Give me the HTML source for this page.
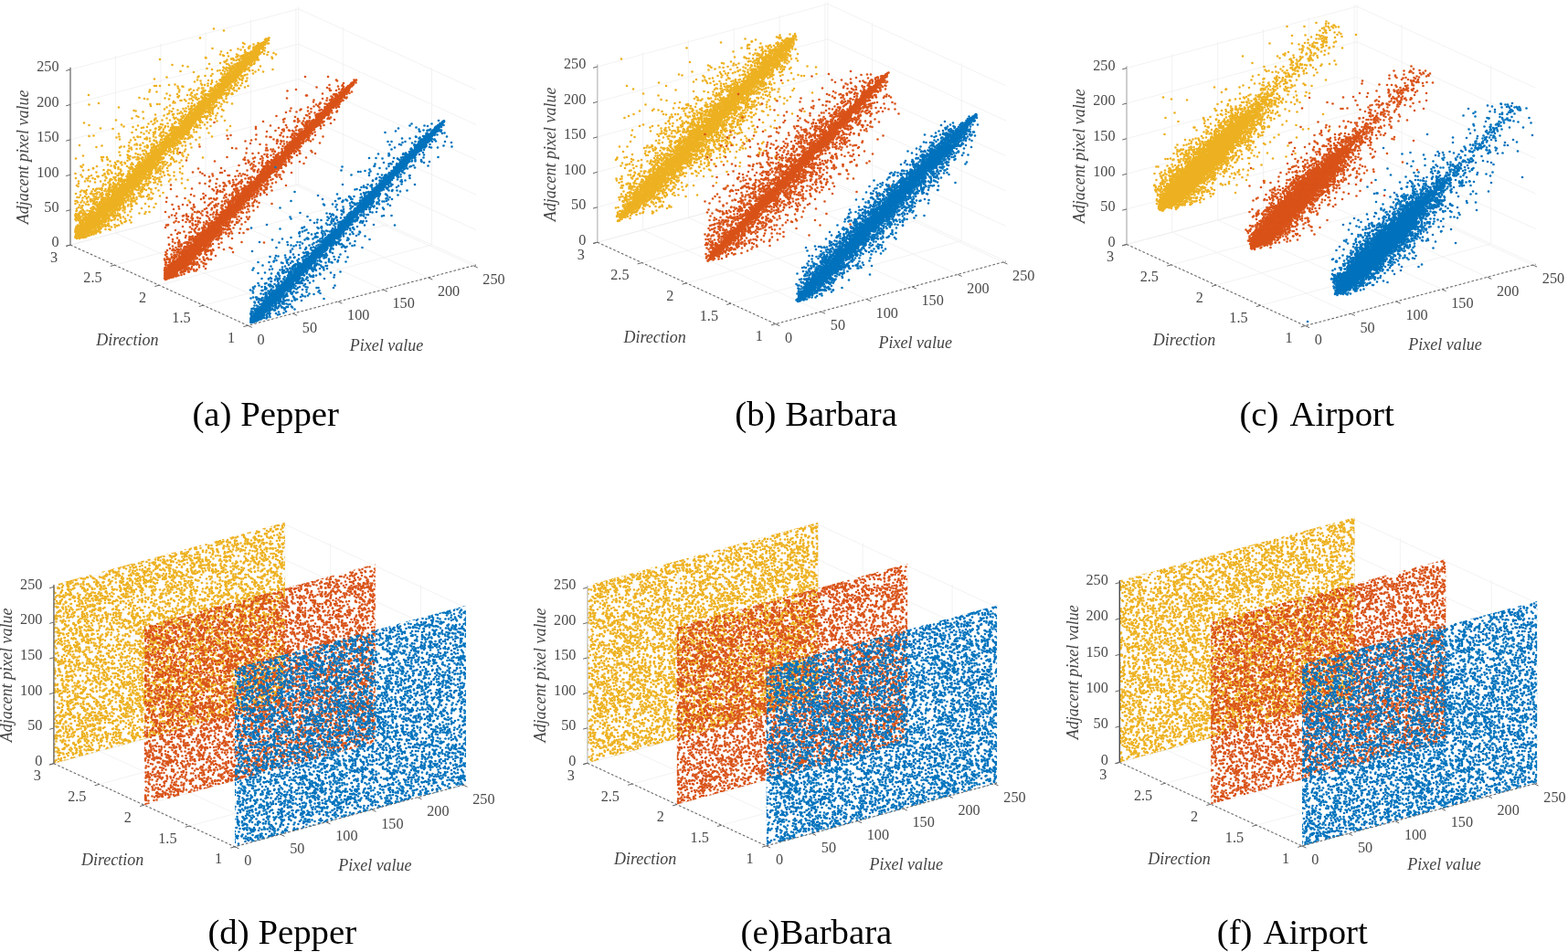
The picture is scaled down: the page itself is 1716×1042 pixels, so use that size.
<!DOCTYPE html><html><head><meta charset="utf-8"><title>Pixel correlation scatter plots</title><style>html,body{margin:0;padding:0;background:#fff}svg{display:block;filter:blur(0.4px)}</style></head><body><svg width="1716" height="1042" viewBox="0 0 1716 1042"><rect width="1716" height="1042" fill="#fff"/><defs><marker id="mb" markerUnits="userSpaceOnUse" markerWidth="6" markerHeight="6" refX="3" refY="3" overflow="visible"><circle cx="3" cy="3" r="2.60" fill="#0072BD"/></marker><marker id="mo" markerUnits="userSpaceOnUse" markerWidth="6" markerHeight="6" refX="3" refY="3" overflow="visible"><circle cx="3" cy="3" r="2.60" fill="#D95319"/></marker><marker id="my" markerUnits="userSpaceOnUse" markerWidth="6" markerHeight="6" refX="3" refY="3" overflow="visible"><circle cx="3" cy="3" r="2.60" fill="#EDB120"/></marker><pattern id="py" patternUnits="userSpaceOnUse" width="173" height="131"><path transform="translate(-3 -3) scale(.5)" fill="none" stroke="none" marker-start="url(#my)" marker-mid="url(#my)" marker-end="url(#my)" d="M9 3l2 3 3-2 14 6 6-2 1-2 5 4 12-1 4-5 4 6 2 1 3-4 2-1 3 3 5-3 4 0 0 4 1-2 2-3 0 4 1 2 3-6 1 6 10-3 5 0 2 2 0 1 3-3 1 3 1-5 5 3 1 0 3-7 6 6 2 0 2-5 9 0 3 8 2-3 4-5 1 0 11 5 2 0 5-4 3 1 2-2 0 1 7 2 2-2 1 5 4 2 4-5 3-2 2 7 2-5 1 1 3-1 0 5 8-4 2-1 1 5 5-3 1-4 0 6 3-3 1-4 1 7 2 1 2-3 4-2 2 0 3 0 2 4 1-7 1 3 5 2 1 2 3-1 14 0 2 2 2-9 1 1 3 3 2 0 10-2 1-1 4 0 1 8 1-9 7 7 4-4 12 4 5 2 1-4 1 4 7-7 0 1 5 3 1-4 7 3 7 4 3-1 7-7-6 16-4 4-2-6 0 1-2 4-3-8-2 1-11-1-1-2-7 2-9 0-6 8-3 0-3-7-4 4 0 4-1-7-3 4-6-3-5-4-2-1-5 1 0 3-5 5-7-9-4 0-1 6-1-3-1 1-5 0-2 0-8 0-9-4-2 5-1 1-1-1-4 0-5 4-3 0-2-2 0 4-4-2-2-9 0 8-4 3-2-2-3-5-7 2-1-2-1-3-4 4-1 2-1 4-1-10-3 8 0 1-5-10-8 6-1 0-5 5-5-8-1-2-1 2-4 4-7-7 0 4-1-1 0 2 0 1-4-1-2 0-1-5-5 5-1 1 0 1-3 0-12 2-1 2-7-1-7-6-1 3-4 4-4-3-1-3-6-3-1 1-1 1-1-3 0 5 0 2-2 3-10-9-1-2-5 1-7 4-1 5-7-10-10 5-1 6-1-5-2-2-2 3-3-2-3-4-4 0-5 1-8 5 3 9 2-3 0 5 1-4 0 8 6-7 3 5 4-8 2 11 3-1 1 0 5 0 5-5 0 5 1 1 6-8 1 2 2 4 4-2 1-1 4 0 2-3 0 8 1-11 1 8 2-5 1-2 2-1 6 0 4 7 8-2 3 1 0 3 9-9 1 4 0 6 5-5 3-2 2 4 1-4 0 6 1 1 3-6 3 6 6-6 0 5 1-1 2-8 5 0 2 2 2-1 2 9 2-2 2 2 4-9 0 1 1 3 6-4 0 10 1-6 0 2 7 0 0 3 3-8 2 3 2 2 9 0 4-1 5-1 2-5 2 11 2-11 3 1 0 3 0 4 2-3 4-4 5-1 0 10 5-2 1-1 3-7 0 8 1-2 2-1 6 2 2-4 0 5 1-4 2-1 0 3 0 3 6-5 3-2 17 4 2-1 6-5 0 6 1-5 1 0 1 6 4 1 9-2 5-5 7 3 8 5 2-6 0 1 3 4 5-4 5-2 3 5 0 1 4 0 5-8 9 2 5 9 1 0 3-1 11-6 2-3 0 5 1-4 0 8 0 6-1 1 0 6-5-9-3 6-1-4 0 1-1 0-1-3-1 0-7 6-1-6 0 3-4 2-2 2-7 1-1-8-8 8-4-2-1-6 0 2-1 1-1 2-1-2-1 6-4-1-1 0-1-6-1 6-1-9 0 5-1 2-5-7-1 3-1 0-16-2-1 5-1-4-2 6 0 1-1-9 0 2-5 1 0 6-1-8 0 6-1-7-4 1-1 4-6-1-5-1-2 4 0 1-3-8 0 5-1-5-1 1-6 5-8 0-4 2 0 2-1-3-4-5 0 4-5-1-1-6-1 6-2 3-7-3 0 5-1-9-4 6 0 3-2-7-2 6-1 1-1-10 0 4 0 3-9 2-7-10-2 8-1-5-1-2-1 10-2-6-2 5-5-5-2 3-1-7 0 1-7 1-1 6-6 2-2-3-3-8-1 9-2-8-2 6 0 1 0 1-3 1-3-2-8-5-1 4-5-5-2 1-2 7-3 0-6-3-5 1 0 1-3-9-11 1-2 1-2-2 0 6-1 3-1-8-6 6-5-7 0 1-6 3-6-2-3 2-1 7-1-5-1-6-6 8-1 3-9 0-3-9-3 8-3-3 0 2-3-5-1 1-2 3-1-1-1-3-1 1 0 6-5-9 6 12 3 8 5-10 1 10 1-4 2-5 5 6 3-6 0 4 5-4 3 0 0 7 3-5 1-2 1 8 2-1 2-1 2-5 0 4 2-2 6 0 0 1 2-1 3 6 5-4 3-2 3 4 6-7 2 4 4 1 2-2 2-4 0 9 5-4 2-2 2 3 1-6 4 8 3 2 8-4 0 3 1-2 1-1 1-6 2 5 2-4 5 1 1 1 3 6 1-7 0 1 9 4 3 4 1-3 1 1 1-4 4 3 4-8 4 0 0 7 20 2 1-3 0 5 3-8 1 6 3-7 1-2 5 4 1 4 3-4 1 7 2-4 2 1 9-2 2 2 1-7 6 3 1 2 1 0 6 2 1-5 0 2 0 4 1 0 1-2 2-6 1-1 6 0 2 4 0 5 1-8 10 5 1-5 3 9 1-10 3 5 3 1 4 5 2-8 1-3 4 5 4 3 1-2 2-2 2 3 1-1 4 1 0 2 3-1 1 2 6-8 2-2 0 2 1 1 0 4 2-5 6 9 2 0 3-11 0 7 0 1 1 0 4-2 2 3 1 1 2-5 2 6 3-6 2-2 2 2 1-5 1 4 5 1 16-3 1 12-3 0-3 9-3-3-1 2-5 0-2-3-1 0-1 3-3-5-2-3-5 2-2 0-2 4-3-6-6 7-1-9-4 2-1 2-3-1 0 1 0 2-2-1-3 0-1-5-4 10-2-3-3 0-1 3-1-9-3 10-5-3-1 0-2-5-2 3-1-6-2 10-3-9-2 7-4-7-2 0-6-1-4 11-1-4 0 1-3-8 0 3-6 8-7-4-6-1-4 1 0 4-2-10-14 4-2-5-2 10-3-4-1 2-3-7-2 7-4-3-6 4-1 0-4-1 0 1-2-9-6 4-1 1-1 0 0 6-3-11 0 1 0 1-6 9-5-6-3 2-1 0-2-3-1 0-1-2 0 9-17 0-4-1-2-7-4 2-1-3 0 4 0 2-5 0-2-8-1 3-7 1 0 4-2-8 0 9 0 1-9-4-3-5-1 3-1-3 0 4-12-3-2 4 0 4-2 0-2-2-1-8-4 6-2-6-1 11-1-7-1-3-4 2-1 8-1-10-2-1-2 7 0 2-1 0-1 0-3-8-1 7-4-3-4-5-3 3-1-3-9 7-2-4-4 4-1-7-3 3-1 6-2-9-1 2-3 0-3 9-2 9 6-6 3 2 4 0 3-4 5 4 1 0 0 6 2-5 1 4 2-1 3-5 5 8 1-2 13-6 5 1 2 3 1 0 3 4 4-2 1-3 1-5 1 10 1-5 1 3 6 2 7-10 4-1 0 7 3-5 0 8 3-2 2 2 4-9 6 10 2-7 3 3 1 2 2-5 1-4 2 3 1 6 4 1 2-9 0 7 1-1 6 0 1 2 2-7 1 3 1 5 3 0 4-8 1 9 2-11 0 2 10 8 2-7 3 3 2-4 2 8 7 1 1-6 1-4 0 2 0 1 0 5 7-9 0 6 1 3 0 1 1-5 1 6 7-8 4 2 4-3 1 2 4 0 2 0 1-3 1 10 2-8 8 2 4-1 16 7 1-9 4 6 2-6 5 0 0 7 4-6 9-1 2 4 17-6 9 5 1 3 6-4 1-1 5 4 0 4 4 0 1-7 1-3 3 8 1-7 3 9 3-7 0 4 5-6 1 2 2 6 5-7 0 8 8-8 1 0 1-2 5-1 0 8 6-6 2 16-1-1-3-1-1 2-2-6 0 5 0 2-1 3-1-6-5 3-3-5-2 8-2-8 0 5-2-2-2-3-2-2-2 9-1-9-2 6-2-2-5 0 0 4-2-3-5-5-21 4 0 1-4-5-4 0-1 4-5-1-9-2-2 9-1-5-6 2-8-5-8-1-1 1-2 3-8-4-3 3-1 3-2 4-2-2-1-1-1-8 0 8-7 3-2-11-2 11-2-9-2 8-6-5-1-3-1-2 0 11-1-9-1 1-1 3-5 1 0 3-3-6-1-4-4 3-1 0-8 8-3-2-1 0-1-9-1 2 0 9-3-2 0 1-8-6-3-4-4 8-1 0-2-7-5 9-4-7-2 1 0 7-10-6-2 6-1-5-6 4-2-3-7 1-1-4-2-2-2 7-12-5-1 6-3 1-1-6-8-1-1-1 0 3-1-5-3 6 0 4-5 0-1-10-5 0 0 1-5 5-1 0-3 4-11-3 0 1-10-1-4-5-1 7-1-9-1 4-4 3-2-8 0 7-4-4 0 4-2-3-1 2-1-1-3-1-1 2-2-6 0 5 0 2 1 13 0 1 4-1 4-7 0 1 0 9 4-3 1-4 0 4 2-3 2-4 1 10 2-3 8-2 5-5 1 5 1-5 4 2 3 6 6 1 2 0 1 1 9-3 6 1 3-2 1 2 7-6 9 8 1-9 2-1 2 6 1-2 0 3 2 3 1-4 0 3 1-9 3 3 2 6 7-9 1 6 5 0 5 3 2-6 1 2 3-4 3 7 2-3 3 3 1-7 2 1 1 2 0 6 6-2 1-6 5 0 2-1 2 5 15-1 2 1 1-2 1 6 3-2 0 1 6-10 1 4 4-2 4 4 1-1 2 2 2-6 0 3 0 2 0 1 1 1 2-7 2 1 2 5 5 0 4 2 9-2 1-5 1-2 0 3 3 7 2-10 5 2 8 9 5-11 12 1 1 0 3 4 2 5 0 1 4-8 0 1 4-4 1 0 5 7 0 3 5-5 0 1 3 1 12 3 2-8 4 2 2 6 3-7 0 7 1-7 1 0 0 2 4 4 1-1 16-4 1-1 0 2 4-4 1 2 0 4 1 1 3-6 0 5 1-2 1-2 3 5 0 1 4-1 0 5-1 7 0 1-4 0-3-1-1-4 0 2-2-2-3-1 0 2-3-1-3 5-1-9 0 7-2 3-1-7-4 4-3 3-1-1-1-3 0 4-3-2-4-3-2-2-5 7 0 1-1 0-5-10 0 7-1 0-4-7-1 8-3-8-2-1 0 7-2 4-3-11-1 1-5 4-1-4 0 4-3 4-5-9-2 8-1-8-1 8-2 1-2-9-1 4-7-3-1 7-1 0 0 3-6-10-1 0-3 1-3 5-2-3-1 2-5-2-5-4-2 4-1 3-4-4-2-1-1 6-3-7-1 0-11 5 0 5-2-6-4 0 0 5-14-2 0 3-1-6-1 2-1 1-3-7 0 3-1-4-2 2 0 3 0 6-2-7-2-4-5 7-2-2-1 3 0 1-1-8-4 0-2 4-2-3-3 2-1 4-1 2-2-1-2-9-13 7-3-4-4 2-1-2-6 5-2 3-3-5-1-5-1 8-2 2-1-8-3 4-6 2-1 0 0 1-1-5-3-3-1 2-3 1 0 4-3 0-2-8-4 7-1-6 0 8-1-1-1-4-2-1-3 0-1-4-3 3-2 1-2-1 0 3-3-1-3 1-1 3-1-1-2 0 0 2-1-6-4-3-8-1-1 5-1 3-3 0-4-1-1-3-3 4-5-2-3-4-1 1-2 4-7-6-1 7 0 1-4 0 4 4 11 9 1-7 2 5 1-7 9 7 3-8 4 9 2 1 13-8 2 2 8-4 1 1 0 10 11-1 1-4 10 0 3-1 4-3 6-2 0 7 5-2 2 2 2 3 1-6 2-1 0 7 2 0 9 0 1-6 5 3 4-2 2 6 12-1 3-8 3-2 3 7 1-2 1-5 1 2 1 0 1 7 5-7 2 7 5-8 4 0 4 2 1-1 6 1 2 1 1 5 1-8 1 7 2 2 9-6 4-1 13 3 2-5 2 2 2-1 0 9 1-8 0 8 13-5 0 1 4-7 0 6 0 5 4-9 9 0 1-1 2 9 7-1 5-4 2 3 5-6 11 4 3-4 7 4 3-4 1-1 1 2 4 2 2 0 0 2 1 3 1-2 0 3 1-9 1 9 1-6 4 1 1-4 2 0 1 6 0 2 1-8 2 0 1 4 0 5 7-10 4 0 0 6 1 0 3 0 2-5 1 2 7-3 1 16-2 3-6-1-1-7-5 7-10 0-7-5-1-1-3 10-1-7-5 6-4-4-7 0-6-1-1 2-4 4-2-10-4-1-1 10-1-7-1 0-3 0-5 0-2 6-1-8-1 3-4 6-10-6-3-3-1 10-1-8-2 1-4-2-9 5-1 1-2 1-1-9-4 8 0 2-4-1-3-3-3-4 0 2 0 4-1-7-2 2-5 6-7-2-1 4-2-4-2-1-1 4-1-7-2-1-14-1-2 9-2-7-1 7-1-1 0 2-3-8-2-1-2 3-3-4-6 7-6-8-3 11-1-5-6-4-1 6 0 2-7 1-5-4-1 3-2-5 0 1-2 2-7 0-3 2-3-2 0 1-3-1 0 3-1-1-5-6 0 1-5 1 0 2 0 2-3 1-2-9 0 7-1-9-7 9-8-1-5-5-1 4-2 1-2-4-1 2-2-4-7 2-1 0-8-4-2 3-6-3-5 8 0 1-4-6-2 5 0 3-7-9-10 2-3 1-2 3-2 5 0 9 6-4 1-6 2 4 4-1 1-3 2 9 1 2 1 0 4 0 1-8 2 7 2 1 3-5 1-3 0 6 10-9 0 3 1 6 7-7 1-2 0 5 2 5 8-6 2 6 2 0 1-7 2 3 2-6 15 1 0 4 6-1 3 0 1-2 0 6 13-2 6 2 6 0 10-8 0 2 1-1 0 7 1-6 2 4 1-6 1 1 2 4 3-4 1 3 3-4 2 9 1 1 5-10 1 10 1-4 2-5 1 10 2-10 1 1 4 5 3 4 1-2 2-6 1 3 3 2 2-4 0 2 1-1 6-2 4 6 0 1 5-7 0 2 5-3 0 3 1-1 3-1 0 1 2 0 1 2 2 5 1-6 0 3 4-5 2-1 0 7 4 0 5-8 2 10 2-3 0 3 3-8 3-1 1 4 2-3 5-1 6 2 2 2 2-1 2-1 13 1 2 3 2 3 4-6 2-1 0 2 2-3 6 0 3 2 1 4 5 2 3-11 1 8 1 2 12-3 6-3 0 4 3-4 1 3 2-2 3 0 1-3 1 3 3-2 0 7 1-3 3 0 2 3 4-3 2 1 2-7 1 0 0 1 2-1 0 9 5 9-1-3 0 7-1-7-7 2-2-4-4-2-12 7-2 1-1-6-8-1-2 7-3-1-2-6-2 2-2 5-1-8-5 8-1 2-3-6-4 0-5 2-2-6-5 1-2 8-2 0-1 0-1 1-1-1-1 1-1-10-1 11-2-5-3 2-2-6-6 0 0 2-5-2-1 1-6-1-1 2 0 5-2-8-3 4-5 3-3-3-8-1-1 4-2-6-2 7-1-9-4 8-6-1-9-6-2 6-4-1-2 1-3-3-1 5-4-6-1 2-3-4-1 6-7-2-3 5-3-2-3-4 0 6-3 1-6-1-3-9 0 2-11 8-2-4 0 1 0 1-1-5 0 1-8 5-1-3-1-4-3 0-5-1-1-2-4 7-1 4-7-4 0 3-5-8-5 9-3 0-1-7-1-4-2 4-1-4-8 0-1 3-2 2-3 5-3 1-4-10 0 3-8-4 0 10-13-2-1-8 0 1 0 5-1-5 0 5-1-5-3 9 0 1-3-9-1 7-1-2-5-2-2-3-3 4 0 5-1-7-2-2-5 3-3 6-1-4-2 0-1-3 0 7-1-7-2 12 0 1 1-2 1 7 1 1 2-11 2 9 3-9 0 5 4 3 2-7 1-1 2 1 3 0 5 5 0 1 3 1 1 3 1-11 3 8 2 0 1-7 1 5 2-2 11-3 0 1 1 0 1 7 1-7 4-1 0 4 0 1 0 3 2-5 2 3 1-5 0 6 5 3 1-5 4 1 7 4 1-7 5-1 0 7 5-6 0 5 14 1 8-10 3 9 3-5 1-2 6 5 5-1 5 1 9-5 0 8 1-2 0 1 1-9 1 7 0 3 3-1 3-1 3-1 1 2 1 2 4-7 3 3 10 0 13 1 2-6 1 0 6 1 1-2 7 6 1 4 2-1 6 0 1-5 2-4 5 10 1-10 3 4 1-5 0 6 0 1 3-7 2 10 1-6 1 3 8 2 4-7 4 0 1 7 2-7 4 2 0 4 3-1 8 3 1-7 9 7 2-4 0 3 3 1 1-7 0 7 8-9 8 0 1 7 0 3 1-4 4-3 3-2 0 3 1-3 0 8 2-10 6 7 9-6 6 0 7 4 0 3 0 1 1-3 3-2 0 1 1-2 1 7 1 1-2 1 0 4-6-1 0 7-1-1-3 0-3 1-6-7 0 8-2-8-4 5-7-6-1 5-1-6-2 5-1 5-1-11-3 4-1 7-6-7-3 2-1-6-3 8-1-2-4-5-1 0-1 7-3 2-4-1-5-7 0 7-6-3 0 4-4-6-4-2-7-2-5 10-2-3-4-5-2 0-1 2-1-3 0 1-3 3-2 1-1-3-1 0-2-1-5 5-2 2-4-7-2 9-2-3-1 1-1-5-2-1 0 2-1-4-3-1-1 7-6-2-1 1-2-3-2-3 0 5-3 3-1 2-1 1-6-4-8 2-1-1-1-1 0 4-8 0-5-5-1-2-6 2-2-1 0 3-4-4-6 3-3-5 0 2-2 1-13-4-7 7-3-4-1 7-2-7-1 2-2-4 0 1 0 2-7 2-1-4 0 3-4 2 0 3-2-10 0 1-1 1-1-2 0 3 0 2-4 2-1-8 0 10-4-10-2 11-2 0-1-6-1 6-2-6-1-4 0 2-7 7-1-7-5 1-2-2-2 4-1 0-2 1-4 0-2-2-4 5-3-8-5 5 0 1-4-2-1 2-1-4-6 1-1 0-4 6-1-4-1 2-1-6 0 4-1 4-1-8-1 6-5-4-5-5 0 4-4 15 0 1 0 2 1 0 2-4 0 3 3-5 1-2 1 1 7 8 7-10 0 7 4-4 1-1 0 6 1-6 1 6 2 1 1-7 0 1 13 4 5-6 1 0 5 4 0 2 4-7 2 0 13 3 1 7 2-3 2 0 2-7 1 5 1-4 10 2 0 3 3 1 1-4 2-1 0 8 1-1 3-7 2 7 2-7 4 0 1-1 0 7 2-9 1 4 1 5 5-7 2-1 0 4 1-2 4 1 1-2 11-2 0 4 2 3 0 3 3-1 2 0 1-6 1 0 3 2 10 2 5-2 1 6 3-6 0 1 1-6 1 8 2-1 0 2 3-4 8 3 5 2 10-7 3-2 2 10 7-2 1-3 6-5 2 2 0 6 1-9 6 1 2 0 3 3 2 7 11-8 4 7 6-8 0 1 3-1 0 4 3 3 1 2 3-4 4-5 1-2 1 0 0 6 0 1 1 0 0 2 2-6 1 0 2 8 2-8 1-3 2 3 1-1 3 6 1-8 3 1 1 4 2 4 2-7 2 6 2-1 8-1 5-2 7 4 8 3 1-7 0 7 9-11 2 2 4 2 0 3 0 1 0 2 1 0 2-4 0 3 3-5 1-2 1 11-5 9-4 0-1-10-4 3-4 4-1 4-3-6-5-5 0 4-3 2 0 1-1-2 0 1-2 2-1-4 0 6-2-3-2-7-1 3-5-2-3 9-3-9 0 8-1 1-3-6-3 6-2-7 0 5-1-1-4 4-1-10-2 4-14 5-9-5 0 6-4-4 0 3-1-1-3-3-1 1-3 0-1-3-1-4-4 3-2 3 0 5-1-7-6 7-4-10-1 2-1 0-2 2-6-2-7 2 0 1-8 0-3-2-3-2-12 0-1-1-2 4-1-3 0 4-2 3-1 1-1-2-1-8-1 10-6 1-5-10 0 10-4-6-1 4-1-5-7 2-4-5 0 7-5-6 0 4-2 0-2-1-3 4-3 1-1-6-4 1-1-3-1-2 0 7-4-2-2 3-1-8 0 1 0 1-1 2-6-1-1-2-7 2-5 4-1-3-7 1-1 0-3 1-1 2-4-5 0 7-1-1-2-4 0 4-2 1-2-2-1-3-1-3-7 4-2-6 0 3-1 0 0 8-11-3-1 0-3-2-3-1-4 3 0 3-2-4-1-4-3 2 0 3-2-7-7 4-1-4 0 3 0 6-7 0-3-7-2-2-1 9-5-8-3-1-5 9-1 3 3 5 1-2 1-3 1 4 5-3 1 8 1-1 1-2 0 1 1 1 1 1 1-6 2-2 0 5 0 2 7-5 2 2 1 0 3-4 1 3 1 6 1-10 0 1 2 6 1-3 1 1 4-4 5 1 4 2 1 4 1-6 1 1 1-4 2 1 1 8 4-7 5 3 4 1 2-1 3 1 7 5 10-5 3-6 11 9 6-5 2 6 3-6 0 3 13-7 0 4 5 2 1 5 12-5 4-3 0 1 9 7 3-8 0 6 1-6 1 4 4-3 0 3 1-2 3 1 4 2 4 1 4 0 4-3 1-6 1 0 0 6 5-6 2 4 4 3 1 1 3 1 11-4 4 1 4 2 1-4 2 5 1-6 2-1 1 1 2-3 4 11 8-5 6-3 0 6 2-7 5 1 2-1 4 6 1-4 1 7 2-3 9 1 3-7 2 6 2 2 1-9 0 1 9 7 2-8 1 10 3-10 0 7 4-4 1 2 0 1 0 4 5-7 2 2 1 5 1-1 1-8 6 0 2-2 1 0 4 5 0 6 3 0 3-4 2 1 3 2 3-9 3 5 1-2 1-3-4 11-1 6-4 2-3-2-1-1-5-2-1 1-3-3-2 2-1 0-2 0-2-3 0 1-1 5-3-2-1 3-1-7-7 1-2 6 0 2-3-7-2-1 0 8-1-7-3 5-6-4 0 3 0 5-3-11-3 1-1 10-3-3-1-3-2 3 0 2-3 1-4-8 0 7-3-4-1-1-1-2-2-1 0 3-9 0-9-3-3 2-1 4-1 0-2-7-1 10-10-7-1 1-1 0-5 6-2 0-3-6 0 1-2-1-1-2-1-3 0 6 0 3 0 1-5-6-12 5-1 0-3 0-7-6 0 7-1-4-5 3-6 0-1-2-3-7-1 0 0 8-1 2-6-5-2-5-2 3 0 4-1-6-1 7-3-4-2 2 0 5-1-8 0 2 0 5-6-8-6-1 0 7-5 1-5-4-6-2-2 4-10 0-11-1-7-5-3 0-4-1-6 6-2 4-1-9-1 4-1 4-2 2-2-9-2 4-4-4-1 7-1-1-1-6-1 9-7-2-1-4-3-1-2 7-2 0-4-5-4-3-4-3 0 9-3-2-5 4-1-8-3 2-1 5-18-10-1 6 6 15 7 2 3-3 5-5 2 5 3-6 0 1 1 8 3-6 0 3 3-6 0 7 1-5 4-4 0 3 3 0 3 4 1-7 3 7 3 4 1 0 1-1 1-5 5 6 1-2 0 1 2-9 3 4 7-3 2 2 1 6 4-7 1 5 2 3 4-1 1 1 1-8 12 4 7-1 2-3 1 1 4 4 4-1 1-4 0 2 1 1 9-2 0 2 3 0 6-2 0 6 0 1 2-11 10 2 0 6 2-7 0 2 0 7 1-2 5 1 4-2 1-7 0 6 2-1 14-3 3 4 1-2 3 2 0 5 2-2 5 1 1-2 4-6 1-1 4 4 1 3 5-1 6-5 6 5 2-5 0 7 1-5 4 3 1-6 1 6 1-6 3 5 13-3 1 5 2 1 1 0 2-1 5 1 6-9 0 3 1 8 1-6 1 3 7-2 0 2 2 0 1 2 1-3 1-1 2-2 1-2 3 5 2-4 1 3 2-1 0 5 2 0 3 0 0 1 5-3 5-6 3 2 1-1 0 8 1-11 2 5 0 3 2-2 0 3 1 1 6-10 1 2 7 1 2-1 1-1 2 3 0 7 3-10 1 8 3-6 0 8 2-3 9 1-12 11-3-3-1-4 0 3-2 5-15-2-6-4-1-1 0 7-1-7-8 8-7-8-2 5-3-5-4 1-5-2-1 6-3-7 0 5-1 4-1 2-4-5 0 5-3-3-1 0-2-8-15 6-4-3-2 8-3-5-4 5-2-6-1-3-1-2-1 2-6 9-1-1-2-5-2 4 0 1-1-5-2-3-2 4-4 5-1-1-2-6 0 6-1 1-3-8-3 0-1 7-2-4 0 1-1 2-2-2 0 4-4-6-3 4-1-8-12 7-2 2-1 1-2-6-9 6-5-3-1-3-1-1-1-3 0 8-1-1-3-1-1 0-4-3 0 5-5 0-5-7-1 2 0 7-4-2-4 1-4-6-3-4 0 3 0 2-5-5 0 5-3 6-1-3 0 3-5-7-2-1-5-2-5 7-8-8-1 0-1 5-1-5-7 9-1-5-2-3 0 5-14 2-4-5 0 4 0 1-4-3-5 6-2 0-2-9 0 9-5-7-8-2-3 3-1 0-2-5-3 9-1-4-6 1-2-1-2 5-1-4-1 5-2 2 2 3 3-2 20 4 1-2 17 3 4-5 9 3 2-1 3 3 4-7 1 4 4 0 1 2 2-3 0 4 4-4 11 3 5 0 5 0 2-2 5 3 1 0 3-7 6 6 2 0 2-5 9 0 5 5 1-6 3 1 1 0 11 5 2 0 5-4 3 1 2-2 0 1 7 2 2-2 1 5 8-3 3-2 4 2 1 1 3-1 3-4 5 5 2-1 6 2 1-4 0 6 3-3 1-4 1 7 4-2 4-2 2 0 3 0 2-4 0 8 1-7 1 3 3-4 2 6 1 2 3-1 5-7 9 7 4-7 1 1 3 3 2 0 6-4 4 2 1-2 0 1 4 0 2-1 5 0 2 7 4-4 8-3 4 7 6-2 8-3 0 1 5 3 1-4 7 3 10 3 7-7"/></pattern><pattern id="po" patternUnits="userSpaceOnUse" width="173" height="131"><path transform="translate(-3 -3) scale(.5)" fill="none" stroke="none" marker-start="url(#mo)" marker-mid="url(#mo)" marker-end="url(#mo)" d="M4 11l23-9 2 8 3 0 5-4 1-2 5 6 7-4 5 3 3-5 5-2 6 2 23 7 2-7 5-1 3 4 2-3 2 3 0 1 4 2 4-7 9 5 1 3 3 0 3-7 0 6 1 1 5-4 4 1 0 3 3-7 4 4 1 0 3-3 1-2 2 6 1-2 1-4 1 6 1-4 0 5 2-3 7 1 2 2 3-4 3-1 3 2 4 4 23-3 2-5 11-1 2 3 0 5 2-8 3 4 0 5 4-3 3-1 4-1 2-3 1 5 0 3 4-7 6 5 2 0 5-3 5 5 13-6 4-2 1 1 2 5 2 2 4-4 0 4 1-8 12 0 1 0 0 4 10-3 4-1 1 3 5-2 4 3 4-3 8 1 1-3 2 8 3 0 0 1 3-8 1 7 3 1 5 7-5-3-1-2 0 5-1-3-1 6-2-6-15 1-4-4-6 6-1-4-2 7-1-3-4-4-7 3-4 0-2-3-1-2-7 11-2-7-1-3 0 8 0 1-1-1-2 0-2-3-5-2-1 5-4-4-5-5-6 8-1-7 0 7-9-6-2-1-1-1-1 3-6 2 0 1-4-1-1-4-2 6-1-2-1 5 0 1-1 0-2-4-9-7-6 1-2 3-1 1 0 1-1-5 0 9-1-2-6 3-8-11-1 11-1-11 0 4-1 4-2 3-1 0-4-3-4 1-6-1-7-8-4 4-3 3 0 3-1 1-2-10-4 6-1 4-3-11-1 0 0 2-3 1-10 6-1 1-2-3-2-7-2 2-7 2-1-3 0 3-1-4-2 5-2 4-4-2-1-6-3-1-2 7-1 1-4 3-1-8-7-1-2-1-14-1-3 7-3-6-5 9-2 1-1-9-4-2-2 1 0 9-5 0-2-5-1 0-1-5-1 7 0 2-2-3-8-2 0 3 0 2-1 0-2-9-6 0-1 2 0 5-1-3-2-1-6 3-5 0-4 4-1-4-5-3-1-2 0 5-1 6 1 11 4-7 0 1 2 2 0 3 1-5 1 3 2-8 0 9 7-9 0 3 2 7 0 1 3-2 7-8 2 8 8-6 0 1 2 7 1-1 6-2 3 0 2-2 0 4 1-1 2-6 1 8 2-8 12 6 4-8 0 6 2 0 0 4 4-3 2 1 3-5 10 0 1 6 0 1 1-10 4 3 2 4 2-1 1-2 2-2 0 3 1 0 1 0 5 5 2-7 2 5 0 1 6-9 0 9 1-8 2 2 1 2 2-4 3-1 1 4 1-1 0 6 1-7 2-2 1 2 1 8 9-7 4 1 0 1 5-6 5 11 3-4 3-6 5 6 0 3 4-3 0 4 2-2 6 2 1-11 7 5 1-3 7-2 4 3 0 2 1 0 8 4 1-7 4 6 2-2 1-2 1 1 2-5 2 0 2 0 0 6 1-2 4 1 4 0 5 4 1-8 2 1 0 3 3 2 10 3 1-3 6-6 5 0 0 7 0 1 4-9 0 5 4-4 1 6 1-6 3 8 1-8 1 0 8 10 12-5 0 2 1-6 0 2 0 2 3-3 0 5 0 3 1-1 2-2 3-5 6 0 0 6 7 0 4-3 1 2 1-5 0 1 5 5 2-9 1 11 4-7 0 1 2 2 0 3 1 13-1-10-7 0-4 7-4 0-2-1-10-5 0 4 0 3-1 2-3-3-1-8 0 5-5-5-2 9-2-3-1 1-1-1-1-1-1 4-2 2-6-9-8 0 0 6-1-3-7 5-8-7-3 5-5-7-1 1 0 9-1-2-1-3-2-6 0 3 0 8-4-9-1 2 0 1-8-5-6 9-9 0-9 1-2-10-1 8-2-7-1 5-3-6-1 2-9 0 0 4-2 2-2 2-8-2-3-2-1 4-2 0-3-1-1-4 0 2-19 3-1-3-1-2 0 4 0 2-1-7 0 2-1-4-1 2-2 0-1 4-4-2-1-5-6 10-11-5-7-3-1 6 0 1-9-2-4-7 0 9-2 0-1-1-1 2-6-7 0 4-1-3-1 2-3 2-1-4 0 2-1-7-6 7-1 3-12-7-2 4-1-6-1 4 0 1-2-6-3 7-3-3 0 1-5 4-4 1-1-2-1 1-2 1-1-6 0 3-3 3-2-4-1 2-1 2-4-8-2 4-6 0-4-5-1 6-5 0-10 1-3-2-2 4-1 1-1-10-7 0 9 15 4-4 0 2 0 1 3 2 1 3 1 0 1-2 2 5 6-2 0 2 1-1 3 0 2-7 1 1 0 6 1-10 4 1 10 1 4 2 1 5 6 0 0 2 1-5 11-6 6 10 3-6 3 6 4-8 0 3 3 5 2-5 2 6 1-4 6-7 3 7 1-3 1-1 8-1 0 3 9 5 3-2 3-6 5 3 1 1 3 5 8 0 1-4 1 0 0 2 1-7 3 8 5 0 2 0 6 0 1 0 3-5 7 2 1-7 7 8 0 3 2-7 1-1 1 4 7-6 10 1 0 7 1-8 6 0 12 9 2-7 2 7 4-4 1-6 1 6 4 2 6 2 2-8 0 2 2-3 1-1 1 0 6 4 1 4 0 1 7-5 1 0 0 1 1-2 2-2 4 1 5 9 6-5 0 2 0 3 6-1 3-6 3 2 0 5 4-4 5 4 2-3 2-5 1 0 1-3 1 0 3 6 11 5 4-3 1 1 3-9 5 7 4-1 9 14-4-7-2 7-2-2-5 1-4 2-1 1-1-7 0 3-1 1-6-5-4 1-1-2-1 10-3-7-1-4-2 4-1 6-2 1-1-11-1 11-4-5-10-5-1 0 0 10-1-11-7 4 0 5-5-6-4-2-3 2-2-3 0 7-4-2-3-3-6-1 0 9-2-4 0 2-6-1 0 3-1-2-7 1-4-9-1 1-2 9-3-4-2-1-5 6-8-11 0 1-1 8-2-4-3-1-1-4-3 8-1-7 0 3-1 1-6 2-1 0-2-1-1 1-2 0-6-1-2 3-4-6 0 2-1 4-1 2-9-8-2 3-7 5-5-5-2-3-3-2 0 2 0 2-1 2-2-1-2-6-2 1-1 1-5 3-1 0 0 5-2-2-2-5-3 6-5 1-3-7-5 7-1-10-6 10-3-7 0 8-1-1 0 1-5-2-3-4 0 3-1-1-2 2-1 2-2-11-2 2-2 5-9 4-8-6-3-5 0 6-1-1-1-4-2 5-1-5 0 10-1-4-2-4-1 3-7 4-2-4 0 3-4-6-3 6 0 1-3 1-2-3-1-3 0 1 0 5-2-6-3 6-4-1-2-7-1-2-1 2-4 1-3 5-6 2-1-3-5 0-4-7 5 14 0 6 1-3 1 1 2-4 9 3 6 2 9-4 4 5 3-3 1 0 0 4 9-10 0 2 3 5 8 0 6 4 2-9 1 7 0 2 3-2 2 2 1-9 0 3 3-4 2 3 8 1 2 3 0 3 2 0 3-7 2-4 4 11 1-2 1-9 1 4 5-4 5 11 10-6 4-1 0 6 3-1 2-8 6 1 2 7 2-6 4 7 1-5 4-1 1 5 4-9 3 1 1 8 1-6 6 0 1 6 4 0 2 0 1 2 3-3 2-4 2-2 5 5 1-6 0 10 4-8 9 3 4-2 4 4 4-3 6-2 3 4 2 4 3-4 2-4 2 0 3 0 1 6 2-2 1 3 2-7 3-3 1 9 4-2 2 1 5-8 1 0 1 11 1-2 2 0 4-5 3 0 2 4 6 0 2-2 4-2 0 1 9 4 4-8 0 6 2-6 0 1 1 6 0 2 1 1 6 0 3 0 3-3 6-5 2 1 1 1 2 4 5-4 0 4 4-1 1-6 0 3 3 6 2-10 2 4 4 1 7-3 0 6 1-3-3 15-1 0-2 1-1-3-4 2 0 2-2-2-2-7 0 3-1 6-6-8 0 1-1 4-3-2-1-5-1 4-1-5-1 0-1 10-2-10-14 10-1 0-2-5-1-3-6-2-9 6-2-1-3-4-3 5-1 1-1-6-2 2-1 2-1 5-3-10-2 6-5-6-2 0-2 6-16 4-2-5-1 3-1-7-1-1-1 8-2 0-1-3-2 2-4 4-3-8-5-1-2 8-3 0 0 1-1-4-4 2-9-3 0 3-1 2-1-8-3 7-6 0-2-7-1 7-2-7-2-3-8 10-2-7-8 5-2 2-8-2-3-6-13 8-1-3-2-5 0 5-2-3-1 0-4-4 0 1-1-1-2 9-7 2-3-4-1-2-2 3-11-5-1 1 0 4-4-6 0 1-2 2-1-5 0 1 0 2 0 8-2-6-4-3-10 5-2 1-2-8 0 11-1-6-8 5-1-6 0 6-8-5-9-3 0 4-1-2-4-4-2 7-10-1-2 5-1-3-1-4-2-1-1 0 0 6-2-2-2-6-8-1 0 2 0 2-2 7-2-2 0 1-3-1-1 0-2 1-1-3 2 12 2 0 2 0 6 4 1-2 1-6 1 2 3-1 2 5 2-3 1-1 0 5 2-4 0 4 3-8 1 3 1 2 0 1 1-4 1-3 3 3 1 2 1-2 3-3 1 0 2 9 1-7 1 4 8 1 2 2 1-6 4 1 7-1 1 7 1-2 4 2 1-8 5-2 0 9 4-10 0 4 1 0 0 7 9-9 6-2 4 0 6 7 1-7 0 6 2-5 4 3 1 1 2 6 1-4 2 1 2-4 4 0 1 6 15-9 1 8 4 0 3-3 0 4 5-6 0 4 6-3 0 2 2 4 6-8 8-1 0 9 11-10 1 6 2-6 1 4 4-1 0 5 1-9 3 2 2 9 2-9 1 2 1 1 4 5 2 1 2-6 3-2 0 4 0 1 0 3 2-9 0 1 0 2 0 6 1-11 3 11 3-10 1 4 2-2 0 2 3 4 7-3 1-3 2 8 6-8 2 7 1 0 1-7 1 7 2 0 1-9 0 8 1-7 2-1 6 9 7-10 1 1 2 4 2 3 3-2 6-1 6-5 0 4 3 3 6 2 6 0 1-9 0 2 1-2 0 10 5-6 4-4 1 3 6 4 1-5 5 8 3-10 1 11 3-9 8 5 2 0 2 0 1 11-9-1-3 4-2 0-1 2-10-7-5-1-1 4-12-5 0 3 0 4-1-4-2-2-8-1-1 8-3 1-3-7-3-3-1 2-1 0 0 5-2 3-5 0-1-3-3-6-1 1 0 7-4-6 0 2-2 2-1 3-8-5-1 0-10 2 0 1-7-7-12-1 0 9-4-7-3 1-3-2 0 7-3-1-8 3-2-10-6 7-1-7-4 10-3-4-6-6-3 5-1-2-4-3-4 10-3-9-3-2 0 4-2-1-12 3-2 2-1-6 0 7-3 0-3-4-3 2-4-4 0 6-2-8 0 2-4 8-1-11-2 6-3 5-2-11 0 11-8-5 0 5-1-5-1-3-1 4-6 4-5-11-3 4 0 3-2 4-1-7-2 3-5 3-3-1-9-1-7-5-7-2 0 4 0 5-3-5-3 0-1-3-7 6-4-6-9 9-4-8 0 7-8-9-5 10-1-8-4-2 0 7-4-1-4-1-5 11 1-3 0 3 2 1 1 2 4-2 2-6 4 6 17-4 2 0 1 0 1 1 4 6 5-4 8-1 1 6 3-8 0 3 1-3 5 8 1-5 10 2 5 0 3-6 9 10 3-5 3 0 2-5 0 10 2-6 1-4 0 5 0 3 1 1 9-6 1-3 5 0 4 9 2-4 2-5 9 8 4 1 2 0 2-1 4-3 1-1 3-3 3 1 0 1 1 3 1-4 4-3 1 7 2-7 0 7 2 4 4-7 2 5 3 1 3-4 2-4 0 2 1-1 3-1 4 1 2 2 3 4 5-5 3-3 1-1 1 1 0 9 0 1 1-9 0 9 3-7 0 2 0 1 2 0 2 3 2 0 5 0 1-9 1 6 4-7 2 9 6-8 3-1 9 7 5 2 0 1 4-9 9 6 3-6 0 1 3 0 6 4 2 2 4-6 2 4 1 1 2-4 2-1 0 3 0 6 1-4 1-4 0 4 1-1 2-6 0 3 0 1 0 7 2-10 5 6 3-1 1 0 2 5 7-4 10-2 2 6 3-7 0 4 5 0 3 3 2-7 3 6 4-1 4-4 1-3 0 3 2 1 1 2 0 8-3-3-1 7-4-6-2 0-6 7-5-5-1 0 0 5-1-8-2 0-1 0 0 2-3-3 0 2-1 3-6 2-6-4 0 3-4 5-1-9-2 9-11-1-2-3-3-1-1 4-2-7-9 4-12-5-2 1-2 0 0 1-1 0-1 0 0 3 0 3-2-3-5-1-4-2-2 5-3-1-5-5-2 4-4 1 0 3-3-11 0 1-5 8-1 2-10-8 0 8-4-10 0 5-11-1-1 4-1-6-3-1-1 0-1 1-2-1 0 1 0 2-3-2 0 5-1 2-2-5 0 1-1 1-2 0-1-5-2 0 0 7-1-8-1-1 0 2 0 9-1-2-3-9-1 1-3 2 0 8-1-2-1-8 0 7 0 1 0 2-4-11-2 6 0 2-3 3-3-1-4-7-3 4-2-5 0 3-3-4 0 10-4-11 0 10-2 1-5-1-7 1-3-5-5-3-1 4-2-1 0 4-6-5-4 5-1-3 0 2-4-2-1 0-2-5-6 3-1-5-5 10-1-3-2 1 0 3-3 0-2 0-6-2-1 2-3-9 0 4-5-3-5-1-1 1-3 4-4 0-5-7-2 4-3 6-3-5-1-3-7 1 0 4-1-7-9 4-2 3-2-2-2-4-1 3-3-3-1 7-2 4 0 7 7 1 9-6 0 8 0 1 1-6 2-5 2 0 10 9 0 2 2-8 5 4 0 1 1-5 3 4 0 2 1-8 4 9 7-7 0 6 4-1 1-1 0 2 1-4 13-5 0 6 1-1 1-4 0 5 4 5 7-1 10 0 6-9 0 7 2-5 0 5 1-8 0 6 4-4 2 7 5-4 2 5 3-10 1 4 1 1 4-5 1 0 1 6 6 0 2 1 8-3 7-4 1 5 2-2 0 4 1-7 3 8 3-3 0 5 2-3 0 3 2-1 4-4 0 5 2 1 1-2 1-2 13 3 6-5 1 1 1 0 1 4 2-10 4 3 2-2 0 9 4-6 4 6 4-3 5-1 6-1 0 4 1 1 1-3 3 2 1-9 6 10 9-7 0 2 1 1 1-6 6 8 1 1 1 1 2-6 0 5 5-3 6 1 1-5 3 8 4 1 2-6 0 3 1 2 9-7 0 7 10-10 4 3 0 5 2 0 1-4 0 6 2-6 1 7 3-2 1-2 7-6 6 1 1 4 2 1 9 2 6-9 0 7 4 11-1-3-5 0-3 4-4-4 0 4-1-7-8 11-1-6-4-3 0 7-5-2-5-2-4-3-1 6 0 1-2-5-1-4-4 2-1 9-2-10-1 9-1-8 0 3-5-4 0 4 0 2-3-2 0 4-5-2-3 2-6-6-10 5-4 3-4-2-10-9 0 11-2-11 0 4-2 1-2-1-1-1-1 2-2-4-4 7-9-4-2 2-5-5-2 1-1 2-1 7-2 0-5-6-1 4-2 2-1 0-1-8-3 7-7-3-6-5-2 4-4-6-3 2-1 7-2-3-5-4-5 1-1 5-2-7 0 9-2-6-1-2 0 5 0 3-1-10-2 0 0 8-2-8-2 10-1-7 0 8-4-3-5 0-6-5 0 7-2-7-8 3-1-5-3 7-2-7-1 0-3 1-2 2-2 2-2-2 0 1-2-1-8 6-1-6-1-2 0 2-6-1 0 6-3-8-3 2 0 8-1-2-6-2-3 4-8-4-6-4 0 4-2 4-4-1-3-4-2 4-2-4-1 4-3-4-1 2-2-4-3 2-1-5-3 10-1-9-2 9-1-5-2-2-4 4-9 2-2-10-3 6-4 0-1-3-4 17 2-8 0 7 1-5 0 9 3-7 0 6 2-5 3 0 0 4 1-1 1-3 0 4 1-4 0 5 2-9 3 1 1-1 0 5 1-3 4 1 2 2 2 4 3-5 6 1 1-6 1 9 3-2 4-2 1-3 0 4 0 1 4 4 14-5 0 5 6-11 0 8 4-6 4 1 3 7 5-9 1 9 4-10 2 5 2 3 2-5 4-3 1 0 2 5 5-4 1 10 2-5 1 0 3 5 5 0 3-4 0 4 1-9 11 8 1 1 3-11 0 7 10-4 0 7 4-2 3-6 1 6 6 0 9-1 1 1 3 1 3-4 4-3 3 1 0 3 1-5 4 3 8 0 3-3 1 7 1-4 2 4 1 0 5-1 0 1 1-7 1 3 6-4 2 3 5 0 3-3 0 11 4-3 4-7 0 2 1 1 0 6 1 0 4 1 1 0 6-1 1-9 1 7 2 0 0 2 1-7 0 1 0 5 2 0 1 1 4-8 3 5 5-5 4-1 2 0 3 7 2-1 1-3 12-1 3-2 5 3 2 5 4 0 1-7 0 8 6-2 0 3 3-4 1 3 5-3 9 2 5 2 4-9 0 6 2-8 0 7 1-5 0 9 3-7 0 6 2-5-7 12-6 1-12 1-5-1-1-5 0 1-1 3-1-4-2 1-9 5-3-7 0 8-4-5-3 4-1-6-1 10-1-7-5 7-2-3-2 1-2-6-1 3-5 3-6-6-1-1-3 0-1 1-2-3-2 1-7 5-1 2-3-4-4 3-1-4 0 5-1-1-7-1 0 3-11-5 0 4-1-2 0 5-1-11-4 2-3 8-5-10-1 5-1-2 0 5 0 1-4-2-5-7 0 9-3 0-3-6-7 5-7 1-1-1-14-5 0 1-10-1 0 3-4-3-3 6-4-1-3 2-3-1-1-6-3 0 0 3-1-4-5 7-1-4-3-4-2 8-1-9 0 7-3 4-6-5-1 0-2-2-1 2-1 0-3-4 0 8-4-7 0 8-1-3-1-5-1 5 0 2-1 1-5-7-1 1-15-1 0 6-2-4-1-3 0 3-3-3-1 8-1-6-1 4-9-8-3 2 0 7-1-10-7 10-2-9-1 1 0 5-2 0-1 0-10 1-7-8 0 5-1-4-1 8-1-3 0 2-4 1-4 2-16-6 0 11 3 4 6 0 4 0 13-3 0 3 9 0 1 2 10-2 3-7 0 9 2-4 7-5 0 1 3-2 1 0 7 8 3-8 0 6 6 2 8-7 2 1 2 3 2 3 4 1 4-9 4 2 2 0 1 4 2-4 1 5 1-2 0 2 1-6 2 4 0 2 6 0 11 4 3-10 5 2 3-3 6 4 0 7 2 0 4-1 6-1 2-1 3-1 1 3 4 1 9-10 2 1 0 2 0 5 1-2 5 1 0 2 0 1 3-2 2 2 2-9 3 5 2-7 1 1 5 6 4 0 1 4 1-9 8 9 4-9 1 5 0 3 1-5 0 5 4-5 1-3 1 5 0 2 1-2 2-7 1 2 0 8 3 0 5-1 2-3 11 1 4-7 6 0 3 10 3 0 1-6 3 6 3-6 3-3 4 4 4 0 7 0 3 1 4-5 1 3 0 2 4-1 3 3 1-5 0 3 1-3 6 1 2 2 1-4 0 1 1-1 4-1 0 4 5 1 0 4 2-5 11-1 3 4 0 7-1 6-2-5-2 7-1-10-2 6-6-3-5-4 0 4-2 6-1-9-7 6-5 3-1-2-1 3-4-8-2-1 0 9-10-8-3-3-6 0-1 5-3 0-4 2-10 2-5-4 0 3-1-7 0 8-10-5-8 0-3 0 0 4-2-5-2 0-1 3-4 2-2-5-1 3-6-5-1 2-2-2-5 1-2 4-5 2 0 1-14-7-1-1-1 0-1 5-4 5-2 0-1-8-1-2-5 3-4 7-2-11-2 6-1 4-2-5-7 2 0 1-7-8-3 7-5 1-3-5 0 8-3-3 0 3-4-3-1 2-1-5 0 1-2-4-3 5-6-3-2 1-11 1-1-2-6-4-1 8-2-1-3-5-7 8-1 0-4-9-3 6-2 2-3-2-1-7-13 2-4 1-1 3-4-6-1 6-1-6-2 6 0 1-5-2-1-5-2 1-3 4-3-4 0 8-2-7-1-2-4 6-2 0-1-2-5 6-1-9 0 1 0 4 0 1-2-1 0 1-6-6-2-1 0 1-3 5 0 2-1-7-4 2-1 6-2-5 2 17 2 1 1-2 1-6 1 9 2-8 3 3 2 1 2-3 1 4 5-6 4-1 0 9 1-5 5 6 2-3 1-4 0 6 5-7 6 8 9-7 3 0 6 1 3-4 4 6 5 3 1-7 3-2 3 2 3 0 1 5 1-8 7 6 3 5 2-2 3-7 7 3 3 2 3 4 5-7 4 0 2-3 5 3 18-3 0 2 3 4 3 4 3-9 1 1 1 7 1-8 3 9 5-9 1 2 4 1 1-5 1 10 4-9 2-1 2 6 2 4 5-8 3 8 2-8 1 7 1-9 2 11 7-4 1-6 0 8 9-2 1-3 1 1 0 6 4-11 1 1 1 0 1-1 5 0 0 11 8-11 0 9 7-6 0 6 1-7 1 0 3 5 1 2 1-5 4 6 4-8 0 2 1 2 4-4 5 6 6 2 2-1 13-1 1 3 3-7 2-3 2 5 3 4 1-6 2 5 6-2 7-1 1-2 7-3 0 3 2-4 2 7 4 1 6 1 1-4 1 3 4 1 2 1 1-2 1-6-1 11-1 10-4-7-2 6-2-1-1-5-2-2-7 5 0 4-3-5-2 4-4-3-2-3-2 5-2-3-6 4-1-7-4 8-1-8-1 0-5 1-1 3-3-7-2 11-1-3-1 3-4-3-2 2-3-7 0 4-3 4-4-1-3-1-2-5-2-3-1-1 0 2 0 6-2-1 0 4-1-9-2 0-1 2-10 2-3 5-3-6 0 5-1-4-1-5-4-1-2 4-2 7-7-5-9 3-1-8-3 10-1-2 0 1-5-7 0 7-23-1-18 2-1-9-4 4-5-1-7 6-2-10-1 6-1-4-1 2-1-4-1 2-11 6-1 0-2-8-4 6-1 4-2 0-1-4-5-4-1 5-1-3 0 1-1-5-2 8-3-2-2-1 0 1-1 4-7-2-1 1-2-2-1-1-6-7-4 2 0 6-2-3-3-1-3 0-8 6-2-7-9 4-5-6-3 0 0 9-1-1-1-6 0 5-2 3-4-5-3-2-4 7-2-7-1 3-1 3-4-3-2 0-3 1-7-3-1-2-3 4-6-6-1 10-4-7 8 15 5-5 1 0 0 2 0 1 9 0 1 0 5-5 1 4 3 0 4 7 3-4 3-5 1 1 5 1 2-1 0 6 2-7 1 9 9-11 3 4 7 7 1-5 2-3 1 3 1 3 2-9 0 5 3 0 0 3 3-6 1 1 1-1 2 3 1-4 4 4 0 3 1-8 4 7 0 3 1-8 2 0 0 4 3-6 0 4 3 1 5-2 0 1 3-3 0 2 1 0 1 2 1 3 1-4 1 0 1-2 0 5 0 4 3-1 4-2 4-7 1 2 0 1 3 1 1-5 4 1 0 1 7 0 1 8 1-10 8 7 0 1 1 2 2-7 0 8 3-10 2 0 1 4 2 3 3-8 1 10 1-3 5 1 4 2 2-6 5 1 0 5 2-10 2 5 3 2 1 3 1 0 1-3 2-5 3 3 3 1 2 0 0 1 0 1 3-2 0 3 4-6 2 7 2-5 3-4 2 5 3-6 3 6 0 1 2-5 2 8 3 1 2-11 0 11 1-2 4 2 1-6 3 2 3 2 1-2 1-1 1-1 1 0 1-2 8-1 4 3 1 3 2-7 1 0 4 2 3 4 0 2 1-9 0 2 2 1 2 5 3-5 1 5 3-2 3-6 3 7 0 1 1-1 3-1 5-1 1 5 3-10 2 1 0 1 0 4 0 2 9-8 0 10 2-2 2 0 1-7 6 0 16 19-5 3-6-2-1-1-1-8-1 3-2 5-5-5-1-3-1 5-7 6-8-1-1-10-7 9-3-7-6 5-1-3 0 2-2-6-1 1-1 7-1-8-16 8 0 2-3-7-4 0-2 0-2 3-5-1 0 1-3-1-9 2-4 1-5-7 0 4 0 2-2 2-1-8-1 10-2-10 0 4-3 4-2-8 0 8-2-5-7 4-3 0-1 2-3-4-1-4-1 0-3 1 0 6-1-6-2 8-5-6 0 2-5 2-1-9 0 11-2-1-6-5-3-5-1 5 0 1-6 4-1-2-2 2-2-1-1-2-1-3-1 5-1-9-4 2-1 8-6-4-1-2-6-2-3 8-5-2-1 0-2 2-5-1-2 1-1-4-2-6-2 10-1 1-1-3 0 1-1-2-4-6-7 3-5-4 0 1 0 5-1 3-7-2-2 2-2-1-4-6 0 4-1-6-1 2 0 9-5-5-2-1-1-4-3 1 0 7-4-9-2 8-1-3-4 0 0 4-2-4-6-3-8-1-3 1 0 4-2-3-3-3-5 1 0 7-1-5 0 8-3-6-3 3 0 1-2 2-3-9 0 3-2 2-6-5 0 9-1-5 0 5-1-2-1 1-1-3-2-6-4 7-5 3 23 1 2 8 8-4 1-2 5 6 7-4 5 3 3-5 5-2 6 0 0 2 25 0 5-1 3 4 2-3 2 3 0 1 8-5 9 5 7-4 6 3 4 1 3-4 4 4 1 0 3-3 1-2 2 6 1-2 1-4 1 6 1-4 2 2 7 1 5-2 3-1 3 2 27 1 2-5 11-1 2 3 2-3 3 4 4-4 0 6 3-1 4-1 2-3 1 5 4-4 1-2 5 7 2 0 3-7 2 4 18-1 4-2 1 1 2 5 6-2 1-4 12 0 1 0 0 4 10-3 4-1 1 3 4-4 1 2 4 3 4-3 8 1 1-3 2 8 3 0 3-7"/></pattern><pattern id="pb" patternUnits="userSpaceOnUse" width="173" height="131"><path transform="translate(-3 -3) scale(.5)" fill="none" stroke="none" marker-start="url(#mb)" marker-mid="url(#mb)" marker-end="url(#mb)" d="M4 8l1-5 0 2 2 3 5-5 1 1 1 7 1-6 1 2 4 2 1 0 0 2 1-3 1 2 12-7 6 4 11-3 4 5 2 2 1 0 1-7 1 6 3-1 4-1 1 3 3-8 0 6 0 1 10-6 2 7 7-8 7 2 0 4 4-2 3-4 0 8 14-8 0 2 1-1 0 5 1 0 1-2 1 4 14-9 1 0 3 4 0 2 0 2 3 0 1-6 2 0 1 1 2 3 3 1 4-5 7-1 0 1 3-2 6 1 0 6 5-7 0 4 1-4 1 5 9-4 5 4 4-4 0 5 4 2 1-4 5 0 0 3 1-1 3 2 7-5 2-3 2 2 2 3 0 4 5-9 0 3 4 4 2-4 1 2 7 1 4-3 3 4 4-4 0 4 1 0 15-2 1 0 15 0 1 1 3 1 4-5 0 6 4-2 3-2 15 4 8-6 5 3 1 4 1-8 2 3 2-1 0 4 3-1 0 2 1-8 5 5 5 1 1-5 0 2 2 3 2 14-1 0-1-9-1 2-2 1-1 7-2-10-2 7-4 0-4-2-1 2-1-8-2 8-2-1-1-7-1 1 0 8-2-8 0 9-7 0-10-10-3 4-3 0-2-3 0 6-6 0-5 0-6 3-2-7-6 6-1-2-12-7-2 1-4 8-2 0-1-9 0 9-1-9-4 5-6 2-1 1 0 1-11-7-5 0-4 1-3 7-1-8 0 2 0 6-3 1-1-10-2 0-7 9-1 0-1-10-1 9-6-7-1 9-4-1-10-3 0 4-8-7-1-4-4 10-4 1-2-8-2 5-3-8-1 5 0 6-1-7-1 0-2 4-1-6-4 2-2 1-1 3-2-8-1 3-1-2-6 7-1-3-3 4-2-4-5-1-3 1 0 1-3-5-3 2 0 4 0 3-1-5 0 4-1-2-2-1-3-1-3 0-3-4-1 1 0 8-2-3-1-6-3 3 0 4-7-5-1 4-7 4-7-6 0 5-1-5-1-5 0 11-3-8-5 8-3-10-2 7-1-3-7-1-1 7-10-11-1 9-1-9-6 1-3 5-1 1-1 4-4-10-4-1-1 7-1 3-5-5-1-5-1 10-1 0-1-9-1 2-2 1-1 7-1 7 1 2 8-4 2-4 2 7 0 2 3 1 3-3 1-1 0 4 5-3 3-7 3 9 2-2 1-1 1 5 8 0 2-7 2-2 1 0 5 0 0 3 4-3 1 4 3 0 1 0 5 5 1 0 3-5 1 3 1-4 0 3 8-5 0 2 3-4 1-1 0 6 2-1 1 3 1 1 8 1 4-9 1 2 4-2 4 1 6 9 3-5 0 5 2-11 1 9 1 1 2-6 2-1 2 7 6 1 3-9 3 5 1-7 2 0 1 2 1 1 2 2 2 2 1-2 1-5 0 9 1 1 7 1 1-7 0 6 7-7 2-1 2 1 3 7 3 1 1-9 2 7 1-9 9 5 1 1 0 5 1-5 0 2 1-5 9 3 12 2 3-4 1 6 0 1 6-11 1 3 5 5 1-5 1 0 9 8 6-11 2 2 6 4 4 1 3 2 2-2 1-6 2-1 2 3 5 2 1 5 1-6 3 4 3-6 2 5 1-4 0 3 5-5 0 1 0 9 2-3 2 2 1-4 0 3 10-1 1-5 6 3 4-4 3 7 2-2 8 4 3 0 4-2 1 2 8-5 1 2 7 11-2 3-4-7-1 1-3 3-2-4-1 3-2-2-1 0-2-1-1 7-2-6 0 7-5-9-1-1-5 4-1 6-2 0-1-10-2 7-8 3-2-7-6 3-2-6-5 2-1-1-2 5-2-5-4-1-3 0-6 1-5 4-1-6-2 0-1 5-1-5-5 0-2 4 0 6-1-4-4 5-2-3-6-6-13-1-7 4-2 1 0 3-1-6-2 4-4 4-2-3-1-8 0 4-2-3 0 4 0 5-5-8 0 6-3-3-3-5-2 6-1 0-1-5-1-1 0 3-7 5-5-7-2 1-2-1 0 8-1-5 0 4-4 2-4-9-4 10-2-10-4 3 0 5-7-7 0 8-3-7 0 4-1-1-3-2-5-2-2 5-1 0-6 4-2 0-1-11-2 6-4-3-3 3-3-3-2 3-2-1-5 3-2-3-5-2 0 8-5-6 0 5-4-5-1-5-1 4-2 7-4-9 0 4-5 0-1-4-8 1 0 2-6-3-2 1-3-3-2 4-1-4 0 11-3-9-1 2-2 1-2 2-1-6-2 7-1 0-5-6-4 8-1-8-1 3-1 4-1 1-1 1-7-5-3 5-2-8-2 1-6 3-2 0-2 3-4-7-1 1 1 14 11-3 4 8 5-3 1-7 1 10 4-10 2 3 8-2 1-1 0 8 1-1 5 3 2 0 4-6 0 6 2-5 6 5 12-3 3-7 0 5 2-1 2-3 3-1 1 7 5 0 0 3 1-10 6 8 4 1 1-2 8 2 3-9 5 0 3 3 3-3 3 1 11 5 14 2 2 0 2-8 0 5 3-3 3-3 3 0 4 3 4 2 2 5 3-10 4 4 6 1 2-1 4 1 11 0 0 3 3-2 3 0 5-5 1 2 3 1 2-1 5 3 2-3 8 7 3-8 3 9 4-1 1-7 6-2 5 5 2 2 1 1 1-8 0 4 7 3 3-7 1 8 4-6 2 6 3 2 3-1 4-7 7 0 5-3 1 6 4-2 5-2 2 3 1 2 17-2 2-3 2 4 0 2 2-8 2 5 2 1 1-2 2 1 0 3 3 3 3-5 3 14-2-8-1 8-3-1-2-7 0 2 0 9-5-9-1 9-5-7-1-4-4 2-3 5-1 2-5-6-8 1 0 3-2 3-1-3 0 1-4-3-2 4 0 2-7-8-1 8-1-5-1-1-3 6-10-10-2 10-1-10-4 7-2-1-3-1-1 1-4 0-3-7 0 5-2-1-3 1-1 4-1-6-4 2 0 1-3 1-2-6 0 6-4-4-3 0-1 1-3 3-2-3-4-3 0 3-1 6-4-6 0 5-4-1 0 2-5-8-1 8-2 0-1-1-1-8-8 2-10 4-2-7 0 10-3-10 0 2-1 4 0 2-7 2-1 0-10-3-3-4-4-2 0 10-1-8-4 4-2 4-4-7-1 0 0 6-1-6-1 0-1 1 0 1-3-6-10 2-1 4 0 3-1 1-1-3-3 2-2 0-9-7-2 4 0 2-1-7-1 6-1-2-2 0-1 3 0 1-4-6-2-3 0 9-1-9-4 0-1 4-16-2 0 1-2 1-4 4-2 0-1-2-10-6-5 6-4-1-2-2-1 3 0 1-1-7 0 6-5-3 0 1-1 2 0 1-5-5-1 0 0 5-6-6 0 8-3-7 0 4-1-3-7 5-4-4 0 6-2-9-1 5-3 2-2-8-1 8 5 6 2 6 3 0 4-4 5 3 7-4 1 5 2 1 4-4 2 5 3-2 2-6 2 8 2-4 1 5 4-8 1 4 3-3 2-3 0 1 10 1 1 6 2-9 0 11 13-7 2 1 3 2 5 0 1-2 1-3 1 5 1 1 4-7 6 1 3 4 7-2 1-4 0 1 9 6 1-6 4 7 4-2 2-4 1-1 5 10 5-9 1 8 2-6 6 0 7 5 1-9 0 7 1-2 1-1 3 4 1-7 1 0 3 3 7 2 1-6 5 2 0 3 2 2 3 1 4-1 0 3 3-10 10 10 3-4 8 0 5 0 2-6 7 8 3-8 1 1 0 5 12 3 7-6 3 2 1 4 1-3 3-3 6 7 2 1 4-3 1-4 9 4 4 1 1-9 2 3 0 7 2-6 2-3 2 9 1 0 2 1 1-10 3 10 1-9 1 0 3 5 2 1 1-8 0 8 1 0 2 1 1-9 4 0 0 11 2-10 2 3 1 0 1 1 8 5 6-5 8-3 0 20-1-5-1-4-8 2-1 4-2 4-1-8-3 7-1-7-1 5-2-8 0 5-1 0-6-4 0 1-2 8-3-8 0 8-6-2-2-1-3-2 0 5-8-3-6 0 0 1-2-7-1 4-5-1-1-3-5-1-8 6-2-3-6-3-1 1-2 1-1-2-4 9-1-2-4-7-1 2 0 5-1 1-3 3-2-10-3 7-2-1-3-3-1-2 0 4 0 5-11-5-1 5-3-9-6 0 0 2-3 0-8 7-3-4-2 2-4 0-3-9-2 10-2 0-3-10 0 6-3 4-1-9-3 3-5 2-5 4-2-4-1-2-2 6-1-2-2-3-1 2-1 3-1-7-8 7-4-2-1-4-3-3-5-1-8 8-1-1-1-4 0 1-6-2-1 5-5 2-3-1 0 1-4-3-8-3-3 1-1-4 0 6-2-1 0 6-1-9-8-2-1 10-3-3-4-2-14 0-9 0-4-3-6-2-2 8-1-5-2 0 0 6-1-6-2 8-1-2-4-6-1 6-2 0-4 0-2 1-1-9-3 1-10 8-1-5-1-4-3 14 1 3 8 5 2-2 1 2 3-7 0 7 1-9 1-2 1 10 1-6 3-1 14-3 6 2 1 7 2-4 3 4 0 1 1-10 2 4 0 4 2-4 1 5 8-9 1 3 0 6 2 2 2-8 8-2 0 4 1-2 4-1 1 1 2 0 0 6 4-9 0 1 0 2 1 3 0 4 11-9 1 3 3 2 1 1 2-1 0 3 7-7 0 4 3 4 4-7 5 2 2-3 2 2 5-4 0 2 1 8 5-9 4 10 1 0 3-2 2-2 5-4 4-1 0 9 2-4 3 3 3 0 11-9 1 6 5-2 4 4 2-9 9 2 1-2 1 3 0 7 11-2 0 1 5 0 1-7 2 0 3 1 9 3 1 1 6 2 2-9 1 5 8 0 2 3 0 2 1-6 2 2 4 4 3 0 1-6 4 6 5-8 0 3 0 1 3-6 1 9 4-5 4 0 1-4 1 9 4-9 6 8 0 1 6-9 4 4 1 7 11-8 0 4 1-6 1 3 5 5 4 0 5-7 1 7 1 0 1-2 2-7 7 3 1 3 5 11-5 2-1-5-3-1-1 3-6 2-4 5-1-7-4-1-1-3-4 1-2 10-1-8-1-1-1 0-2 2-3 7-2-11 0 5-2-4-2 7-2 0-2-7-10 5 0 2-2 1-5-1-1-4-3 3-7 1-2-6-1 2-2 7-3-11 0 5-4-3-5 3-4-3 0 4-1 5-1-9 0 3-1 0-2-2-8-2 0 6-1-6-1 4 0 5-3-3-1-5-2-2 0 7-2-3-5 2-5 1-1 1 0 1-3-5 0 7-3-3-2-5-3-2-7 4-4-2-1-2-5 2-6-3 0 3-3 4 0 1-4-5-4 0-2 8-9-4-5-5-2 7-3 1-4-1-1-4 0 3-7-8-16 0 0 10-4-10-6 1-1 8-3-1-1-2 0 5-3-2-1-9-2 11-1-6 0 2-1 2-1-3-4 5-4-3-1 3-4-9-5 0-2-2 0 8-2-4 0 2-1-1-3 6-6-2-1-7-1 4-2-6-1 0 0 1-9 0-3-1 0 1-3 10-2-6-4 4-1-4-3-3 0 8-1-6-3-2 0 6 0 3-8-11-1 2-1 2-1-2-3 1 0 5-1-5 0 2-5 4-2 2-6-6-1 0-5 2-1-5 4 20 1-8 4 1 1 0 5 3 7-2 1 6 2-7 2 1 5-3 5 8 3-3 1 4 12-1 1-5 3 4 2-6 1 8 0 1 1 0 4-2 4-3 7-1 3-4 2 1 3 0 2-2 1 4 3-3 2 2 3 2 5-3 3 7 1-6 0 1 15-1 3 1 0 3 3-6 0 4 2-5 0 10 6-7 0 7 1-1 5-2 19-5 1-2 3 2 2 3 0 2 1 1 3-1 0 4 1-5 1 1 1-6 1 4 1 3 3-7 0 2 3 2 2-4 5 3 3 3 2-1 2-6 1 6 1-3 1-2 3 8 7 1 1-5 3-5 5 11 2-10 2 6 0 1 1-7 2 1 3 3 1-3 8 3 10 3 1-3 5 5 2 1 5-3 6 2 5-1 2-5 4 2 6 5 2-2 2-5 1 3 4-3 9-4 0 8 1 0 5-4 3 3 5-1 10-4 2 3 0 6 10-5 0 3 3 0 2 1 4-7 7 7 1-8 1 12-5 4-14 3-5 1-1-9 0 7-1-5-3-1 0 4-3-2-1-4-1 8-1-3-1-2-1 2 0 1-1 3-2-6-3 1-6-2 0 1-1 8-1 0-2-6-1 5-4-1-3-5-2 6-4-10-6 4-3 3-1-7-2 6-2-4-2-1-4 1-3 7-2-7-2 6 0 2-3-10-4 11-1-8-2 5-12-2-2-2-7-1-1 4 0 2-1-1-3-8-3 9-3-6-2 1-2 0-1 0 0 5-4-5-3-1 0 5-1-4-4 6-3 0-2-2-12 3-4-8-4 4-2 2-1-2-3-4-2 1-3 2-5 4-1-5 0 3-3-1-4 0-6-3-9 7-1 0-1-5-1-2-1 5-1-1-5-5 0 4-1-2-3 1-1 2 0 2-2-1-6-6-3 0-1-2-3 3-1 2 0 1-1-6-1 10-9-4 0 4-1 0-4-3-3-8 0 10-2-9-9 5-5-6-1 1-5 4-4-3-1 7-2-9-2 6-1 3-1 1-1 0-3-5-5-3-1 2 0 3-2-7 0 11-4-10-5 1-1 2-7 2-1-2-11 7-1-2-2-9 0 1 0 3 0 3 0 3-2-8-5 4-2 9 2 1 1 2 0 3 4-2 0 4 5-2 4-5 0 2 1-6 0 8 1-6 2 4 7-2 6-3 0 6 2-4 5 4 4-4 2-3 2 6 2-3 4 1 1 7 5-7 0 5 4-5 2 3 5 0 9-3 1 0 11-4 1 11 3-5 0 5 7-10 0 1 7 2 4 3 5-2 3 6 7-8 8-1 5 8 1-2 11 3 1 0 5-2 1-3 2 2 5-1 3-3 1 4 6-6 6 5 1-1 1-2 2 7 10-9 1 5 3 2 2-7 0 6 3 1 3 2 1-10 0 10 1-6 4 6 5-10 0 1 4-1 2 6 7-5 1 1 4-1 3-2 3 2 3-1 1 6 1-2 6 5 4-5 1-4 0 2 3 0 2 0 3 7 10-4 1-4 1 5 4 2 6 2 3-5 12-2 4 3 2 0 1-3 1 0 4 3 2-6 2 4 2 3 10-5 1 2 1 3 1-2 1-6 1 1 0 6 1-7 1 10 0 1 1-7 4-1 2 1 1 2 0 3 4-2 0 4-1 8-1-2-3-1-1 3-1 2-1 0-1-8-8-1-1 0-1 4-3 2-1-4 0 2-3-2-7 7-2-7-7 0 0 2-3 4-3 0-9-6-2 2 0 5-4-1-10 3-5-6-3-3-4 5-1-2 0 2-9-1-1 2-9 2-3 1-2-7 0 1 0 2-4-7-3 7-5-7 0 10-7-4-2 1-4 1-4 1-3-5-2 0-6 6-9-7 0 8-1-3-1-8-1 3 0 7-3-2-3-3-3 5-2-7-9 5 0 1-1-1-5-6 0 4-2 2-1-4 0 3-10-7-2 7-2 0-1-7-4 5-12-2-3 5-5-5 0 6-4-5-2 0-7 0-2 2-1 4-11-5-1 0-2 5-2-4 0 5-1-1-2-4 0 3-5-9 0 1-2 8-1 0-3-3-6 5-3-6-1 1 0 5-1-2 0 2-4-1-8-9 0 8-2 1-2-5-1 5-1-8-1 5-8 4-1-2-2-8-1-1-2 6-9-2 0 1-1 4-4 1-2-5-2-4 0 8 0 1-1-6-1 2-1-2 0 6-6-3-1-2-3-1-1 3-1 2-1 0 1 6 0 7 1-7 1-1 1-1 4 6 3 3 5-9 3-1 4 5 2-3 8 8 3-7 1 0 1 6 0 2 8-11 2 10 7-3 1 4 1-11 1 6 2-5 7 7 7 2 1 1 3-7 1 6 1 1 2-7 1 1 3-2 2 2 1 6 3-5 4 3 1-6 2 0 8-2 3 7 3-6 1 8 1-9 2 0 1 3 0 3 1-5 6 7 4 0 1 2 3-6 6-5 1 5 4-3 1 8 7-9 7 7 5-1 2-7 1 7 5-7 0 6 5-5 2 0 0 7 3 2 1-8 8 1 2 0 5 4 2 1 1-6 6 5 2 3 1 1 6-4 1-6 0 1 0 1 12 1 0 2 4-5 0 4 8 3 2-7 0 2 1-2 2 2 1 2 6-1 11-2 1 8 3-4 1-6 3 2 1 7 2-5 4 3 2 0 1-1 0 3 1 2 1-5 2-1 1-5 5 6 2 4 2-10 0 1 0 7 5 3 2-11 4 4 2-1 5 0 5 0 0 7 3-9 5 0 1-1 0 1 0 4 3-2 0 6 4 2 2-8 2 6 3-7 1 6 2-8 1 1 0 8 1-6 0 7 1-7 1-1 1-1 4 6-2 5-4 5-1-3-4-2-4 9-2-3 0 5-1-5 0 3-6-8-6 10-6-8 0 3-4-3-8 0-7 2 0 1-3-4-1-2-1 1 0 9-1 0-1-3 0 1-1 0-2 3-1-4-5-2-1 4-2-1-8-6 0 7-4-6 0 6-6-7-1 2-5 4-5-7-1 10-6-11-2 11-1-11-2 2-3 7-2-2-5-3-8 0 0 2-2 5-2-2-1-2-2-1-6-6-2 3 0 4-5-4-3 1-2 3-4-3-2 3 0 4-1-10-6 8-2-6-2 6-1 0-10-8 0 1 0 9-3-4-1 1-1-2-3-5 0 7-2-7-1 5-1 5-1-10 0 10-8-9-8 8-2-1-4 1-1-4-4 3-4-4-1-1 0 4-4-3-1-4-4 1-11-1-2 3-1 3-3-1-4 5-2-4-2-3 0 5-1 1-2-8-4-1-2 1-1 1-1 8-1-9-2-1-1 3-1-3-2 3 0 2-1 0 0 2-3-4-1 0-2 5-2 1-2 1-1-6-4 6-4-1-1-9-1 5-2 1-1-3-3 4 0 3-2 0-1 0-1 0-4-2-2-4-1-3-3 5-3 1-1 1-2-6-6 3-6 5-2-9 0 2-3-4-4 5-1-3 0 11 3 7 4-8 0 7 0 1 3-5 0 6 4 1 0 1 3-11 0 10 3-1 2-8 0 10 3-9 2 7 0 2 1-3 11-6 3-1 2 4 3 0 2 6 1-1 1-5 1-4 1 1 0 8 0 1 1 0 1-2 1-8 1 7 6 1 6-9 1 3 2 7 3-8 7 3 5 6 7-7 0 2 1 1 5 1 0 1 7 2 1-5 7 5 2-5 6-3 3-3 0 5 7-1 5 7 2-5 3 2 6-1 2 3 6-4 1 3 1-7 3-1 0 5 0 4 5-10 1 0 1 0 3 8 5-7 2 0 3 6 1-3 3-1 3 1 5 5 3-9 2 11 1-2 5 0 1-1 1-1 2-1 2 1 4-5 9 8 1-5 1 4 2-6 1 6 2-3 4 1 0 3 6-5 1-3 2 0 0 5 1 2 3-1 3-5 3-3 1 2 6 0 9 2 2-2 1 1 2-3 4 8 1-7 0 4 6-1 1 5 0 1 2-1 3-2 1 2 2 0 2-8 2 0 5 0 4 3 5-2 1 6 4 3 1-11 1 7 3 3 2-2 1-3 1-4 10 4 2 5 4-1 3-8 3 7 4-8 0 7 0 1-2 10-1 2-3-7-6 1 0 8-1-2-6 0-1 0-1 3-1 0-1-6-7 4-1-2-1 1-1-1 0 3-3-7-1 7-6-6-2 0-2 1-1 3-7-4-1 7-1-7-6 4-4 3-7-5-3 1-2-7 0 1-1 2 0 4 0 3-2-7 0 3-3 4-1-8-2 6-10 2-2-7-3 1-3 3-4-7-2 10-1-2-2-5-4-3 0 5-9 2-1 3-2 1-4-1-1-9 0 2-7 4-1-4-1 1-3 0-2 5-1-4-4 1 0 5-4-11-4 4-3-3-4 3 0 4-3-5-3 7-7-9-1 2 0 3-4-4-7-2-1 8-1-3-2-4-1 9-1-2-5 1-5-9-4 0-14 2-1 8-3-1-5-4-3 3-1-4 0 4-2-5-1 2 0 1 0 3-7 1 0 1-2-5-3 2-6-8-5 10-1 1-7-2-9-1-8-5-1 2 0 2-2-6 0 8-8-5-4 4-2-7 0 10-4-7-1 0-4 4-6 1-1 1-3-2-7-8-1 4-1 2-5 1-5-1-1 2-3-7 9 11 3 10 6-8 7-2 0 3 4 2 6 5 3-8 4 1 3 4 1-6 4 3 6 7 2-6 3 3 1 2 1-7 2 2 2-2 2 5 6-5 1 5 1-2 0 1 2 2 2-9 0 1 1 8 6 1 6-4 1-5 0 8 4-8 1 1 3 6 3-8 6 11 1-10 5 7 2-3 3 3 0 2 1-4 1-5 9 5 2 4 1 0 1-8 0 8 1-8 2 3 2-3 3-1 1 8 2-5 4-3 0 7 3-3 1-3 0 1 1-2 3 8 1 2 5-5 2 5 6-5 0 5 12-5 1 1 1 2 3 1 2-6 2 5 1-9 2 2 4 2 3 4 2 1 1-6 3 3 5 5 3-8 9-1 5-2 5 0 1 8 2-3 2 2 2-2 9 2 3 3 1-2 2-2 4-5 2 7 3-2 1 5 2-10 1 3 0 2 7-3 6-3 1 7 1 4 2-7 2 0 5-2 0 4 4 2 1-1 11-5 1-1 2 6 1-6 2 5 3 5 2 0 2-9 4 0 3 0 3 2 4-3 4 15-6-3-5 4-1-5-3 1 0 4-1-1-2 7-1-7-4 2-1-2-1 4-5-7-3 3-3 6-8-3-2 4-6-9-4-2-2 10-9-9-3 2-1-2-1 2-1-3 0 7 0 2-12 0-4-8-10 10-1-6-1 4-1-9-5 4 0 1-1 4-4-9-1 8 0 1-7-3-3-2-1 5-1-3-5 5-7-5-3-5-2 1-1 3-7 5-3 0-1-9 0 8-5-5 0 3-7-2-2-2 0 4 0 3-1-10 0 5 0 1-10 5-1-9 0 1-7 0 0 2-2-5-4 7-2 1 0 1-2-7-4 6-10-5-3 4 0 1-2 3-6-2-3-5-9 7-2-3-1 2-2-7-1 6-2-5-1-1 0 5-2-4-1-4-2 9-4-6-3 3-1 3-6 2-3-2-3-1-4 0-1-5 0 6-5 0-1-1-4-3-2 1-3 5-1 0-3-6 0 1-1-6 0 2 0 6-1-4-1 1-1 6-1-7-4 4-1-6-3 6-3-7 0 1-4 8-2 1-5-10 0 8-1-3-2-3-3 3-5-4-1 8-2-7-2 6-1-8-1 7-9-4 8 10 3 8 3-7 0 2 0 4 2 0 1-2 9 2 3-6 0 2 1-2 3 5 0 1 2 1 2-2 6 0 0 3 1-11 0 10 1-9 6 7 1-7 0 10 3-8 3 4 3-7 0 3 0 5 3-8 0 1 1-1 0 9 1-7 0 3 4 3 1-4 5 3 4 4 4-11 1 3 1 6 7-5 0 4 2-3 0 6 2-10 1 0 2 2 3 4 2-1 0 3 4-2 3 3 3-7 1-1 1 1 2 2 1 6 1-11 3 5 0 2 3 0 5-1 4-6 2 9 5-3 1-6 3 9 3-1 3-7 8 5 0 5 4-9 2 5 3-1 5 0 5-5 2 7 6-7 1 7 1-8 1 10 2-3 4 2 1-9 0 5 0 6 5-4 2 2 3 1 1 0 4-4 0 4 1-1 1 2 6-11 4 7 5 3 5-5 0 4 3 0 5 0 4-4 2 3 2-8 0 2 2 1 1 7 1-5 0 3 3 0 7 3 1-2 4-5 1-4 0 1 6-1 5 9 1 2 3-6 14 5 1-3 1 3 3 1 3-3 10 0 1 2 2-6 0 4 6 3 8-8 3 2 3 4 2-8 8 14-5 8-3-3-1 2-1-7-3 1-1 3-1 1-6-7-2 4-9-3 0 8-19-10-1 5-8 2-2-3-4-4-3 1 0 9-1-10-3 8-1-3-1-3-2 3-9 5-1-2-5-7-1 5-1-5 0 10-2 0-3-4 0 3-1 1-4-9-8 6-9-1-3 1-4-8-1 11-10-9-2-1 0 9-2-7-2-3-2 6-5 1-11 2-8-6-9-1 0 6-1-6-1 5 0 3-4-9-4-1-4 2-2 0-4-2-1 2-5 0 0 2-2 0-1-2-2 3-4-1-1 7-3-8 0 5-1-1-5 0-1 0-2-4-2 8-2-5-1 1-1-2-6 1-1 0-1 0 0 1 0 1-2 2-1-3-3 2-9-7-1 1-3-2 0 5-4-1-3-2-3 0-1 5-1-1-3-4-4 5-6-1-2-6-1-1 0 5-6 3-1-3-2 3-1-4 0 5-1 0 0 1-12 1-2-9-5 0-4 8-3-9-3-1 0 3-3-3-3 5-5 4 0 1-2-6-4-1-5 8 1 7 1-5 0 2 2 3 2-6 3 1 1 1 2 1 1 2 4 2 1 0 1-1 1 2 12-7 6 4 11-3 4 5 4-5 4 5 4-1 4-5 0 6 4-7 6 2 9-1 7 2 0 4 4-2 3-4 14-1 0 1 0 2 1-1 0 5 1 0 1-2 2-5 5 0 8 0 1 0 3 4 0 2 1-6 2 8 1-6 2 0 1 1 2 3 3 1 4-7 0 2 7-1 0 1 3-2 6 1 0 6 5-7 0 4 1-4 1 5 1-5 8 0 0 1 5 4 4-4 0 5 4 2 1-4 5 0 0 3 1-1 3 2 7-5 2-3 2 2 2 3 5-5 0 3 3-3 1 7 2-4 1 2 7 1 4-3 1-3 2 7 1-7 3 3 0 4 1 0 15-2 1 0 1-5 8 0 6 5 1 1 3 1 4-5 4 4 3-2 15 4 4-8 4 2 5 3 2-4 2 3 2-1 0 4 3-1 1-6 5 5 5 1 1-5 0 2 2 3 2-6"/></pattern></defs><path d="M271.2 356.3L77 268.1M77 268.1L77 73.8M320.6 343.2L126.4 255M126.4 255L126.4 60.7M369.9 330.1L175.8 241.9M175.8 241.9L175.8 47.6M419.3 317L225.1 228.8M225.1 228.8L225.1 34.5M468.7 303.9L274.5 215.7M274.5 215.7L274.5 21.4M518.1 290.8L323.9 202.6M323.9 202.6L323.9 8.3M271.2 356.3L521 290M222.6 334.2L472.5 268M472.5 268L472.5 73.7M174.1 312.2L423.9 245.9M125.6 290.1L375.4 223.9M375.4 223.9L375.4 29.6M77 268.1L326.8 201.8M326.8 201.8L326.8 7.5M77 268.1L326.8 201.8M521 290L326.8 201.8M77 229.7L326.8 163.4M521 251.6L326.8 163.4M77 191.3L326.8 125M521 213.2L326.8 125M77 152.9L326.8 86.6M521 174.8L326.8 86.6M77 114.5L326.8 48.2M521 136.4L326.8 48.2M77 76.1L326.8 9.8M521 98L326.8 9.8" stroke="#ededed" stroke-width="0.75" fill="none"/><path transform="scale(.5)" fill="none" stroke="none" marker-start="url(#my)" marker-mid="url(#my)" marker-end="url(#my)" d="M490 67l-22-4-30 20 151 0-1 5 0 7-1-11-2 3 0 1 0 7-1-8 0 3-1-3 0 2-1-4 0 3 0 1 0 2-1 2-1-6 0 7-1-2 0 1-1 0 0 1-1-2 0 3-1 0-1-1 0 1-1-1 0 1-3 0-6-1-33 0-67 12 56 1 11-4 3-7 9 9 1-2 0 3 2-5 8-4 0 6 0 2 3-2 2 3 1-6 1 4 1 2 1-6 1-4 0 4 0 2 0 2 1-6 0 5 0 1 0 1 0 2 1-11 0 6 0 2 0 1 1-1 1-6 0 1 0 6 1-1 1-8 0 2 1 1 0 1 0 1 0 3 1-6 0 2 0 5 0 1 1 1 1-11 0 8 1-7 0 1 0 4 0 3 1-9 2 2 1-2 0 2 0 7 24 14-5-3-12-2-8-3-1 7-2-9-1-1-1 6-4 1 0 2-2-9-1 1 0 1 0 1 0 2 0 6-1-6 0 3 0 3-1-8-1-2 0 6-1-3 0 2 0 1 0 1-1-5 0 1 0 3 0 2-1-9 0 11-1-10 0 3 0 6 0 1-1-7-1-2 0 1 0 1 0 2 0 1-1-4 0 4 0 2-1-9 0 9-1-9 0 1 0 6 0 1 0 1-1-2 0 4-1-6 0 5-1-3 0 1 0 2 0 1-2-6-1 1-1 2 0 2 0 1-2-2 0 1-2-2-1 2-3-2 0 3-2-4-1-1-1-4 0 5-9-6-9 10-13-9-7 6-14-3-2 6-132 11 100-4 1 1 37-6 2 1 7 9 3-8 6 6 1 0 3-1 1 3 1 0 5-6 3-1 1-3 0 9 4-1 1-6 3 1 0 4 1-6 0 3 2-2 0 3 0 3 1-8 0 1 0 9 1-10 0 9 1-9 0 2 0 7 0 1 1-3 1-8 0 5 1 4 1-9 0 8 1-5 0 4 0 2 0 2 1-9 0 1 0 7 1-9 0 6 0 3 1-1 0 1 1 1 1-7 0 1 0 1 1 0 0 1 0 1 0 2 1-8 0 5 1-3 0 2 0 4 1-8 0 5 0 1 0 1 1-8 0 6 0 2 0 2 1-9 0 1 0 2 0 2 0 3 1-8 0 1 2 1 0 3 0 3 1-9 0 2 0 1 0 4 0 3 1-7 1 3 0 1 1-7 0 2 1-3 0 6 1-4 0 1 0 2 0 4 2 0 1-8 0 1 0 8 0 1 1-11 0 6 2 5 19-11 10 5 1 3-38 5-1 5-1-5 0 7-4-7-1 1 0 2 0 5-1-6 0 1 0 1 0 5 0 1-1-2-1-5 0 7-1-11-1 0 0 8-1-4 0 4-1-7 0 4 0 1 0 2-1-7 0 1 0 1 0 6-1-5-2 2 0 1 0 1-1-6 0 4 0 3-1-8 0 1 0 1 0 1 0 6 0 1-1-1-1-7 0 2-1 2 0 1 0 1 0 1-1-10 0 4 0 1 0 1 0 2 0 1-1-8 0 1 0 3 0 3 0 1 0 1-1-4 0 5-1-11 0 2 0 4 0 3-1-3 0 2 0 2 0 1-1-5 0 1 0 3-2-7 0 5 0 3-1-4-2-7 0 5 0 4 0 1-1 0-1 0-1-4-1 1-1 0 0 2 0 2-2-11-1 9-3 0-6-3-7 3-4-1-1-6-3 2-1-1-9 3-24 2-81 2 23 2 11 2 42 4 11 2 12 3 5-1 7 0 1-7 1 2 4 1 1 2 1-4 2 7 2-6 3-5 0 8 1-4 1 5 2-2 0 2 2-9 0 2 0 2 1 1 2-3 1 3 0 4 0 1 1-4 0 3 0 1 2 0 1-10 0 2 0 6 1-6 0 9 1-5 0 1 0 2 0 2 1-8 0 3 0 2 0 3 1-10 0 3 0 4 0 3 1-7 0 3 0 4 1-8 2-3 0 3 0 1 0 1 0 3 0 1 0 2 1-11 0 1 0 2 1-3 0 6 1-5 0 3 0 1 0 4 0 1 1-6 0 4 1-8 0 2 0 5 1-3 0 2 1-5 0 6 1-3 0 4 1-1 1-6 0 1 0 5 0 1 1-8 0 7 0 3 1-8 0 2 0 2 1 0 2-5 0 7 3-2 2-2 0 5 1 2 7-1 13-1 4-8 27 7-21 5-17 0-5 4-13 2-4 1-2-8 0 9-4 2-1-10-1-1 0 10-1-7 0 8-1-9 0 2 0 5-1-6-1-1 0 3 0 1-1-6 0 3-1 2 0 3-1-5 0 2 0 2-1-5 0 7 0 2-1-7 0 7-1-7 0 2-1 2 0 3-1-11 0 2 0 6 0 1-1-8 0 1 0 2 0 3-1-5 0 2 0 6 0 1-1-2-1-6 0 4 0 1-1-6 0 1 0 1 0 1 0 4 0 1-1-5 0 4-1-6 0 2 0 3-1-7 0 1 0 5-1-6 0 2 0 5 0 1-1-9 0 1 0 9-2 1-1-11 0 6 0 1 0 4-1-11 0 4 0 1 0 4-1-2 0 2 0 2-1-5 0 3 0 1-1-5 0 6-1-7 0 7-1-6 0 5 0 1-1-1-1-3-2 4-2-10 0 5-2 5-3-4-3-3 0 1-19 1-3 4-13 0-14 1-11-9-29-2-57 17 27-4 61 10 6-4 1-6 6 8 17-1 8 0 10 3 7-4 1 0 1 2 1-2 0 3 3-9 0 1 0 3 0 1 0 4 0 1 2-5 1-5 0 3 0 4 0 3 1-8 1 4 0 2 1-8 0 2 1-1 0 6 1-5 0 2 0 2 1 2 0 1 1-5 0 4 1-3 1-6 0 3 0 2 0 4 0 2 1-11 0 3 0 3 0 3 0 2 1-8 0 3 0 4 1-2 1-7 0 1 0 1 0 6 1-9 0 1 0 6 0 1 1-4 0 1 0 5 1-10 0 5 0 4 1-9 1 0 0 1 0 2 0 1 0 2 0 5 1-11 0 3 0 4 1 2 0 1 1-10 0 3 0 1 0 1 1-1 1-3 0 7 1-7 2 2 0 1 0 2 0 4 2-2 1-8 1 1 0 1 4 2 1 2 4 0 1 0 0 2 2-5 6 7 2-1 1-6 2 17-7 3-6-9-3 5-6-6-2 6-3-3-1 1 0 2-2-6-6-1 0 8-1 0-1-2 0 5-1-8-1-2 0 1-1 2-1-3 0 2-1-3 0 9-1-7 0 2 0 2 0 2-2-3 0 4-1-8 0 2 0 5 0 2-1-8 0 2 0 2 0 5-1-5 0 1 0 4-1-11 0 1-1-1 0 4 0 1 0 3 0 3-1-9 0 7-1-4 0 6-1-10 0 1 0 1 0 7-1-9 0 1 0 3-1-5 0 1 0 6 0 3-1-10 0 4 0 2 0 4-1-2 0 3-1-4 0 3-2-6 0 5-1-2 0 3-1-6-1-1 0 1 0 2 0 1-1-2-1 5 0 1-1-7 0 4-4-1-2 3-6-10-2 4-7-1 0 5-7-2-6 0-2-3-39 7-2-1-10 0-6-4-13 1-20 2-8 0-4 0-11 13 1-4 15 4 47-8 2 8 1-4 21 0 3-2 3 8 4-5 8-1 3-4 7 0 0 8 1 2 2-10 0 5 1 3 3-3 9 2 2 0 1-8 0 4 3 3 1-6 0 2 0 2 1-1 1 1 0 4 2-1 0 2 1-5 0 5 1-9 0 5 0 5 1-10 0 4 0 2 1-3 0 3 0 1 0 1 0 1 1-6 0 1 2 0 0 1 0 5 1-5 0 2 0 3 1-10 0 5 0 1 0 1 1-8 0 4 0 3 1-7 0 1 0 1 0 1 0 2 1-1 0 2 1 2 0 1 0 1 1-9 0 2 0 7 1-2 2-3 0 3 1-8 0 2 0 1 0 5 1 2 1-5 1-2 0 4 1-6 0 5 1-6 2 6 2-6 1 0 2 4 2 1 1 2 1-6 3 0 4 2 2-3 1 6 5 1 5-6 0 1-14 12-1-2-1 2-6-2-2 0 0 3-3-3 0 4-1 3-1-7-2 0-1 2-3 1-2 8-1-10-1 4 0 1 0 4-2-7 0 4 0 3-2-10 0 10-1-9 0 2 0 6 0 2-1-10 0 3-1 3-2-6 0 6-1-6 0 6 0 2 0 1-1-6 0 4-1-6 0 3-1 2 0 2-1-6 0 7-1-10 0 2-1 3 0 1 0 3-1-7 0 1 0 3-1-6 0 3 0 1 0 3 0 4-1-8 0 3 0 1-1-6 0 4 0 1 0 2-1-8 0 7 0 2-1-4-1-4 0 5 0 5-1-7 0 3-1-2 0 2-1-3 0 7-2-9 0 3 0 1-1-4 0 2 0 2-1-3-3 1 0 6-1-8-1 1-1 2 0 3-3-5 0 7 0 1-2 0-2-11 0 7 0 2-10-7-2 7-2-5-2 5-4-2-2-7-2 4-7 0-18 2-2 3-1-1-1-6-16 3-7-4-4 10-56-1-111-6 22 18 100-10 7 1 47 0 9 8 1-3 3 3 12-5 2 0 7-2 3 3 6 5 2-9 4-1 1 10 2-6 7-4 3 2 1 8 2-10 1 7 1 0 0 3 2 0 2-5 0 5 2-4 0 2 0 1 1 1 1-10 0 3 0 1 1 0 0 2 0 2 1-8 0 3 1 1 0 3 0 4 1-8 0 1 0 1 0 6 1-10 0 8 1-7 0 4 0 3 1-9 0 5 0 5 1-3 0 3 1-9 0 5 0 4 0 1 1-6 0 2 0 1 1-6 0 1 0 8 1-10 0 1 0 1 0 5 2-5 0 1 0 1 0 1 0 5 1-9 0 2 0 2 0 3 1-2 1-7 0 4 1 0 1 3 1-7 0 1 0 1 0 3 1-4 0 10 1-3 0 2 1-7 0 5 2-4 0 3 0 1 1-6 1 3 2-3 1 6 5 1 9-5 2 3 4-7 2 8 11 3-23 1-2 5-5 4-4-6-1 0-2 2-1 0 0 1-3-5 0 7-1 0 0 2-1 1-1-4 0 2 0 1-1-8-1 6-2-5-1-3 0 4-1-4 0 8 0 2-1-5-1-2 0 4-1-7 0 4 0 2 0 2-1 2-1-9-1-1 0 2 0 1-1 1 0 5-1-7-1 7-1-9 0 1 0 3 0 1 0 5-1-9 0 4 0 1 0 1 0 3-1-8 0 2 0 4-1-7 0 1 0 5-1 0-1 2-1-5 0 2 0 5-1-11-1 2 0 3 0 1-1-6 0 5 0 2 0 1-1-7 0 6 0 3 0 1-1-11 0 1 0 1 0 4 0 1 0 2 0 2-2-8 0 4-1-4 0 1-1-1 0 1 0 4 0 2-1-1 0 1-1 1-1-5-3 3-1-8 0 2-1 0 0 1 0 6-5-5 0 6-1-7 0 2-1 4-3 1-1 0-2-6-5 4-6 1-22 0-7-7-7 4-5 4-11-11-5 0-14 4-1-4-69 7-65-6 98 13 4 1 16 2 27 6 27-1 3-2 1-5 5 1 2 7 1 0 1-1 9-9 0 8 4-1 3-3 3 3 5-5 2 8 1-7 5 7 2-5 1 3 0 1 1-1 1-6 0 5 1-4 0 1 1 2 1-4 0 5 0 3 1-4 1 1 1-8 1 9 1-4 0 3 0 1 0 2 1-11 0 6 0 4 1-8 0 3 1 1 0 5 1-8 0 1 0 3 1-4 0 1 1-2 0 7 1-9 0 3 0 4 0 2 1-9 0 7 0 4 1-10 0 3 0 3 0 2 1-7 0 2 0 5 0 1 0 1 1-9 1 0 0 1 0 2 1-5 0 1 0 8 0 2 1-11 0 1 1 2 0 1 0 2 0 1 0 2 0 1 1-9 0 2 0 5 0 3 1-6 1-5 0 1 1-1 0 6 1 3 1-6 2-1 0 2 1-1 1 3 1-3 2 1 3-1 0 3 2-5 0 3 1 6 1-9 0 5 5-5 0 3 0 4 1 1 10-1 10-8 3 2-4 13-12-2-1 6-10 3-1-8-1 7-5-7-2 3-1-2 0 5-1-3-3-3-2 2-3 0-3 0-1 0-1-1 0 5 0 3-1-7 0 5-1-9 0 8-1-1-1-4-1 0 0 5-1-8 0 7 0 2-1 1-1-10 0 2-1 3 0 5-1-8 0 4 0 1 0 1 0 1-1-9 0 1-1 1 0 3-1-4 0 1 0 2 0 1-1 0 0 1 0 3 0 1-1-3 0 1 0 3-1-11 0 8-1-5 0 3 0 1-1-6 0 3 0 1 0 1 0 4 0 1-1-10 0 5 0 2-1-6 0 4 0 2 0 3-1-4 0 4-1-5 0 4 0 1-1-4-1-3 0 1 0 2 0 1-1 2-1-10 0 2 0 6-1-8 0 3 0 7-1-7 0 3 0 1 0 4-1-6 0 3-2-4 0 5-1 2-1-3 0 1-1 2-2-8-1-2-1 5-3-3 0 7-1-1 0 1-4 1-3-2-4-3-3 2-2-3-8 6-7-4-6-6-4 10-14-4-2 2-1 2-24-4-11-3-4-2-10 5-35 4-70 6 11 5 71-1 36 2 23-4 6-5 4 6 4-3 5-4 8 7 4 1 11-3 10 2 5-2 2-3 1 1 7-3 0 5 3 4 1-8 0 9 1-8 0 4 2-1 1 5 1-10 0 2 0 1 0 1 1 3 0 3 1-3 1-6 0 1 0 3 0 1 1-4 0 4 1-4 0 1 0 2 1-2 0 5 0 1 1-9 0 4 0 2 1 1 0 1 1-5 0 2 1-5 0 2 1 0 0 1 0 4 0 1 0 2 1-9 0 3 0 2 1-2 0 1 0 5 2-8 0 3 0 4 1-8 0 2 1-1 0 3 0 5 1-11 0 1 0 1 0 1 0 3 0 3 1-3 0 1 1-7 1 2 0 9 1-11 1 3 0 2 0 1 1 1 3-5 1 5 1 3 2 1 4-11 1 10 1-6 2-3 3 3 5 5 6-5 21-3 17-1 12 12-7 9-36-9-8 5-14-1-6-1-3-1-3-1-1 1-2 6-6-7 0 1 0 2-3 0 0 3-1-3 0 5-1-6 0 1 0 2-1-3-1-2 0 6-1-6 0 3-1-2 0 5-1-7 0 3 0 4-1 3-1-10 0 10 0 1-1-10-1 1 0 1 0 1 0 6-1-9 0 6-1-6 0 1 0 1 0 2 0 1 0 2-1 2-1-9-1 7 0 2 0 1-1-11 0 4-1 4 0 2-1-9 0 1 0 1 0 2 0 5-1-5 0 1 0 3 0 2-1-5 0 2-2-2 0 3-1-7 0 6-1-1-1-4 0 4-1 1-1-4-1-1 0 2 0 2-1-5 0 6-2-4 0 1 0 2-1-2 0 5-2-9 0 3-1 3-2-7 0 6-1-2 0 5-2-5-1 4-2 2-3-9-6-1-1 3-3 4-1 4-4-8-3 3-1-4-1 0 0 6-7-3-1 1-11 3-7-7-1 9-7-8-4 1-12 4-7-6-20-1-24 5-27-1-25 17 10-1 55-4 1 6 28-9 12 9 8-9 6 3 11-2 10-1 0 5 0 4 3-7 1-4 9 9 2-4 1 4 1-7 1 8 3-8 1 6 0 1 4-6 1 8 2-7 0 6 2-1 1-1 2-1 1 1 2-4 2 2 0 1 0 2 1-9 0 4 0 1 0 3 0 3 1-11 0 3 0 5 1-4 0 7 2-6 0 5 1-10 0 2 0 3 0 2 0 1 1 1 0 2 1-10 0 3 0 2 0 5 1-10 0 10 1-5 0 2 1-6 0 2 0 1 0 3 0 2 1-7 0 3 0 2 1-8 0 8 1-8 0 3 0 5 0 1 1-9 1 0 0 4 0 6 1-10 0 3 0 1 0 1 0 1 0 2 0 1 1-7 0 1 0 1 2 3 1-3 1-2 0 6 2-2 0 1 1-4 0 7 2-4 0 2 0 3 1-10 1 0 0 1 2 1 0 2 0 1 1-6 0 4 1 0 1-3 1 6 1-7 0 2 0 4 1-6 0 4 1-1 0 4 1-5 4 7 1 0 6-8 5 0 27 2 7 8-27 2-8 5-8-6-6 0 0 2-2-1-2 3-5-1-1 8-1-7-1 6-3-10-1 4-2-3-1 2-1-3 0 3 0 1-2 5 0 1-1-10 0 10-2-3 0 3-1-8 0 8-1-3-1-7 0 8-1-7 0 5-1-2-1-2 0 4-1 5-1-6-1-5 0 1 0 4 0 3-1-4 0 2-1-1 0 5-1-8 0 4 0 5-1-10 0 2 0 2 0 2-1-4-1 1 0 1 0 1 0 2 0 3-1 0-1-8 0 7-1-4-1-1 0 1 0 3-1-8 0 7 0 2-1-7 0 3-1-6-1 6 0 3-1-1 0 3-1-9 0 1 0 4 0 3-1-9 0 6 0 1 0 1-1-6 0 2 0 3-2-4 0 4-1-4-1 7-2-1 0 1-2-6-1-5-1 6-1 0-2 5-8-2-1-8-3 7-1-1-9-4 0 6-6-5-1-3 0 4-4-1-10-4-5 0-6 6-3-5-7 6-24-2-7-4-81 17 37 4 12-3 39 4 3-2 7 0 10-2 1-7 4 11 8-6 4-2 1 2 7 0 0 1 6-5 4 8 5-3 0 5 1 0 1-3 7-3 1 6 1-8 3 5 1-4 0 5 1-1 2 3 1-2 2-9 0 8 1-7 1 6 2-1 0 3 3-5 1 1 1-2 0 2 1 3 1-8 0 4 0 1 0 3 1-5 0 1 0 1 1 1 0 5 1-2 0 2 1-11 0 3 0 1 0 2 0 1 0 3 1-7 0 5 0 2 1-9 0 6 1-3 0 6 1-9 0 9 1-10 0 6 0 2 0 2 1-10 0 2 0 1 0 5 1-7 0 9 0 1 1-7 1-3 0 5 1-4 0 4 0 2 0 2 1-10 0 6 0 1 0 1 0 2 1-6 0 6 1-9 0 5 1-5 0 3 0 1 0 6 1-6 0 1 1 1 1-7 1 0 0 7 1-2 0 1 0 2 1-8 0 2 0 4 0 4 1-10 0 5 0 2 1-5 0 4 0 2 2-8 0 3 2 4 1-4 1-1 2 3 2-5 2 0 0 1 2 1 2-1 3 6 7 0 11-4 2 8 17-7-30 11-2 4-5 4-9-10-1 1 0 8-1-4-4-5-3 1-1 5-1 1-5 1-1-5-1-1-1 0-1-3 0 5-1 3-1 0-4-2-1-6 0 3-1-3-1 0 0 3 0 3-1 0 0 1-1-2-1-4 0 6 0 2 0 1-1-4-1-6 0 1 0 1 0 8-1-9 0 3 0 6-2-3 0 3 0 1-1-5 0 1-1-7 0 4 0 3 0 1 0 2-1-4 0 2 0 2-1-10 0 7 0 2 0 1-1-7 0 2 0 3 0 3-1-4 0 1 0 1 0 1-1-2 0 1 0 1 0 1-1-6 0 4-1-5-1-2 0 7 0 2-1-11 0 1 0 8-1-3 0 5-1-10 0 6-1-2 0 5-1-5 0 3 0 1-2-4-1-5 0 6 0 4-1 0-1-9-1 7 0 3-1-6-1 0 0 5-10-2-3-3-4 1-1 0-5-5-8 1-11 1-5-2-1 6-2 0-19 2-95 14 16-6 40 3 4 0 8 0 29-4 16-1 1 6 1-4 0 4 2 2 2-5 6 3 4-1 2-8 4 8 1-6 1 7 4-6 2 8 2-2 2 0 1-8 2 1 3 4 0 4 2-10 2 1 0 4 1 4 1-7 0 3 1-5 1 10 1-2 1-3 0 1 0 4 1-2 0 1 2-9 0 3 1 4 0 2 1-6 1 3 0 3 1-9 0 1 0 2 1 3 1-4 0 3 0 1 0 4 0 1 1-4 0 1 0 2 1-8 0 3 1 0 1-1 0 1 0 1 0 3 1-7 0 3 0 3 0 1 1-8 0 1 0 3 0 1 1-3 0 5 0 2 1-9 0 6 2-6 0 6 1-6 0 1 0 4 0 2 0 3 1-11 0 1 0 8 1-7 0 1 0 4 1-7 0 1 0 7 1 3 1-9 0 7 0 2 2-11 0 11 1-10 0 10 1-2 0 1 4-10 0 3 3-2 6 3 5 4 2 3 2-11 8 0 2 1 9 2 2 3 8 3 3-6 32 6-47 6-4 5-7-3-4 1-2-4-6-2 0 10-8-2-5-2-3 2-2-2 0 5-2-4-1-6-3 7-1-8 0 2 0 1-2 4 0 2-1-3-1-4 0 1 0 8-1-5-1-3-1-1 0 9-2-10 0 9-1-10 0 7-1-7 0 3 0 3 0 1 0 1-1-3-1 3 0 1-1 2-1-10 0 1 0 1-1 2 0 2-1-7 0 1 0 2 0 3 0 2-1-4 0 5-1-4 0 6-1-4 0 3-1-10 0 3 0 3 0 3-1-6 0 5-1-8 0 5 0 5-1-2 0 1-1-7 0 7-1-8 0 2 0 2 0 5 0 1-1-10 0 6-1-3 0 7-1-6-1 3 0 2-1-6-1-2 0 2 0 6-1-7 0 3-1 3-3-9 0 3 0 4-3 3-3-3 0 4-1-5-1-6-1 8-1-7 0 10-3-10-10 8 0 1-5-9-5 3-5 6-1-2-7-1-2 2-5-4-2 0-5 3-11-3-5-4-1 0-11 3-1-3-46 15 2 2 3-5 22 7 0 1 8-5 24-3 7 2 7 0 1 3 1 0 0 2 2-8 5 6 0 4 5 1 3-10 11 3 4 3 3 3 1 0 1-10 0 5 0 2 2-1 2-6 0 9 0 1 1 0 4 0 0 1 1-7 0 7 2-3 1-6 1 5 1 2 1-4 0 6 1-7 0 5 1-7 0 1 0 1 0 1 0 1 0 2 0 1 0 2 1-5 0 1 0 1 0 3 1-6 0 5 0 1 2-8 1-1 0 2 0 2 0 1 1-7 0 3 0 3 0 2 1 2 1-8 0 7 1-8 0 1 0 2 0 2 0 2 2-2 0 2 0 2 1-8 0 6 0 2 1-10 0 1 0 3 0 2 0 3 0 1 1-5 0 4 0 1 1-7 0 7 1-10 0 1 0 3 0 5 1 0 1-8 0 1 0 6 0 2 1-8 0 4 0 3 1-8 0 4 1 0 1-4 0 6 0 4 1-10 0 6 1-3 0 7 1-10 0 4 0 3 1-8 1 1 0 3 0 4 1-4 0 6 1-10 0 1 0 5 0 3 2-6 0 4 3-6 0 2 0 2 0 1 1 3 2-8 0 8 1-2 1-5 1-1 3 9 1-3 1 2 1-5 4 5 2-4 3-4 3-1 3 8 3-5 4-2 21 8 6-5-1 16-5-3-13 0-13 5-1-8-9 4-1-2-5-1-1-2 0 8-4-6-1-3-1 6-3-2-1-3 0 6-9-6 0 6-1-3-1-2 0 8-2-4-1-4 0 3 0 1-1 4-1-9 0 1 0 2-1 7-1-8-1 0 0 1-1 7-1-6-1-2 0 2 0 5-1-10 0 1 0 1 0 6 0 1 0 1-1-9 0 4 0 2 0 1-1-1 0 2-1-4 0 4-1-9 0 1 0 1 0 2-1 5-1-9 0 3 0 4 0 2-1-9 0 6 0 3 0 1-1-8 0 3 0 1-1-6 0 3 0 1 0 1 0 1-1-6 0 1 0 2 0 3 0 4-1 0-1-6 0 1 0 4 0 2-1-1-1-9 0 4 0 1-2-3 0 1 0 3-1-6 0 3 0 1 0 3 0 1-1-6 0 1 0 5-1-1-1-6 0 7-1-3 0 3-1-9 0 2-1 1 0 5-1-5 0 2 0 4-1-1 0 3-1-11 0 7-2-4 0 8-1-1-4 1-1-3-1-5 0 6-1-2-1-4-1 6-10 0-1 1-3 0-1-8 0 8-2-4-3 2-7 0-8-1-1-2-3-4-3 8-1-9-1 8-1-4-6 4 0 2-2-10-16 5-17-5-12 1-5 10-12-3 1 10 14-3 9 4 3 4 1-5 2-4 5-2 3 6 5 2 5-6 2 0 0 1 10-3 5 11 1-8 2 3 8 4 1-2 0 1 3 0 4-5 2 2 1 3 1-5 1 7 3-11 2 0 1 7 0 3 0 1 2 0 1-4 0 4 2-3 1-1 0 3 1-9 1 10 1-1 3 0 1 0 1 1 1 0 1-2 1-7 2-1 0 3 1 3 0 2 1-6 0 7 1-8 0 1 0 3 0 2 0 1 1-7 0 1 0 6 2-8 0 6 0 1 1-3 0 2 0 2 0 1 1-10 0 2 0 3 0 5 0 1 1-6 0 5 0 1 2-9 0 5 0 4 1-10 0 2 0 1 0 4 1-6 0 4 0 4 1-8 0 4 0 2 1-2 0 1 1-7 0 4 0 1 0 4 0 2 1-11 0 3 1-3 0 9 1-6 1-1 0 3 0 1 0 2 1-8 0 1 0 4 0 1 0 3 1-7 0 1 0 6 0 1 1-9 0 2 0 1 0 6 1-8 0 7 0 1 1-10 0 2 0 1 0 7 1-9 0 3 1-4 0 2 0 3 0 5 1-10 0 2 0 1 1 3 0 1 1 4 1-8 1 7 1-5 1-1 1-4 0 7 1-3 0 1 1-5 1 3 0 4 2-3 2 3 0 1 2-3 2-4 0 5 1 0 0 1 1-6 1 3 1 2 5-4 2 6 3-4 0 6 4-3 2-1 4-1 0 4 5-6 6-3 11 0 2 9 8-8 4 8 13-2 13 3-13 7-28-4-17 8-1-7-4-1-3 6-5-4-3 1-8-1-3-2-1 5-2 4-1-4-2-6-1 1-1 6-2 2 0 2-3-3-3-7-1 5-3-5 0 1-1 4-1-3 0 4 0 3-2-4-1-3 0 3 0 2 0 1-1-2-1-7 0 1 0 9-1-8-1-2 0 6-1 2-1-2 0 2 0 2-1 1-1-11 0 1 0 1 0 9-1-5-1-6 0 3 0 1-1-3 0 5 0 3-1-8 0 3 0 1-1-5 0 4 0 1 0 1 0 5-1-5-1-3 0 1-1-1 0 2 0 4 0 2-1-11 0 2 0 2 0 4-1-3 0 1 0 2 0 3-1-11 0 3-1-2 0 5 0 3-1-3-1-5 0 2 0 1 0 1 0 2 0 2 0 1 0 1-1-11 0 4 0 3-1-1 0 1-2 3 0 1-2-5 0 1 0 1-1-8 0 1 0 1 0 9-1-10 0 10-1-1 0 1-1-9-1 3 0 3-1-8 0 1 0 6 0 3-1-10-1 0-1 1-1 8 0 2-1-10-1 7-1-1-1-2-1 0-1 4-3 1-1-2-2-1-2 0-1-3-1 7-5-3-1-1-1-6 0 9-3-6-6 4-5-1-1 4-5-10-12 2-11-2-11 0-14 0 0 5-4 4 3 2 8 9 5 1 3 1 3-3 4-8 7 11 3-5 4 4 2-3 1-1 2-1 4 0 3 1 1 0 1-1 1-1 0 4 6 2 2-4 2 5 4-3 0 2 1-6 1-1 0 2 1-3 0 5 2 3 0 1 1-4 1 4 1-9 0 6 3-1 0 3 1-5 0 2 1-6 0 1 1 2 0 6 2-10 0 10 1-8 1-1 0 4 0 1 0 5 1-3 0 2 1-5 0 5 1 1 1-6 0 5 1-3 1-4 0 3 0 2 0 3 1-4 0 3 0 1 1-10 0 1 0 1 0 6 1-9 2 2 0 7 1-4 0 1 0 1 0 1 0 2 0 1 1-11 1 10 1-10 0 3 0 3 0 2 0 3 1-11 1 0 0 3 0 5 0 1 1-9 0 2 0 1 0 6 1-7 0 2 0 1 0 3 1-2 1-6 0 3 0 6 1-9 0 3 0 2 0 4 1-6 0 5 1-8 0 10 1-9 0 2 0 7 1-10 0 6 0 2 1-1 0 1 1-5 0 2 1-2 1-3 0 2 0 9 1-7 0 6 1-9 2 2 0 3 0 2 0 3 2-6 0 4 1-8 1 3 1-4 0 1 0 2 0 1 2 2 2-6 1 1 0 7 1-8 3 8 1-8 0 5 1-3 1 1 2 7 1-2 2-7 0 5 0 2 0 3 1-6 1-3 3 4 4 2 6-4 4 2 1 1 10-3 6 5 58-5-48 10-7 7-15-5-4-3-5 6-1-1-3 4-8 0-3 1-1-11-1 11-1-2-1-5-2-1 0 6-2-6-9 3-2 0 0 5-1-8-1 0-3-2 0 5-1-6-1 4 0 7-1-2-2-9-1 7 0 2 0 1-1-10-1 4 0 6-1-3-1-5 0 4-1-3 0 1-1-3 0 6-1-5 0 6-1-6 0 2-1 1-1-5 0 3 0 1 0 4-1-2 0 2-1 1 0 2-1-10 0 4-1-2 0 1 0 6-1-6 0 6-1-9 0 6 0 3-1-5-1-3 0 5 0 3-1-5 0 3-1-7 0 1 0 2 0 5-2-4 0 1 0 3-1-9 0 11-1-11 0 3 0 1 0 3-1-5 0 3 0 1-1-4 0 1 0 6 0 2-1-8 0 8-1-8 0 5 0 2-1-7 0 2-1-2 0 5-1-2 0 1 0 4-1-11 0 5-1 0 0 3-1-8 0 4 0 2 0 5-1-10 0 5 0 1 0 1 0 2-1 0 0 1-5-5-1-6-1 3-1 4 0 2-1-3 0 3 0 2-1-7 0 4-1-3-1 3-1-3-7 1-1-4 0 2-1 3 0 4-1-1-1-6-2 3-2-6-4 0-1 4-1 6-1-7-2 7-2-6-1 4-3-4-2-2-2 1-4 7-5-6-1-4-2 9-1-9-9-1 0 7-10-3-1 16 3 0 1-8 1 11 3-11 4 11 3-4 1-6 3 10 6-10 0 2 1 7 1-1 6-5 0 2 1-2 0 5 3-2 2 2 1-6 1 5 0 1 0 1 2-5 2-2 2 7 1-8 1 2 3-4 1 11 3-2 1-5 1 3 0 3 2-10 0 8 1-4 1-2 0 7 1-6 0 8 1-9 0 2 0 7 1-5 1-5 0 4 2 5 2-8 0 3 0 2 1-7 0 10 0 1 2-10 0 1 0 3 0 1 0 3 1-5 0 2 1-3 1-1 0 8 1-9 0 3 0 6 1-5 0 2 0 1 0 1 0 2 1-11 0 8 1-6 0 3 0 1 1-5 0 5 0 2 0 2 0 1 1-6 0 5 1-9 0 3 0 1 0 6 1-7 0 1 0 4 1-4 1-3 0 1 0 2 0 2 1-7 0 2 0 4 0 3 1-6 0 3 1-5 0 8 1-8 0 1 0 9 1-7 0 3 0 1 1-2 1-5 0 1 0 4 1-6 0 6 0 3 1-1 0 1 1-5 1-2 0 3 1-4 0 3 0 2 0 3 1-6 0 4 1 1 0 2 1-8 0 1 0 7 1-8 0 9 1-7 0 1 1-3 0 5 0 3 1-4 1-2 1 2 1-4 1 0 1 6 0 3 2-11 2 6 1-6 1 4 0 3 5 2 1-5 1-1 1 4 1 2 1-7 2 0 0 6 2-1 0 2 4-9 0 4 26 0 2-3 4 3 2-2 80 5-72 7-4 8-11-2-8-6-19 0-1-1-9 6-2-5 0 2 0 4-6-4-1 3-7 2-3-9 0 5 0 3-1-6 0 9-1-11 0 2-2 0-2-1 0 2 0 2-1 6-1-8 0 5-1-4-1-3-1 1-1 0 0 4-2 0 0 2 0 1-1-9 0 3-1 4 0 1-1-6 0 6-1-7-1-1 0 1 0 4 0 2 0 4-1-11 0 1 0 4 0 3-1-8 0 9-2-8 0 3 0 1 0 1 0 2-1-6 0 3 0 5 0 1-1-6 0 3-1-7 0 2 0 6-1-8 0 5 0 5-1-11 0 7 0 1-1-8 0 2 0 2-1-2 0 2 0 1 0 1 0 2 0 3-1-9 0 1 0 1 0 4-1-6 0 2 0 2 0 1 0 2 0 1 0 1-1-11 0 2 0 1 0 1 0 4-1-7-1 6-1-4 0 3 0 2 0 1 0 1-1-10 0 4-1-2 0 3 0 5-1-8 0 4 0 2 0 1 0 1-1-9 0 1 0 1 0 8-1-7 0 4 0 3-1-10 0 1 0 2 0 1 0 2-1 0-1-1 0 3-1-4 0 3 0 3-1-9 0 5 0 1 0 1 0 1-1-2-2 0-1-8 0 3-1 5 0 2-1-7 0 3-1-4-1 4-2 2 0 2-1-7 0 1-1 3-3-7 0 4-2 7-1-9-1 7 0 1-1-8-1 7-9-5-1 0-5-1-7 3-2 2 0 3-2 0-3-6-2 5-7-8 2 16 1-5 0 4 6 4 3-3 1 4 3-7 0 8 1-6 0 6 3-4 2 4 4-6 5 1 1 5 1-5 0 3 1-9 1 5 2 4 0 1 0 1 1-11 0 4 0 5 0 1 2-2 0 3 1-10 1 8 0 2 2-1 1-8 1 2 1 5 1-8 0 9 1-10 0 6 1-6 0 5 0 1 1-6 0 6 1 3 1-9 0 5 0 4 1-5 0 1 0 2 0 3 1-10 0 9 1-4 0 4 1-6 0 3 0 3 1-9 0 4 1-1 0 2 0 5 1-10 0 2 0 7 0 2 1-10 0 5 1-3 0 1 1 0 0 2 0 3 1 0 1-7 0 1 0 6 1-8 0 1 0 3 0 1 0 5 1-10 0 9 1-10 0 1 0 2 1 2 0 2 1 0 1-7 0 3 0 4 1-4 0 2 1 0 1-5 1 0 0 1 0 2 0 3 0 1 1-4 0 1 0 5 2-9 0 3 0 7 1-6 1-3 0 4 1-3 0 7 1-6 0 5 2-2 2-4 1 2 0 1 0 5 2-10 0 2 3-1 0 4 1-3 0 9 1-10 1 1 1 2 2-4 0 1 6 4 4-5 0 3 0 6 12-2 3-5 17 9 5-11 9 8 8 0-10 4-30 7-7-4-6 8-4-4-6 2-1-3-1-5 0 2-3 1-3-1-2 2-1-1-1 0 0 6-1-7-2 2 0 1-1-1 0 2-1-7 0 4-1-4 0 2-3 0-1 1-1 1-2 6-1-5 0 3-1-7 0 1-1 2 0 6-1-10 0 5-1 0-1-4 0 2-1-1-1 3 0 3 0 1-1-9 0 5-1-5 0 7-1 2-1-7 0 1-1-2 0 2 0 7 0 1-1-6 0 1-1 1-1-6 0 3 0 1 0 4-1-7 0 1 0 2-1-5 0 2-1-1 0 3-1 4-1-3 0 2 0 2-1-8 0 1 0 5 0 3-1-4 0 4-1-10 0 1 0 10-1-7 0 1 0 1 0 2 0 2-1-6 0 5-1-9 0 4 0 1 0 3-1-4 0 1 0 4 0 1-1-1 0 1-1-7 0 1 0 6-1 1-1-7 0 1 0 2 0 4-1-2-1 0 0 1 0 1-1-9 0 7-1 2-1-10 0 5 0 5-1 0-1-10 0 6-1-2 0 2-1-4 0 4 0 3-1-1 0 2-1-8 0 1-1 2-1-6 0 7-1-4 0 6-1-1 0 1-1-7-1 0 0 7-1-1 0 3-1-10 0 4-1 5-1-10 0 7-2-5-1 0-1 7-1-5-4 3-2 2-1-4-1-5 0 1 0 10-1-7-1-2 0 1 0 3 0 2 0 2-1 1-3-11 0 3 0 8-1-10 0 6 0 1-1-6 0 2 0 8 2 3 5-1 3 2 0 4 1-1 0 3 0 1 1-10 0 10 1-9 1 3 1-3 0 6 0 2 0 1 1-8 1 3 1 2 1-8 0 2 2 7 1-9 0 9 1-4 0 1 1-3 0 2 1 1 0 3 1-7 1 9 1-11 0 3 0 3 0 1 0 3 0 1 1-11 0 3 1-1 0 2 0 2 0 4 0 1 1-7 0 7 1-9 0 2 1-2 1-1 0 2 0 5 1-5 0 2 0 1 0 4 1-8 0 1 0 1 0 4 0 3 1-11 0 5 1 1 1 4 0 1 1-11 0 5 0 3 1-8 0 3 0 4 0 2 1-8 0 2 0 2 2-3 0 5 0 3 1-8 0 5 0 1 0 1 0 1 1-3 0 1 0 1 1-8 0 10 1-10 0 1 0 2 0 3 1-7 0 5 1-1 0 5 1-8 0 5 0 4 1-9 0 10 1-9 1 1 0 2 0 3 1 2 0 1 1-3 1-5 0 1 1 6 1-10 0 1 0 1 0 4 1 1 1-3 0 1 2-1 0 2 1 5 1-10 1 0 0 1 0 2 0 2 1-6 1 0 4 4 0 5 0 2 2-10 4 2 2-1 5-1 8 0 6 3 2 4 1 1 6-3 3-2 8-2 3 5-27 6-4 1-4 3-1-5-7 5-3 6-2-8 0 7-2-8-3-1-3 3 0 6-1-9-2 0-3 3-1-3-3 5 0 1-1 2-1-5 0 3-1-2 0 5-2-10 0 5 0 5-1-9 0 4-1-3 0 1-1 3-3-6 0 1 0 7-1-7-1 1 0 1 0 3-1-6-1 0 0 7-1-5 0 1-1 5-1 0-1-7 0 3 0 2 0 3-1-5 0 1 0 4-1-6-1-3 0 2 0 5 0 2-1-2 0 1 0 1-1-4 0 2 0 3-1-9 0 2 0 4 0 2 0 2-1-8 0 7-1-10 0 1 0 9-1-10 0 6-1-4 0 3 0 2 0 1 0 2 0 1-1-6 0 4 0 1-1-9 0 5 0 3-1-1 0 3-1-10 0 2-1-3 0 3 0 5 0 1-1-6-1 2 0 2-1-6 0 2 0 7-1-8 0 2 0 2-1-3 0 7-1-10 0 5 0 6-1-10 0 10-1-2 0 1-1-4 0 2 0 1 0 1-1-8 0 3-1-5 0 1 0 5 0 4-1-5 0 1 0 3-1 2-1-8 0 8-1-6 0 6-1-9 0 9-1-10 0 2-1 3 0 1 0 2-2-5 0 4 0 3-1-3 0 1 0 1-1 3 0 3 1-2 0 3 0 5 1-8 0 3 1-5 0 9 0 1 1-7 1-1 0 5 1-2 1-4 0 4 0 5 0 1 1-11 0 7 0 2 1-7 1 3 0 5 1-7 0 2 0 1 1-3 0 7 1-10 0 1 0 7 0 3 1-11 0 4 0 1 0 3 0 1 1-6 1-1 0 1 0 2 0 4 1-4 1-4 0 7 1-8 0 1 0 2 0 3 1-6 0 5 0 5 1-9 0 1 0 8 1-10 0 2 0 2 1-2 0 2 1 4 1-7 1 1 0 4 1 5 1-8 0 4 0 2 1-8 1-1 0 2 0 1 0 8 1-8 1-1 0 1 0 3 1-4 0 1 1 0 1 0 0 4 0 1 0 2 3-7 0 4 1-5 0 2 1 5 1-4 1-5 1 0 0 3 1-1 0 4 1-2 0 3 1-7 2 3 1-1 3 0 2 3 1-1-25 8-5 1-2 2-3-3 0 3-1-2-1-1 0 1 0 3-1-1 0 1-1-3-1 2-1 1-1-2-1-2 0 1 0 3-1-4 0 1-1 0-1 2 0 3-1-6 0 2-1-2-1 0 0 3-1 1-1-2 0 2 0 1-1-4 0 5-1-6-1 0-1 2 0 2"/><path transform="scale(.5)" fill="none" stroke="none" marker-start="url(#mo)" marker-mid="url(#mo)" marker-end="url(#mo)" d="M668 168l50 0 18 7 2 2 37-2 0 4 2-3 0 1 1 0 2-2-1 6-5-1 0 1 0 3-1 0 0 1-1-1 0 2-1-5 0 1 0 3 0 1 0 1-1-3 0 3 0 2-1-7 0 3 0 1 0 1 0 1-1-4 0 1 0 3-1 0 0 1-1-3 0 2-1 1 0 1 0 1-2-2-1-1 0 2 0 1-1-1-9-8 0 8-2-4-1 2-9 1-19-3-28 5-64 8 19-3 68-4 5 2 1 4 2 0 12 0 6-3 0 8 4-2 2-4 1 6 1-9 0 1 0 8 1-2 0 1 0 1 1-8 0 2 0 3 0 1 0 1 1-4 0 2 1-4 0 7 1-7 0 1 0 1 0 2 0 1 0 2 1-7 0 1 0 4 0 1 1-7 0 3 0 4 1-10 0 1 0 1 0 4 0 1 0 4 1-11 0 5 1-3 0 1 0 1 0 2 0 1 1-7 0 1 0 2 0 1 0 1 0 1 0 1 1-4 0 7 1-10 0 3 0 4 1-6 0 5 1-5 1-1 4 9-5 3-6 2 0 7-1 2-1-11-1 0-1 0 0 1-1 1 0 4 0 4-1-10 0 2-1-2 0 4 0 2-1-4 0 3 0 1-1-6 0 5-1-3 0 1 0 1 0 1 0 2 0 2-1-9 0 1 0 1 0 5 0 1-1-5 0 1 0 1 0 3 0 2-1-9 0 1 0 1 0 3 0 1-1-7 0 1 0 2 0 1 0 1 0 5 0 1-1-7 0 1 0 1 0 1 0 4-1-5 0 2 0 1-1-1 0 1-1-2 0 2-2-5 0 4 0 1-1-1 0 3-1-4 0 1 0 3-1-9 0 5 0 1-1-4-1 2-1 5-1-9-2 1-2 6-3-2-9 4-10-10-34 4-2 0-42 6 58 8 1-4 14 6 0 1 5-10 5 11 4-7 5 7 1 0 1-8 1 7 1-7 0 5 2-6 0 5 0 1 1-8 0 5 0 6 1-8 0 4 0 4 1-3 0 3 1-4 0 1 0 2 1-6 1 2 0 1 0 2 1-8 0 1 0 5 0 2 0 2 1-7 0 2 0 2 0 1 0 1 1-8 0 1 0 2 0 2 0 2 1-7 0 2 1-3 0 1 0 1 0 1 0 1 0 1 0 4 1-6 0 1 1-4 0 1 0 3 0 1 1-6 0 5 0 4 1-9 0 1 0 3 0 2 0 1 1-4 0 3 0 2 1-7 0 1 1 4 1-6 0 7 2-2 1-5 0 1 3 3-8 8-1 6-2-3 0 2-1-3-1-2-2 0 0 8-1-3-1-5 0 3-2-1 0 2-1-3-1 0 0 1 0 2 0 1 0 2 0 1-1-5 0 2-1-2 0 1-1 0 0 1-1-4 0 1 0 3 0 2 0 1-1-5 0 3 0 2-1-6 0 2 0 2-1-5 0 1 0 1 0 1 0 1 0 1-1-6 0 1 0 1 0 1 0 2 0 3 0 1 0 1 0 1-1-7 0 1 0 1 0 1 0 1 0 1 0 1 0 1-1-6 0 4-1-4-2-1 0 3 0 2-1-8 0 4 0 1 0 3 0 2-1-11 0 6 0 1 0 2-2 0 0 2-1 0-1-5 0 3-12-9 0 7-3-3-4-3-5 4-6 5-7-3-15 4-22-2-11 9 9-3 14 2 8-4 17 2 3 6 4-4 8 2 5 3 3-1 1 2 1-9 1-1 1 7 1 1 1-2 0 3 1-10 0 8 1-1 0 1 0 3 1-2 1-5 1 1 0 5 1-8 0 1 0 1 0 2 0 2 1-7 0 7 1-3 0 1 0 1 1-3 0 7 1-9 0 4 1-1 0 1 0 3 1-7 0 1 0 1 0 1 0 3 0 1 1-9 0 1 0 1 0 1 1-2 1-1 0 9 1-9 0 5 0 2 1-7 0 1 0 2 0 4 0 2 0 1 3-7 0 2 1-5 0 1 2 1 1 5 10-2 1-2-6 19-8-5-3 3-2-7 0 5-2 2-1-8-3 0-1 1-2 1 0 2-1-1 0 3-1-6-2 1 0 3 0 2-1-5 0 5 0 2-1-8 0 1 0 2 0 4 0 1-1-7 0 1 0 2 0 1-1-5 0 2 0 1 0 6-1-7 0 1 0 2 0 5-1-9 0 5-1-3 0 1 0 1 0 2-1-5 0 3 0 1 0 1 0 4-1-9 0 4 0 1-1-6 0 7-1-2 0 3 0 1-1-9 0 3 0 3 0 3 0 1-1-4 0 4-1-8 0 2 0 5-1-10-4 10-1 1-8-7 0 2-5-5-3-1-4 7-14 1 0 2-6-6-23 4-3 2-15-8-136 14 107-2 16 9 29-8 5 7 18-9 1 0 7 2 3-2 6 4 1 2 2-6 0 8 5-5 0 4 2-3 0 3 0 2 1-9 0 10 1-4 0 4 1-8 2 0 1-3 0 11 1-3 0 3 1-6 0 3 0 2 0 1 1-3 1-5 0 3 0 3 0 2 1-6 0 2 0 2 0 1 1-10 0 5 0 6 1-8 0 3 1-3 0 3 0 3 0 2 1-10 0 10 1-9 0 2 0 7 1-8 0 1 0 2 0 1 0 1 1-6 0 1 0 3 0 1 0 2 0 1 1-10 0 2 1-1 0 6 1-5 0 1 0 2 1-5 0 1 0 4 0 5 1-9 0 6 0 1 1 1 0 2 1-9 0 1 0 4 0 1 0 2 1-4 2-2 1-2 0 3 0 2 0 1 0 2 1-5 1-3 2-2 0 1 2 4 1-3 2 0 0 8 15-4-22 6 0 5-8-5-2 0-1 1 0 1-3 1 0 4-1 1-1-4-1 3-1-4-1-2 0 2 0 5 0 2-1-8 0 1 0 3 0 4-1-4 0 3-1-9 0 1 0 1 0 2 0 1-1-2 0 7-1-7 0 1 0 1 0 4 0 1-1-10 0 5 0 2 0 2-1-4-1-5 0 3 0 6 0 2-1-9 0 4 0 2 0 2 0 1-1-8 0 4 0 1-1-4 0 4 0 3-1-11 0 4 0 2 0 3 0 2-1-7 0 5 0 2-1-10 0 6 0 1 0 1 0 2-1-1-1-5 0 5-1-10-1 11-4-4-1 4-3-4-2 4-1-2-4-9-2 9-1-6-7 7-6 0-2-1-4-6-7 4 0 2 0 2-3-3-8-4-7 6-43-8 0 4-63 15 8-1 56-1 22 4 1-11 29 8 1 0 2-5 4 8 19-3 1-3 0 3 3-8 1 5 0 5 3-6 0 1 2 0 0 3 1-2 1 1 2-1 1-1 0 5 0 1 1-3 1-1 1-5 0 5 1-3 0 1 0 4 1-6 0 1 0 7 1-6 1-3 0 2 0 3 0 2 1-4 0 3 0 3 1-10 0 2 0 1 1-4 0 4 0 6 1-10 0 3 0 1 0 3 0 1 0 3 1-10 0 2 0 1 0 3 0 3 1-7 0 2 1-3 0 1 0 6 1-8 0 2 0 5 0 1 1-9 0 1 0 2 0 2 0 6 1-10 0 1 0 1 0 1 0 4 1 2 1-5 0 4 1-7 0 1 0 5 1-6 0 1 1 6 2-9 0 3 0 1 0 5 1-9 1 3 1-2 2 4 1-1 5-3 1 7 17 3-22 6-5 4-4-7 0 5-1-4-2-3-1 6-1-6-2 9-2-9 0 3-1 0-2-2 0 4 0 1 0 2 0 3-1-10-1-1 0 4 0 2-1-4 0 5-1-2 0 1-2-6 0 1 0 3-1-1 0 3-1-4 0 1 0 1 0 2 0 4-1-8 0 2 0 1 0 2 0 1 0 1 0 1-1-7 0 1 0 2 0 3-1-9 0 6 0 2-1-8 0 3 0 2 0 1 0 3 0 2-1-9 0 2 0 5 0 1-1-6 0 3 0 2 0 1-1-7 0 5 0 1 0 1 0 1-1-6 0 3 0 1 0 2-1-5 0 5-1-10 0 1 0 3 0 1-1 2-2-4-1-1 0 7 0 1-1-7 0 3-1 3 0 1-1-10 0 8-3-9-1 11-6-11-1 11-7-2-5 1-1-2-7 1-1-3-1 3-7-4-6-5-2 0-31 5-10 2-13 2-38-5-62 17 111-7 21 2 14 1 23-3 4 9 4-8 5 5 3-5 2 8 1-2 1 1 2-2 1-4 1 7 1-4 1-1 0 1 1-6 1 0 0 4 0 5 0 1 1-8 0 2 1 4 0 1 0 1 1-10 0 10 1-7 0 3 1-3 0 2 0 3 0 1 1-5 0 1 0 2 1-6 0 2 0 1 0 3 1-3 0 1 0 1 0 3 1-8 0 3 0 5 0 1 1-9 0 1 0 6 0 1 1-8 0 5 0 2 1-9 0 3 0 2 0 2 1-7 0 1 0 2 0 1 1-4 0 1 0 1 0 8 1-10 0 4 0 5 1-3 1 4 1-8 0 2 1 5 0 2 1-11 0 1 0 2 0 2 0 2 1-6 0 8 1-9 0 4 0 7 1-11 1 2 1 6 1-8 3 2 37-1-17 20-2-3-25 1-3-2-2-2-1-1-2 6-1-8-1 6-1 1-1-7 0 2 0 3-1-3 0 5-1 0-1-7 0 1 0 2 0 4-1 0 0 1-2-4-1-4 0 2 0 4 0 3 0 2-1-11 0 1 0 1 0 1 0 1 0 1 0 5-1-9 0 1 0 8-1-8 0 3-1-5 0 5 0 2-1-5 0 4 0 2-1-6 0 4 0 1 0 1 0 1-1-3 0 2-1-6 0 2 0 5 0 2-1-8 0 2 0 4 0 1-1-10 0 6 0 4-1-4 0 2 0 2-1-9 0 1 0 5 0 1 0 3-1-5 0 2 0 1-1-8 0 8-1 1 0 1-3-1-1-4 0 4-1-8-1 7-1 2-5 0-8-3-1-1-3-4-2 4-3-4-7 2-2-5-1 0-1 5-16 6-26-10-1 10-22-10-9-1-114 10 103 10 39 1 17-9 1 11 4-2 15-3 2 4 4-8 5 4 1-4 1 6 7-4 6-3 0 7 4 2 1-6 0 4 2-3 1-3 0 6 0 2 2-6 0 6 0 1 1 0 2-4 0 2 1-2 0 2 1-1 1 1 0 1 1-1 0 1 1-7 0 2 0 1 0 2 1-2 0 1 0 1 1-7 0 2 0 3 0 1 0 4 1-10 0 4 1-3 0 1 0 3 0 1 0 1 0 2 1-10 0 11 1-11 0 2 0 2 0 2 0 3 0 1 1-10 0 4 0 1 0 5 1-8 0 2 0 1 1-3 2-2 0 3 0 3 1 4 1-7 0 4 1 3 1-10 0 6 0 2 1-8 0 1 0 4 1-4 2 6 1-7 0 8 1 1 1-1 5-8 6 4 6-4 1 0 13 9 20-9-25 22-9-4-18 3-5-8 0 5-1-4-6 5-1-7-1 3-2 4-1-7 0 6-1-6 0 2 0 1-2-3-1 3 0 5 0 1-1-4 0 4-1-8-1 1 0 4 0 5-1-11 0 3 0 6-1-6 0 2-1-2 0 2-1-4 0 1 0 6 0 2-1-10 0 2 0 5 0 1 0 3-1-11-1 4 0 5-1-9 0 6 0 2-2-7 0 2 0 8-1-9 0 4 0 4-1-4 0 3-1-9 0 8 0 1-1-7 0 2-2-1 0 2 0 2 0 2-1-3-1 0-1 2 0 3-1-9 0 9-2-4 0 2-2-3-3 0 0 4-1-6 0 4-1-2-3 3-7-6-1 4 0 3-4-10-3 9-11-3-5 4-6-4-1 2-1-5-5 7-2-8-3-1-63 4-62-2 26 18 50-1 39-6 25-1 2 8 2 0 2-4 1-4 4 3 7 7 7-9 1 9 2-6 1-1 0 5 1-5 2 1 0 3 0 1 2-6 0 5 2 2 1-10 0 1 0 4 0 6 1-10 0 2 0 1 0 3 0 1 2 0 0 1 1-6 0 4 0 3 1-5 0 5 1-2 1-3 0 4 0 1 0 1 1-8 0 2 0 2 1-2 0 1 0 1 0 1 0 1 0 1 0 1 1-11 0 1 0 2 0 1 0 4 0 1 1-9 0 1 0 2 0 5 1-4 0 5 1-3 0 1 1-7 0 3 0 1 0 5 0 1 0 1 1-6 0 5 1-9 0 7 1-6 0 4 1-6 0 4 0 6 1-10 0 3 0 3 1-6 0 1 0 9 1-2 1-7 1 1 0 7 1-8 0 4 0 3 1-8 0 7 1 0 1-3 0 4 1-4 1-4 0 6 1-2 1-2 0 6 4-8 4 1 1-1 0 1 1 2 12 15-17-1-2-2-6 8-3 0-1-11-3 4-1 5-1-6-2 8-2-10 0 1 0 2-1 0-1 1-1-4 0 2-1 0 0 1 0 2-1-6 0 2 0 2-1-2 0 1 0 4-1 0-1-6 0 5 0 2-1-8 0 5 0 1 0 4-1-6-1-2 0 1 0 1-1-2 0 1 0 2 0 3 0 2-1-9 0 3 0 3-1-3 0 1 0 3-1-7 0 1 0 1 0 1 0 1 0 3 0 1 0 2-1-8 0 1 0 3 0 3-1-9 0 1 0 2 0 2 0 2 0 2 0 1-1-3 0 1 0 1 0 1-1-2 0 2-1-7 0 5-1-5 0 1 0 5-1-10 0 5 0 3-1-3 0 3-1-6 0 3 0 3-1-7 0 3 0 2 0 3-1-7-1 1 0 1 0 4-1 2 0 1-1-5-1-2-2 6-4-8 0 3-7-5-1 3-1-2-14 0-5 9-4-1-7-1-6-6-27 0-6 4-4 0-17 3-22-1-5-3-16 0 26 7 10 3 2 8 6-10 9 7 24-8 3 0 8 10 5-8 2 7 5-8 6 0 1 9 8-3 4-7 3 6 0 1 3-2 1 0 1 4 3-6 4 2 2 3 3 3 1-6 0 4 1-3 0 3 1-8 0 1 0 7 1-3 0 3 0 1 0 1 1-8 0 6 1-8 1 0 0 5 0 1 0 1 0 1 1 2 1-11 0 3 1-3 0 1 0 8 0 1 1-8 0 7 1-8 0 2 0 2 0 1 0 2 0 1 0 2 1-6 0 4 0 1 1-10 0 5 0 2 0 2 1-9 0 3 0 1 1-4 0 1 0 2 0 3 0 3 0 2 1-6 0 2 0 4 1-9 1-1 0 7 1-7 0 3 0 3 1-4 0 1 0 5 0 1 2-3 1-6 1 3 0 1 0 6 1-9 1-2 0 4 1-4 0 2 1 1 1 1 2 6 4-2 7-7 2 2 7 1 3 4 10 14-22-7-8 2-9 2-1-6-1 8-1-4-3-5 0 8-3-8 0 11-1-7-1-1-2-3 0 1 0 1-1 7 0 1-1-9 0 6-1-7-1 2 0 6-1 0 0 3-1-9 0 1 0 1 0 1 0 1 0 4-1-4-1-5 0 5 0 5-1-11 0 3 0 3-1-5 0 4 0 2 0 3-1-9 0 6 0 3-1-10 0 6 0 2-1-1-1-4 0 4-1-6 0 2 0 8-1-9 0 6-1-2 0 1 0 2 0 1 0 1-1-7 0 3 0 1 0 1-1-8 0 3 0 1 0 6-1-5 0 3-1-1 0 3-1-5-1 3-1-8 0 3 0 6-2-7 0 2 0 4 0 1-1-4-2-2 0 7-1 0-1 0-1-9 0 2-7 6-5-8-2 4-1-5-3 2-2 3-1 0-4 2 0 1-1 2-4-3-1-5-1 6-7-4-1-4-1 0-6 10-2-2-2-4-2-1-8 7-8-5-14-5-10 5-12-1-63 4 0 9 46-1 38-5 7 6 3 3 5-7 3 6 0 3 5 0 1-1 7-4 1-6 1 8 17-8 4 6 2 3 2-4 2 0 1-1 0 4 1 2 3-1 4-8 2 6 1-2 1 6 2-7 0 4 1-3 0 1 1 3 1-7 0 1 0 5 1-6 0 9 1-11 0 9 1-6 0 6 1-4 0 1 0 3 0 2 2-1 0 1 1-9 0 3 0 3 0 3 1-1 1-4 0 5 1-8 0 6 0 1 0 1 1-10 0 2 0 2 0 4 1-5 0 1 0 3 1-7 0 6 0 1 1-3 0 1 0 2 0 1 0 1 0 1 1-10 0 1 0 1 0 2 0 3 0 2 1-8 0 1 0 2 1-3 0 3 0 1 0 1 0 1 0 2 1-8 0 2 0 2 1-6 0 2 0 4 1-6 0 10 1-10 0 6 0 2 0 2 1-2 1-5 0 3 0 1 1-5 1-2 0 3 0 3 1-3 0 4 0 1 1-8 0 8 1-4 0 6 1-8 1 9 3-10 0 5 3-2 0 3 5 2 4-7 0 5 2-4 1 0 0 3 9-5 2 8-11 9-5-4-1-2-8 4 0 3-6-4-1 2-1 5-1-9 0 8-4-7-1 4 0 1-1-7 0 3-2 3-1 1-1 2 0 1-1-10 0 1 0 4 0 4 0 1-1-8-1-2 0 2 0 3-1-2 0 4 0 4-1-9 0 5 0 1 0 3-1-4-1-2 0 5-1-9 0 2 0 1 0 1 0 4-1-6 0 1 0 2 0 3 0 1-1-8 0 4 0 1 0 3-1-9 0 9-1-8 0 3 0 5-1-9 0 1 0 1-1 0 0 1 0 4-1-8 0 4 0 1 0 5 0 1-1-6 0 3 0 3-1-6 0 2 0 2-1-8 0 9 0 1-1-6-1-5 0 4 0 5-1-1-1 1-1-6 0 6-2 1-1-5 0 1 0 3-3-7-1 7 0 2-1-6 0 5-1 1-2-11 0 2 0 5-1 3-5 1-1-10-1 6-1-3 0 3-5 0-1 0-7-2-3 3-5-8-4 0-7 0-1 0-1 4-24 4-5-4-20 5-7-3-31 4-23 12 1-9 40 1 11 9 24-7 6-4 0 2 2 9 10-8 4-1 3 8 3-7 2 2 3 0 2-3 11 7 4-8 2 8 2-2 1-7 2 10 2-5 3 4 1 1 2 1 1-4 1 1 1-6 1-1 1 5 0 4 1-9 0 7 1-2 1-4 1-1 2 2 0 2 0 6 1-3 0 3 1-3 0 1 1-2 0 3 1-4 0 5 1-10 0 2 0 2 1 0 0 4 0 1 1-9 0 6 1-7 0 5 0 6 1-11 0 1 0 1 0 2 0 1 0 4 1-6 0 2 0 3 0 1 0 2 2-11 0 2 0 2 1-4 0 1 0 1 0 1 0 5 0 3 1-11 0 2 0 4 0 3 1-5 0 3 1-7 0 5 0 4 0 1 1-8 0 1 0 2 0 2 0 3 1-7 0 1 0 4 1 0 1-8 0 10 1-8 1-1 0 1 0 6 0 1 1-3 1-5 0 1 1 0 1 4 1 0 2-3 0 3 1-4 6 1 4 7 1-10 1 6 4 3 33 5-28-2-3 9-10-3 0 1-1-6 0 5-7 1-2-6 0 4-3-4 0 7-5 3-1-8 0 6-2-9 0 2 0 3-2-4-1 0 0 9-1-9 0 4-1 2 0 4-1-2-1-8 0 1-1 1 0 1 0 6-1-10 0 1 0 2 0 3 0 2 0 3-1-9 0 2 0 6 0 1-2-7 0 1 0 3-1-7 0 8-1-3-1-5 0 1 0 3 0 6-1-10 0 1 0 4 0 1 0 3-1-8 0 1 0 6 0 1 0 1-1-11 0 4 0 3 0 1-1-4 0 4-1-4 0 3 0 2 0 1-1-6 0 4 0 2 0 1-1-8 0 3-1-3 0 2 0 2-1-5 0 8-1-6 0 6-2-2-1-2-1-4 0 2 0 3 0 2-1-6-1 8-1-9 0 2 0 1 0 3 0 2-1-4-1-6 0 10-1 1-1 0-3-2-2-7-5 3 0 2-2-1-1 5-6-9-3 5-2-4-1 3-2 4-1-4-8-5-3 3-2 2-30 3-2-5 0 5-14-4-10-1-9 4-14-4-15 16 18-6 6 9 6-10 27-1 3 3 4 5 5 1 2-2 3 1 4 3 3-5 5-4 4-2 1 8 1 2 9-7 1-3 4 9 6-1 1-4 0 6 8-1 2-1 1 2 1-9 0 2 0 4 2 0 1 0 0 2 1-2 0 3 1-5 1-1 0 3 1-1 1 3 0 2 2-8 0 1 0 3 0 1 0 3 1-10 0 1 0 1 0 5 0 2 1-10 0 5 0 4 0 2 1-10 0 10 1-11 0 2 0 2 0 2 0 2 1-8 0 8 1-3 0 1 0 1 1-2 0 1 0 2 0 1 1-8 0 4 0 1 1-6 0 1 0 5 0 2 0 2 1-7 0 1 0 1 1-4 0 3 0 1 0 6 1-10 0 3 0 1 0 2 0 1 1-7 0 1 0 3 0 2 0 4 1-10 0 2 0 4 1-7 0 1 0 1 1 0 0 5 1-7 0 4 0 5 0 2 1-9 0 1 2-2 0 1 1-1 0 5 0 3 1-5 1-4 1 3 0 1 1 5 1-7 0 2 2-3 1 2 2 5 0 1 1-1 2-7 1 9 8-1 3-7 2 5 10-2-9 14-3 4-3-4-12 3-5-4-6-4 0 5-3-4 0 4-1-7-1 1 0 4 0 2-1-2-1-5-1 3-1-1 0 2 0 1 0 2-3-4 0 2-1-4 0 1 0 7-1-9 0 9-1-7 0 2 0 7-1-8 0 3-1-6 0 4 0 2 0 5-1-7-1 0 0 3 0 2-1-8 0 3 0 3 0 1-1-8 0 2 0 1 0 3 0 2 0 3-1-11 0 2 0 2 0 3-1-6 0 1 0 2 0 4 0 1-1-9 0 2 0 2 0 1 0 2 0 1-1-8 0 5 0 2 0 4-1-6 0 4 0 2-1-8 0 2 0 1 0 3-1-5 0 1-1-5 0 7 0 2-1-9 0 2 0 1 0 2 0 2 0 1-1 3-1-6 0 5-1-2-1-6 0 6-1-6 0 1 0 3 0 1-1-3 0 6 0 1-1-1 0 1-1-8 0 7 0 1-1-9 0 7-1 2-1-2-1 2-1-10-1 1 0 5-1 3-5-3-1-6-5 1-3 8-3-4-3-2-9-1-5 7-5-1-1-1-10 2-1-9-1 4-1 4-7-3-3-1 0 6-1-10 0 3-6 0-2 1-14 5-3-6-7-1-6 4 11 12 4-3 6 2 9-4 7 4 4-5 4 5 1-2 5-2 0 7 7-5 5 7 1-7 0 2 1-2 3 3 8 0 5 2 0 2 1-7 2 3 4 2 1-7 2 6 1 0 1-1 1-3 0 4 1 2 1-2 0 3 3-5 0 4 1-10 0 6 1 0 0 2 1-8 0 6 0 4 1-3 0 1 0 1 1-5 0 4 2-8 0 2 0 1 0 1 0 3 0 2 0 1 1-10 0 5 0 1 0 1 0 1 0 2 1-9 0 5 0 4 1-6 0 4 0 2 1-8 0 7 0 1 1-8 0 6 0 1 0 1 1-5 0 1 0 2 0 1 1-7 0 1 0 5 0 1 1-8 0 1 0 5 0 2 1-6 0 1 0 1 1-2 0 8 1-10 0 3 0 4 0 1 1-9 0 1 0 2 0 1 0 3 0 2 1-6 1-3 0 8 0 1 1-1 1-6 0 1 0 4 1-2 1-3 0 2 1-4 0 1 0 6 0 4 1-3 1-6 2 4 1-6 0 7 1 1 2-8 0 4 4 3 2-2 9 1 0 2 1-8 2 7 3-4 5 8 8-5 6-6 0 22-2 0-15-1-12-9-3 7-7 3-1-8-2 5 0 3-1-10-1 10-1-6-1 7-1-11-2 3-1 6-1-8-1 9-2-8 0 9-1-11 0 8-2-8-2 6 0 5-1-7 0 6-2-9 0 3-1 1-1-3 0 2 0 3 0 1-1-8 0 1 0 3 0 6-1-10 0 4-1-2 0 7-1-9 0 2 0 1 0 1 0 1 0 4 0 1-1-1-1-9-1 1 0 6 0 1-2-4 0 3 0 4-1-5 0 2 0 2 0 1-1-11-1 2 0 2 0 2 0 3-1-7 0 3 0 1 0 2-1-7 0 1 0 1 0 3-1-4 0 7 0 1-1-10 0 1-1 1 0 4 0 3 0 2-1-5 0 2 0 1-1-4 0 1 0 1 0 1-1-3 0 2 0 2 0 2-1-10 0 3-1-2 0 3-1-5 0 6-1 3-1 1-4-3-2-3-2-3 0 5-1 0 0 3-3-2-6 2-1 2-4-7-2-4-1 0 0 8-3 3-3-11 0 1-2 8-4-4-16-1-32-4-1 1-3 0-2 5 13 16 9-10 4 8 3-3 3 1 9-3 11 2 4-1 8-2 2 3 4 2 0 2 1 1 1-3 1 1 1 1 1-1 0 2 1-3 0 3 0 1 3-6 0 6 2-5 0 2 0 2 1-10 0 3 0 5 1-2 0 5 1-11 1 2 0 1 0 4 1 2 1-9 0 1 0 4 0 6 1-7 0 5 1-7 0 7 0 2 1-3 1-8 0 3 0 1 0 1 0 1 0 1 0 1 1-8 1 0 0 9 0 2 1-9 0 5 0 2 1-6 0 5 0 1 1-8 0 1 0 1 0 2 0 1 1-5 0 3 0 3 0 3 1-3 1-6 0 3 0 1 0 1 1 0 0 1 0 3 0 1 1-4 1-6 0 1 0 5 0 2 0 1 1-10 0 2 0 1 0 2 0 3 0 3 1-9 0 4 1-5 0 10 1-11 0 3 0 5 1-3 1-5 0 2 0 6 0 2 1-8 0 8 1-7 0 3 1 3 1-8 1-1 0 4 1-3 0 6 1-7 0 2 1-1 0 1 0 2 0 1 1 2 1-7 0 3 0 7 2-7 0 7 2-4 0 2 0 1 1-7 4 3 5 0 1 3 6-1 1 0 4-4 2 4 16-1 9 0-25 12-8-5-15 5-5-6 0 5-2-4-1-1 0 5 0 4-1-1-2-8-1 8-1-5-2-2-2 1-1 1 0 2 0 1-1-6 0 9-1-9 0 3-1 1 0 1-2-3 0 3 0 1-1-3 0 6-1-8 0 1 0 4 0 3 0 2-1-10 0 2 0 3 0 4-2-9 0 7-1-8 0 2 0 1 0 4 0 1-1-7 0 3 0 2 0 5-1-8 0 5-1-8 0 4 0 1-1-5 0 1 0 8-1-7 0 5-1-2-1-1 0 2 0 4-1-1 0 2-1-9 0 2 0 1 0 3-1-8 0 2 0 1 0 1 0 1 0 1 0 1-1 0-1 0 0 1 0 2 0 1-1-1-1-9 0 2 0 8-1-10 0 4 0 1-1 3-1-7 0 5-1-6 0 5 0 1 0 1 0 1-1-1 0 1 0 1-1-6 0 7-1-7 0 7-1-1-1-8 0 6 0 2-1 1-1-9 0 9-1-5-2-4 0 5 0 3-3-5 0 5-1-2-2-7 0 5-2-3-1 0 0 6-1-1-2 0-1-6 0 3 0 4-1 0-7-9-1 4-14 6-4-5-10 3-9-4 1 15 0 1 8-7 0 10 5-7 7-1 1 0 0 4 0 4 2-9 2 5 1 4 1-1 1-3 5-3 3-1 1 0 3-1 0 5 1-1 1-3 0 1 1 6 1-7 3 1 0 5 0 1 1-7 0 7 1-2 0 2 1-1 1-2 1 2 1-9 0 8 1-8 1 0 0 5 1-3 0 2 0 3 0 2 1-9 0 1 0 8 1-9 1 4 0 1 0 5 0 1 1-11 0 1 0 3 0 1 0 3 0 1 1-8 0 4 0 1 0 1 0 4 1-10 0 2 0 2 0 2 1-7 0 3 1 2 0 5 1-7 0 4 1-7 0 3 0 2 0 4 1-6 0 1 0 6 1-6 1-3 0 6 0 2 0 1 1-10 0 4 0 5 0 1 1-4 0 3 1-9 0 1 0 9 1-9 0 4 0 2 1-5 0 5 1-1 0 2 0 1 1-8 0 3 1 6 1-10 0 2 1 0 0 6 1-8 0 1 0 5 0 1 0 3 0 1 1-10 0 7 0 3 1-11 0 1 1 0 0 1 0 1 0 2 0 4 1-2 1-5 1-1 1 10 1-4 0 3 1-10 0 5 1 0 0 4 1-1 0 3 1-11 0 1 4 5 13 0 6-3 44-1 49 1-71 13-4-2-13 4-11-4-12 6-1-2-5 2 0 1-5-1 0 1-1-7-1 5 0 3-3-4 0 5-1-10 0 9-1-10 0 6 0 1 0 1-1-6-2-1-1 3 0 2-1 1-1 1-1-3-1 5-1-10 0 3 0 4 0 3-1-6 0 5-1-5 0 2-1-5 0 3-1-4 0 4 0 3 0 3-1-6-1-1 0 7-1-9 0 1 0 2 0 1-1-5 0 7 0 3-2-10 0 1 0 1 0 8-1-6 0 3-1-3 0 4 0 1-1-9 0 6 0 2 0 3-1-10 0 1 0 3 0 1 0 3-1 0 0 2-1-11 0 1 0 1 0 2-1-2 0 1 0 3 0 4-1-4 0 1-1-1-1-6 0 3 0 3 0 1 0 3-2-8 0 4 0 2-1-7 0 7 0 3-1-7-1-4 0 3 0 2 0 5-1-7 0 3-1-5 0 1 0 5-1 2 0 1-1-2-1-6-1-2 0 3 0 4 0 1 0 1-1-7 0 6-1-8 0 2 0 8-1-3 0 2-2-9-1 2 0 3 0 2-2 2-1-1-2 3-2-6-1 6-3-11 0 7-2-1 0 4-1-4-1 0-3-4-1 6-3 0-2-3-2 3-5-4-6 4-4 10 1-6 2 4 0 6 10-5 1 5 5-9 0 6 1 0 0 2 2-3 0 1 0 4 2-1 1-10 0 5 3-4 1 7 2-4 0 5 1-7 0 8 2-10 0 1 1 8 1-6 0 8 1-8 0 2 0 1 0 4 0 1 2-11 0 7 0 1 1-7 0 1 0 3 0 3 1 1 1-8 0 1 0 2 0 3 0 4 1-11 1 0 0 2 0 2 0 3 1-2 0 5 1-7 0 3 0 3 0 1 1-10 0 6 0 4 1-5 0 1 0 5 1-11 0 8 1-5 0 2 0 1 0 4 1-9 0 2 0 5 0 2 1-10 0 4 1-2 0 3 1-2 0 5 1-2 1-6 0 2 0 4 0 1 0 3 2 0 0 1 1-11 0 1 0 3 0 2 0 4 1-1 0 2 1-11 0 3 0 4 1-2 0 6 1-9 0 3 0 3 1-5 1-3 0 4 0 5 0 2 1-5 0 2 1-5 0 1 2-4 1 3 1 0 1 2 1-4 1 4 0 2 1-7 1 5 2-2 5 8 4-11 0 4 3 2 10-1 1-5 0 3 9 5 38-8-48 16-5 0-3-3-1 1-5 4-1-1-1-2-5 6-4-5-5 6-1-10 0 2 0 8-4-7-2 6-1-2 0 4-1-10 0 2-2-2-1 3-1-4 0 3 0 2 0 5-1-7 0 2-1 4 0 1-1-10 0 4 0 2-1 1-1-5 0 1-1-2-1 5 0 1-1-4 0 4-1-4 0 1 0 2 0 1 0 1 0 3-1-11 0 1 0 3 0 3 0 3-1-9-1 0 0 1 0 6-1-3 0 5 0 1-1-11 0 1 0 6 0 2 0 1-1-10 0 1 0 3 0 1-1-3 0 7-1-6 0 1 0 3-1-7 0 2 0 1 0 1 0 4 0 1 0 2-1-7 0 1 0 1 0 2 0 2-1-3-1-3 0 3-1-5 0 7-1-1 0 1-1-9 0 4 0 7-1-5 0 5-1-8 0 6-1-8 0 1 0 3 0 1-1-5 0 5 0 2 0 1-1-4 0 5-2-7 0 7-1-3 0 1 0 1-2-2 0 3-2-1-1-7 0 6 0 3-2-11 0 9-1-4 0 3-1 3-2-11-4 3 0 1 0 2 0 3-2 1-1-6-2-3-2 3-1 7-1-1 0 1-2-5-1-3 1 19 1-7 0 7 0 1 1-1 1-5 4 0 0 4 0 2 1-7 0 1 0 3 1 1 1 0 0 1 1-3 1-5 0 1 0 6 0 1 1-7 0 2 1 1 0 2 0 1 0 1 1-10 0 7 0 1 1-8 0 7 0 3 1-10 0 4 0 6 1-2 0 3 1-8 0 8 1-9 0 3 0 1 0 1 0 2 0 1 1-7 0 1 0 1 0 5 1-8 0 6 1-8 0 3 0 2 0 2 1 4 1 0 1-11 0 2 0 5 0 4 1-8 0 1 0 3 0 3 1-8 0 6 0 2 1 0 1-7 0 1 0 1 0 2 0 1 1-8 0 3 0 6 0 1 1-3 1-7 0 3 0 3 0 1 1-1 0 1 1-1 0 3 1-9 0 3 0 1 0 4 0 2 0 1 1-10 0 4 0 4 1-3 1-2 0 2 0 4 0 1 1-5 1-6 0 8 0 1 1-7 0 2 1-3 0 3 0 3 0 1 1-7 0 7 2-8 0 10 1-9 0 4 1-3 0 2 0 3 2-3 1-2 1 1 0 7 1-10 1 1 2 0 0 1 3 6 1-8 0 3 3 0 0 1 2-2 1-1 3 2 3-1 3 3 0 4 9-9 1 7 1-6 3 1 1 0-1 10-19 2-2 3-4 0-1-3-5-2-2 2-3 5-1-7-1 7-1-4-2-3-2 0-1 3-1-3 0 1 0 1 0 4-1-2-1 2-1-1 0 1-1 1-1 0-1-7-1 0-1 0 0 1 0 4 0 3 0 1-2-9 0 9-1-7-1 1-1-3-1 1 0 1-1 1-1-1 0 2-1 1 0 1 0 5-1-10 0 1-1 3 0 1 0 2 0 1-1-6 0 1-1-3 0 1 0 6 0 3-1-9 0 2 0 1-1-3 0 4 0 4-1-7-1-1 0 1 0 3-1 2 0 1 0 2-1-10 0 3-1-4 0 8-1-5 0 5 0 1-1-9 0 1 0 1-1 0 0 1 0 2 0 5-1-6 0 1 0 3-2-6-1 3 0 2 0 4-1-11 0 2 0 1 0 5 0 1-1-9 0 6-2 2 0 1-1-1-1-7 0 3 0 6-2-3-1-6 0 8 0 1-1-6 0 17 1-9 0 3 0 1 0 5 1-7 0 2 0 2 1 0 0 1 0 1 0 1 0 2 1-10 0 4 0 3 1-4 0 3 0 2 0 2 1-10 0 1 0 6 0 1 1-4 1-5 0 1 0 6 1-6 0 7 1-7 0 1 0 1 0 1 0 4 0 1 1-6 0 3 0 1 1-2 0 2 1-6 0 3 1-4 0 5 0 2 1-6 0 1 0 3 1-4 0 2 0 4 1-3 0 1 1-5 0 3 1 1 0 3 2-6 0 2 1-3 0 4 1-4 1 4 1-4 0 5 1-4 0 2 1 0 0 1 4-1 6-1 6-2-41 12"/><path transform="scale(.5)" fill="none" stroke="none" marker-start="url(#mb)" marker-mid="url(#mb)" marker-end="url(#mb)" d="M897 275l4-4 28 4 16-4 13 4 1-1 0 1 1-11 1 11 1-1 0 1 1-5 0 3 0 1 0 1 1-4 0 2 0 1 0 1 1-4 1-1 0 3 1-3 0 1 1-4 0 1 0 1 0 1 0 1 0 2 2-7 0 1 0 1 1-3 0 1 0 1 0 7 1-9 0 1-6 12 0 7-1 2-2-10 0 8-1-7-1-2 0 1 0 1 0 4-1-6 0 1 0 9-1-7 0 1 0 4 0 1 0 2-1-10 0 2 0 2 0 1 0 1-1-5 0 4-1 4-1-9 0 2 0 3 0 4 0 1-1-9 0 1 0 5-1-5 0 3 0 1 0 2-1-5 0 1 0 2 0 2-1-2 0 2-1 0-1 1-2-1-1 2-4-4-2 2-3 0-1-9-1 10-8-1-9 2-1-4-6-4-39 2-6 6-23 3 67 9 9-11 7 10 2 0 2 1 3-7 0 4 0 1 0 1 0 1 1-6 1-2 0 2 0 1 1 5 1-4 0 2 1-3 0 1 0 4 1-4 0 4 1-5 1 0 0 1 0 2 0 1 1-4 0 1 0 2 1-5 0 1 0 1 1-5 0 2 0 2 0 2 1-5 0 1 0 1 0 3 0 1 0 2 0 1 1-10 0 1 0 2 0 3 1-6 0 1 0 2 0 1 1-5 0 1 0 2 0 4 1-7 1 0 0 1 0 2 0 1 1 4 1-8 0 1 0 2 0 2 1-3 3-2 1 7 8-7 3 4 5-1 5 8-4 11-20-1-3-4 0 1-5-2 0 6-2-4-2-5 0 2 0 4-1-6 0 2 0 2 0 1 0 1-1-6-1 1 0 1 0 7-1-9 0 4-1-4 0 1 0 1-1-2 0 1 0 6 0 1-2-9 0 3 0 1 0 1 0 2 0 2 0 1-1-9 0 1 0 2 0 2-1-2 0 2 0 3 0 1 0 1-1-10 0 7-1-8 0 2 0 3 0 2-1-4 0 6-1-9 0 4 0 2 0 2 0 2-1-4 0 3 0 2-1-3 0 1 0 1-1 0-1-5 0 1-1 0 0 3 0 2-1-1-1-5 0 2-1 4-1-10 0 10-1-2-1-6-1 8-5-11-2 10-12-7-10 7-7-7-23 7-8 0 4 7 11 6 10-7 4 1 3-5 21 1 5 3 0 2 1 0 0 2 0 3 2-5 2 1 0 2 1 0 0 1 0 1 1-7 0 2 1 1 0 1 0 1 1-6 0 2 0 4 0 1 0 1 1-4 0 2 0 1 0 1 1-4 0 1 0 1 0 2 1-11 0 1 0 6 1-3 0 2 0 1 1-5 0 2 0 6 1-7 0 3 0 3 1-6 0 2 1-3 0 2 0 7 1-11 1 1 0 2 0 2 0 2 0 1 1-7 0 2 0 8 1-7 0 1 0 2 1-1 1-6 0 2 0 9 1-11 0 1 0 8 1-6 1 2 0 3 3-8 4 10 1-6 3 7 14 0 13-4 17-7 1 9-61 7-2 6-3-10-1 4 0 2-2-2-1-4 0 1 0 1-1-2 0 7-1-6 0 5-1-5 0 1 0 5-1-7 0 1 0 4-1-1 0 2 0 4-1-10-1 0 0 1 0 2 0 4 0 1-1-7 0 1 0 1 0 2 0 2 0 1 0 1-1-7 0 1 0 2-1-2 0 2 0 2 0 1 0 2-1-8 0 3 0 2 0 1 0 2-1-4 0 2 0 1 0 1-1-4 0 1 0 4-1-5 0 2 0 3-1-5 0 2 0 2-1-5 0 1 0 3-2-6 0 4 0 1-1-7-1 2 0 6-1 1 0 1-1 0-1-3-8 3-31-8-49 19 15 0 5-9 9 10 14-11 0 5 1-2 10 7 8 1 8-2 4-7 0 6 1-8 0 10 2 1 1-3 1-6 0 2 1 6 0 1 1-1 0 1 1-10 0 4 0 5 0 1 1-4 1-1 0 2 0 3 1-6 1-2 0 3 0 2 0 3 1-7 0 2 0 2 0 1 1-7 0 1 0 4 0 1 0 2 0 1 1-11 0 9 0 1 1-6 0 2 0 2 1-3 0 3 0 1 1-8 0 3 0 2 0 5 1-11 0 4 1 3 0 4 1-10 0 1 0 1 0 1 0 3 0 1 1-4 1 0 1-2 0 3 1 0 0 2 0 3 1-10 1 0 0 1 0 8 1-6 1-1 7 0 9 7 1-6 31 5-19 10-12 2-5-2-1-4 0 2-13-2 0 3-7-1-1 1-4-5-1 2 0 4-1-4-1-1 0 5-1-5 0 2 0 4-1-2 0 3-1-7 0 1 0 8-1-7 0 1-1 2 0 2 0 3-1-1-1-8 0 3 0 1 0 2 0 3-1-11 0 9-1-3 0 2-1-5 0 2 0 1 0 1 0 3-1-8 0 3 0 2 0 1-1 2 0 1-1-5 0 3-1-3 0 1 0 1-1-7 0 3 0 7-1 0-1-5 0 1-1-1 0 4-1-1-1-7-3-2-2 10-9-4-3 5-3-1-3 1-11-3-19 3-218 7 146-1 60 6 10-7 1-1 11 5 15 1 5-5 11 2 1 2 0 1 1-1 1-2 2 3 0 2 1-11 0 3 0 2 0 1 1-3 0 7 1-9 0 4 0 2 0 1 0 3 1-1 0 1 1-10 0 1 0 4 0 1 0 4 1-5 0 2 0 1 1-8 0 1 0 2 0 4 0 3 1-8 0 7 0 1 1-9 0 6 0 1 0 1 1-8 0 3 0 2 0 3 0 1 1-11 0 1 0 1 0 3 0 4 2-8 0 2 0 1 0 4 1-8 0 6 0 1 1-6 1 0 0 2 0 4 1-3 0 3 1-7 0 2 0 1 0 1 0 5 0 1 1-10 0 2 3 2 0 4 1-6 2 7 5-4 3-1 5-2 3 5 29-4-52 16-3-6-1 4-2-3 0 1-2 7-3-9 0 3-1 2-1-6 0 1 0 6-1-5 0 4-1-6 0 7-1-6 0 3-1-3 0 1 0 1 0 2 0 1 0 2 0 1 0 2-1-10 0 2 0 1 0 5 0 1-1 0-1-10 0 3 0 3 0 3-1-8 0 1 0 1 0 1 0 1 0 1 0 2 0 3-1-9 0 1 0 2 0 1 0 4-1-8 0 2 0 6-1-9 0 1 0 4-1 0 0 1 0 3-1 1-1-7 0 5 0 2-1-9 0 4 0 1 0 2 0 1 0 1-1-2 0 1 0 1-1-2-1-1-1 1-1-3 0 1 0 1 0 3-1-2-5 2-2 0-8 0-9-2-16-6-3 4-9-5-10 2-5 0-15 7-22-10 61 11 8 11 7-3 1-2 7-2 0 7 4-5 0 5 4-6 0 6 1-6 0 4 1-4 0 3 1-8 1 1 0 3 0 2 0 1 0 2 1-2 1-6 0 4 1 4 1-4 0 2 0 3 0 1 1-9 0 2 0 1 1 3 0 1 1-7 0 1 0 5 0 3 1-9 0 8 1-8 0 2 0 2 0 1 0 1 0 1 1-8 0 2 0 1 0 2 0 1 1-6 0 1 0 4 0 2 1-7 0 2 0 1 0 3 0 2 0 1 1-10 0 2 0 1 0 5 1-2 0 4 1-9 0 1 0 4 0 4 1-9 0 2 1 0 0 2 1-5 0 2 0 4 1-6 7 1 1 1 0 1 0 6 1-9 1 4 5-1 2 7 8 1 9-10 1-1 0 6 11 14-28-6-1 5-2-6-5 10-13-3-3-1 0 4-2-8-1-2-1 4-2-5 0 2 0 7-2-6 0 3 0 1-1 0-1-6 0 1 0 3-1-4-1-1 0 1 0 1 0 1 0 1 0 4-1-7 0 3 0 3 0 2-1-5 0 1 0 1 0 1 0 3-1-10 0 1 0 3 0 1 0 6-1-4 0 2 0 1-1-6 0 4 0 2-1-9 0 1 0 2 0 1 0 3 0 1 0 1 0 1-1-8 0 2 0 1 0 5-1-9 0 4 0 2-1-1 0 2-1-3 0 1 0 4-1-5 0 2-1-7 0 6 0 3-1-5 0 2 0 3-1-1-2 1-4-3-8-7-2 9-1 0 0 2-2 0-6-3-9 3-46-3 27 11 4-1 7 2 3-6 6 0 5 0 1 2 11-1 1 4 1 1 1 3 1-3 0 2 0 1 1-7 0 6 0 1 1-2 1-5 0 6 1-7 0 7 1-2 0 1 0 2 1-10 0 2 0 2 0 2 0 2 1-9 0 4 0 2 0 1 0 4 1-8 0 3 0 1 0 1 0 2 0 1 1-11 0 5 0 2 0 1 0 1 0 2 1-11 0 1 0 4 0 2 0 1 0 3 1-7 0 2 1-4 0 1 0 1 0 4 0 1 0 1 1-9 0 1 0 1 0 1 0 5 0 1 1-10 0 1 0 1 0 1 0 1 0 2 0 1 1-7 0 8 1-8 0 3 0 1 1-4 0 1 0 4 0 4 1-5 0 3 1-7 0 3 0 4 1-5 0 1 0 1 1-4 1 2 0 5 2-7 3 2 1 2 2 2 1-3 2 6 1-9 6 10 1-2 9-6 1 7 7 2 15-2-20 10-23 2-2-3-2-1-12-1-1-1 0 4-2-7 0 6 0 2 0 3-1-9-1 4-1-1 0 1-1-5 0 5 0 2-1-4 0 4 0 1-1-9 0 8 0 2-1-10 0 1 0 2 0 1-1-3 0 7 0 2-1-9 0 1 0 1-1-2 0 1 0 1 0 1 0 4 0 1 0 2-1-6 0 1 0 1 0 1-1-6 0 5 0 3-1-6 0 2 0 3 0 1-1-9 0 1 0 4 0 1 0 1-1-8 0 1 0 7-1-7 0 5-1-6 0 7-1-3 0 6 0 1-1-4-1 0 0 4-1-9 0 3 0 4 0 2-1-11 0 8 0 3-1-10-1 6-3-6 0 8-1 2-1-8-1 7-1-5 0 2-2-5-4 9-2-6-15 5-10 1-1-1-26-5-42 3-51-8-8 20 69-4 28 4 7-5 3-1 5 8 1-1 1-2 6-2 3 2 7-7 1 3 1 1 1 6 1-6 17 3 1-6 0 7 3-1 2-4 0 3 1 4 1-4 0 3 0 1 1-8 0 2 0 5 0 2 1-3 1-7 0 7 1-6 0 2 1-4 0 1 0 6 0 4 1-5 0 1 0 1 0 1 1-6 0 5 1-7 0 1 0 7 1-6 0 3 0 3 1-7 0 6 0 2 1-9 0 2 0 3 0 2 0 1 0 1 1-10 0 3 0 4 1 0 0 1 1-8 0 2 0 1 0 1 0 2 1-6 0 4 0 1 0 1 0 2 0 3 1-11 0 4 0 7 1-7 1-4 0 2 0 7 0 1 1-8 1-2 0 2 0 4 0 5 1-10 0 2 0 1 1 5 2-8 5 10 3-8 0 8 2-4 7 2 4 0 4-6 1 5 1-6 3 3 3-5 5 4-4 14-5-3-11 8-8-8-5-1-6 5-1 2-2-8-1 6-1-5-1 1-1 2-1-3 0 8-1-7 0 7-2-9-1 3-1 5-1-3-1-4 0 7-1-9 0 1 0 2 0 4-1-6 0 6-1-7 0 3 0 8-1-11 0 1 0 3 0 3-1-6 0 1 0 4 0 2-1-8 0 1 0 2 0 4 0 1 0 1-1-8 0 2-1-2 0 2 0 2 0 2 0 1-1-2-1-6 0 4 0 1 0 1 0 4-1-10-1 1 0 2 0 1 0 3 0 1 0 2 0 1-1-6 0 3 0 1 0 1 0 1-1-7 0 3-1-3 0 5 0 2-1-11 0 11-1-4-1-6 0 9 0 1-1-6 0 1 0 3 0 2-1-5 0 2 0 1-1-1 0 2 0 1-1-10 0 10-3-7-1-1-1 1-1-3 0 2-4-3 0 8-3 2-2-4-1-5-15 8-14-5-2 5-7-6-18 2-2-2-95 8 44 11 58 1 23-8 9 2 2 1 3-4 0 5 0 2 12 2 1 0 1 0 1-10 0 8 1 0 1-2 1 2 0 2 2-3 1 0 0 2 0 1 1-3 0 3 1-6 1-3 0 4 0 1 0 3 0 1 1-5 0 1 1-7 0 3 0 1 0 3 0 4 1-9 0 1 0 1 0 5 0 1 1-3 0 1 1-7 0 3 0 2 0 2 0 3 1-11 0 5 0 5 0 1 1-9 0 1 0 3 1-5 0 1 0 5 1-7 0 4 0 3 0 1 0 1 1-9 0 7 1-4 0 3 0 1 1-6 0 3 0 2 1-6 0 1 0 1 0 5 1-7 0 4 1 5 2-9 0 3 0 3 1-5 1 8 1-8 0 5 1-5 1-1 2 2 2 0 7-1 0 2 1 5 5 1 9-1 1-8 15 2 17 14-17 0-4 1-30-3-3 0-3 7-3-8-1 4-4-2-3-1 0 2-5 4-1-8 0 10-1-10 0 1 0 9 0 1-1-8 0 3-1-6 0 2 0 4-1-6 0 1 0 2-1 0 0 3-1-3 0 1 0 1 0 3-1-7 0 3 0 1-1 2-1-4-1 0 0 2 0 3-1-5 0 1 0 3 0 1-1-4 0 2 0 1-1-6 0 1 0 2 0 3-1-1 0 2 0 2 0 1-1-10 0 7-1-7 0 4 0 1 0 4-1-7 0 1 0 5 0 1-1-3 0 3 0 1-2-6 0 2-1 1-1-6-1 4 0 5-1-5 0 5-1-1-3 0-1-2-6-7 0 1-2 7-9-1-1-2-1 3-5-6-2-2-1 10-1-9-2 4-2-6-2 10-3-3-44-1-36 5-2-4 44 7 9 6 6-1 1-6 8 1 11 7 3-7 8 4 1-3 0 6 4-5 1-4 2 9 2 1 3-8 2 5 3-1 1 1 1-1 0 4 2-5 0 6 1-4 1 2 0 1 1-5 0 6 1-9 1 6 0 1 0 2 1-6 0 3 0 3 1-8 0 5 1-2 0 5 1-9 0 1 0 1 0 2 0 5 1-8 0 1 0 2 0 1 0 1 0 1 0 1 1-8 0 4 0 1 0 1 1-2 1-5 0 6 0 1 0 3 1-11 0 2 0 2 0 1 0 3 0 3 1-9 0 2 0 1 0 1 0 3 0 1 0 1 1-10 0 1 0 1 0 2 0 1 0 1 1-7 0 1 0 2 0 3 1-6 0 2 0 5 1-4 0 1 0 4 0 2 1-10 0 1 0 1 0 5 0 1 1-8 0 1 0 1 1 3 2-2 0 3 0 5 1-11 1 0 0 4 1-1 3 2 2-4 0 1 2 1 1-1 6 5 2-3 3 4 1-2 1-2 7 0 62 9-46-1-20 1-16 3-7 6-2-4-1 1-3-7-2 0-1 8-1-7-3 1 0 4-1-4-1 3 0 5-1-9 0 1 0 2-1-4 0 10-1-8 0 7-1-9 0 2 0 1-1-3 0 7 0 4-1-11 0 1 0 1 0 2 0 2 0 1-1-7 0 1 0 2 0 1 0 1 0 2-1-3 0 6-1-7 0 7-1-10 0 3 0 1 0 1 0 1-1-4 0 3 0 1-1-2 0 3 0 2-1-8 0 8-1-5 0 1 0 2 0 2-1-6 0 6-1-7 0 1 0 5-1 0 0 1 0 2-1-9 0 2 0 2-1-6 0 4 0 2 0 3 0 2-1 0-3 0-2 0-1-6 0 4-2 1-1-9-3 7-6-8-5 0-13 4 0 3-1-1-6 2-2-2-24 5-5-6-4 2-1 0-48 2-29-9-34 7 105 11 0 1 1-3 6-1 5-2 8 5 7 3 8-1 4-2 1 0 9-1 1-4 1 7 3-5 2 4 1 3 2-9 3 1 2 9 1-1 2-7 0 7 1 0 2-1 0 2 1-11 0 4 0 3 0 1 0 1 1-3 1 0 0 5 1-5 0 1 0 4 1-10 0 6 0 4 1-10 0 4 0 1 1-5 0 3 0 5 0 2 1 0 1-9 0 2 0 1 0 1 1-4 0 5 0 3 1-9 0 2 0 1 0 4 0 2 1-5 1-5 0 1 0 1 0 3 0 4 1-9 0 1 0 2 0 5 0 3 1-9 0 9 1-10 0 1 0 1 0 2 0 1 0 2 0 2 1-10 0 3 0 1 0 2 0 2 1-7 0 2 1-3 0 1 0 2 0 1 0 5 1-6 0 4 0 4 1-9 0 6 1-8 0 5 1-5 0 1 0 2 0 1 0 1 1-3 0 1 2-2 0 4 0 5 1-7 0 5 1-8 4 7 9 2 1-9 4 4 2 4 12 1 2-6 1 2 21 15-10-7-19-1-17 7-1 2-1-4-1 5-8-9-7 0 0 1 0 7-1-6-1 8-1-9-1 5-1-4 0 1 0 1 0 1-1-6 0 6-1-6 0 6-1-4 0 1 0 3-3-5 0 1 0 4-1-2-1-4 0 1-1-1 0 2 0 4 0 2 0 1-1-7 0 6 0 1-1-6 0 4-1-4 0 1 0 1 0 2 0 1-1-5 0 1 0 1 0 1 0 1-1-4 0 1 0 7-1-11 0 1 0 4 0 1 0 1 0 2-1-7 0 2 0 2 0 5-1-3-1-8 0 3 0 3 0 1 0 4-1-10 0 4 0 4 0 2-1-8 0 5 0 3-1-6 0 1 0 4-1-9 0 6 0 2-1-2-1-4 0 7 0 1-1-3 0 1-2-5-1 5-1-2 0 2-1 1-3-10 0 10 0 1-1-7-1 2-4 1-2 4-3 0-1-8-3 0-1-2-2 3-4 3-10 0-2-2 0 2-2-1-4 3-11-8-19 3-19 3-22 2-28 5 43 1 18-1 1 6 7 1 6 2 5-2 3-7 5 7 1-7 5 3 15 4 7-2 3-3 6-2 0 8 4-2 3-7 1 6 2-7 0 11 1-9 0 8 0 1 1-2 0 1 0 1 1-9 0 3 0 2 0 4 1-6 1-4 0 5 1 3 1-1 0 2 1-8 0 1 0 2 0 1 0 3 1-3 0 1 1 3 1-9 0 1 0 3 0 1 1-6 0 3 0 1 0 4 0 2 1-9 0 1 0 4 0 1 0 3 1-10 0 5 0 2 0 3 0 1 1-9 0 1 0 1 0 3 1-7 0 3 0 1 1-2 0 1 1-1 0 2 1-1 0 4 0 1 1-8 0 1 0 1 0 3 0 2 0 3 0 1 1-9 1-1 0 10 1-11 0 3 0 3 1-6 0 5 0 3 1-5 0 2 1-5 0 7 0 2 3-5 1-4 2 3 0 3 1 2 2-6 0 1 1-1 2 1 1 3 3 1 3-1 3 3 1 2 14-6 5 5 5-1 1-9 16 14-34-2-3 2 0 8-2-10-6 1-19 4-2-2-3 1-1 3-1 3-5-7-2-1 0 3 0 1-1-5 0 2 0 5-1-8 0 3-1 5 0 1-1-7 0 1 0 1 0 3 0 1-1-8 0 2 0 1 0 1 0 7-1-10 0 2 0 6-1-7 0 3 0 4-1-9 0 1 0 2 0 3 0 1 0 3-1-8 0 1 0 5 0 1-1-5 0 4-1-8 0 4-1 1 0 1 0 3-1-9 0 7 0 2-1-9 0 2 0 2 0 1 0 5 0 1-1-11 0 1 0 5 0 2-1-7 0 5 0 3-1-8 0 1 0 3 0 5-1-8 0 4-1-2 0 1 0 6-1-8 0 1 0 2 0 2-1-2 0 2-1-2 0 3-1 1-1-5 0 3-1-6 0 5-1 1 0 1-2 2-1-10 0 8-3-1-2-6-1 3-10-3 0 2-2 2-11-3-17 2-4 4-31-7-53 8 39 12 13-2 5 1 15-2 11 4 1-11 6 5 3 6 9-5 10-5 0 10 2-9 0 7 1 0 2-1 1-8 0 8 0 1 1-8 1-1 0 4 1 2 1-6 0 7 1 3 1-7 2 8 1 0 1-3 0 1 1-6 0 6 2-7 0 2 0 2 1-5 0 8 0 2 1-6 0 4 0 1 0 1 1-11 0 6 0 2 0 1 1-5 0 4 0 1 1-7 0 2 0 4 0 1 0 1 0 1 1-8 0 1 0 5 1-9 0 1 0 2 0 1 0 1 0 1 0 1 0 2 0 1 1-10 0 5 0 4 0 1 1-10 1 4 0 1 0 2 0 1 0 1 0 2 1-11 0 3 0 2 0 1 1-5 0 1 0 1 0 1 0 1 1-5 0 4 0 7 1-11 0 1 0 3 0 2 0 4 1-10 0 1 0 1 0 6 1-8 0 1 0 1 0 4 1-6 0 3 0 2 1-5 0 2 0 1 0 3 0 2 1-8 0 8 1-4 1-1 0 2 0 4 2-8 0 5 1-6 1 6 1 2 0 1 1 0 1 2 2-7 0 2 1-3 0 8 2-4 7-7 5 2 3 8 11 1 3-6 16 6-4 10-17-3-1 3-6-5-6 7-2-1-5-7 0 3 0 3-7 2-2-11-2 1-6 8-2-1-1-8 0 6-1-5-4 6-2-6-2 3-1 4 0 1-1-9 0 3 0 1 0 1 0 4-1 2-1-9-1-1 0 5 0 2-1-8 0 1 0 1 0 2-1-4 0 1 0 5-1-6 0 1 0 1 0 1-1-1 0 2 0 4 0 3-1-10 0 2 0 2 0 2 0 1 0 1-1-9 0 1 0 4 0 1-1 1 0 3-1-5 0 3-1-8 0 2 0 2 0 2 0 1 0 1 0 3-1-8 0 3 0 2-1-1 0 1-1-6 0 3 0 5 0 1-1-5 0 1-1-1 0 5-1-8 0 2 0 3-1-6 0 3 0 4-1-6 0 7 0 1-1-1-2-4 0 4-1 0-1-5 0 4 0 1-1-5-2-5-7 3-2 7-1-4-7-6-3 9-2-1-4-8-4 4-3 4 0 2-1-5-2-5-9 11-11-5-3-5-2 6-1 2-10 1-24 0-10 13 20-6 18 2 25 2 1-9 5 7 5-7 3 4 3 7 1-11 4 8 2-2 0 3 2-5 1 2 1-2 0 3 1-5 0 9 2-8 2 7 1-7 0 4 1-3 0 5 1-9 0 2 0 7 1 0 0 1 1 1 1-11 0 6 0 1 1-2 0 3 1-5 0 8 1-8 0 5 0 2 0 1 1-7 0 1 0 4 0 1 1-8 0 3 0 3 1-6 0 4 0 2 0 2 1-4 1-2 0 3 1-6 0 5 0 1 0 2 1-8 0 4 0 2 1-5 0 2 0 2 0 5 1-8 0 1 0 2 0 1 1-3 0 6 1-8 1-2 0 2 0 7 1-5 0 3 0 1 1-5 0 3 0 3 2-9 0 4 0 1 0 4 1-9 0 6 0 1 0 3 0 1 1-9 0 2 0 3 1-4 0 7 0 1 1-9 1-2 0 6 1-3 0 8 1 0 1-11 0 11 3-11 1 7 1-2 0 4 1-6 2 0 0 2 1-3 0 1 1-2 4 2 4 2 2 3 3 1 1 1 0 1 5-5 3 0 29 13-21 2-8-9-7 3-9-3 0 11-8-7-2-3-1 1-2 0-2-2 0 6-2-3-2-3-5 0-3 4-1-1 0 5-1-5 0 8-1-4-1-2-1-5 0 2-1 0 0 1-1 1 0 2-1-5 0 4 0 3-1-6 0 2 0 1 0 1 0 3-1-9 0 2 0 1 0 2 0 2-1-7 0 1 0 2-1 1 0 3-1-5 0 1 0 1 0 2 0 2-1-6 0 2 0 4 0 1-1-9 0 1 0 1 0 1 0 6-1-8 0 1 0 1 0 2 0 1 0 2 0 2-1-9 0 7 0 2-1-9 0 3 0 1-1-5-1 4 0 2 0 4 0 1-1-9 0 1 0 2 0 1 0 4-1-3-1-4 0 5 0 3-1-4 0 2-1-7 0 1 0 2 0 3-1-7 0 2 0 1 0 1-2 2 0 1 0 3-1-10 0 7 0 2-1-5-3-5 0 2-1 6-1-1 0 3-1-3-1-2-1-5 0 9-3-1-2-4-1-3-2-1 0 7-2 1-3-4-1 5-1-4-1 5-1-8 0 5-5-4-4 6 0 1-1 1-12-10-2 10-4-9-10 7-15 1-12-7 20 19 15 0 0 1 4-3 2 2 9 1 1-6 3 4 3-8 1 10 1-7 0 5 9 1 2-4 4 4 1-1 1 2 1-8 0 8 1-5 1 0 0 1 1-7 0 1 0 10 1-2 1-2 1-7 0 1 0 2 1-1 0 6 1-4 0 1 0 5 0 1 1-7 0 1 0 4 0 1 0 1 1-8 1-2 0 3 0 1 0 2 0 1 0 1 0 2 1-9 0 5 1-6 0 1 0 1 0 1 1-2 0 1 0 3 0 1 0 2 0 1 1-10 0 2 0 2 0 2 1-5 0 7 0 3 1-11 0 2 0 2 0 7 1-11 0 2 0 2 0 2 0 1 1-6 0 2 0 1 0 5 1-8 0 1 0 1 0 1 0 4 1-6 0 1 0 1 0 5 1-7 1 2 0 1 1-4 0 8 0 1 2-8 0 1 0 2 0 2 0 3 1-10 0 1 0 1 0 7 1-9 0 1 1 0 2 1 1 7 1-9 0 1 0 10 1-11 1 2 1 1 4 8 2-4 1 1 4-7 2 3 1 1 4 1 1-2 1-1 0 3 6-3 9-2 9 9 21-3 1-5-46 13-8 4-4-5-6 8-3-8-3-1 0 7-1-6-2 2 0 1-1 3-3 0-1-8 0 6-1-4-1-2 0 2 0 6-2-8 0 5-1-1-1-3 0 1 0 6-2-6-1 0-1 0 0 9-1-1-1-7 0 1 0 1-1-5 0 5-1-5 0 1 0 5 0 2 0 1-1-1 0 1 0 2-1-11 0 1 0 3 0 5-1-9 0 9-1-6 0 1 0 2-1-5 0 1 0 3 0 3 0 1-1 0 0 2-1-10 0 3 0 1 0 3 0 2-1-10 0 6 0 5-1-10 0 1 0 2-1-2 0 5-1-7 0 3 0 4 0 2 0 1-1-4 0 2 0 3-1-9 0 7-1-3 0 1 0 4-1-9 0 1 0 2 0 2-1-4 0 4-1-2 0 4 0 2-1-5-1-6 0 11-1-4 0 2 0 2-1-4-1 4-1-6-1-1 0 7-1-7-5 4-1 2-1-10 0 4-6-3-1 9-7-6-1 0-1 7-3 0-6-3-3 1-15-1-17 15 6-6 1 3 3-5 9-2 6 3 7 0 0 5 1-2 1 2 1-2 5-7 3 3 2 8 1-9 0 7 3-6 1 2 7-4 0 1 0 7 1-4 1-3 0 3 0 5 0 1 2-2 0 1 1-9 0 1 0 7 0 1 1-2 1-6 0 4 0 1 0 1 1-6 0 1 0 2 1-3 0 2 0 5 1-7 0 5 0 1 0 2 1-3 1 0 1-3 0 3 1-6 0 1 0 1 0 7 0 1 1-10 0 1 0 3 0 3 1-5 0 1 0 7 1-9 0 6 1-5 0 1 0 2 0 5 1-9 0 1 0 5 0 2 1-10 0 3 0 1 0 2 1-5 0 3 0 6 0 1 1-10 0 4 0 6 1 0 1-9 0 2 0 4 0 1 2-5 0 1 1-5 0 8 1-8 0 1 0 7 1-8 0 4 1-3 0 10 1-8 0 5 0 3 1-5 1-5 0 3 1-3 0 6 3-6 0 1 1 4 2 1 2-5 2 7 3-3 4-2 6 6 3-9 4 3 2 6 2-5 20 1 4 0 33 0 3-5-32 17-2-6-2 3-10 5-10-1-3 4-3-8-10 6-10-5-3 1-5-3-3 3-1 3-2-2-1-4-1 0-4-1-1 0-2 7-1-8 0 6-1 4-3-10 0 2-2 2 0 3 0 4-1-10 0 3 0 5-1-9 0 4 0 1-2-5 0 1 0 1 0 4 0 2-1-2 0 4-1-8 0 3 0 1 0 3-1-9 0 4 0 2-1 1-1-7 0 7 0 1-1-6 0 3 0 3-1-8 0 2 0 3 0 1 0 1-1-7 0 6 0 5-1-10 0 4 0 3 0 3-1-10 0 2 0 2 0 1 0 3 0 1 0 1-1-5 0 1 0 3-1-4 0 2 0 1 0 1-1-9 0 2 0 4-1-5 0 5-2-5 0 1 0 1 0 2 0 2 0 2-1-10 0 2 0 9-1-11 0 7-1-3 0 4-1-1 0 1 0 3-1-8 0 7-1-10 0 6 0 1 0 4-2 0-1-6 0 6-1-3-1-6 0 6-1-2 0 1-1-1-1-5-4 4 0 4-1-1 0 3-1-6-4 3-2-8-2 0-2 7-17-2-1-4-4 16 5-2 6 0 2 0 0 5 3-2 2 0 1 2 2 0 2-1 0 3 2-6 0 6 1-6 0 6 2-1 1 1 3-8 0 2 0 3 1-2 1 6 1-11 0 2 0 7 0 1 1-2 1-3 1 6 1-7 0 5 0 1 1-8 0 4 1-5 0 6 0 4 1-4 0 4 1-6 0 3 1-8 0 3 0 3 0 1 0 1 1-7 0 5 0 4 1-8 0 2 0 1 0 4 0 2 1-7 0 2 0 2 0 3 1-9 0 2 0 5 0 1 2-3 0 3 1-8 0 2 0 1 0 4 0 1 0 1 1-4 0 1 1-8 1 2 0 4 0 3 0 2 1-11 0 4 0 2 0 5 2-10 0 5 0 3 1-3 1-5 0 3 0 6 1-4 0 5 1-3 1-8 0 2 0 1 0 4 1-7 0 1 0 3 0 5 1-9 0 4 0 6 1-9 0 7 1-5 1-3 0 2 1-2 1 1 2 5 1 3 1-8 0 2 1-3 0 2 1-1 0 9 3-10 1 9 1-9 3 9 7 2 3-10 1 2 2 2 0 3 1 1 4-2 8-5 2 8 3-10 5 1 41 5-71 17-3-5-4 1-4-2-5 0-1-4-2 4-1-4 0 3-3-4-1 0 0 9-2-4-1-4-1 1 0 2 0 6-5-7-1 2 0 1 0 4-1-7-1-1 0 4 0 2-1-5-2-3 0 2 0 1-1-1 0 8-1-7-1 1 0 3 0 1 0 1-1-8-1 4-1-5 0 1 0 8-1-9 0 1 0 4 0 1 0 2-1-7 0 3 0 2 0 1 0 4-1-10 0 2 0 1 0 3 0 4-1-7 0 5-1-4 0 1 0 2 0 1 0 1-1-9 0 7-1-6 0 3 0 5 0 1-1-8 0 1 0 1-1-5 0 3 0 2 0 4-1-6 0 1 0 3 0 1 0 2 0 1-1-3 0 2 0 1-1-9 0 2 0 3-1-7 0 2 0 1 0 3 0 5-1-2-1-8 0 5 0 4-1-7 0 3-1 0 0 1 0 4-1-7 0 3 0 4-1-5 0 5-1-4-1-1 0 5-3-5-3-6 0 2-1 9-3-2-4-6-1-2 0 8-7 12 1-5 2 0 0 6 2-7 2 1 1 3 1 3 2-6 0 3 0 4 1-7 0 6 1-7 0 1 0 5 1 0 1-5 0 5 1-4 2-2 0 2 0 2 1-7 0 3 0 6 1-5 1-1 0 1 0 2 0 1 0 3 2-9 0 2 0 1 0 5 0 1 0 1 1-8 0 5 1-8 0 6 0 1 1-7 0 4 0 5 0 2 1-11 0 1 0 1 0 3 1-5 0 2 0 1 0 6 1-9 0 1 0 2 0 2 1 2 0 2 0 1 1-7 0 2 0 2 0 1 1-7 0 1 0 3 1-4 0 2 0 1 0 1 0 1 0 1 0 2 0 1 1-6 0 4 1-8 0 3 1-1 0 1 0 5 1-7 0 7 1 0 1-7 0 1 0 9 1-10 0 5 1-5 0 1 0 5 1 0 3-2 1-2 0 1 0 1 4 2 1-1 1-5 0 6 3-5 2 1 2-2 1 10 7-11 0 1 4 1 2 4 1-3 2 7 1-10 3 0 10 1 5 4-24 8-9 3-4 1-4-3-13 0 0 8-1-7 0 3-4-4-1 1 0 7-1-2 0 3-1-5-3-6-2 1 0 3 0 1 0 6-1-11 0 7-1-7-1 1 0 6 0 3-1-9 0 1 0 1 0 2 0 1-1-5-1-1 0 2 0 5-1-6 0 4 0 1 0 5-1-2 0 1 0 1-1-10 0 2 0 1 0 2 0 1 0 2-1-9 0 1 0 3 0 1 0 1 0 2-1-8 0 7 0 1-1-6 0 4 0 3-1-7 0 7 0 2-1-11 0 1 0 2 0 1 0 1 0 1 0 5-1-11 0 1 0 4 0 5-1-7 0 7-1-9 0 5 0 4 0 1-1-11 0 3 0 2 0 2 0 2-1-6 0 1 0 1 0 2-1-2 0 2 0 2-1-4 0 1 0 1-1-2 0 2-1-6 0 2 0 5 0 1 0 2-1-2 0 2-1-3-2-2 0 2 0 3-1-10 0 1 0 6 0 3-1-9 0 2 0 9 0 3 0 4 0 2 1-9 0 2 0 1 0 1 0 1 0 1 0 1 0 2 1-8 0 2 1-4 0 2 0 3 0 3 0 1 1-7 0 2 0 1 0 3 0 1 1-5 0 2 0 2 1-5 0 4 1-6 0 1 0 5 0 1 0 1 1-7 0 4 1-5 0 6 1-5 1-1 0 3 0 1 0 1 1-6 0 7 1-7 0 6 1-6 0 4 0 2 1-5 1 3 1-4 1 1 0 1 0 2 4-2 0 1 2-3 0 1 2-1 3 0 5 1"/><path d="M77 268.1L77 73.8" stroke="#7c7c7c" stroke-width="1.4" fill="none"/><path d="M77 268.1L271.2 356.3L521 290" stroke="#6a6a6a" stroke-width="1.1" fill="none" stroke-dasharray="2.6 2.2"/><path d="M77 268.1l-4.8 1.3M77 229.7l-4.8 1.3M77 191.3l-4.8 1.3M77 152.9l-4.8 1.3M77 114.5l-4.8 1.3M77 76.1l-4.8 1.3M271.2 356.3l-4.8 1.3M222.6 334.2l-4.8 1.3M174.1 312.2l-4.8 1.3M125.6 290.1l-4.8 1.3M77 268.1l-4.8 1.3M271.2 356.3l4.6 2.1M320.6 343.2l4.6 2.1M369.9 330.1l4.6 2.1M419.3 317l4.6 2.1M468.7 303.9l4.6 2.1M518.1 290.8l4.6 2.1" stroke="#666" stroke-width="1" fill="none"/><g font-family="Liberation Serif, serif" font-size="16.2" fill="#4a4a4a"><text x="64.5" y="270.4" text-anchor="end">0</text><text x="64.5" y="232" text-anchor="end">50</text><text x="64.5" y="193.6" text-anchor="end">100</text><text x="64.5" y="155.2" text-anchor="end">150</text><text x="64.5" y="116.8" text-anchor="end">200</text><text x="64.5" y="78.4" text-anchor="end">250</text><text x="257.2" y="374.9" text-anchor="end">1</text><text x="208.6" y="352.9" text-anchor="end">1.5</text><text x="160.1" y="330.8" text-anchor="end">2</text><text x="111.6" y="308.8" text-anchor="end">2.5</text><text x="63" y="286.7" text-anchor="end">3</text><text x="281.4" y="376.6">0</text><text x="330.8" y="363.5">50</text><text x="380.1" y="350.4">100</text><text x="429.5" y="337.3">150</text><text x="478.9" y="324.2">200</text><text x="528.3" y="311.1">250</text></g><g font-family="Liberation Serif, serif" font-size="18.0" font-style="italic" fill="#444"><text transform="translate(31.2 171.9) rotate(-90)" text-anchor="middle">Adjacent pixel value</text><text x="139.4" y="377.7" text-anchor="middle">Direction</text><text x="423" y="383.5" text-anchor="middle">Pixel value</text></g><path d="M848.8 354.6L653.8 265.2M653.8 265.2L653.8 70.6M898.6 341.1L703.6 251.7M703.6 251.7L703.6 57.1M948.4 327.5L753.4 238.1M753.4 238.1L753.4 43.5M998.3 314L803.3 224.6M803.3 224.6L803.3 30M1048.1 300.4L853.1 211M853.1 211L853.1 16.4M1097.9 286.9L902.9 197.5M902.9 197.5L902.9 2.9M848.8 354.6L1100.9 286M800 332.2L1052.2 263.7M1052.2 263.7L1052.2 69.1M751.3 309.9L1003.4 241.3M702.5 287.6L954.7 219M954.7 219L954.7 24.4M653.8 265.2L905.9 196.6M905.9 196.6L905.9 2.1M653.8 265.2L905.9 196.6M1100.9 286L905.9 196.6M653.8 226.8L905.9 158.2M1100.9 247.6L905.9 158.2M653.8 188.3L905.9 119.7M1100.9 209.1L905.9 119.7M653.8 149.9L905.9 81.3M1100.9 170.7L905.9 81.3M653.8 111.4L905.9 42.8M1100.9 132.2L905.9 42.8M653.8 73L905.9 4.4M1100.9 93.8L905.9 4.4" stroke="#ededed" stroke-width="0.75" fill="none"/><path transform="scale(.5)" fill="none" stroke="none" marker-start="url(#my)" marker-mid="url(#my)" marker-end="url(#my)" d="M1700 81l3 1 4-5 0 4 2 2 20-8 7 4 0 3 0 1 2-4 2-5 1 4 1 3 1 6-4-2-2 0 0 5 0 4-1-10 0 1-1-1 0 2 0 6-1-7-1 1 0 3-1 0-1-4 0 1 0 1 0 1 0 2 0 4-1-5 0 1 0 3 0 2-1-4 0 1-1-7 0 6 0 2 0 2-1-6 0 1 0 1-1 0 0 2-1-7 0 7 0 2-1-11-1 8-1-8 0 5 0 5-1-2-1 3-1-8 0 8-1-3-1-3 0 3-2-2 0 2-3-4-2 6 0 1-4-11-3 11-1-2-3 2-34 0-11-8-8 4-1 0-14-6-53 8-75 12 120 0 13-4 0 5 1-8 3 0 0 8 23-2 5-1 1 4 8-6 4 2 0 3 2-6 3-1 2 4 6-3 3 4 1 0 0 2 1 1 3-10 0 4 1 0 1 6 1-11 0 7 1 4 1-7 2-1 0 5 1-3 0 4 1-9 0 2 0 4 0 3 1-5 0 5 1-8 0 7 1-5 0 2 0 6 1-4 0 3 1-1 1-5 0 1 0 2 0 1 1-8 0 2 0 2 0 3 1-7 0 8 1-5 0 1 0 5 1-8 0 5 0 5 1-9 0 3 0 4 1-4 0 1 1-5 0 1 0 1 0 7 1-8 1 3 0 3 0 2 2-9 0 2 0 4 0 2 0 1 3-10 0 3 1 2 0 2 2 0 0 4 1-6 2-4 9 21-5-10-12 5-2-3-1 1-1-1 0 8-1 0-2-9 0 10-1-11 0 3 0 3 0 5-1-4-1-7 0 3-2-2 0 8-1-7 0 7-1-9 0 2 0 8-1-10 0 1-1 2 0 1 0 1-1-2 0 8-1-11 0 5 0 3 0 3-1-11 0 4 0 1 0 2-1-7 0 1 0 3 0 4-1-4 0 5 0 2-1-10 0 2 0 1 0 5-1 0 0 1-1-3-1-4 0 6 0 2-1-5 0 3-1-9 0 10-1-8 0 2 0 4 0 1 0 1-1-4 0 5-2-10 0 1 0 4 0 1-1-4 0 3-1 1-1-6 0 9-1 1-1-11 0 3-2 0 0 2 0 4-1-4-1-2 0 1-1-2 0 2 0 2-1-1 0 3-2-8-1 8-1-4-6 0-1 6-1-7 0 1-5 2 0 2-2-6 0 9-1-9-5 9-4-2-4-8-1 8-12 0-36-4-245 16 248-4 21 0 1 1 1 0 3 2 5 0 9 0 1-8 7 11 1-10 0 7 4-8 0 2 0 6 3-2 2-2 1-4 1 1 0 8 1-2 1-1 0 5 2 0 1-6 0 6 1-3 1-3 0 6 1-3 1-7 1 5 0 1 1-4 0 3 1-3 0 2 0 1 1-6 0 3 0 1 2-3 0 8 1-2 0 4 1-9 1 2 0 1 1-4 0 6 1-6 0 3 0 1 0 2 1 2 0 2 1-5 0 2 1-2 0 4 1-2 0 1 0 1 0 1 1-6 0 1 0 1 0 2 1-8 0 1 0 4 0 1 0 1 0 3 1-9 0 2 0 6 1-10 0 5 0 6 1-9 0 1 0 4 1-5 0 1 0 2 1-2 1-1 0 2 0 5 0 2 1-5 0 1 0 1 0 1 1-7 1-1 0 2 1 8 1-7 2-3 0 1 0 4 2-2 0 5 1-1 1-5 1-3 0 1 0 6 1 3 1-6 1-2 1 4 2-5 0 5 0 4 1-1 1-7 0 1 2 8 1-5 2-6 1 1 4 0 0 2 2 6 11-1 3 5-19 2-4-3 0 7-4-3-2-4 0 5-5-4-1-1-4 2 0 7-1-7 0 3 0 4-1-2 0 1-1-8 0 7-1-4 0 7 0 1-1-6 0 4 0 2-1-6 0 5-1-9 0 2 0 3 0 2-1-5-1 3-1-4 0 4-1 4-1 0-1-10 0 6-1 2-1-6-1-1 0 1 0 2 0 1 0 6-1-11 0 4 0 5-1-8 0 3 0 5 0 1-2-2-1-3-1-4 0 1 0 3 0 4-1-8 0 1 0 2 0 4 0 2 0 1-1-11 0 11-1-9 0 4 0 2 0 3-1-8 0 5 0 2-1-6 0 1-1-3 0 4-1-6 0 2-1-1 0 6 0 1 0 3-1-7 0 5 0 1 0 1-1-7 0 5 0 2-1 0-1-5-1-3 0 5 0 1-1 1-1-10 0 2 0 7-1-5 0 1 0 3 0 3-1-4-1-1-3 0 0 3-2-3-1-6 0 4-2-3-1 4 0 3-3-2-2-5-1 6-1-6-3 3-3 7-1 0-1-9-4 0-1 1-1 8-5-2-15-2-6 3-5-3-1 4-5-8-16 4-4-1-30 5-40-7 41 17 3-8 3 3 8 3 10-4 8 1 10-2 6 6 15-4 2 7 4-2 7-6 0 8 5-6 5 4 5-4 1 5 2-9 1 7 2 2 1-3 1 2 1-1 1-8 0 8 1-7 0 9 0 1 1-1 1-3 0 3 3-8 1-1 1 3 0 1 1-3 0 4 0 5 1-5 1 5 1-9 0 5 0 1 0 1 1-7 0 2 0 3 1-2 1 0 0 4 1-8 0 6 0 4 1-8 0 2 1-4 0 4 0 1 1-4 0 3 0 3 1-1 0 3 0 1 2-9 0 5 1-3 0 3 1-5 0 3 1-4 0 4 0 2 0 1 0 2 1-9 0 9 0 1 2-8 0 2 0 3 1-8 1 3 1-1 0 1 0 6 1-8 0 5 0 5 2-11 0 1 0 7 2 2 1-10 1 5 1 2 0 3 1 1 1-9 2-2 0 2 0 2 2-2 2 0 1 3 1-4 0 2 0 5 1-7 5 1 2 5 2-4 1-3 2 8 2-5 0 5 2-5 10 4 3-3 36-3 19 2 1 15-27 4-6 0-7-2-15-4-19 4-1-8-3 2-1 8-2-8-13 6-2-6-1 4 0 5-1-9-2 7-1-1 0 3-1-7-2-1 0 4-3-7 0 1 0 3 0 1 0 3-1-6 0 4-1 1 0 4-1-3-1-7 0 1 0 9-1-10 0 4 0 2 0 3-1-6 0 6-1-3-1-7 0 8 0 1-1-9 0 1 0 2 0 5-1-8 0 3 0 4-1-4 0 1 0 4 0 1-1-9 0 4 0 3-1-4-1-1 0 9-1-10 0 1 0 3 0 3-1-8 0 6 0 2 0 1 0 2-1-6-1-1 0 6-1-5 0 2 0 3-1-6 0 1 0 2-1-7 0 3 0 2-1-4 0 7 0 2-1-8 0 3 0 3 0 1-1-3-1-6 0 4 0 4 0 3-1-10 0 10-1-9 0 1 0 7-1-5-1 2-1 1 0 1-1-7 0 4-1-2-1-4 0 10-1-10 0 8 0 2-1-6 0 7-1-6-2 1-2 1-1 1-2-6 0 1-1 8-4-2-1-2-1-6-2 6-3 1-6 1-4-9-6 2-5 2-10 0-2 5-4-4-3-5-4 9-3-3-2-4-5 8-32 0-24-9-22 8-7-2 32 16 6-5 14 3 4-8 1 6 3 3 7-6 7-1 2 7 13 0 4-9 11 6 4-4 1 0 2 1 4 6 4-1 5-3 0 2 0 3 7-4 3-1 4 4 2 0 1 0 1-6 0 2 0 5 1-1 1 0 1-9 0 10 1 0 1-2 1 0 0 1 1-8 0 5 1 0 0 2 1-2 0 3 0 1 1-5 1-3 1-3 0 7 3-3 0 4 0 3 1-11 0 6 0 1 1-4 0 8 1-11 0 5 0 4 1-7 0 5 0 1 0 1 1-9 0 1 0 9 1-10 0 4 1 3 1-4 0 4 1-6 1 3 0 2 0 1 1-7 0 1 0 10 1-8 0 7 1-7 0 6 0 2 1-11 0 8 2-6 0 1 1-1 0 2 0 4 1-6 1 9 1-9 1 0 0 8 1-10 1 0 0 1 0 1 1 9 1-6 0 1 0 4 2-9 1-1 0 6 1-3 0 1 0 7 1-9 8 1 4-2 0 10 7-6 33 3 12-3-24 9-18 0-7 3-3-2-1 1-7 1-1-3-2 3-1-2-1 5-1-4-1-1 0 6-1-8-2 0 0 8-1-4 0 2-1-6 0 6-1-3 0 4-2-8-3 0 0 3 0 2 0 6-2 0-1-11-1 2 0 6-1-7-1 0 0 3 0 5 0 2-1-11 0 2-1-1-1-1 0 6-1-5 0 1 0 1 0 5 0 2-1-10 0 7-1 4-1-11 0 1 0 3-1-2 0 5-2-3 0 6-1-4 0 4 0 1-1-9 0 3 0 1 0 1-1-4 0 8-1-11 0 2 0 3 0 3 0 2 0 1-1-11 0 1 0 5 0 2 0 3-1-9-1-1 0 5 0 3-1-3-1-3 0 6 0 2-2-2 0 1-1-9 0 1 0 6 0 1-1-6 0 1 0 5 0 1-1-7-1 1 0 2-1 1-1-4 0 5-1-2-2-1 0 2-1-2 0 2 0 4-3-11 0 10-1 0-2-1-1 1-1-9 0 1 0 2 0 2 0 3-1-8-1 5 0 3-4-5 0 5-1-7-2 3-2-1-3 3 0 4-4-3-1 3-3-3 0 3-3-8 0 8-3-2-2-5-6-1 0 5-9-4-5 2-9-4-7 0-90 6-16-7-70 7 14 7 93 2 39 3 23 0 9 2 11-1 3-5 3-3 3 1 7 0 2-1 0 6 0 3 3-5 0 3 0 1 5-5 4 3 1-3 1 4 4-3 0 1 0 2 0 2 2-3 1-5 1 2 0 3 1 0 3-7 0 4 1-3 0 9 1-4 0 4 1-7 1-3 0 10 1-2 0 2 2-8 0 3 0 5 1-8 0 1 1-1 1 4 0 4 1-3 0 2 1-2 0 1 0 1 1-9 0 4 1 3 1 0 0 1 1-5 0 8 1-9 0 1 0 7 1-4 0 4 1-9 0 1 0 4 1-5 0 5 1-6 0 1 0 8 1-9 0 5 0 3 0 1 1-3 0 1 1-4 0 4 0 1 1-5 0 1 0 5 1-6 0 7 1-9 0 6 1 0 1-5 0 3 1 0 0 4 1-9 0 1 1 0 0 2 0 6 1-6 0 1 0 1 0 3 1-8 1 4 1 2 2 5 1-7 0 2 0 1 0 4 1-5 0 1 1-6 2 8 1-2 0 4 2-8 0 7 3-2 3-3 2-5 0 10 2-7 2-1 0 9 4-7 1 1 4-2 2 6 2-7 1-2 1 8 4-8 3 10 4-9 1 4 5-1 8 5 2-6 30 3 3-4 40 9-48 9-13 3-10-3-21 0-2-5-4 3-4-2-6-1-4 6-5-8-1 10-1 0-2-1-1-9-5 0-2 0-1-1-2 0-2 1-1 1 0 1-1-2-3-1-1 4 0 2-1-3 0 5-1-2 0 4-2-10 0 3 0 2-2-5-1 9-1-8-1-1 0 1-2-1 0 2 0 7-1-7 0 7 0 2-1-11 0 2 0 1 0 2 0 1-2-5 0 9-1-7 0 5 0 1 0 2-1-8-1-3-1 1 0 4 0 2-1-7 0 5-1-5 0 2 0 7 0 1-1-9 0 4-1-3 0 7 0 2-1-11 0 6 0 2-1-7 0 3 0 3 0 2-1-5 0 2-1-6 0 1 0 5-1 0 0 5-2-6 0 1 0 3 0 1-1-9 0 2-1-2 0 4-1-4 0 6-1-3 0 1 0 6-1-9 0 3 0 5-1-8 0 2 0 4 0 2-1-9 0 6 0 4-1-10 0 2-1-1-1-1 0 1-1 4 0 2-2-2 0 1 0 1 0 3-1-7 0 7-1-6-2 6-7-2-5-6 0 8-3-8 0 6-2-9 0 5-2-2-3 1 0 2-1-6-1 7-1-1-1 0-4-3-5 8-6 0-23-1-3-2-83-3-33-4 39 13 12 2 18 6 11-2 32-8 4 11 3-8 2 0 5 1 3-3 8 8 7-9 3 11 3-5 3 1 1-1 3 4 1-9 5 0 1 10 3-7 1 5 2-7 0 9 1-7 1-4 0 3 0 4 2-7 0 1 1 4 0 3 0 2 2-10 0 6 0 5 1-11 0 5 0 2 1 2 0 2 1-6 0 1 1-6 0 1 0 2 0 5 2-3 0 2 0 1 0 1 1-4 1-1 0 5 1-7 0 6 1-3 1 0 0 6 1-5 1-1 0 1 0 4 1-7 0 8 1-10 0 10 1-11 0 5 0 4 1-8 1 0 0 2 0 3 1 2 0 3 1-9 0 4 0 5 1-9 1 0 0 5 1-5 0 3 0 4 0 1 1-8 0 2 0 6 1-10 0 4 2-3 0 5 0 5 1-10 0 2 2-2 0 3 0 2 1-6 0 3 0 7 1-6 1-4 1 2 0 5 2-7 1 0 0 9 1-9 1 3 0 5 1-4 1 3 1 3 1-10 0 3 1 3 0 4 1-6 3-4 0 10 1-2 1-5 1-3 0 1 0 5 0 5 1-7 1-2 1 0 1 2 2-4 3 6 1 1 3 0 3-3 0 3 1-2 7 4 11-9 8 7 4-4 13-3 2 3 18 8 7-7-38 13-7-4 0 6-11-7-3 1-8 1 0 9-4-6-2-4-3 4 0 1-1-5-2 9-2-4 0 1-3 1-1-8 0 6-2-2-1-3-2 4 0 3-1-6 0 6-9 0-2-1-3 1-1-3-2-5 0 8 0 3-1-3-2-2 0 1-1-3-1-3 0 4-1 1 0 3-1-1 0 3-1-11 0 2 0 1 0 1-1-4 0 1 0 10-1-1-1-6 0 7-1-7 0 2 0 4-1-10 0 1 0 2 0 2 0 3-1-7 0 1 0 9-1-9-1 3 0 1 0 3-1-6 0 3 0 2 0 2-1-10 0 1 0 7-1-4 0 4 0 1 0 2-1-8-1 0 0 1 0 4-1-6-1-2 0 1 0 1 0 2 0 4 0 1 0 1-1-10-1 1 0 4 0 2-1 0 0 3-1-6 0 2 0 2-2-7 0 4 0 6-1-10 0 1 0 6 0 3-1-11 0 8 0 3-3-8 0 3-1-1 0 6-1-11 0 4 0 2 0 1-1 4-2-1-1-6 0 3 0 3-1-10 0 1-1 7-1-1 0 1 0 2-1-4 0 2-1-5 0 1 0 2-1-4-1 9-1-11-1 5-1-4 0 7-1 3-2-7 0 4 0 3-1-3-2-6 0 1-3 0 0 8-1-6-5 1-2-5-2 5-1-3 0 1-1-1-1 0-7 6-4 2-10-5-7 4-3-6-1 5-4-6-1-3-2 2-1 6-1-7-3 9-4-1-2 1-7-2-12 1-43 2-18-10-26 21 13-7 28-1 13-1 8 3 3 6 6 1 12 0 8-1 6 0 13-7 3 6 9-3 6-2 1-3 1 0 2 7 2 1 4-6 2 4 3 0 1 0 2 1 1-8 0 9 2-7 0 6 1 0 0 2 4-6 2 6 1-6 1-2 0 6 2-6 0 3 1-5 0 1 1 3 2 6 1-3 1-1 0 2 1-7 0 2 1-2 0 1 0 9 2-8 1-1 0 2 0 1 1 4 2-5 1-3 0 6 0 1 2-1 1-2 1-3 0 4 1 1 0 2 0 1 1-2 1-4 0 5 1-9 0 3 0 4 1 1 1-2 1 4 0 1 1-1 1-2 0 3 1-11 0 1 0 1 0 3 1 0 0 1 1-3 0 1 0 1 0 6 1-7 0 5 1-6 0 4 0 2 0 1 1-9 1 3 0 3 1-6 1 1 0 3 0 6 1-2 1-9 0 2 0 6 1-7 0 5 0 1 0 1 1-3 0 4 0 1 0 1 2-9 0 5 2-6 0 7 1-8 0 2 1 4 1-3 0 4 0 3 1-4 1-3 0 4 0 2 2-7 1 1 0 6 1-9 0 8 1-8 3 9 1-7 1 7 1-7 0 1 1 3 1-6 0 8 2-5 0 2 5 5 2-10 2 11 1-4 1 4 3-9 0 5 3 1 1-7 3 5 3-5 7 5 1 1 1-1 9 3 14-6 3 1 15-4 48 9 27-5-58 8-22 0-31 0-5 4 0 1-6-3-4 9-4-9-1 3-3 0-2-3 0 1 0 3 0 3-1-7-2 1 0 2-1-2 0 8-1-6-1-1-3 6-1 1-2-9-4 5 0 1-1-8-2 7-4-4 0 2-5 0-1 1-1 3-1-3-1-6 0 9 0 2-1-9-2 2 0 7-1-8-1 0-2 2 0 6-1-10 0 1 0 4-1-1-1-2 0 2-1-5 0 1 0 2-1-2 0 4-1-3 0 1 0 5-1-6 0 7 0 1-1-10 0 4 0 6-1-10 0 3 0 2 0 1 0 4 0 1-2-11 0 1 0 2-1 4-1-5 0 1 0 1 0 4 0 2-1-5 0 3-1-8 0 11-1-11 0 1 0 4 0 1 0 1-1-5 0 3 0 6-1-8 0 1-1 0 0 3 0 1-1-6 0 2 0 2 0 1-1-7 0 8 0 3-1-2-1-9 0 1 0 3-1-3 0 8-1-8 0 1 0 2-1 7-1-11 0 3 0 3 0 1 0 1 0 3-1-11 0 3-1 0 0 8-1-3-1-7-2-1 0 2 0 6 0 2-1-10 0 8 0 2-2-2-1-7 0 8-1-1 0 2-1-3 0 1-1-7-1 8-1-2 0 3-1-1-1 0-1-8 0 6-5-4 0 1 0 5-1 1-1-10 0 4 0 2-2 0-2 3 0 2-1-3-1-2-2-6-2 9-2-2-2-5-1 6 0 1-1-6-1-2-2 9-5-7-4 2-1-2-4-2-11 4-2 3-6 3-10-7-5 0-1 3-90-5-9 4 41 15 33 2 16-5 6-4 1-2 2 7 7-1 17 4 3-9 1 6 1-1 0 1 1-1 2-1 4-3 3 3 1-1 1 1 4 2 1 1 2-3 1-3 0 8 1-3 2-5 0 9 2-5 0 4 2-1 2 2 1-1 2-7 1 1 0 4 1 2 1-6 6-1 0 6 1-7 0 7 1-2 0 2 1 2 1-9 0 1 1-2 0 1 1 8 1-9 2 2 0 1 0 6 1-5 1-4 0 1 0 4 1 1 0 1 1-6 0 4 0 3 1-7 0 2 0 4 0 3 1-8 0 8 1-1 1-9 0 9 1-6 0 1 0 1 0 3 1-8 0 8 1-8 0 10 1-10 0 8 1-7 0 5 0 4 1-9 1 2 0 3 0 1 1-6 0 6 0 1 1 0 0 2 1-10 0 2 0 5 0 2 1-5 1-5 0 2 0 1 0 8 1-5 1 0 0 4 1-10 0 11 1-5 0 3 1-8 0 4 0 6 1-11 0 2 0 5 0 1 1-8 0 5 0 2 0 1 1-6 1 6 1-3 0 2 1 2 1-8 0 10 1-9 0 1 0 6 2 0 0 2 1-8 2 3 0 1 0 4 1-2 1-8 0 4 1 3 0 3 3-11 0 9 0 1 2-6 5 4 2 0 2 2 2-3 1-6 2-1 0 6 2-4 7 3 0 2 0 3 1-8 0 2 3 5 2-8 2 7 4-6 1-2 2 0 16 3 4 8 21-7 26-4 10 14-11 2-8-3-12 8-23-2-5-7-8 5-17 4-2-3-1-3-9-1-4 8-2-8-1 0 0 8-1-6-2-3-1-1 0 1-1 8-7 1-2-5 0 5-1 0-1-4-1 4-2-2-1-6 0 6-1-4 0 2-1-3-1-3-1 11-1-1-5-9-2 2 0 2 0 1-1 1-1 3-1-9 0 2-1 3-2-1-1 5-1-6 0 1 0 2 0 1 0 2-1-10-1 5 0 1-1 0 0 1 0 4-1-11 0 2 0 2 0 2 0 4-1-2-1-8 0 3 0 3 0 3 0 2-1-2-1-5 0 6-1-9 0 10-1-9 0 3 0 1 0 5-1-6-1-3 0 2 0 1 0 3 0 3-1-11 0 3 0 8-1-11-1 0 0 6 0 4-1-8 0 4 0 2 0 2-1-6 0 3 0 1-1-7 0 1 0 6-1-4 0 4-1-3-1-5 0 7 0 3 0 1-1 0-1-10 0 1 0 1 0 3-1 4-1 1-1-1-1-10 0 2 0 1-3-2 0 4-1-5 0 5 0 6-1-6 0 3 0 2-1-2 0 1-2-7 0 6-1-2 0 3-1-5 0 2 0 2 0 2-1 0 0 1-1-2-1-8-1 6 0 2-3-3 0 3-1 2-2-8 0 6-3 1-2-9 0 2-1-3 0 11-3-9-1 8-1-5 0 2-2 4-5-3-2-2-1 5-1-11-3 2-3 9-3-8-1 5-1-5-5 8-3-1-3-10-1 11-5-3-2-5-5 8-2-7-1 3 0 2 0 1-1-2-7 3-1-6-19-5-4 11-1-8-23-3-16 9-2 11 57-2 3 4 3-5 3-1 5-1 3 3 2-1 3 6 4-2 0 1 5-6 1 7 6 0 4-8 3-2 1-1 5 7 3 4 2-9 3-1 1 10 3-9 3-2 2 6 1 1 1-6 0 4 0 1 1 3 2-6 1 4 1-6 0 7 0 3 1-10 0 5 0 4 2-5 1-4 0 6 2-7 0 6 0 1 1-4 0 3 1-4 1-1 0 7 0 1 2-5 0 1 0 2 0 4 1-4 1 4 1-9 0 7 0 1 0 1 2-7 0 2 0 1 0 1 1-7 1 1 0 1 0 2 0 1 0 2 0 3 1-11 0 2 0 1 0 1 0 4 1-8 0 2 0 2 0 6 1-6 1-4 0 5 0 4 1-8 0 6 0 3 0 1 1-11 0 7 1-5 1-1 1 3 0 2 0 1 0 2 1-7 0 2 0 4 1-8 0 1 0 4 0 5 0 1 2-7 0 4 1-7 0 3 0 3 1 0 0 2 1 0 1-4 0 1 0 1 0 2 2-8 0 2 1-2 0 7 1-1 0 1 1-8 0 2 1 3 0 1 2-6 0 4 0 2 1-4 0 2 0 6 5-8 1-1 0 7 2 0 1-5 0 6 2-7 0 2 1 2 1-2 1-2 0 4 2 2 2 0 0 2 2-9 0 1 1-2 0 3 4 4 4 4 1-11 8 9 3-1 2-1 8-4 5 2 2-1 3-1 5-1 7 8 21-9 3 0 138 20-122 2-24-7-8 2-4 3-1-6-12 3-24 5-2-9-1 2-3-3 0 1 0 8-2-1-1-2-2-1-4 2-1-6-1-1-1 7 0 1-6-7 0 6-2-3-2 5-1-10-1 6 0 1-4 3-3-4 0 3-1-9 0 5-3-2 0 5-4-2-1 2-1-8 0 8-2-1-2 4-1-5 0 5-2-9 0 1 0 2-1-4-2 9-1-4-1-4 0 1 0 3-2-4 0 5-2-1-1-5-1 1 0 3 0 6-1-11 0 4-1-3 0 3-1-2-1 1 0 3 0 1-1-5 0 5-1-7 0 6 0 1-1-2 0 5 0 1-1-10 0 3 0 7-1-5 0 5-1-4 0 4-1-10 0 3 0 7-1-6 0 1-1-6 0 1 0 4 0 3-1-8 0 3 0 6-1-5 0 5 0 2-1-11 0 2-1-1 0 1 0 1 0 6-1 0-1-9 0 9 0 2-2-9 0 4 0 3-1-6-1 1 0 4 0 1-1-9 0 1 0 8-1-5 0 5-1-5 0 2 0 4-1-10 0 8-1-8 0 5 0 5-1 1-2-5-1-3 0 3 0 2-3-4 0 2 0 1-1 2 0 2-1-5 0 5-1-10-1 8-2 2-1-2-1-5-2-2 0 7-1-2-1 0-1 3-2-2-2 2-1-1-1 1-3-10-1 0-5 9-1 1-2-2-1 3-3-7-11-3-9 6-7 1-47-8-9 10-24 11 17 0 42 2 2-4 4 4 4-1 2-4 1 2 6 3 7-10 2 1 4 9 3-11 15 7 3-3 0 2 0 4 1-7 8-3 0 9 1-9 0 1 1 9 3-3 0 1 1 2 1-4 1 2 1-6 0 2 0 7 1-11 0 4 2 3 0 1 1-7 0 10 1-9 1 8 2-1 1-3 0 3 1 1 1-6 1-4 0 10 2-9 0 1 1 3 0 3 0 2 1-4 1-5 1-1 0 4 0 2 1-4 0 1 0 1 0 5 0 2 1-2 0 2 1-11 0 1 0 3 1-2 0 6 1-1 1-5 0 3 1 2 1-7 0 1 0 2 0 4 0 4 1-10 0 2 0 4 0 1 1-6 0 3 0 6 1-11 0 7 0 1 0 1 0 1 1-10 0 1 0 3 0 3 2-7 0 1 0 4 0 2 1-3 0 5 0 2 1-7 1-1 0 8 1-7 0 1 1 0 0 1 0 1 1-7 0 5 0 3 0 3 1-5 1-4 0 4 1 0 0 4 1-9 0 5 0 2 2-7 0 3 0 4 1-6 0 8 1-2 1-4 0 4 1-3 0 3 1-2 0 1 0 1 1-8 1 5 1-3 2 5 1-4 2 4 0 2 1-3 2-2 3 6 2-2 2-7 10-1 0 4 0 3 2-3 1 7 8-8 1 3 3 3 2-3 3 4 5-9 3 5 2-4 7 0 3 3 1 1 8-1 9 6 4-4 1-7 42 2 5 16-8-3-1 1-2 6-30-9-6 0-7 3-7 4-14 0-4-5-1-2-6 3 0 6-1-8-1 5-1 0-8-6-1 5-2-5-2 1-2 0-7 7-1-4-2-1-2 2-2-1-2-1-2-4 0 4 0 3-2 3-1-6 0 1 0 5-3-10-4 4-1 3-2-3-1-3 0 3-1 3 0 1-2-3-2 3-2-3-1-5 0 1-2 1 0 5-1-3-1 5-3-4 0 1-1-3 0 3-1 0-1 2-1-6 0 3 0 2-1-6 0 2-1 4-1-7 0 4-1 0-1-4 0 3 0 1-1-3 0 4-1-3-2-2 0 4 0 3 0 3-1-10 0 3 0 6 0 1 0 1-1-4-1-2-1 1 0 4-1-10 0 9 0 2-1-10 0 4-1-5 0 3 0 4 0 2 0 2-1-9-1 0-1-2 0 1-1 0 0 2 0 2 0 1 0 1 0 3-1-7 0 5 0 1-1-8-1 3 0 1 0 1 0 5-1-2-1-7 0 4 0 4 0 1-1-5 0 4-1-8 0 4 0 1 0 1-1-7 0 2 0 2 0 1 0 5-1-11 0 1 0 6 0 4-1-5 0 5-1-9 0 2 0 1-1 0-1-4 0 4-1-5 0 6-1-3 0 1 0 6-1-9-1 4 0 2 0 4-2-11 0 5 0 1-1-6-2 9-1 0-1-5 0 1 0 1-3-5-2 6 0 1-2-2-2-1-2-3-1 1-1-3 0 5-6-4-2 0 0 1 0 1-1-2-1 0-2 10-4-5-6 5-3-10-1 10-1-7-4 2-1-4-7 6-2 1-7-2-3-7-46 8-13 13 16 0 5-1 12-6 28-2 2 4 4 0 14 6 3-5 4 4 0 1 1-5 4-1 3 4 1-8 1 1 2 10 2-8 0 7 1-5 1 1 1 2 0 1 1-8 3 1 0 1 0 6 1-9 0 3 0 8 2-7 0 1 3-3 1 0 0 5 0 4 2-9 0 2 0 7 2-2 1-7 2 5 0 4 1 0 1-6 0 4 1-9 0 6 1-1 0 3 0 2 2-10 0 6 1-6 0 9 1-6 0 4 1-5 0 6 0 2 1-1 1-4 0 5 1-10 0 2 0 4 0 2 1-8 0 6 0 1 1-4 0 3 0 1 0 1 0 3 1-10 0 1 0 7 1-1 1-8 0 3 0 6 1-9 0 4 0 5 0 1 1-10 0 3 0 5 1-4 0 2 0 3 0 1 0 1 1-8 1-2 0 3 0 5 1-8 0 1 0 5 1-7 0 9 1-5 0 5 1-8 0 3 0 3 1 4 2-11 0 2 0 6 1-8 1 4 1 5 0 2 1-9 0 1 0 3 0 2 1 0 1-6 1 0 0 4 1-6 1 11 1-11 0 2 0 3 0 2 1-5 3 1 0 7 1-7 1 0 1 1 2-3 1 10 1-5 1-4 1 2 4 4 3-8 0 8 1 1 3-7 1 4 6-1 1 2 1-6 1 9 3-8 3 2 0 5 2-9 1 0 0 5 13 5 7-8 0 7 9-3 3 2 22 1 52-8 35 6 67 8-58-1-86 6-28-3-13 1-15 5-1 0-11-3-1-1 0 4-2-9-6-2-1 9-8-4 0 6-4-11-2 0-3 2 0 6-2-7-2 7-1-2 0 2-1-8-6 0 0 1 0 3-1 4-1-6 0 6-1 2-1-2-1-4-2-4 0 7-1-3-1-4 0 5 0 5-2-7 0 6-1-8 0 2 0 7-1-8 0 7-1-7 0 5 0 2 0 1-2-9 0 3-1 0-1 1-1-5 0 6 0 5-1-8 0 7-1-7 0 3 0 1-1-6 0 3 0 6 0 1-1-11 0 1 0 1-1 4 0 3-1-2-1-7 0 2 0 3 0 1-1 4-1-9-1 0 0 1 0 1 0 3-1-4 0 1 0 2 0 2 0 1-1-6 0 2 0 2 0 2-1-7 0 6-1-6 0 1 0 1 0 2 0 2-1 3-1-10 0 3 0 5 0 2-1-4 0 2 0 3-1-9 0 5 0 4-2-9 0 2 0 1 0 5-1-2 0 1 0 2-1-3-1-5 0 4-1-6 0 1 0 3 0 2-1-1 0 1-1-2 0 6-1-11 0 5 0 2 0 4-2-9 0 6 0 3-1-8 0 2 0 2-1-2 0 2-1-5 0 3 0 6-1-10 0 4 0 2 0 3-1 0-1-7 0 7-1-10 0 3 0 8-1-7 0 2 0 5-1-5 0 1-3 0-1 3 0 1-1-9-1 9-2-7-1-3 0 9-3-10-1 1-1 7-1-3 0 1-1 1-2-4 0 6-1 1-2-8-2 3 0 2-2-1-2 0-4-3-1 3-1 4-1 0-5-5-13-3-7 2-11-2-4-2 0 6-4 5-16-2-12-9-2 2 11 13 9 5 2-7 3-1 12 1 2 7 6-4 10 3 1-6 0 1 0 1 20 8 1 0 2-11 0 1 2 7 1-2 1-1 0 5 1-7 1 2 0 4 0 1 2-10 1 11 2-10 2 2 0 5 0 1 2-5 1 3 1 1 0 2 2-4 2-3 0 6 0 1 1-8 1-2 0 2 0 7 1-2 0 1 0 2 2-10 0 2 0 9 1-3 2-7 1 4 1-3 0 7 0 1 1-6 0 2 0 1 1-3 0 5 1-8 0 6 0 4 1-10 0 4 0 2 0 4 1-10 0 3 0 1 0 1 1-2 0 7 1-11 0 9 0 1 0 1 1-9 0 6 0 1 1-7 0 5 0 4 1-11 0 7 1-6 0 9 1-10 0 4 0 7 1-2 1-9 0 3 0 3 1-1 0 2 0 1 1-5 0 1 0 2 0 3 0 1 1-9 0 2 1 2 1-3 2 3 1 1 0 2 1-7 0 9 1-9 0 8 1-7 0 2 0 1 1-4 0 4 1-3 1 2 0 5 1-9 0 1 0 7 0 1 1-9 1 1 1 1 0 4 1 3 2-2 0 3 1-4 0 3 3-2 4 0 4-5 1 1 2 1 3 5 1-8 1 7 3-6 14 3 1 1 4-6 6 9 6-5 4-2 1 9 67-7-28 12-36-3-21 1-5 5-5-3-2-2-6 6-2 0-12-1-5 0-1 0-1 1-1 2-2-7-3-3 0 8-2-4-3-4-1 3-2-2-3 3 0 2-1-6 0 3 0 6-1-9 0 5-1-5-1 2 0 5 0 4-2-11 0 3 0 6-1-5 0 4 0 2-1-3-1-7 0 5 0 1 0 1-1-3 0 6-1-10 0 6 0 1-2 1-2-8 0 3 0 4 0 2 0 1-1-3 0 3-1-3-1-6 0 5 0 1-1-2 0 3 0 1-1-5 0 1 0 3-1-8 0 5 0 2-1-4 0 1-1-4 0 3 0 1 0 2 0 3 0 2-1-11 0 1 0 4 0 4-2-1-1-4 0 4-1-6 0 2 0 4 0 2 0 1-1-2-1-8-1 1 0 1-1 4-1-7 0 6-1-6 0 6-1-4 0 4-1 4-1-10 0 6 0 1-1-7 0 7 0 3-1-9-1 2 0 2-1 1 0 1 0 3-1-5 0 3 0 1 0 1-1-2-1 3-2-4-1-3 0 4-1-7 0 4 0 1-1-3-1 7 0 1-2 0-3-9 0 1 0 7-1-5-1-4-2 4-6-2-3 0 0 4-7-4-4 5-2 2-7-3-1-2-8-4-1 10-2-9-3 9-26 8 1 4 8-3 3-6 0 5 21-2 2 2 2-5 2-2 5 8 3-1 4-7 1 2 4 7 1-8 0 10 1-1 0 1 2-9 4 0 0 1 0 1 1 3 1 3 1-7 0 8 1-2 2-6 0 3 0 4 1-3 1-6 0 10 1-11 0 1 0 8 0 1 1-7 0 4 1 1 0 3 1-6 0 1 2-2 0 4 1 0 2-7 0 3 0 5 1-7 0 2 0 6 2-5 0 1 1-5 0 1 0 4 0 2 1 3 1-11 0 9 1-6 0 1 1 0 0 4 0 1 1-8 1 1 0 3 0 4 1-6 0 4 1-2 1-5 0 1 0 1 0 4 0 4 0 1 1-9 0 3 0 3 1-7 0 2 0 2 0 1 1-6 0 1 0 1 0 5 1-6 0 5 0 3 0 1 0 1 1-7 0 3 0 2 1-5 0 6 1-10 0 3 2-3 0 8 1-6 0 2 0 3 0 4 1-7 1-2 0 3 0 3 0 1 0 2 1-11 0 4 0 1 0 6 1-11 0 8 3-1 1-2 2-4 0 8 1-9 0 7 0 2 1 0 0 1 3-3 2-6 1 4 1 1 1-1 2-1 0 3 1-7 0 2 0 6 3-5 1-1 0 9 1-10 1 4 0 6 3-6 1 6 1-11 3 0 9 2 26-1 15 1 19 0 33 21-24-7-50 6-14-1-12-5-8-3-1 0-1 0-3 8-3-4-2-1-4-4-1 2 0 2-1 2-5 4-1-8 0 9-1-10-1 0 0 9-1-6-2-2 0 2 0 5-1-3-1 4-1-10-1 1-2-1 0 4-1 6-1-5-1 2 0 1 0 3-1-10 0 3-1 4 0 3-1-2-1-9 0 7 0 1 0 1-1-5-1-3-1-1 0 1 0 1 0 1 0 4-1-2 0 3-1-5 0 2-1-5 0 3 0 3 0 4-1-8 0 2 0 1-1-5 0 5 0 5-1 0-1-6 0 1 0 4-1-7 0 4 0 5-1-5-1-5 0 2 0 1 0 1 0 1-1-3 0 1 0 1 0 2 0 2-1-9 0 2-1-2 0 3 0 7-1-1 0 1-1-5 0 2-1-2 0 2 0 1-1-3 0 3 0 3-1-8 0 5-1-6 0 2-2-3-1 2 0 4 0 1 0 3-1-9 0 1 0 8-1-10 0 3 0 1 0 4 0 1-1-6 0 5-2-8 0 6-2-3 0 7-1-9 0 4 0 4 0 1-1-2-1 1-1-5 0 4 0 2-2-10-1 0-1 1 0 7-1-6 0 5-2 3-1-3-1-1-6-1-3-6-1 5-1-1-1 1 0 6-6 0-2-5 0 2-4-3-2 2-2 0-7 3-3-8 0 8-6-6 4 11 3 0 3 8 12-10 0 4 1-4 1 3 2-1 1 4 2-6 0 2 3 5 2-7 3 6 2-4 0 7 2-9 0 5 0 5 4-10 0 10 1-4 1-7 1 2 0 3 0 4 1-3 1-1 1-4 0 5 1 0 0 5 1-7 0 5 1-6 1-1 0 2 0 7 1-5 0 3 0 2 1-9 1-1 1 2 0 2 0 3 1-5 0 5 0 1 0 2 1-4 1-6 0 9 1-5 0 1 0 4 1-8 0 4 0 5 1-11 0 2 0 3 0 3 0 3 1-9 0 2 0 4 1-8 0 10 1-9 2 1 0 1 1-3 0 3 0 3 0 2 0 1 0 2 1-5 0 2 2-7 0 1 1-2 0 2 0 2 0 5 0 1 0 1 1-7 2 5 1-7 0 3 0 1 0 2 1-7 0 7 1-1 0 1 1-7 0 2 0 4 1-7 0 1 0 2 0 3 0 2 1-7 0 3 0 1 1-4 0 6 0 1 0 3 1-8 0 4 0 2 1-7 1 1 1 0 1 7 1-5 0 5 1-9 2 0 0 8 3-9 0 6 2 2 1 0 3-5 1-3 0 4 5 3 4 3 1-1 3-3 2-5 1 0 2 2 8 3 8-5 2 7 7-8 24 19-25 3-16-3-8 1-2-6-3 3-12 1-1 2-1-6-2 9-2-10 0 7-3-7 0 3-1-4-7 3-2 2-3 2-3 4-1-11 0 1-2 4 0 4-2-9 0 1 0 3 0 5-1-3-1 4-1-2-1-4 0 3-1-7 0 7 0 4-1-11 0 2 0 4-1-1-1 2-1-6 0 3 0 6 0 1-1-3-1-8-1 7-1-5-1 0 0 1 0 2 0 5-1-8 0 1 0 1 0 7-1-10 0 1 0 4 0 2-1-5 0 5-1-7 0 7-1-7 0 1 0 7 0 1-1-7 0 1 0 4-1-4 0 3-2-1-1 2-1-4 0 3 0 1 0 1 0 1 0 1-1-10 0 2 0 4 0 4-1-11 0 1 0 4 0 3-2-1 0 4-1-3-1-6 0 5 0 2-1-4-1-3 0 2 0 7-2-9-1 5-1-4 0 6-1-3 0 4-1-10-1 0 0 4 0 4-1-6 0 1-1 0 0 5 0 3-1-8 0 3-1 3-1 2-1-7-2-2-1 0-2-2 0 7-1-5 0 7-1-7 0 8-3-8-2 7-2-3 0 4-7 0-3-5-1 6-4 1 1 5 7 4 1-1 1 2 2-9 1 2 0 3 1-2 2-3 0 6 1-2 1 5 2-5 3 0 0 6 2-11 0 11 2-9 0 1 2 6 1-6 0 8 2-8 0 4 1-3 1-1 0 1 0 6 1-9 0 7 0 1 0 1 1-8 0 8 0 1 1-7 0 1 1 1 1-6 0 3 0 7 1-5 0 1 1-4 0 7 1-3 1-6 0 3 0 2 0 2 1 4 1-8 0 3 0 5 1-11 1 3 0 1 0 1 0 3 1-8 1 0 0 5 0 2 0 1 1-6 0 2 0 3 0 4 1-9 0 4 1-6 0 6 1 0 0 5 1-11 0 5 1-4 0 1 0 1 0 8 1-8 0 5 1-3 0 1 1-3 0 3 1-3 0 1 1 3 0 3 1-3 0 1 1-7 1 6 1-2 0 1 2-1 1-4 0 2 1-1 2 1 1 6 0 2 1-11 2 11 2-7 1-3 1 0 1 0 2 0 3 0 1 0 0 2 0 1 2-3 1 8 1-7 0 4 2 3 3-8 3 9 17 11-4-3 0 3-15-1-1-3-4 3-2 2-7-10-1 8-4-5-9 5-4-3-4-2 0 1-2 3-2-3-1-4 0 2 0 4-1-5-1 10-2-11-2 3-2 3-1 0 0 2 0 2-1-6-1 0-1-1 0 1-1-4 0 6 0 4-1-10 0 4-1-3-1 5 0 1-1-5-1 0 0 4 0 2 0 1-1-2-1 1-1-7 0 5-1-4 0 1 0 1 0 1-1-2 0 6-1-2-1 3-1-10 0 1 0 2 0 4 0 1-1-4 0 1 0 3 0 1 0 1-1-7 0 6 0 2-1-11 0 3-1 4-1 4-1-9 0 3 0 1 0 1 0 2 0 1 0 1-1-6-2-3 0 4 0 5-1-8 0 5-1-1-3-4 0 8-1-2-2-3 0 1-2-2 0 1 0 2-11 2-5 1 4 10 1 2 3-5 2 0 3 4 1-3 0 3 1-5 2 4 1 1 1-10 0 6 0 1 0 4 1-10 0 4 0 5 1-9 0 1 0 7 1-8 0 6 1-2 0 4 0 2 1-4 0 1 0 3 1-6 0 3 0 1 1-3 0 2 0 1 1-9 0 1 0 3 0 5 1-7 0 1 0 1 0 1 0 3 1-5 0 5 1-5 0 4 0 2 1-7 0 1 0 3 2-3 1-2 0 10 1-6 0 2 1-4 0 6 1-9 0 6 1-6 0 1 1 0 1 8 1-6 0 5 1-7 0 1 1 6 1-8 1 8 1-3 1 0 2-5 0 1 4 10 6-1 1-2 1-6 19 5 0 4 2-2 7-4 23-5-67 14-10-2-3 4-1 6-5-9 0 5-3-4-1-1 0 2-1-1 0 6-1-7 0 4 0 1-1-6 0 2 0 3-1-3 0 5-1-3-1-1 0 4-1-5 0 1-1-2 0 5 0 1-1-7 0 5 0 6-1-11 0 11-1-7 0 5-1-7 0 4 0 3-1-7 0 2 0 3-1-6 0 7-4-8 0 5-1-1-1 2 2 10 1-1 1-1 1 0 0 1 1 0 4-3"/><path transform="scale(.5)" fill="none" stroke="none" marker-start="url(#mo)" marker-mid="url(#mo)" marker-end="url(#mo)" d="M1945 159l-2 1-2 2 0 1 0 2-1-3 0 1-1 0-1 1-2 2 0 1-3 0-2-1-3 1-22-4-8 0-13 1-23-8-48 6-37 5-67 9 111-1 21 0 20-2 12-3 8 8 7-1 11-6 4 7 3-3 2 0 1 3 6-7 0 3 1 5 2-9 0 7 1-7 1-1 0 7 1-6 0 5 1 0 2 3 0 1 1-3 0 2 0 1 1-4 0 1 0 2 0 1 1-2 1-6 0 1 0 5 0 1 1-5 0 1 0 1 1-2 0 3 1-6 0 1 0 1 0 7 1-9 0 2 0 3 1-5 0 1 0 1 0 1 0 5 1-10 0 11 1-11 1 2 0 6 1-7 3-1 1 11-3 2 0 7-2-1-4-7-1 10-2-10-1 7-2-3 0 7-2-10 0 6-1-6 0 1 0 4-2-6 0 2 0 3-1 0 0 4 0 2-1-10 0 5-1-1-1-3 0 1 0 3 0 3-1-9 0 7 0 2-1-4 0 3 0 1-1-1 0 1 0 2-1-2-1-1 0 2 0 1-2-1 0 1-2-9-3 8 0 1-2-9-1 7-1-7 0 4 0 3-1-6-2 4-4-6-3-1 0 10-3 1-2-3-13 3-2-2-9-7-1-1-7 4-4-2-4 6-19-9-28 13 24 7 5 3 17-11 9 2 4 7 2 2 1-1 2-8 0 8 3-6 2 1 3 6 2-7 10 3 3 3 3-1 1-6 0 4 0 1 1-4 0 3 0 4 1-2 2 1 2-4 1 3 1 0 0 1 1 1 1-9 0 3 0 4 1-7 0 2 0 6 0 1 1-4 0 2 1-9 0 9 0 1 0 1 1-8 0 3 0 3 0 2 1-9 0 6 0 1 1-9 0 1 0 4 0 1 0 1 0 3 1-7 0 6 1-9 0 3 0 2 0 2 0 3 1-9 0 1 0 1 0 2 0 1 1-6 0 1 0 1 0 1 0 6 1-8 2 2 0 4 1-3 0 1 0 3 0 1 1-9 0 2 0 1 0 1 0 2 0 1 1-7 0 2 0 5 1-7 1 8 1-1 1 1 0 1 1 0 1-9 3 2 1 2 0 3 11-4 12 18-4-3-5-3-1 4-4 0-2 3-16-1-1-5 0 4-3-4-4 3 0 3-1-2-1-8 0 1-1 5 0 3-1-8-1 3-1-1-1-2 0 4 0 3-1-8 0 1 0 5 0 1 0 4-1-10 0 1 0 5-1-7 0 1 0 1 0 3 0 1 0 4-1-7 0 2-1-5 0 1 0 3-1-2 0 2 0 1 0 2 0 1-1-7 0 3-1-3 0 2 0 2 0 2 0 2 0 1-1-1 0 1-1-5 0 1 0 1-1-5 0 1 0 4 0 1 0 1 0 1-1-8 0 3 0 6-1-9 0 7 0 1-1-10 0 4-1-2 0 7-1-7 0 3 0 1 0 5-1-4 0 2 0 1-1-4-2 5-6-10-1 6-1-6 0 5-5-4 0 6-16-7 0 3-1-3-7 4-1 4-1-4-3 5-1-8-3 1-10 7 0 1-5-4-7-3-5-2-57 9-137-9 52 21 33-6 50 2 28-2 14-3 16 4 2 0 5 1 25 1 2-3 0 5 1-1 3-1 1-7 2 5 5 4 1-5 1 1 3-1 1-5 0 8 1-8 0 11 5-9 5 5 1-4 0 4 0 2 0 1 1-5 1-5 0 7 0 1 0 1 0 1 1-8 1 1 0 8 1-2 0 2 1-7 0 1 0 2 0 1 0 3 1-9 0 3 0 1 0 1 0 4 1-2 2-8 0 2 0 1 0 1 0 2 1-6 0 1 0 2 0 1 0 2 0 2 0 2 1-7 0 3 0 3 1-5 0 1 0 1 0 3 1-7 0 2 0 3 0 1 1-8 0 3 0 4 0 2 0 1 1-11 0 1 0 1 0 1 0 1 0 1 0 5 0 1 1-11 0 2 0 1 1 2 0 6 1-11 0 1 0 4 1 2 0 2 1-8 1 2 1 1 0 1 3 0 2-2 3 1 2 7 4-1 4-1 6-1 15 3 18-3 6 3 0 12-14 0-8-2-9-1-11 0-10-4 0 5-1-7-1 1 0 1-2-4-2 1 0 5-2 1-1 1-1-2-2-5 0 4-2 0 0 2-1-6 0 1-3 4 0 3-4-8-1 8-1-7 0 9-1-8 0 3-1-3 0 2 0 5-1-10 0 3 0 1 0 5-1-7 0 4-1-6 0 11-1-9 0 2 0 1 0 5-1-10 0 1 0 2-1 0 0 3 0 1 0 3-1-10 0 5-1-4 0 1 0 4 0 1 0 2-1-9 0 6 0 3-1-5 0 5 0 1 0 1-1-10-1 1 0 2 0 4 0 1-2-4 0 3-1-1-1 0 0 3-1-3-1-2 0 4-1-6 0 8-1-6 0 5-1-2 0 3-5 0-3-11-1 1-3 2-2 2-7 2-1 2 0 2-2-4-2 0-1-7-6 5-5 6-7-1-7-7-7-1-20 2-1 5-4-2-19 3-62 3 27 4 29-4 3 2 19 5 25-1 5 0 5-5 7 6 11-1 0 2 0 1 1-2 1-2 1-2 0 5 0 2 1-4 1-7 0 3 0 5 5-5 0 6 2-1 1-1 0 2 2-1 1-4 1-1 2-3 0 7 0 2 1-2 0 1 0 1 1-5 0 3 1-4 0 6 1-4 0 4 3 0 1-4 0 2 1 3 0 1 1-8 0 4 0 2 1-5 0 3 0 3 1-8 0 2 1 0 0 2 1-6 0 8 0 2 0 1 1-8 0 6 0 1 0 1 1-5 0 2 0 1 1-5 0 2 1-4 0 1 0 1 0 2 0 3 1-9 0 1 0 1 0 1 1-2 0 2 0 3 0 1 1-1 1-2 1-4 1 3 0 1 0 2 1-4 0 3 1-4 1 4 1 4 1-9 0 3 1 1 0 3 2-2 1 1 0 2 2-6 0 3 2-5 1 11 2-6 3-2 5 2 3-3 0 6 2 0 1-7 3 5 2-2 2 6 2-1 11-2 4-3 9 0 35 5-52 12-10-7-21-1-2 1-2 5-1-6 0 2-1 1-1 6-1 0-2-3-3-2 0 5-2-2-1 0-2 3-2-3-1-8 0 11-1-9 0 4-1-5-1 1 0 9-1-8 0 1 0 3-1-6 0 3-1-4 0 5-1 1 0 3-1-8 0 3-1-4 0 1 0 7 0 3-1-10 0 1 0 4-1-3 0 1 0 3-1-2 0 4 0 1 0 1-1-11 0 2 0 1 0 1 0 2 0 3-1-8-1-1 0 2 0 3 0 2 0 1 0 2 0 1-1-7 0 1 0 4 0 1-1-10 0 8 0 1 0 1-1-9 0 3 0 2 0 4-1-9 0 1 0 1 0 6 0 2-2-4 0 4-1-7 0 5 0 1-1-10-1 4-1 0-2-3 0 7-1 2-1 0-1-7-1-2-3 2-3 1-2 3-1 1-2-8 0 3-1-1-1-2 0 1 0 9-2-8-11 6-3-4-2 5-5 0 0 2-3-10-2 10-10-1-8-9-11 10-11-4-5-5-30-1-54 9-37-5 90 11 3-4 29 0 18 2 4 2 8 3 3-3 0 2 6 0 8-5 0 4 3-3 1 2 1 5 2-9 0 11 2-4 5-2 0 1 0 4 1-9 2 4 1-3 1 7 4-7 2 1 0 5 0 2 1-4 1-4 1-2 1 7 1 0 0 3 0 1 1-3 0 1 1-4 0 2 0 1 0 1 1 0 0 2 1-11 0 1 1 8 1-5 0 5 1 0 0 1 1-7 0 2 0 3 0 3 1-4 0 1 0 1 1-2 0 2 0 2 1-7 0 5 1-3 0 3 0 1 0 1 1-7 0 1 0 1 0 4 1-7 0 1 0 1 0 2 1-6 0 2 0 2 1-5 0 1 0 1 0 2 0 1 0 4 1-8 0 1 0 9 1-10 0 1 0 1 0 4 1-6 0 6 0 2 1-6 0 2 0 2 0 2 1-9 1 2 0 1 0 1 0 1 1 4 0 2 1-6 0 4 1-7 0 2 0 4 2-7 0 2 2 3 0 4 1-9 0 9 1-10 0 4 3-2 2 9 1-11 5 2 7 3 1-5 0 3 3 6 1 0 2-4 1 2 1-4 1-3 3 10 2 0 1 1 5-10 5 9 6-5 1-3 18 1-15 11-4-1-8 10-1-5-4 3-4-7-4 7-18-5-3-3-1 5 0 1-1-6-4 7-1-8 0 5-2 1-1 0-2-5-1 5-1-1-2-2-1-1-1-2-2 10-2-7-1-1-1 3-3-5 0 1 0 2-1-3 0 4-1-1 0 8-1-10 0 4 0 1-1-6 0 3-1-3-1 1 0 5 0 3-1-9 0 2 0 4 0 2-1-4 0 3 0 1-1-1-1-5 0 1 0 5 0 3-1-2-1-8 0 1 0 4 0 2 0 1 0 1-1-6 0 7-2-6 0 2 0 2-1 2-1-11 0 2 0 6 0 3-1-9 0 5-1-6 0 1 0 5 0 3-1 0-1-10 0 4 0 1 0 1 0 1-3-5-4 8-2-8-1 4-2 4 0 1-1 0-1-2-2-1-1-6 0 8-2-1-1-4-1 2-1-6-1 5-3-1-1-5-1 10-1-6-2-4 0 2-1 5 0 1-5-7-4 4-9 5-1-3-2 3-1-2-1 0-5 0-2-5-6-3-2 11-1-11-4 5-2-4-31 2-7 2-42-3-115 16 56-5 51 8 20-9 13 11 4-1 13-9 4 2 22 0 1 5 16 1 0 2 3 0 2-8 3 5 2 2 4-2 4-8 1 1 2 8 2-6 1 3 4-3 1 8 1-6 1 5 1-1 1 2 1-3 3-1 1 1 2-2 0 5 1-7 0 5 1-9 4 8 1 2 1-1 1 0 1 0 0 2 2-11 1 5 0 2 4-7 0 6 1-2 0 7 1-10 0 10 1-7 0 1 0 3 1 1 1-4 0 6 1-9 0 5 1-3 0 2 2 3 0 2 1-9 0 2 0 4 1-1 0 2 0 2 1-9 0 1 0 6 0 1 1-5 0 2 0 1 0 3 1-11 0 1 0 3 0 3 0 1 0 3 1-6 1-1 0 2 0 1 0 3 1-10 0 3 0 1 0 1 0 3 0 1 0 1 1-6 0 1 1-4 0 4 1-1 0 1 0 1 1-6 0 6 0 2 1-7 0 5 0 1 1-4 0 2 1-5 0 3 0 2 1 4 1-3 0 2 1 0 1-6 0 8 1-8 0 4 1-5 1-1 0 2 1 4 1 0 1-3 1-3 0 6 1-2 0 7 2-11 4 9 3-8 1 2 0 3 3-1 4 1 6 0 1 1 2-5 7 2 0 1 11 0 0 3 53 1-12 8-33 4-29-1-2 0-3-6-1 9-3-6-1 1 0 2-1-7-1 7-3-5-1-1 0 3-2-1-2 4-1-7-2-1-2 2-1 0-2 3-5-4-2 3-1 3-1-7 0 2-1-1-1 0 0 5-1-5-1 1 0 4-1-6 0 1 0 4 0 3 0 3-1-10 0 1 0 3 0 4-1-4-1-2 0 8-2-5 0 3-1-9 0 1 0 7-1-3 0 4 0 1-1-9 0 1 0 3 0 4 0 1-1-6 0 7-1-11 0 2 0 3 0 1 0 5-1-11 0 10-1-9 0 5-1-2 0 1 0 1-1-5 0 1 0 3 0 1 0 4-1-4 0 2 0 2-1-10 0 3 0 1 0 3 0 1 0 1-1-6 0 2 0 5-1-8 0 6 0 1 0 1 0 1-1-10 0 6 0 1 0 1 0 2-1-10 0 6-1-3 0 7-3-8 0 6-2 0 0 2-2-1-1-5-3 3-1-6-2 8-4-4-2 2-1-1-4-6-5 7-1 1-1-6-3 5-1 1-3-9 0 5-1-4-3 4 0 4-2-9-3 10-1-7-6-2-1 7-8 2-11-6-6 6-16-2-58 1-1-2-33-6-15 0-14 18 12 1 11-2 28-3 13 7 17-7 19 6 1-4 1-5 8 3 5 2 10 4 13-1 3-6 2 9 3-8 0 4 12 0 1 4 1-3 5-6 3 1 2-3 1 0 0 9 2 1 1-9 1 1 1-2 0 7 0 2 0 2 4-3 3-7 0 10 6-10 1 3 2 0 2-3 1 3 0 5 1-8 0 6 1-7 2 10 1-8 0 2 0 3 0 1 1-8 1 0 0 4 1-3 0 7 1-1 0 3 1-1 0 1 1-8 0 3 0 1 0 2 0 1 1-1 0 1 1 1 0 1 1-7 0 1 0 4 0 2 1-8 0 5 0 3 1-8 0 8 1-11 0 1 0 1 0 4 0 3 1-9 0 1 0 2 0 4 1-7 0 2 0 3 0 1 0 1 1-2 0 1 0 1 0 3 0 1 1-10 0 1 0 1 0 1 0 1 0 6 1-11 0 3 0 1 0 1 1-5 0 1 0 1 0 3 0 4 0 1 1-10 0 1 1 2 0 2 0 3 0 2 1-7 0 1 0 3 1-7 0 1 0 1 1-1 0 2 1 1 0 6 1-10 0 8 1-7 0 5 1-5 1 2 0 2 0 2 1-7 1 0 0 2 0 7 0 2 1-4 1-3 0 1 1 6 1-9 0 8 1-5 0 5 1-7 7-3 2 1 0 4 0 5 1-9 4 3 0 6 3-10 0 8 7-5 1 6 3-9 1 11 2-8 3-3 2 4 1-4 1 0 2 9 7-4 6 2 4-1 3 0 6 4 7-10 5 19-14-7-11 5-10 5-16-6-5-3-5 0-1 0-14 10-1-11-2 1-1 2-5 3-2-1-1-2-4 3-2-6 0 1 0 7 0 2-1-7-1 3 0 5-1-5-1 1-1-7 0 2 0 3-1-3 0 1-1-1 0 1 0 2-1-5 0 1 0 7-1-7 0 1-1-1 0 1 0 4 0 2-1-8 0 3 0 2 0 1-1-3 0 7-1-6 0 1 0 3-1-7 0 1 0 1 0 4-1-1 0 1-1-1 0 4-1-10 0 1 0 3 0 2 0 2-1-6 0 3 0 3-1-8 0 1 0 10-1-11 0 7 0 2 0 1-1-10 0 3 0 1 0 2 0 3-1-7 0 4-1 0 0 3 0 2-1-4 0 4-1-5 0 2-1-8 0 2-1 3-1 3 0 3-1-4 0 3 0 1-1-2-1-9 0 11-1-4-3-4 0 6 0 1-1 1-2-10 0 5 0 5-2-10-1 4 0 4-2-1-11-6-1 3-4 3 0 1-2-2-1-5-1-1-3 1-7 5-8-2-2 4-3-9-2 0-3 5-7-5 0 10-2-8-12-2-5 11-2 0-2-5-7 5-8-10-114 19 40 0 50-2 4 1 15-3 2-1 1 3 9-2 1-4 9 2 1 4 3 3 6 1 9 0 2-6 0 5 3-7 3 6 4 3 1-2 1-5 2 6 6-1 2-7 3-2 3 10 2 1 1-7 1-3 0 4 0 5 1-9 0 3 6 0 1 5 5-6 2-1 0 1 0 1 1 0 1 0 2-2 1 8 2 0 2-4 0 3 1-6 0 2 1 4 0 1 0 1 1-6 0 1 1-6 0 1 0 6 2-5 0 4 0 1 0 2 0 1 1-7 0 7 1-3 0 2 1-9 0 3 0 3 0 2 1-8 0 1 0 6 0 4 1-5 1-2 1-4 0 9 1-7 0 2 0 2 0 2 0 2 0 1 1-6 0 1 0 1 1-6 1-1 0 1 0 1 0 2 0 1 0 4 0 1 1-10 0 1 0 3 0 5 1-8 0 1 0 3 0 2 1-5 0 1 0 1 1-3 0 10 1-11 0 1 0 3 0 3 0 2 1-9 0 7 0 4 1-5 0 2 1-8 1 1 1 9 1 1 3-2 2-4 1 0 1 3 1-3 3-2 4-3 1 1 7-1 12 9 1 0 1-4 2 2 0 4 5-9 2-1 1 5 0 3 1 2 10-8 7 3 12-1 4 1 3-4 12 2 30-3-7 16-6 4-27-7-6 4-3 1-41 0-2-3-6-1-2 4-2 1-2-4-5 6-1-6-5 4-1-7-7-1-1 9-2 1-3-10-2 9 0 2-1-7-1-4 0 10 0 1-1-11-2 1-1-1-1 1 0 5-1 0-1 0 0 5-1-3-1-6 0 5-1-5 0 9-1-8 0 1 0 2 0 5-1-11 0 1 0 6 0 2-1-6-1 2 0 3 0 2-1-10 0 1 0 1 0 6-1-6 0 1 0 3 0 4 0 1-1-10 0 2 0 1 0 1 0 4-1 0 0 1-1-7 0 1 0 2 0 2 0 3-1-5 0 5-1-11 0 3 0 4 0 3-1-6 0 4 0 3-1-10 0 5 0 2 0 1 0 1-1 0-1-7 0 1-1-2 0 5-1-2 0 3 0 2-1-10 0 4 0 1-1-1 0 5-1 2-1 0-2-8-1 0 0 2 0 1-1-5 0 3-2-4 0 7-1 0 0 2-2-7 0 1-2-2 0 2-2 8-2-5 0 3-1-3-2-5-2 3-1-4-1 3 0 1 0 2-2-1-1-2-9 0-3 8-5-3-4-8-1 10-7-1-1-1-4 0-5-7-1 8-2-2-16 2-6 1-55 1-45-9 10 14 17-3 26 2 29-1 2 1 6 8 1-7 1-4 16 0 0 6 2-1 2 1 13-6 2 1 1 2 4 6 7 0 2-2 2 3 2 0 1-4 2-4 0 1 0 1 1-3 1 6 0 4 1-9 0 2 0 1 0 3 0 1 3-5 1-3 1 3 0 1 4-1 3-3 0 4 1-3 1 0 1 9 1-5 0 3 2-1 1 3 2-7 1-1 0 8 1-8 2-1 0 4 0 4 0 1 1-10 0 4 0 2 1-7 0 2 0 2 1 1 0 1 0 3 0 1 3-9 0 3 1-2 0 2 0 6 0 1 1-6 0 2 0 3 1-9 0 5 0 1 0 2 1-6 0 1 1-3 0 1 0 8 1-6 0 2 0 5 1-8 0 6 1-8 1 3 0 2 0 4 1-9 0 3 0 1 0 4 1-8 0 2 0 6 2-2 1-7 0 3 0 6 1-9 0 1 0 1 0 1 0 1 0 5 1-2 1-2 0 6 1-11 3 2 0 9 1-11 1 5 1-2 0 2 2-5 0 5 5 0 1-5 0 2 3-2 0 6 2 2 1-4 0 4 1 1 3-4 1-4 0 6 0 1 2-8 5 1 1 7 1-6 4-2 0 8 0 1 1-9 1 8 6-8 6 5 2 3 10 0 4-7 0 2 0 3 1-3 0 7 4-3 15-7 0 1 0 3 30-3 0 2-18 18-3-7-1-2-14 9-3 0-26-3-7-6-2 10-6-5-1-4-6 8-1-3 0 4-1 0-3-6-2-3-2 8-1-4 0 4-2 0-2-3-1-1-4 0-1-1-1 1-1 0-2 2-1-6 0 4 0 6-1-8-2 1-1-3 0 2 0 2 0 2-1-4 0 8-1-10-2 0 0 8-1-7-1-1-2 4 0 4-2-9 0 6 0 2 0 2-1-8-1 0 0 2 0 7-1-11-1 0-1 3 0 1-1-4 0 10-1-7-1-3 0 2 0 3 0 1-1 2 0 1-1-9 0 5 0 1 0 2 0 1-1 1-1-9 0 2 0 4 0 2 0 1-1-9 0 9 0 1-2-8 0 2 0 2 0 3-1-8 0 2 0 6-1-10 0 5 0 1 0 1 0 2-1 2-1-4 0 3-1-7 0 6-1-4 0 3 0 1-2-4 0 4 0 2-1-2-2 2-1-7 0 4-1 2-1-8 0 4 0 3-2 1-2-5 0 1 0 3-2-6 0 8-2-6 0 4-1-6-2-3-1 2-1 5 0 4-4-6-3-4-2 4 0 1-3 5-4-8-1 2-4-5-1 9-3-5-2 3-1-3-1 3 0 3-1-5-1-1-5-1 0 2-3 1-4 3-8-3-18-2-12 6-8-2-13-5-11 7-25 6 45 2 1 2 2-4 10 1 0 6 5-1 3-9 6 6 1 2 1 0 9-9 2 10 1 0 6 1 5-3 2-8 2 9 2 1 2-2 2-3 0 2 1 2 1-3 3 0 1-6 0 11 1-1 6 0 4-2 0 2 3-1 0 1 1 0 1-4 0 1 1-4 0 2 2 2 2-3 0 2 1 4 1-6 0 3 1 4 1 0 4-10 0 1 1 1 0 8 1-4 0 3 0 1 1-5 0 2 0 3 1-1 1-6 0 5 0 1 1-5 0 1 0 1 0 2 1-5 1 0 0 3 0 4 1-5 0 4 1-7 0 2 0 4 1-6 0 1 0 2 0 3 0 1 0 1 1-11 0 2 0 4 1-6 0 4 0 3 1-7 0 2 0 3 0 1 0 1 0 3 1-10 0 3 0 6 1-6 0 3 0 3 1-9 0 1 0 2 0 4 0 2 1-8 0 2 0 2 0 6 1-5 1-4 1-2 0 8 0 3 2-7 1-4 1 8 1-3 1-2 0 7 1-7 0 1 0 6 1-8 1 0 1-1 2 0 0 5 0 3 2-8 0 1 0 4 0 3 1-6 0 4 1-2 2-3 0 6 1-6 3 2 0 7 1-8 3-2 0 2 0 8 1-5 1-5 0 5 2-5 0 5 1-1 3 6 7-11 1 0 0 9 1-7 1-1 0 8 1-6 10 6 6-8 0 6 3-2 2-3 6 6 6 1 7-7 1 0 1 3 36 2 13 0 108 14-153-4-12-3-2 2-1 4-10-3-2-4 0 2-9 0-1-3 0 8-2-5-5 5-5-8-7 11-6-11-2 1-1-1-2 2-1 0-1-2 0 4-2-1-4 0-1 4-2-7-1 0-1 11-1-9-2-2-1 1-1 2 0 4-1 4-1-11-1 3-2 8-3-7-2-1 0 1 0 1 0 6-1-5 0 2-1 3-1-5-1-6 0 11-1-7 0 1-1-3 0 3 0 4-1-8 0 4 0 2 0 3-1-6-2-1 0 4 0 4-1-6 0 2-1-3 0 1 0 3-1-8 0 1 0 7-1-7 0 2 0 2 0 6-1-10 0 1 0 1 0 8-1-11 0 2 0 1 0 3-1 2-1-4 0 2-1-6 0 7 0 4-1-11 0 5 0 1 0 2 0 1 0 1-1-7 0 4 0 2 0 1 0 1-1-2-1-4 0 5-1-8 0 9-1-4-1-7 0 7 0 3-1-6 0 1 0 4 0 1-1-1-1-4 0 5-2-6 0 6-1-6 0 1-2-5 0 5 0 1-3 1-2-7 0 5-1 2-1-1-1 0-1-2-1 7-1 0-1-1 0 1-2-6 0 5-4 0-5-4-2-1 0 2-4 0-2-5-1 8-8-7-2 6 0 1-1-4-3 3-10-3-1 0-3 0-3 5-2 0-8-10-16 9-12 1-32 0 23 6 3 1 2-3 9 8 1-1 2-2 3 2 7-2 5 0 6-4 3-3 0 2 4-3 5 2 1 9 1-9 2-1 2 4 1-2 5 1 2 1 3 2 1-3 2-3 6-1 0 9 2-4 1 0 1 1 3-1 0 5 2-6 1-4 2 5 0 3 1-7 1 10 1-2 1-2 1 4 1-6 3-1 0 4 1-8 0 1 1 0 0 2 0 8 2-6 2 1 0 1 0 2 0 2 2-1 0 1 2-1 1-3 1-4 0 4 0 1 0 3 1-4 0 4 1-8 0 4 0 2 0 2 1-3 0 2 1-5 0 5 1 1 1-5 1-4 0 1 0 7 1-10 0 2 0 2 0 2 1-1 0 2 0 4 1-11 0 4 0 4 1-7 0 1 0 2 0 4 1-7 0 8 1-9 0 6 1-4 0 5 1-6 0 1 0 3 1-5 0 2 0 2 0 2 1-4 0 5 0 1 0 3 2-9 0 1 2-2 1 3 0 5 1-7 0 1 0 1 1-3 0 1 0 3 3-5 0 3 0 7 3-2 2-3 3-5 1 2 1 5 1-5 0 9 1-1 4-10 4 5 1-5 0 2 0 3 0 6 2-7 11-4 1 7 1 3 2-9 0 2 7 7 8-10 0 8 3-5 1 2 7 2 2 3 1 1 2-8 9-2 1 7 3-6 13 4 11-6 121 0-2 15-24 5-46-8-53 4-28-3-19 9-1-2-1-4-15 1-1 5-4-3-2-6 0 6-3-5 0 5-4-1-5-5 0 4-3-5-4 2 0 1-2 5 0 3-1-11 0 2-2 3-2 6-2-10 0 3 0 1-1 2 0 2-2 2-1-4-1-5 0 4-1 2-1-5-2-3-7 2 0 2-3-3 0 3 0 4-1-7-2 4 0 1-1-3-1 8-1-10-1-1 0 2 0 1 0 5-1-6-1-1 0 1 0 1 0 2 0 5-1-8 0 4 0 2 0 2-1-8 0 7-1-8 0 2 0 2 0 2-1-4 0 4 0 3 0 1-1-10 0 5-1-1 0 1-1 2-1-8 0 4 0 1 0 3-1-8 0 2 0 7 0 1-2-9 0 4 0 2-1-7 0 10-1-7 0 4 0 1-1 0-1-3 0 2 0 2-1-8 0 8-1-2-2-4 0 1 0 2 0 5-1-4-3 4-1-11 0 8-1-1-3 1-2 1-1-9-2 5-1 6-7-11 0 9-1-4-1 5-1 0-1-1-1-9 0 4-1-2-4 1 0 1-2 6-3-4-1 1-5 0-2 4-6-4 0 3-2-8-11 2-15 5-27-4-5 5-22 11 17-6 15-3 0 9 28-2 5-2 2 1 6 4 3-1 2-7 1 7 1-4 0 4 1 0 2-2 5-2 9 3 1-8 0 7 1-7 1 8 4-6 2 0 4 6 1-7 1 6 0 1 1-7 0 3 2 0 2 5 1-6 1 0 0 1 1 0 1 0 0 4 1-5 1-2 1 1 0 3 0 6 1-11 0 6 0 3 0 1 2-4 0 1 0 2 1-2 0 1 1-5 0 6 0 2 1-11 0 2 0 1 1-2 0 6 0 3 0 1 1-11 0 1 0 6 0 2 1-9 0 3 0 1 0 1 0 2 1-3 0 5 1-8 0 4 0 1 0 2 0 2 1-5 0 4 1-9 0 4 0 5 1-7 0 1 1-3 0 2 0 4 1-6 0 4 0 7 1-11 0 1 0 1 0 2 1-4 0 2 0 1 0 2 0 3 0 3 1-5 0 3 1-3 0 2 0 2 1-10 1 4 0 4 1-6 0 1 1 2 0 1 1 0 0 1 1-5 0 6 1-7 0 4 0 1 2-3 0 5 1-7 1 8 1-6 0 2 0 2 1 0 1-4 0 2 0 6 2-11 0 7 2 1 1 1 2-5 4 5 4-1 7-7 2 0 0 2 1 1 1 1 1 5 2-9 5 2 1 6 7-4 4-1 8-2 3 0 0 5 5-4 21 1 21 5-33 5-4 2-7 7-10-6-3-4-2 7-2-3-2-4-9 7-3-8-2 10-1-7-2-3-4 5-2-1-3-1 0 6 0 2-5-11-3 5-1 2-5-4-1-2-1 0 0 7-1-8-1 5-1 0-2-2 0 3-1-4 0 1 0 7-5-1-3-2-2 2-1-7-1 6-1-8-1 2-1-1 0 2 0 4-1-7 0 6 0 1-1 3-1-4 0 3-1-7 0 2 0 2-1-3-1-1 0 2-1-1-1-3 0 3 0 4 0 2 0 2-1-11 0 3 0 4-1-1 0 2 0 3-1-10 0 6-1-7 0 1 0 3 0 1-1-4 0 3 0 4-1-8 0 9 0 1-1-5 0 1 0 3-1-9 0 5 0 1 0 1 0 1-1-6 0 1 0 3 0 3-1-8 0 6 0 2 0 1 0 1-1-10 0 4-1 5-1-8 0 5-1 4-1-4-1-5 0 2 0 3 0 3-1 0-2-5-1 2-2 4-1-1-1-1-1-1-1-2-1-2 0 6-3-9-1 2 0 7-4-9 0 1-1 2-4 1-1 4-1-4 0 5-1-9 0 4-5-4-2 9-2-2 0 1-12 1-6-1-1 1-9-9-8 4 0 2-30-6-5 20 3-6 8 8 9-8 3 2 4 2 1-1 5 1 2 3 7-4 0 4 2 1 4-6 3 3 7-2 3-4 3-2 3 6 1-2 1-2 1 5 1-5 2 3 1-4 1-1 0 1 0 2 0 2 2 0 7 1 0 3 1-3 1-2 1 0 1 7 1-1 1-4 0 1 1 3 0 1 1 0 1-2 0 1 1-8 0 7 1 2 1-3 1-6 0 1 0 1 0 1 0 6 1-5 0 2 1-7 0 8 0 1 1-6 1-3 0 5 0 4 1-9 0 4 0 2 0 4 1-9 0 3 0 2 1-5 0 7 1-8 0 1 0 2 0 3 0 1 0 2 0 1 1-10 0 9 1-8 0 4 0 4 0 1 1-7 0 1 0 1 1 5 1-5 0 1 0 1 1-6 0 9 1-11 0 1 0 5 0 1 0 4 1-9 0 1 0 2 1 1 1-6 1 1 0 1 1 1 1 0 1-3 0 1 0 10 2-11 0 7 2-4 0 5 2-5 1 4 2-4 1 0 1 1 1 3 1-2 0 1 4 0 3 3 2-7 0 5 5-2 3 6 2-7 0 6 2-5 2-5 1 3 0 5 5-1 5-3 28-2 3 4 1-4 12 5 28-6 23 11-54 7-15-6-16 2-4-1-13 8-1-5-11 4-3-3-11-4 0 8-2 1-1-1-1-4-7 2-1 0-1 2-2-8-2-2-1 0 0 4-2 3-2 1-1-8 0 2 0 5-1-7 0 3 0 1 0 6-1-7-1 4 0 1-2-6 0 3-1-5 0 1 0 7-1-8 0 2 0 8-1-2-1-7 0 1 0 3-1-1 0 1-1-3 0 1 0 3 0 1 0 3-1-9 0 4-1 4-1-7 0 1 0 2 0 2 0 1-1-6 0 1 0 2 0 1 0 2-1-2 0 1 0 2-1-8 0 6 0 2 0 1-1-4 0 1 0 2 0 2-1-9 0 4 0 1 0 2 0 1 0 1-1-8 0 2 0 1 0 1 0 2-1-4 0 4 0 1-1 0 0 1-1-10-1 3 0 7-1-10 0 3 0 4 0 3-2-11 0 2-3 2-1-3 0 3-1 2-1-3-2 5 0 1-2-8 0 4 0 5-2-6 0 6-2-1-1 1-1 0-1-10 0 6 0 5-1-1-4-3-2-6 0 8-2-1 0 3-1-2-2 0-2 0-1-4 0 3-3 0-2 1-3-2-6-7-3 1-5 7-13 1-9-4-2 9 10 0 2 8 3-10 2 9 4-6 0 5 1 3 2-1 2-4 2-4 1 0 1 0 0 7 2-3 1 0 3-4 0 1 0 1 1 1 1 6 2-6 0 6 1-8 7 8 1-6 1 1 0 1 2-2 4-3 1-2 1 9 0 2 4-9 2 6 1 0 2 1 1-1 0 3 1-5 0 4 1-3 0 3 1 0 1-3 0 3 1-9 0 3 0 1 1-5 1 2 0 1 0 1 0 3 1 0 0 1 0 1 0 2 1-11 0 9 1-9 0 1 0 3 0 4 0 1 0 1 0 1 1-10 0 6 0 1 1-7 0 3 0 1 0 2 1 3 1-9 0 5 1-6 0 1 0 3 0 3 0 3 1-10 0 6 0 5 1-7 0 1 1-5 0 3 0 8 1-11 0 1 0 3 1-4 0 4 1-3 0 4 1 2 0 1 0 2 2-9 1 5 0 5 1-6 0 1 1-6 1 11 2-4 1-3 0 3 2-7 1 2 4 7 0 1 1-8 3 3 0 3 1-2 2 3 3-3 2 1 1 1 4 1 1-9 0 3 1 8 5-7 0 1 3-4 0 4 2 0 1-2 12-2 19 6 4-5 8 3 2 1 8-6 2 3 40-1 77 9-66 2-52 7-30-7-6 8-7-8-4 10-1-10-5 9-2-5-4 1-8-4-2 3-4-4 0 6-2-4-3 6-4 1-2-4-2 3-1-5-8 0-1-2 0 2-3 1-3 4-1-3 0 2-2 1-1-8 0 4-2-4-3 9-1-7 0 4-1-7 0 1 0 7-1-5 0 5-1-8 0 1 0 3 0 1 0 5-1-6-1-4 0 2 0 1 0 1 0 2-1-3 0 2 0 6-1-9 0 2-1-2 0 6 0 2-1-8 0 2 0 5-1-9 0 3 0 5 0 2-1-8 0 2 0 1 0 5-1-6 0 3-1-6 0 1 0 3 0 3 0 1-1 0-1-7 0 6 0 2-1-9 0 4 0 1 0 5-1-8 0 3 0 5-2-2-1 1-2-1-1-2-2 4-1-5-2 0-2-6-1 9-1-6-2-2-4 2-3 8-7-11 0 9-4-4-3 2-1-3-2 5-1-5-7 3-2-7-1 9-1-9-3 10-1-9-3 1-3 6-8 13 8 0 0 2 3-11 5 11 3 0 1-7 1-2 4 3 1 2 2-3 3 5 2-9 5 7 2-7 1 6 1 1 1 3 1-10 0 2 0 4 0 1 3 3 1-5 0 5 2-7 1 2 1 6 1-3 0 3 1-5 0 5 1-9 0 4 1 0 0 2 1-7 0 7 1-4 0 1 0 5 0 1 1-10 0 3 0 5 1-8 0 4 0 3 0 1 0 2 1-2 0 1 0 1 1-11 0 6 0 2 0 1 1-5 0 2 0 2 0 1 0 2 1-6 0 1 0 5 1-9 0 6 0 1 0 2 2-10 0 2 0 1 0 3 0 1 1-7 0 1 0 1 0 4 1-7 0 8 2-6 0 1 0 2 1-2 0 2 0 1 0 2 0 2 1-7 0 7 1-10 0 1 0 5 0 1 2-5 0 9 1-10 0 1 2-2 2 4 0 2 0 3 1-8 0 3 0 4 0 1 2-4 1 6 2-3 1-8 0 2 0 1 6-2 0 2 2 2 1-5 1 1 1 1 0 1 2 5 2-3 4-1 4-3 0 6 4-3 16 3 1-7 1 0 13 7 12 0 6 1 8-4 56 7-56 3-13 7-12-6-5 6-13-9-6 9-8-6-1-2-1 9-3-2-4 0-6 1-4 2-5-6-4-5 0 11-4-11-1 0-1 6-1 0-1-4-1 7-5-6 0 7-1-9 0 5-3 0-1-4-2 8 0 1-1-8 0 3 0 1-1-6 0 7-1-7 0 1 0 8-1-4 0 3-1-1-1-8 0 1 0 3 0 5-1-4 0 1-1-6 0 1 0 6 0 4-1-11 0 1 0 3 0 1-1-4 0 1 0 1 0 1-1-3 0 6 0 1 0 1-1-3 0 1-1 2-1-9 0 3 0 6-1-8 0 4 0 3 0 1 0 1-1-5 0 3-1-5 0 7 0 1-1-11 0 4 0 2 0 5-1-8 0 4-1 2-1-6-1 5 0 1 0 2-1-5 0 3-1-6 0 7-1-10 0 2 0 3 0 6-3-9-2 0 0 5 0 4-5-10 0 4-2-4 0 8-8 0-7-8-2 6-5 1-2-7-3 7-1 12 2-4 2 4 2-3 3-5 2 8 1-6 1 9 1-4 1-7 1 4 1 4 5-4 0 3 0 2 0 2 2-6 1 5 1-3 2 4 2-10 0 8 1-7 1 7 3-6 0 3 0 4 0 1 1-5 0 1 0 3 1-2 0 1 0 1 1-8 0 3 0 1 0 1 0 1 0 3 1-6 0 3 0 1 0 1 0 1 1-9 0 2 0 1 1-4 0 4 0 1 0 1 1-3 0 3 0 4 1-11 0 2 1 0 0 3 0 1 0 2 1-4 0 1 1-5 0 2 0 2 0 5 1-8 0 2 0 8 1-9 0 7 1-6 1-2 0 1 0 3 2 0 0 1 0 2 1-5 0 3 0 2 1-8 1 5 1-4 0 3 5 0 0 3 1-4 5 3 0 3 1-3 1-1 0 2 0 3 2-7 1 8 1-10 0 5 0 5 4-7 2 2 1-3 1-1 4 4 1 4 1-5 2 1 7-5 0 3 6 0 4 2 6 3 16-8 12-1 1 10-28 2-10 1-2 4-9 4-12-6-10-1-1-1-4 5-1-1-2 1-4-3 0 1-1 0-1-2 0 4-1-2 0 3-1-2-1 0-1 4-3-7-1-1 0 6-2-1-1-5-1 9-3-9 0 1-1 2 0 5 0 2-1-6-2 0 0 2-1-7-1 0 0 2 0 1 0 1 0 3-1-7 0 2 0 1 0 2 0 4-1-9 0 2-1 0 0 2-1-3 0 1 0 1 0 1 0 1 0 1 0 5-1-8 0 5 0 1 0 2-1-10 0 6 0 2-1-3 0 2 0 2-1-10 0 2 0 6 0 2-1-3 0 1-1-5 0 1 0 2-1 5-1-8 0 1 0 2 0 4-1-6-1 2-1 2-1 3-1-6 0 2 0 3-1-8 0 1 0 5-1-4-1-1 0 8-1-11-2 11-1-8-2 8-2-5-4-3-2 13 2 5 0 1 4-3 0 1 4 1 1-7 0 4 0 1 0 4 1-4 0 2 0 2 1-9 0 8 0 1 1-9 0 2 0 4 0 1 0 1 1-8 0 1 0 3 0 1 0 2 0 1 1-6 0 3 0 1 0 1 0 2 1-5 0 1 0 1 0 3 1-5 0 2 1-6 0 1 0 1 0 1 0 1 1-6 0 2 0 1 0 1 1-2 0 2 0 3 1-7 0 1 0 3 1-4 0 1 0 1 1 6 1-8 0 8 1-8 0 2 0 7 1-4 1 4 1-9 0 10 1-5 1-5 0 4 1-1 1-2 2 0 1 1 0 1 7-2 2 6 0 3 4-6 8-2 4 3 3-1 14-2-43 12-7 1-9-1-2 1-1 2-4-5 0 1 0 1 0 1-1-3 0 1 0 1-1-2 0 3-1-3 0 2-1 1 0 1-1 0-1 1-1 2-1 0-3-6"/><path transform="scale(.5)" fill="none" stroke="none" marker-start="url(#mb)" marker-mid="url(#mb)" marker-end="url(#mb)" d="M2135 251l1-1 1 1 1 7-1-4-1 3-3-4 0 1 0 1 0 2 0 6-1-6-1 1 0 1-2-4 0 4 0 3 0 1-1-6 0 3-1 3-1-4-1 1-1-1 0 1 0 2-2-3 0 4-1-8 0 7-3-2 0 2-58 12 8-8 12 7 6-4 15 5 1-1 2-3 1 0 1 5 1-6 0 1 0 2 1 3 4-6 0 5 1-3 1 0 0 4 1-11 0 4 0 1 1 5 1-5 1-3 0 6 1-3 0 4 1-8 0 3 0 5 1-5 0 2 1 0 1-5 0 7 1-4 1 1 1-5 0 1 0 2 2-3 1 9 2-8 1-1 1 1 7 8-16 4-1 6-2 4-1-1-1-2 0 3-1-1-1-9 0 2-1-3 0 1 0 3 0 3 0 1-1-7 0 1 0 2 0 1 0 3 0 2-1-10 0 2 0 1 0 7-1-5 0 2 0 1-1-2-1-5 0 3 0 5 0 1-1-10 0 1 0 5-1-6 0 4-1 3-1-3-1-4 0 1 0 1 0 3 0 4-1-6 0 5 0 3-1-10 0 2 0 1 0 1 0 6-1-2-1-4 0 4 0 1 0 1-1-1-1-7 0 6-2-7 0 7 0 1-2-4-1 2-1-1 0 1 0 3-1-3 0 1 0 2-3-9-1 2-2-4 0 10-2 1-3-4 0 2-2-2-1 1-2 0 0 1-1 1-2-9-2 4-2-1 0 3-1-3-5 6-9 1-31 8 15 3 9-7 1 7 9-3 6-2 1-2 0 3 4-1 0 1 0 1 1 0 0 2 1-6 1 5 0 1 1-3 0 1 1-3 2 3 0 2 1-3 0 5 2-10 0 5 0 4 0 1 1-11 0 8 1-1 0 1 1-7 1 0 0 8 0 1 1-8 0 8 1-4 1-6 0 2 0 5 1-4 0 3 0 2 1-4 0 2 0 3 1-3 1-1 0 4 1-8 0 5 0 1 1-1 1-6 0 2 0 6 0 1 0 1 1-5 1 5 1-9 0 2 0 3 0 3 1-4 0 1 0 4 1-9 0 1 0 1 1 5 0 3 1-4 0 1 0 3 1-8 0 6 0 1 1-10 1 0 0 6 0 5 1-10 0 3 1-4 0 5 0 3 1-4 2 1 1-5 0 1 1 9 0 1 1-7 0 2 2-2 0 2 1-6 2 5 2 6 4-5 1 1 1-6 1 8 2-2 3-6 2 0 2 8-7 11-5-3-7-2-1 0 0 5-2-7-2 1 0 2-1 3-2-7-2 7-1-5-1 6-1-1-1 2-1-7 0 1 0 1 0 5-2-8-1 3 0 5-2-3-1-6 0 2 0 7-1-9 0 2 0 1 0 4 0 1 0 2-1-10 0 1 0 7-1-2-1-5 0 4 0 1 0 5-1-10 0 1 0 7 0 2-1-7-1 5 0 2-1-11 0 4 0 2-1-3 0 4-1 2-1-8 0 2 0 1 0 2-1-4 0 3 0 4 0 1 0 1-1-5 0 1-1 0 0 2 0 1-1-4 0 1 0 1 0 2-1-10 0 5 0 3 0 2-1-1-1-9-1 2 0 3 0 4 0 1 0 1-1-5 0 4-1-9 0 10-1-8 0 2 0 1-1-5 0 6-1-4 0 1-1-1-1 2 0 4-1-5 0 1-1-1 0 1 0 1-3-5 0 6 0 4-1-2-1-8-1 2 0 6-7-3-4 4-4-10 0 7-23 4-7 10 12-9 7 11 2-11 1 7 2-7 1 5 0 1 1 1 1-6 0 3 1-2 1 5 0 1 2 3 1-1 3-3 2 4 1-6 1 4 1-6 0 7 1-4 1-3 0 6 2-9 1 1 0 7 1-6 0 5 0 2 1-7 0 2 0 7 1-3 1-4 1-3 0 7 0 2 1-9 0 1 0 1 0 7 0 1 1-11 0 2 0 3 0 6 1 0 1-10 0 2 0 5 1-5 0 1 0 3 0 2 0 1 0 1 1-9 0 1 0 3 0 2 1 3 1-10 0 1 0 7 1-8 0 4 0 2 0 3 1-7 0 1 0 1 0 1 0 5 1-8 1 0 0 4 0 1 0 1 0 1 0 1 2-7 1 3 1-6 0 10 1-5 0 2 0 3 1-11 0 1 0 7 0 2 2-3 1-7 0 6 0 2 0 2 1-5 0 2 1-3 1-1 0 3 0 3 1-5 1 3 1-2 0 2 1-5 1 1 0 5 3-4 1-4 0 7 1-1 1 1 1 0 1 1 2-2 1-2 1-3 2 2 6 3 12 4-16 3-1 10-11-4 0 2-1-1-3-6-1 9-4-11-1 11-2-11 0 8-2-8 0 5-1-2 0 1-2-2 0 6 0 3-1-10 0 2 0 1 0 3-1-7-1 3 0 2 0 6-1-11-1 1 0 5 0 2-1-8-1 4 0 1 0 2 0 3-1-6-1-3 0 2 0 3 0 1-1-7 0 3-1-2 0 3 0 4-1-4-1-1 0 2-1 3-2-7 0 2 0 1 0 1 0 1-1-4 0 8-1-1 0 2-1-5 0 4 0 1-1-10-1 2 0 1 0 1 0 2 0 1-1-7 0 2 0 4-1-7 0 2-1-2 0 3 0 4 0 3-1-9 0 7 0 1 0 1-1-6 0 4 0 3-1-4 0 2-1-6 0 3 0 4 0 1-1-10 0 4 0 1-1-1-1-4 0 6 0 2 0 2-3-4 0 3-1-6 0 4 0 1 0 1 0 1-3-7 0 3-1-3 0 2-1-1 0 1-1-5 0 5 0 2 0 1 0 2-2-3-1-6-1 2 0 5 0 1-3-4-2-1-6 3-1-2-3 2-4-1-1 1-3-5-7-2-10 10-9-4 18 16 1-9 0 8 3 1 1-1 5-5 1 2 3-5 0 1 0 3 0 1 1 3 1 1 1-8 1 5 1-4 2 4 1-3 2-5 0 5 0 1 0 5 1-8 0 2 1-2 0 2 2 2 1-5 0 4 0 3 1-2 0 2 1-5 2-3 0 5 0 4 0 1 1-8 0 1 1 1 0 2 0 2 1 0 0 2 1-11 0 2 1-2 0 3 0 1 0 3 0 1 0 1 1-4 0 2 0 3 2-10 0 5 0 1 0 4 0 1 1-6 1-4 0 6 0 4 1-10 0 1 0 6 1 3 1-4 1-3 0 1 1 2 0 1 0 2 1-7 0 6 0 1 0 1 1-10 0 6 1-5 0 5 0 2 1-7 1 0 0 1 0 2 0 1 0 5 1-11 2 1 0 4 0 4 0 1 1-8 0 3 0 2 2-6 0 1 1 2 1-4 0 1 0 4 0 2 1-2 0 2 1-7 0 4 0 3 1-4 0 1 0 2 1-4 0 4 1-1 1-5 2 2 0 3 1 3 0 2 3-9 0 5 3-4 1 0 1 6 1-6 3 6 3-3 0 1 16-2 13-1-3 16-3 4-22-11-2 2-11-2-1 1-1 6-4-1 0 3-2-8-1 7-2-5-1-3 0 1-1-1 0 3-1 8-1 0-1-4-1-1-1-6 0 11-1-7 0 2-1-4 0 5-1-6-1 4 0 4 0 2-1-10 0 8-1-5 0 4-1-6 0 1 0 1 0 2-1 2-1-3 0 1-1-6 0 10 0 1-1-10 0 3 0 1 0 2-2 0 0 1-1-5 0 2 0 3-1-5 0 1 0 7-1-9 0 5 0 3-1-5 0 5-1-10-1 6 0 2-1-6 0 1 0 3 0 5-1-3-1-7 0 3 0 1-1 0 0 6-1-10 0 1-1 6-1-8 0 5 0 4 0 1 0 1-1-8 0 7-1-10 0 5-1-2 0 1 0 4 0 1 0 1-1-10 0 2 0 2 0 3-1-5 0 2 0 3 0 2-1 2-2-2 0 2-1-10 0 6-1-2 0 1-1-5 0 9-1-5 0 1-1 1-1-2-1-4 0 3 0 2 0 3 0 1-2 0-2-5-1-3-3 5-3 4-2-1-7-5 0 2 0 3-1 1-1-9-1 4-14-2-2 4-8 4 13 0 1 0 6 1 1 10 5-10 2 4 1-5 0 6 1 1 1-3 0 7 1-10 0 1 0 9 2-8 0 1 1 2 2 3 0 1 1-9 1 2 0 1 0 4 0 1 0 2 1-4 1-4 0 2 0 1 0 4 1-1 2-2 0 1 0 3 1-10 0 3 0 2 0 1 1-6 1 1 0 2 0 2 0 3 0 1 1-10 0 2 0 5 0 1 0 1 1-7 0 8 0 1 1-7 0 3 0 1 0 1 1-6 0 4 0 1 0 2 1-5 0 4 0 1 1-9 0 4 0 1 0 5 1-7 0 1 1 4 1-6 0 2 1-4 0 2 0 1 0 3 0 1 1-1 1-2 0 1 0 2 1-8 0 2 0 2 0 3 0 2 0 1 1-6 0 2 1-6 0 3 0 3 0 3 1-3 0 5 1-7 1-4 1 6 0 2 1-7 0 1 0 7 0 1 1-5 1 5 1-10 0 4 0 2 1-4 0 5 0 2 1-8 1-1 1 2 0 4 1 1 1-6 0 1 0 4 0 1 2-3 0 4 3-8 4 6 1 0 1 1 3-7 0 6 1-1 0 4 3-4 7-4 0 9 3-8 1 20-4-4-4-5-2 0-1 6-7-5-1 0-3 6-1 0-1-4-1-4-2 3-2 5-4-1 0 4-1-8 0 4-1-2-2 1-1-3 0 5 0 1-1-6-1-2-1 4-1-1-2-2-1-2-1 1 0 10-1-9 0 8-1-2-1-6 0 1-1-2 0 1-1 1 0 1-1-3 0 2 0 2 0 1 0 2 0 2-1-2-1-4 0 3 0 1-1-2-1-3 0 1 0 2 0 1-1-6 0 4-1-4 0 8-1-6-1 5-1-7 0 5-1-5 0 9-1-7 0 1 0 7-1-3 0 2-1-8 0 2 0 4 0 3-1-11 0 3 0 3 0 2-1-4-1-4 0 4 0 6-1-10 0 3 0 1 0 5 0 2-1-6 0 3-1-4 0 1 0 3 0 1 0 1-1-3 0 3-1-1-1 0-1-9 0 2 0 5-1-3 0 3-1 2-2-1-1-6 0 1 0 2 0 2 0 1 0 3-1-11 0 1-1-1 0 5-1 1-1-4 0 6-1-4 0 2 0 5-1 0-1-3-2-2-1 0-1 2-1-6-1 7-5-7 0 6-2-6-2-1-1 1-1 6 0 2-1 1-1-3-6-2-6-1-2 6-1-2-5-3-3 2-35 15 29-2 3-4 2-1 8-4 10 1 5 9 3-10 0 6 1 1 0 4 2-7 1 6 2-3 1 4 1-2 2-2 0 2 1-1 1-8 0 4 0 5 3 0 1-4 0 1 0 1 0 2 1-4 1-4 0 6 1-4 0 4 1-6 0 2 0 3 0 2 0 2 1-4 0 1 1-6 0 4 0 6 1-8 0 4 0 4 1-7 1-4 0 5 0 2 0 1 0 3 1-10 0 3 0 6 0 1 1-9 0 5 0 1 0 2 0 1 1-8 0 1 1 0 1 2 0 2 0 3 1-11 1 2 0 2 0 1 0 4 0 1 1-7 0 1 0 7 1-11 0 2 0 8 1-9 1 2 0 1 0 2 0 2 0 1 1-5 0 1 0 1 1-4 0 8 1-10 0 1 0 1 0 5 1-6 0 1 0 5 1-7 0 2 0 2 0 2 1-6 1 4 0 3 2-7 0 2 1 1 0 2 0 2 0 3 1-9 0 2 1-3 0 1 1 5 1 4 2-8 0 1 1 2 0 1 8-3 3 0 0 3 1 2 4-8 2 4 0 7 3-8 1 0 1 2 2-5 0 3 3 4 6-2 31 11-37 7-2-8-4-2-3-1-1 10-3 1-3-11 0 2-1 8-1-7 0 1-3 7-1-10-6 0-1 2 0 6-1-9 0 1-1 0-1 4 0 2-1-6 0 1-1-2-1 0 0 4-2-4 0 1 0 2-1 6-1-2 0 3-1-5-1-1 0 2-1-6 0 4-1 0 0 4-1 3-1-10-1 6-1 3 0 1-1-10 0 4 0 1 0 2 0 1-1-9 0 8-1-2 0 3 0 1 0 1-1-7 0 4 0 1-1-5 0 1 0 1-1-6 0 1 0 7 0 1-1-2 0 3-1-8 0 1-1 4-1-2 0 3 0 1-1-6 0 5-1-7 0 1-1-1 0 4 0 2-1-4 0 3 0 3-1-9 0 1 0 8 0 1 0 1-1-10 0 1 0 3 0 3-1-4 0 3 0 3-1-7 0 7 0 1-1-2 0 1-1-8 0 5-1-2 0 4-1-1-1-6 0 2 0 3 0 2-1 1-1-7 0 2 0 4 0 2-1-9 0 8-1-8 0 5-1-3 0 1 0 2 0 3-1-6-1-3 0 8-1-1-1-4 0 4 0 3-1-2-1-8-1 3 0 2-1 4-1-10 0 11-2-7-1-3-3 4-1 4-2-1-1 1 0 1-2 1-2-10-1 6-2 3-8-1-3 2-2-3-8-4-1 5-4-3-6 3-18 3 9 10 3-5 4-1 8-3 10 6 4 1 0 2 1-4 0 2 2-1 1-6 0 4 1 1 2-1 0 3 1-3 2 5 1-2 1-7 0 2 0 5 0 2 2 0 1 0 1-8 1 5 0 3 1-6 0 3 0 3 1-6 3-2 0 2 0 5 2-9 0 2 0 7 0 2 1-2 1-8 0 7 1 1 0 1 1-3 0 1 0 1 0 1 0 1 1-8 0 1 0 3 1-5 0 4 0 3 2-4 0 1 0 5 1-8 0 4 0 4 1-10 0 3 0 6 1-10 0 4 0 3 1-7 0 4 0 4 1-3 0 6 1-9 0 4 0 1 0 3 0 1 1-10 0 6 0 1 1-7 0 1 0 3 1-2 0 4 0 1 1-8 0 3 0 6 1-3 1 0 1-4 0 9 1-8 0 2 0 3 0 1 0 1 1-7 1 0 1-2 0 1 0 2 0 2 1-4 0 2 0 4 0 3 1-8 1-3 0 10 1-6 0 1 0 1 0 1 1-7 0 5 0 3 0 1 1-3 0 3 1-8 0 8 1-6 1-3 0 3 0 7 1-8 1 1 1 4 2-6 3 3 1 3 1 4 3-1 4-8 0 4 1 0 1 1 0 2 1-3 0 3 1 0 1-6 0 2 0 1 2-4 4-2 5 8 1-5 19 5 1 0-23 9-2-1-6-2-3 2-1-4-9 3-3-2-1 0 0 3-1 5 0 1-1-7-1 1-1 1-2 6-1-11 0 2-4-1-1 3-1 0 0 3-1 1-1-6 0 8-1-8 0 2-1-4 0 4-2-2 0 9-1-9-1-1-1 2-1-2 0 7 0 3-1-7 0 4-1-3 0 1 0 2-1-1-1-6 0 1 0 2 0 6-1-6-1-2 0 2 0 7-1-1-1-9 0 2 0 1 0 1 0 4-1-9 0 3 0 3 0 2 0 1-1-8 0 4 0 1 0 1 0 1 0 2-1-5 0 1 0 3 0 2-1-2-1-9-1 1 0 3 0 1 0 1-1-3 0 1 0 7-1-11 0 5 0 6-1-7 0 4-1-7 0 8 0 1-1-9 0 6-1-6 0 2-1 2 0 5-1-6-1-3 0 1 0 4 0 1-1-3 0 1 0 4-1-7 0 9-2-11 0 4 0 3-1 3-1-4 0 4-1-4-1-5 0 3 0 6-1-4 0 5-1-5-1 1 0 4-1-8-2 0 0 5 0 2-2-9-1-1 0 6-7-6 0 9-1 2-1-3-1-3-1 1-4-1-1 2 0 1-2-5-3 8-1-7-1 5-1-8-8 3-3 0-1-1-10-2-22 16 15-1 6 7 6-3 1 3 4-10 2-1 2 2 2 2 3 6 1-3 0 4 2-1 3-7 0 8 1 0 2-7 2 0 0 6 0 1 2-3 1 0 3-4 1 2 1-2 1 2 2-3 0 1 0 5 2 1 1-10 0 9 1-7 0 5 2-3 0 3 0 1 1-3 1 0 0 4 1-8 0 2 0 1 0 2 0 4 1-8 0 3 0 2 0 1 0 2 1-6 0 5 1-7 0 8 1-9 0 7 0 1 1-9 0 7 1-4 0 3 1-4 0 1 0 5 0 1 1-6 0 3 0 1 0 1 0 2 1-2 0 1 1-7 0 1 0 5 1-8 0 2 0 4 0 1 1 4 1-10 0 2 0 3 1-3 0 6 1-6 0 1 0 3 1-7 0 6 1-5 0 2 0 4 0 3 0 1 1-10 0 7 0 1 1-8 0 6 0 1 0 2 1-10 0 4 0 3 0 2 1-1 1-8 0 2 0 5 0 3 1-9 0 2 0 1 1-4 0 3 0 4 1-4 1-2 0 1 0 2 0 4 1-3 1-5 0 4 1-4 0 2 0 2 0 4 0 2 1-7 0 2 0 2 1-2 1-5 0 6 1-4 2-1 0 1 0 5 1-7 2 4 0 3 4-3 2-3 3-1 0 2 0 8 1 0 3-5 0 1 0 4 3-7 0 8 6-4 7 1 2-1 9-3 9 2-1 7-29 0-1 7-5-8 0 5 0 5-1-5-2 2-4-1 0 1-1 3-3-8 0 1-1-3 0 11-1 0-3-2-2-1-1-8-1 4 0 6-3-5-1-5 0 4 0 3-1-6-1-1-2 9-1-6-2 5-1-8 0 7 0 3-1-9 0 4-1-5-1 5 0 2 0 1 0 1-1-9 0 2 0 4 0 4 0 1-2-10 0 2 0 5-1-6 0 9-1-11 0 1 0 5-1-2 0 2-1-2 0 4-1-4 0 1 0 2-2-7 0 1 0 5 0 1 0 4-1-11 0 5 0 2 0 1 0 2-1-9 0 7 0 2 0 1-1-8 0 2 0 2 0 3-1-9-1 6 0 3-1-7 0 3 0 3 0 1-1-10 0 1 0 3 0 1 0 1 0 2 0 1-1-9 0 2 0 3 0 1 0 1 0 1 0 1 0 1-1-8-1 0 0 6 0 3-1-5 0 3 0 2-1-7 0 7-1-8-1 4-1-6 0 9-1-8 0 1 0 1 0 1 0 1 0 3-1-3 0 2-1-8 0 1 0 8-1-9 0 3 0 2-1-5 0 6 0 5-2-5 0 3 0 1 0 1-1-1-2-2-1-6-1 5 0 1-1 3-1-8 0 2-1 5-2 0 0 1-2-6-3-4 0 6-1-7 0 8-2-4-2 4-4-2-1-1-1 5-3-10 0 11-5-1-1 0-1-1-2-1-12 1-20 6 2 6 11-1 6 3 2-7 3 0 4-2 0 8 3-1 2-5 1 2 0 1 2 2 2 0 2-3 1 3 1 1 1 0 2-2 2-5 0 2 1 3 0 1 1-7 0 5 1 1 0 2 1-5 0 5 1-9 0 6 0 2 1-5 0 6 1-6 0 3 0 3 1-3 0 2 1-8 0 4 1-2 0 7 1-3 1-5 0 3 0 4 1-8 0 3 1 4 1-6 0 7 0 2 2-10 0 9 2-5 0 5 1-10 0 3 0 3 0 4 0 1 1-9 0 7 0 2 1-10 0 8 1-6 1-3 0 3 0 4 0 2 1-8 0 4 0 1 0 2 1-7 0 1 0 4 1-4 0 9 1-10 0 2 0 5 0 1 1-4 0 1 0 5 1-8 0 1 0 1 0 6 1-8 0 4 2-4 0 3 0 3 1-9 0 4 0 1 1 2 1 1 0 1 1-7 0 3 0 4 1-7 0 7 1-7 0 5 1-4 0 2 0 6 1-8 0 5 1-8 0 5 1-4 0 9 0 1 1-11 0 1 0 1 0 2 0 4 2-6 1 4 1-4 0 3 0 4 1-8 0 1 0 9 1-4 1-6 1-1 0 3 0 6 1-7 0 3 1 1 2 3 1-8 2 4 1 1 2-2 5-4 3 9 3-5 3-4 0 5 7 1 1 1 1-4 1-2 1 3 3 5 2-3 24 10-18 0-4 5-15-9-6 0 0 1-1 9-3-5-2-5-5 2-2 1-2-1-7 0-2 4-2 4-1-9 0 3-2 3-1-6 0 4-2-4 0 6-1-1-1-6 0 5 0 2 0 4-1-6 0 1 0 3 0 2-1-11 0 6-1-5-1 2 0 2-1-3 0 1 0 1 0 4 0 2-1-10 0 1 0 1 0 2-1-1-1 0 0 4-1-5 0 3-1-5 0 2 0 4 0 2-1-3 0 1-1-6 0 5 0 2 0 4-1-8 0 8-1-11 0 4 0 1 0 2-1-3 0 7-1-10 0 8 0 1-1-6 0 3-1-6 0 4-1-4 0 1 0 1 0 7-1-6 0 3-1-2-1 1 0 1 0 2 0 2-1-9 0 1 0 2 0 6-1-5 0 1-1-4 0 4-1-4-1 2 0 3-1-7 0 8-1-7 0 1 0 3-1-6 0 2 0 4 0 3-1-4 0 2 0 4-1-6-1 0 0 2-1-7 0 5 0 4-1-5 0 3 0 3-1-10 0 1 0 3 0 7-1-1 0 1-1-3-1-8 0 9-1-4-2-4 0 9-1-1-1-9 0 2-1 1-1 8-1-1-4-4-1-6 0 6 0 2-1-3 0 2-3-1-2-3 0 8-2 0-3-8 0 1 0 6-1-4-1-2-1 4-2 2-19-2-1-8-1 6-2 3-6 8 1-5 7 5 2-2 4 0 5 4 1 2 2-9 0 4 1-2 0 6 1-7 0 4 0 1 1-5 1 4 2 4 0 2 1 0 2-1 2 1 1-4 0 4 1-1 2 1 1-1 1-6 0 7 1-6 1-4 0 1 2 9 1-5 1-4 0 2 0 2 0 1 0 4 1-11 0 5 0 3 0 3 2-9 1 1 0 3 0 2 0 1 1-9 0 4 0 1 0 1 1-4 0 8 1-9 0 9 1-9 0 3 0 5 0 1 0 1 1-11 0 3 0 1 0 2 0 2 1 0 0 3 1-7 0 7 1-7 0 1 1-2 0 3 0 3 1-7 0 1 1-2 0 3 1-3 0 2 0 1 0 1 0 3 1-7 0 2 0 2 0 5 1 0 0 1 1-9 0 5 1-6 0 4 0 3 1-6 1-2 0 2 0 1 0 3 0 3 0 1 1-4 2-6 0 7 1-7 0 1 0 2 0 1 0 5 1-2 1-7 0 1 0 1 0 3 1 1 0 2 1-8 0 6 0 3 1-4 1 0 1-4 0 2 0 5 1 0 0 2 1-10 0 6 1-3 0 4 1-5 0 1 1-3 0 6 0 2 1-8 0 1 2 0 1 3 1 6 3-10 1 4 0 1 2-5 0 9 2-8 0 2 1 5 1-8 0 7 0 3 1-4 2 1 1 3 1 1 1-11 3 2 0 3 2-3 1 9 2-10 2 3 6-3 1 5 5-3 1 3 3-5 6-1-9 13 0 1-11-2-3 7-13-6-1 4-1-2-4-3-2 8-2-4-5-2 0 3 0 2-1-5-2 9-1-10 0 10-2-3-3-8-1 0 0 10-1-5 0 1-1-3-2 2 0 2-1-5 0 5-1-7 0 3 0 2-1-5 0 5 0 1 0 1-1-7 0 1 0 6 0 3-1-10 0 11-1-11 0 1 0 4 0 1 0 4-2-10 0 3 0 3 0 4-1-10-1 0 0 4 0 1 0 2 0 2-1-7-1 0 0 2 0 4 0 3-1-10 0 1 0 9-1-8 0 2 0 6-1-1-2-9 0 3 0 3 0 3-2-10 0 8-1-4 0 1 0 2-1-7 0 10-1-9 0 4-1 4-1-9 0 3-1 2 0 1-1-5 0 3 0 1 0 6-1-8 0 1 0 4 0 3-2-7 0 4 0 2-1-6-1-3 0 7 0 1-1-4 0 1-1-4 0 9-1-3-1-8 0 10-1-7 0 3 0 3-1-1 0 2-1-9 0 7 0 2 0 1-1-7-1 4-1-1-1 1 0 1-2-5 0 1 0 1 0 5-1-7-1-4 0 6 0 5-1-8-1 6 0 2-2-10-1 6 0 3-2-3-1 1-1-1-1-2 0 3-2-4 0 2-7 5-2-2-3 0-3 2-1-5-2 3-11-8-17 15 4 7 16-7 0 7 3-3 8 0 0 2 5-3 1-3 2-3 0 3 2 6 1-5 1 2 2 0 1-5 0 1 2 1 0 7 2-8 0 6 2-8 0 10 1-7 1 6 1-6 0 5 0 1 1-10 0 7 2 1 1-4 0 3 0 2 0 1 1-8 0 9 1-9 0 9 1-3 1-6 0 4 2-2 0 4 0 2 0 1 1-10 0 6 1 4 1-10 0 3 0 1 0 2 1-1 1-5 0 2 0 7 1-10 0 2 0 2 0 1 2-2 0 5 1-8 0 7 0 4 1-9 0 6 1-7 0 3 0 1 0 1 1 2 0 3 1-9 0 1 0 1 0 5 0 1 1-8 0 2 0 4 0 2 1-9 0 4 0 1 1-3 0 3 1-3 0 8 1-9 1-2 0 9 0 1 0 1 1-11 0 3 0 4 1-3 1-4 0 2 0 1 0 5 1-1 0 1 3-8 1 2 1 9 2-10 1 2 0 7 2 0 1-7 2-3 1 9 1 0 1-4 2-4 0 6 2-7 1 6 2-3 0 5 3-5 1-2 2 3 0 3 1-5 16 6 3-8 0 4 1 5 7-3 0 13-3-3-12-3-2 2-3 1-8 0-1-3-3 6-1-2-6 2-1-6-2 4 0 1-4-6 0 4-2 3-1-6-1 4 0 4-2-5-1-1 0 4 0 2-1-5-3-1-1-2-1 0 0 7-2-8 0 6-1-6 0 1 0 7-1 3-1-11 0 7-2-4 0 2 0 5-1-9 0 6-1 1-1-4-1-2 0 3 0 2 0 3-1-8-1 2 0 2 0 2-1-6-1-2 0 6 0 1-1 1-1-5 0 5-1-7 0 6-1 0 0 2-1-6 0 5-2-5 0 1 0 2 0 4-1-8 0 1 0 5-1-8 0 1 0 8-1-6 0 5-1-5 0 4 0 1 0 3-1-5-1-2-1-4 0 1 0 1 0 2 0 7-1-7 0 4 0 1 0 1-1-7 0 4 0 1 0 1-1-6 0 8-1-8 0 1 0 4-1-6 0 5 0 3 0 1-1-9 0 8-1-10 0 8-1-1-1-7 0 6-1 1 0 4-1-6 0 4-1-9 0 4 0 6-1-6 0 2-1 1 0 1-1-8 0 7-3-7-1 3 0 3-2 3-1-5 0 6-3-8 0 3 0 5-1-2-1-4 0 4-2-2 0 2 0 2-5-9 0 5-4-5-2 2-1-2-1 3-4 7-19-4-24 16 32-11 0 4 0 6 3-3 1-5 0 7 4-3 2 2 3-1 2-7 0 8 2-3 4-3 0 9 1-11 0 3 0 1 1 4 1-6 2 2 1 7 1-3 1-4 0 2 0 4 1-1 1-8 0 8 1-9 0 8 1 0 0 3 2-9 1-1 0 5 0 1 0 4 1-7 0 3 0 2 0 1 1-8 0 6 0 3 1-4 0 3 1-5 0 1 1 0 0 3 1-5 0 4 1-5 0 5 0 2 1-10 0 1 0 3 1-2 0 8 0 1 1-6 0 2 0 1 0 2 1-10 1 9 0 1 1-9 0 3 0 3 1-5 0 2 0 7 1-6 0 4 0 1 1-10 0 5 0 5 1-10 0 2 0 5 1-4 0 4 1-5 0 3 0 3 0 2 2-8 0 6 0 3 1-11 0 8 1-7 0 3 0 2 0 4 1-1 0 1 1-7 1-1 0 5 1-6 0 3 0 4 1-6 1 0 1-1 0 2 0 1 0 2 0 1 1 1 1-8 1 0 0 1 1 5 1-3 0 1 0 1 0 2 1-6 0 2 0 3 1-6 0 6 0 1 1-2 0 1 1-6 0 2 0 9 1-4 1-2 1 4 1-5 0 4 1-8 1 0 3 0 3 8 2-4 2 6 3-2 2-7 5 0 2 10 3-4 4 1 4 1 3-7 5 15-5 4-3-7-7-2 0 4-1-2-5 9-4-6-3 5-3-1-4-7-7 8-2-2-3-4-2-3-2 2-2 3 0 1-3 3-1-2-2-8 0 9-1-6 0 2-1-2-1-2 0 2 0 8-1-11 0 1-1 1 0 2-1 1 0 5 0 1-1-3-1-8-1 0 0 2 0 1-1-3 0 1 0 5-1 2 0 1 0 1 0 1-1-10 0 3-1-1 0 8-1-10 0 1 0 7-2-6 0 2 0 3 0 1-1-5 0 1 0 2-1-3 0 6-1-10 0 1 0 4 0 2 0 1-1-5 0 3 0 1-1-5 0 2 0 2 0 1-1-7 0 1 0 2 0 3 0 1 0 2-1-9 0 6 0 4-1-5 0 1-2-2 0 4 0 3-1-8 0 2 0 2-1-7 0 7 0 1-1-8 0 1 0 3 0 7-1-7 0 5 0 2-1-5 0 1 0 1-1 0-1-1 0 4-1-4 0 2-1-4 0 5-1-9 0 6-1-5 0 2 0 2-1 5-1-9 0 1 0 4-1-4 0 2 0 1 0 4-1-10 0 10-1-4 0 2 0 1-2-9 0 1 0 7 0 2 0 1-1-6-3 5-1-10 0 6 0 3-1-2-2 0-1 3-3-5-1-3-2 9-1-1-1-5-2 3 0 1-4-3-2-5-1 10-1-4-3-5-1-1-5 1-2 8-1-10-4 0-6 6-19 3-3-7 7 18 7 0 9 2 6-1 3-4 0 5 2-4 2-3 2 8 1-10 1 5 0 4 2 0 3-1 1-3 0 1 1 3 1-9 4 0 0 10 1-6 0 4 0 2 2-1 1-4 0 3 2-1 2-5 0 3 0 1 2-7 0 8 1 0 1-6 0 6 0 1 1-9 0 10 1-6 1 2 0 1 0 1 0 3 1-11 0 1 1 7 1-4 0 7 1-7 1-2 0 4 0 3 1-8 0 2 0 7 2-7 0 1 0 3 0 2 0 2 1-10 1-1 0 3 0 2 0 6 1-11 0 9 0 1 0 1 1-10 0 3 0 3 0 2 0 2 1-3 1-8 0 1 0 3 0 1 2-1 0 1 0 1 0 3 1-5 0 4 0 2 1-10 0 5 0 1 0 2 1-3 0 4 1-7 0 3 0 4 0 1 1-6 0 1 0 1 0 5 1-11 0 4 1 2 1-4 0 1 0 7 1-10 0 2 0 8 1-9 0 1 0 9 2-10 0 1 1 1 0 4 1-6 0 3 0 1 0 5 1-2 1-1 1-4 0 7 1-10 0 1 0 9 0 1 1-5 0 1 1-7 0 7 0 2 3-8 2 2 0 3 1-4 1-2 1 5 0 1 0 1 0 1 1-1 1-2 6 2 1-6 1 1 4 2 13-4 5 5 21-2-23 10-2 6-15 4-7-10 0 7-9-7-3 4-3-3 0 6-1 0 0 1-1-3-1 1-2-7-1 0-1 3 0 7-2-8-2 0 0 1-1 0 0 1-1-3-1 2-1-3 0 6-3-5-1 10-1-11 0 5-1-1 0 3 0 4-1-5 0 5-1-9-1-1 0 2 0 1 0 3-1-4 0 4 0 2 0 2-1-8-1 1 0 3-2-7 0 3 0 4-1-7 0 1 0 5 0 5-1-8 0 7-1-2 0 2-1-9 0 4 0 1-1-4 0 6 0 2-1-10 0 9-1-5 0 1 0 3-1-6-1-2 0 5 0 1-1-4 0 2 0 2 0 5-1-11 0 3 0 2 0 5-1-9 0 7-1 0 0 2-1-4 0 4-1-8 0 4 0 4 0 1-1-10 0 4-1 3 0 2 0 1-2-4-1-7 0 11-1-8 0 1-1-4 0 2 0 3-1-3-1 4 0 2 0 2-1-5 0 4-1 0-1-5 0 5-1-5-1-3 0 4-2-1 0 3 0 1-1-6 0 3-1 5-1-1-1-4-1 6-1-10 0 1 0 4-1 3-1 1 0 1-1 0-1-3 0 2-5-8-13 7-1-6-7 5-14 14 4-1 4 1 3-9 2 4 6 1 1 4 5-9 0 4 0 1 0 2 1-7 3 1 2 7 1-6 3 4 2-1 0 2 1 1 1-2 2 0 1-5 1-2 0 9 2-6 0 8 1-1 1-5 0 3 0 1 2-1 1-8 0 5 0 2 2-7 0 7 1-5 0 2 0 3 1-4 0 4 0 2 1 2 1-10 1 5 0 1 0 2 0 2 1-3 0 3 1-4 0 2 1-8 0 1 0 2 1 1 1-3 0 1 1 0 0 5 0 3 1-9 0 2 0 7 1-11 0 4 0 4 0 1 1-7 1 5 0 1 1 1 1-7 0 8 0 1 1-9 0 2 0 4 1-8 0 3 0 1 0 2 0 5 1-2 1-9 0 2 0 4 1-2 1-4 0 4 0 6 1-7 0 2 1 5 1-9 0 4 0 1 1-5 0 8 1-5 0 3 0 1 1-7 1 0 0 4 0 5 2-10 0 6 0 2 1 0 2-4 1 4 0 2 1-8 2 5 1-4 0 5 0 2 2-1 1-4 0 2 3-5 0 2 1 2 1-5 1 6 1-1 0 3 9-3 6-1 2 0 1-1 1 2 0 5 1-10 1 10 4-4 2 3 5-6 18 2-47 6-2 0-4 6-8-3 0 5 0 2-5-10 0 10-1-8-2 0 0 8-3-8-2 5-1-2-1-5 0 3-1-2 0 1 0 2-1 2 0 3 0 1-1-2-1-7 0 1 0 4-1-5 0 2 0 7-2-7-1 6-1-3-1-4 0 5 0 1-1-2 0 3-1 1-1-10 0 4 0 2-1-6 0 9-1-4 0 5-1-9 0 6 0 3-1 0-1-10 0 4 0 1 0 4-1-9 0 1 0 6 0 1-1-8 0 7-1-6 0 2 0 5-1-6 0 5 0 4-1-6 0 2 0 1 0 1 0 1 0 1-1-11 0 5 0 3-1 2-1-10 0 8 0 1-1-9 0 4 0 1 0 3 0 3-1-11 0 5 0 2 0 2-1-7-1 2 0 3 0 2 0 1-1-9 0 1 0 3-1 0 0 1 0 3 0 1-1-9 0 1 0 7 0 2-1-11 0 1 0 1 0 9-1-11 0 8 0 3-1-8 0 1 0 4-2-5-1-1 0 7-1-7 0 1 0 8-1-3-1-8 0 2 0 6-1 0-1-5 0 7-1-9 0 5 0 2 0 2-1-6-1-3 0 5-1 1-3 4-2-3 0 3-4-11-1 10-2-10 0 6-1 0-1-3-2 7-1-1-2-2-7-1-13 5 9 12 6 0 1-8 0 1 2-4 0 4 1 7 3-8 0 7 2 1 2-8 0 5 1-6 2-2 1 0 0 11 3-4 0 1 0 2 1-7 0 3 1-2 1-1 1 4 0 2 1-9 0 3 0 2 0 1 1-3 0 3 0 3 0 1 1-9 0 2 1 5 0 3 1 0 1-5 1-5 0 5 0 2 2-7 0 3 0 1 0 5 1-9 0 2 1-1 0 5 1-6 0 7 1-5 0 3 0 2 0 2 1-9 0 8 1-3 1-6 0 7 1-6 0 5 0 1 0 1 0 3 1-8 0 5 1-6 0 1 0 2 0 3 2-7 0 2 0 5 1 0 0 1 0 1 1-10 0 5 0 1 0 3 1 1 1-10 0 1 0 6 0 1 1-8 0 2 0 3 0 4 0 2 1-11 0 3 0 8 1-10 0 1 0 8 1-7 0 8 1-2 1-3 1-6 0 3 0 5 0 1 1-4 2-5 0 10 1-8 0 4 0 4 2-1 1 0 1-9 0 1 2 10 4-7 1 7 2-6 2-5 4 2 6 3 1-5 0 8 60-7-46 12-30-1-2 3-1-1-1 5-1 0-1-7-1 2-2 4-2-6 0 10-1-1-2-4 0 3-2-4 0 2-3-4 0 4 0 1-3-6 0 2 0 1-1-1-1-2 0 9-2-9 0 1 0 3 0 1-1-2 0 5 0 1-1-4-1 1-1-6 0 3-1-4 0 2 0 5 0 4-1-10 0 3 0 6-1-9 0 2 0 1 0 4-1-2 0 1-1-4 0 1 0 5-1-7 0 1 0 3 0 1-1-7 0 8-1-6 0 1 0 2-1-3 0 2 0 5-1-8-1 4 0 4 0 2-1-9 0 4 0 1-2-6 0 1 0 1 0 5 0 3-1-5 0 2-1-6 0 6 0 2 0 1-1-3 0 2 0 1-1-11 0 3 0 3-1-6 0 2 0 2-1-1 0 5 0 3-1-7 0 1 0 1-1 0 0 5-1-8-1-3 0 5 0 2 0 4-1-4 0 1-1 1-1-3 0 2 0 1-1-9 0 6 0 1 0 3-3-6 0 1 0 2-1-7 0 4 0 2 0 1 0 4-2-3 0 2-1 1-1-11-2 9-2-3-3 1-2-2-3-5-7 10 3 3 1 6 1 1 1-7 0 8 4 0 1-6 3 4 2-2 2-2 0 6 1-5 0 1 0 3 0 2 1-5 0 3 0 2 1-3 0 2 0 2 1-10 0 1 0 2 0 1 0 3 0 3 1-8 0 6 1-6 0 1 1-1 0 6 1-7 0 2 1-1 0 5 0 1 0 2 1-6 0 2 0 2 0 2 1-11 0 5 0 1 0 1 0 2 1-9 0 3 1 3 0 2 2-6 0 1 0 1 0 1 0 1 0 4 1-9 0 2 0 1 0 5 0 1 1-8 1-2 0 3 0 8 1-3 1-5 0 1 0 6 0 1 1-5 1-1 0 1 0 4 0 1 1-11 0 1 0 2 0 3 0 4 2-5 3-5 0 7 1-7 0 1 0 1 1-2 0 3 0 5 0 2 1-1 1-3 1 2 1-7 0 1 1-2 0 4 1-2 0 9 2-1 1-10 0 11 3-8 1 8 1-2 1-6 0 1 0 6 4-4 3-2 1 5 1-2 2 2 3-7 3 9 1 0 19-5-23 9-12-3-3 0-6 11-1-4-4-7 0 8-3-8-2 1-1 3 0 1-1-5 0 2 0 1-2-2-1-1 0 2-1-2 0 4 0 2-3-6-1 8-1-4 0 7-1-7 0 5-1-3-1-6 0 2 0 3 0 2 0 2-1-8 0 1 0 1 0 1-2-3 0 3 0 4 0 3-1-11 0 4 0 5-1-3 0 3 0 1-1-10 0 1 0 6 0 1 0 2 0 1-1-11 0 4-1-4 0 1 0 4 0 1-1-5 0 1-1 2-1-4 0 4 0 2 0 1 0 1 0 1 0 1-1-9 0 1 0 2 0 6-1-1 0 2-1-8 0 1 0 7-1-11 0 1 0 9-1-5 0 2-1-4 0 5-1-7 0 3 0 3-1-2 0 5-1-4-1-3 0 5 0 2-1-8 0 1 0 2 0 3 0 2-2-5-1 3 0 1 0 1-1-4 0 3-1-8 0 2-3 4-2 14 2-2 1 3 1-3 0 1 0 1 0 2 1-11 0 4 1 0 0 2 0 4 1-10 0 3 0 3 0 4 0 1 1-9 0 6 1-5 0 3 0 4 1-10 0 5 0 1 0 1 1-7 0 3 1-2 0 3 0 4 1-7 0 1 0 5 1-7 1 0 0 6 1-4 0 7 2-9 0 1 0 4 0 1 1-5 0 1 0 5 1-6 1-1 1 1 1 6 3-5 2-1 0 2 6 0 8 0 3-3-42 12"/><path d="M653.8 265.2L653.8 70.6" stroke="#c4c4c4" stroke-width="1.4" fill="none"/><path d="M653.8 265.2L848.8 354.6L1100.9 286" stroke="#6a6a6a" stroke-width="1.1" fill="none" stroke-dasharray="2.6 2.2"/><path d="M653.8 265.2l-4.8 1.3M653.8 226.8l-4.8 1.3M653.8 188.3l-4.8 1.3M653.8 149.9l-4.8 1.3M653.8 111.4l-4.8 1.3M653.8 73l-4.8 1.3M848.8 354.6l-4.8 1.3M800 332.2l-4.8 1.3M751.3 309.9l-4.8 1.3M702.5 287.6l-4.8 1.3M653.8 265.2l-4.8 1.3M848.8 354.6l4.5 2.1M898.6 341.1l4.5 2.1M948.4 327.5l4.5 2.1M998.3 314l4.5 2.1M1048.1 300.4l4.5 2.1M1097.9 286.9l4.5 2.1" stroke="#666" stroke-width="1" fill="none"/><g font-family="Liberation Serif, serif" font-size="16.2" fill="#4a4a4a"><text x="641.3" y="267.5" text-anchor="end">0</text><text x="641.3" y="229.1" text-anchor="end">50</text><text x="641.3" y="190.6" text-anchor="end">100</text><text x="641.3" y="152.2" text-anchor="end">150</text><text x="641.3" y="113.7" text-anchor="end">200</text><text x="641.3" y="75.3" text-anchor="end">250</text><text x="834.8" y="373.2" text-anchor="end">1</text><text x="786" y="350.9" text-anchor="end">1.5</text><text x="737.3" y="328.5" text-anchor="end">2</text><text x="688.5" y="306.2" text-anchor="end">2.5</text><text x="639.8" y="283.8" text-anchor="end">3</text><text x="859" y="374.9">0</text><text x="908.8" y="361.4">50</text><text x="958.6" y="347.8">100</text><text x="1008.5" y="334.3">150</text><text x="1058.3" y="320.7">200</text><text x="1108.1" y="307.2">250</text></g><g font-family="Liberation Serif, serif" font-size="18.0" font-style="italic" fill="#444"><text transform="translate(608 168.9) rotate(-90)" text-anchor="middle">Adjacent pixel value</text><text x="716.6" y="375.4" text-anchor="middle">Direction</text><text x="1001.8" y="380.6" text-anchor="middle">Pixel value</text></g><path d="M1428.5 356.6L1233 267.5M1233 267.5L1233 72.2M1478.3 343.3L1282.8 254.2M1282.8 254.2L1282.8 58.9M1528.2 330L1332.7 240.9M1332.7 240.9L1332.7 45.5M1578 316.6L1382.5 227.5M1382.5 227.5L1382.5 32.2M1627.8 303.3L1432.3 214.2M1432.3 214.2L1432.3 18.9M1677.6 290L1482.1 200.9M1482.1 200.9L1482.1 5.6M1428.5 356.6L1680.6 289.2M1379.6 334.3L1631.7 266.9M1631.7 266.9L1631.7 71.6M1330.8 312.1L1582.9 244.6M1281.9 289.8L1534 222.4M1534 222.4L1534 27M1233 267.5L1485.1 200.1M1485.1 200.1L1485.1 4.8M1233 267.5L1485.1 200.1M1680.6 289.2L1485.1 200.1M1233 228.9L1485.1 161.5M1680.6 250.6L1485.1 161.5M1233 190.3L1485.1 122.9M1680.6 212L1485.1 122.9M1233 151.7L1485.1 84.3M1680.6 173.4L1485.1 84.3M1233 113.1L1485.1 45.7M1680.6 134.8L1485.1 45.7M1233 74.5L1485.1 7.1M1680.6 96.2L1485.1 7.1" stroke="#ededed" stroke-width="0.75" fill="none"/><path transform="scale(.5)" fill="none" stroke="none" marker-start="url(#my)" marker-mid="url(#my)" marker-end="url(#my)" d="M2903 47l-86 11 38 0 26-8 21 2 0 5 5 1 1-7 7 7 4-3 2 1 3 3 6 0 1 12-10 0-3-10-7 5-2-5-7 6-1 3-2-5-1-4-4 1-5 5-61 11 29-1 13 4 12-5 5 1 3 3 3-2 3-6 1 8 3 3 2-1 1-10 1 10 18 0 5-6 8-2 2 6 31-4-44 15-4 2-16-1-1-5 0 6-2-9-1 8-2-4-1 3-1 4-1-11-1 6-2-5-5 0-4 9-2-9-1 9-4-1-13-6 0 7-7 0-28 1-49 0 64 2 7 10 1-7 2 3 9 2 3 2 2-8 5 3 1-6 0 4 3 3 1-2 0 3 6 1 0 2 9-9 1 6 2-6 1 4 7-2 6 5 1-1 9-2 19 3-30 12-8-6-8 2-6-4-7 8-2 0-7-1-1-2-1-4-8 7-1 2-8-11 0 3-2 4-4-7-25 6-7 3-4 2-89 4 76 0 5 4 11-6 11 9 2-1 1 2 5-10 1 5 6 5 8-7 0 6 2-3 3-2 12 4 2-1 1 3 1-7 0 4 1 0 1-7 0 6 1 2 5-8 8 1 1 4 15-6 25 21-3-8-11 7-17 1-20-9-4 11-1-1-1-10-2 1-5 10-4-1-6-1-1 1-3-2 0 2-2-9-4 2-1 5-2-1-7-3 0 7-1-8-2-1 0 4-2 4-84-4 26 8 2 7 8 2 15-9 11 5 4 4 2-9 8 8 8-5 2 0 1-1 2 4 0 1 3-1 2-2 0 5 1-7 3-4 1 2 0 1 0 8 3-8 1 2 6 0 4 5 4-4 16-2 6 4 11-8-8 15-7 6-16-5-6 1-1-5-10 8 0 3-2-11-6 6-3-1-3 2-6 4-1 0-1-4 0 1-1 0-1-4-4 7-1-6-1-2-2 0-13 0-3 8-2-10-8 1-13-2-17 8-13 3-3 8 26-2 2-1 20 7 3-8 2 2 1 0 1-5 0 3 0 7 2-3 4-5 3 9 4-6 0 4 1-7 5 4 0 3 3-9 5 0 2 8 2 1 2-9 11 7 64 0-31 13-14-2-1 0-3-3-19 4-5 2-2-3-10-5-1 1-2-2 0 2 0 8-4-6-8 5-2-6-5 1 0 3-1 1-2-5-1-1 0 8-3-1-8 0-2-3-1-5-1 1-2 7-3 2-5-4-1-7-2 6-6-3-11 0-25 4-8 4-55 0 16 11 9-6 1-1 50-3 26 3 0 2 2-3 1 9 1-9 1 3 2-3 2 2 5 5 2-6 5 2 3 6 2-9 2 2 0 1 0 1 0 2 0 1 4-4 4-4 15 2 1 3 4-4 1 5 2-7 2 8 4-8 11 8 23 2 7 2-9 6-19-1-6 4-13-6-18 7-1-4-4-4-1-1-1 10-5-1-2-8-3 1 0 1-1-4 0 6-2-1-2 1-1-3 0 2-3-5 0 8-1-2 0 1-1-5 0 8-3-8 0 7-1-8-1 2 0 6-2-1-2 1-3-8 0 9-2-7-1 4-2 0 0 1-1-4-2 4-4-3-1 6-11-8-4 2-5 3-4 3-2-2-8-8-168 8 18 4 34 2 76 4 17-3 1-1 12-2 10-1 4 8 4 0 6-1 2 2 2-8 1 4 2 5 4-5 5 6 1-10 2 1 1 5 1-4 1 0 0 8 1-4 1 2 3-1 1-7 4 4 2-3 0 2 1-3 0 5 1 0 0 1 0 2 1-7 0 2 2-1 0 3 0 2 1-6 0 1 0 2 0 4 1-7 0 9 1-6 1 3 1-7 0 10 2-9 4 1 0 7 1-4 2-4 2 6 0 2 1-6 5 1 0 6 2-7 0 5 1-3 4-6 3 2 0 7 5-3 2 3 2-9 0 2 7 5 11 1 13-6 0 3 6 3-11 4-21 11-16-6-2 0-3-4-3 0-6 1 0 3-3 0-3-3-1 8-2-9 0 4-1-4-1-1 0 2-3 0-1 5-4 4-1-11 0 7-1-1 0 2 0 3-1-11-1 0 0 7-2-7 0 4-1 3-1-7 0 10-1-9 0 6-1-5 0 3 0 3-1-7 0 4 0 4 0 2-1-11-1 0 0 5 0 4-2-9 0 5 0 4-1-9 0 1-2 10-1 0-2-8-1-1 0 3 0 4-1-7 0 1-1 7-1-8-1 5-2-2-4 2 0 1-3-6-4 7 0 2-1-4-1 4-5-1-2-7-1 7-1-7-1 6-6 2-2-6 0 3-1 3-7-1-2-1-1-4-6-5-1 3-22-3-6 10-88 9 90-5 1 0 10 8 2-8 9-2 0 10 1-6 5 2 5-4 1 5 1-4 1-2 0 8 7-2 1 4 2-11 1 1 0 8 2-8 0 5 5 5 1-11 0 8 1-1 2 3 1-7 0 1 1 6 2 1 2-1 1-5 1-1 0 1 2 4 1-1 1-7 0 2 0 7 1-2 0 2 1-9 0 1 1 2 0 4 1-3 1 1 0 3 1-6 0 2 0 2 1-4 1 3 1 0 1 1 1-4 0 3 2-5 0 2 1 4 1-4 0 1 0 3 2-5 0 2 1-2 0 6 1-7 0 8 0 1 1-5 1 2 1 3 1-1 1-7 1 2 1 0 0 5 1-8 1 10 1-10 3 2 1 6 2 2 2-3 2-1 1-6 0 4 5 1 3-4 3 5 3 0 1-5 6 7 4-4 0 1 26-3 17 2 57 5-95 3-2 0-10 7-7-2 0 5-2-5-4-5-2 4-7 5-4-7 0 1-1 4 0 3-1-4-1-4-1 6 0 1-1-1-1-7-1 5 0 2-1-2-2-5 0 2 0 7-2-9-2 0 0 2 0 3-2-2-1-5 0 4-2-4 0 8 0 1-1-8 0 2 0 5-2-6 0 2-1 0 0 2-1-6 0 1 0 2 0 4 0 3 0 1-1-4 0 1 0 1-1-6 0 2 0 6-2-8-1-2 0 1 0 2 0 5-1-6 0 2 0 1 0 4-1-8-1 6-1-8 0 4 0 2 0 4-1-5 0 6-1-10 0 3-1 3 0 2-1-9 0 3 0 4 0 2-2-7 0 5 0 4-1-4 0 1-1-7 0 1 0 5 0 4-1-8-1 4-1-5 0 4 0 2 0 3-1-5-2-3-1 1 0 6-1-3 0 2-1-4 0 1-1-2 0 1 0 1-1 2-1-3-2-4 0 3 0 7-1-7-1 3-1-1 0 2-1-2-1-6-1 7-1-5 0 2 0 5-3-9 0 2 0 4-2-4 0 8-1-3 0 4-1-10-1 2 0 5-2-5-3 8-4-6-4 4-5-9-10 0-3 9 0 1-13-6-5 6-9-1-1-3-83 0 28 8 57 4 1-5 13 6 10 4 7-7 0 6 1-10 2 11 1-4 1 0 0 2 1-4 4-3 2-2 2 2 0 2 0 3 2-1 0 3 1-6 3-3 0 9 0 2 1-8 1-2 1 8 0 2 2-6 2-3 0 4 0 2 0 3 2-10 1-1 0 3 0 6 1-4 0 2 2-1 1 1 0 1 0 3 2-11 0 11 2-7 0 5 0 1 1-7 0 6 1-9 0 6 0 5 1-7 0 3 1-5 0 8 1-1 1-9 0 1 0 7 1-4 0 1 0 2 1-7 0 6 0 1 0 4 1-11 0 11 1-10 0 4 1 0 0 2 0 4 1-10 0 2 0 5 1-4 0 5 0 1 0 1 1-6 1-3 0 3 0 4 1-3 0 5 1-11 0 3 0 3 0 3 1-3 0 4 2-7 0 5 1-6 0 3 0 3 1-8 0 1 0 5 0 4 1-7 0 2 1-2 1-2 0 3 0 4 0 3 1-8 0 3 0 3 0 2 1-10 0 3 1-2 1 1 0 1 1-3 0 5 2-6 0 10 1-1 1-8 0 8 0 1 1-9 0 3 0 6 0 1 2-8 0 4 1-7 0 1 1-1 0 8 1-1 0 4 1-8 3 6 0 1 2-8 2 2 0 4 3-2 3 0 0 2 0 2 1-7 7 2 40 4 9-8 21 9 73 10-46-2-12 1-74-5-1-2-2 2-7 0-1 4-2-6-2 6-1-4-12 6-1 0 0 1-2-4-2-2-2 2-1 2-1-4-1 1-1 1 0 2-2-7 0 7-1-7 0 7-2 0-1 4-2-4-1-5 0 1-1 0 0 2-2 6-1-10 0 8-1-9 0 1 0 1 0 5-1-6 0 2-1 3-2-5 0 1-1 2-1-1 0 4 0 4-1-10-1-1 0 4 0 6-1-10 0 11-1-5 0 3-1-7 0 4 0 1 0 1 0 1-1-3 0 2-1-7 0 9-1-2-1-8 0 4 0 1 0 4 0 1-1-9 0 7 0 2-1-5 0 1 0 3 0 2-1-9 0 1 0 3 0 4 0 1-1 0-1-11 0 1 0 2 0 3 0 1 0 4-1-6-1 1-1-1 0 3 0 1-1-6-1-1 0 5 0 3 0 1-1-11 0 3-1-3-1 3 0 3 0 1 0 3-1-7-1-2 0 9-1-2-1-1-1-6 0 1 0 3 0 1 0 5-1-11-1 2 0 1 0 4 0 1-1-1 0 4-1-8 0 3-1-2 0 1 0 3 0 3-1-6-1 1-2-1 0 6-1 0-1-4 0 3-1-2 0 2-2-10 0 3 0 4-1-5-1-2 0 1 0 10-1-6 0 6-2-10-1 3-2-2 0 2-1-3 0 2 0 7-1 1-3-4-3-1-1 2-2 3-7-3-7-6 0 1-2-1-2 7-3-9-19 9-4-6-2 0-64 15 81 4 5-9 6 1 0 3 3-5 3 5 3-2 2 2 1 6 5-11 0 7 1-4 0 2 0 5 1-1 1-5 0 2 1 5 1-11 1 8 1-8 0 11 1-3 1 1 1-5 1 5 0 1 2-3 0 3 2-2 0 3 1-11 0 3 0 1 0 5 0 2 1-6 1 2 0 4 2-4 1-4 0 4 0 2 1-8 0 3 0 1 0 2 1-4 0 1 0 1 0 1 0 2 0 2 1-2 0 3 1-9 0 3 0 4 1-6 0 3 0 3 0 2 1-7 0 2 1 3 1-9 0 3 0 7 1-3 0 3 1-8 0 2 0 1 0 3 1-3 0 2 0 4 1-3 0 1 1-9 0 8 0 1 1-8 0 2 0 1 0 6 1-9 0 7 0 1 0 1 0 1 1-10 0 1 0 3 0 2 0 2 0 1 0 1 1-7 0 1 0 2 1-5 0 1 0 1 1-2 0 1 0 2 0 1 0 2 1-5 0 2 1-4 0 1 0 2 1 3 0 2 1-7 0 2 0 2 0 5 1-9 0 9 1-7 0 2 0 2 0 3 1-11 0 2 0 4 0 3 2-8 0 5 0 3 1 2 1-11 0 1 0 4 0 3 1-6 0 1 0 5 1-1 1-4 0 2 1-4 0 3 0 1 0 1 1 3 1-4 0 3 0 1 0 1 1-10 0 7 1-3 0 1 1-2 1 0 2 2 1-5 0 10 0 1 1-9 0 8 1-9 1-1 0 1 1 6 3-7 0 1 0 3 0 2 2-5 1 9 1-8 0 1 3-1 0 2 1 4 1-7 0 2 1-3 6 5 1-5 1 0 7 5 1 2 4 2 3-7 1 6 2-7 34 6 39 6-49 0-9 10-26-11-10 10-3 0-2-10-1 8-1 1-3-9 0 7-2-4 0 8-1-4-1 1 0 1-4-6 0 8-1-11 0 4 0 3-2-7-1 1 0 6-2-4 0 1-1 0-1 1 0 3-1-1-1-2 0 5-1-9 0 3-1-3-1 9-2-7-1-2 0 2 0 6-1-9 0 1 0 6-1-1 0 4-1-1-1-5 0 4-1-8 0 2-1 2 0 3 0 3 0 1-1-5-1-6 0 2-1-2 0 3 0 2 0 4-1-4-1-5 0 4 0 1 0 2 0 1 0 1-1 2-1-10 0 2 0 6-1-5 0 1 0 3-1-8 0 1 0 2 0 4 0 4-1-8-1-3 0 2 0 2 0 5 0 2-2-8 0 2 0 2 0 2-1 2-1-8-1-1 0 3 0 1 0 2 0 3-1-10 0 2 0 5 0 1-1-9 0 4-1-2 0 5 0 1-1-8 0 4 0 6-1-5 0 1 0 1-1-6 0 6-1-7 0 8-1-6 0 5-1-5 0 2 0 6 0 1-1-10 0 2 0 1 0 1 0 3 0 1 0 2-1-2 0 2-1-10 0 3 0 2 0 4-1-10 0 5-1-5 0 3 0 5 0 3-1-10 0 5-1 5-1-8 0 4-2-7 0 6 0 4 0 1-2-9 0 1 0 5-1-7 0 2 0 1 0 4 0 1-1-2-1-5 0 3 0 5-1-4-1 1 0 2-1-5-1-3 0 8-1-8 0 3 0 6-1-4-1-3 0 5 0 3-1-8 0 8-1-9-1 6 0 1-1-7-1 6-1-8 0 8 0 3-1-7 0 5-1-1 0 3-1 0-1 0-2-4-1 2 0 1-1 1-2 0-1-10-2 10-5-9 0 9-2-1-5-1-2-3-1-3-6 0-6 2-3 5-4-3-10-1-21 17 4-6 14 1 6-1 5-2 1 8 4-9 0 7 0 2 6-1 5-10 1 3 2 1 5 5 1-7 0 2 1 2 5-4 1 2 0 6 1-2 0 1 1-4 2 0 1-1 1-1 0 4 2-3 1 0 0 2 0 3 0 1 1-1 1-3 0 2 1-6 0 7 0 1 2-4 0 1 0 4 1-7 0 5 0 1 1-10 0 7 0 4 1-10 0 3 0 1 0 4 0 1 2-5 0 6 1-2 0 2 1-10 0 3 0 3 0 3 1-9 0 2 0 6 0 1 1-9 1 6 1-2 0 5 1-10 0 1 0 6 1-3 0 1 0 5 0 1 1-9 0 5 0 4 1-1 0 1 1-7 1-4 0 4 0 3 1 1 1-5 1-3 0 1 0 5 0 2 0 3 1-9 0 2 0 1 0 4 0 1 1-6 0 5 1-5 0 4 0 2 1-10 0 5 2-4 0 3 0 1 0 1 0 2 1-3 0 5 1-1 1-6 0 4 1-6 0 2 0 1 0 3 1-5 0 4 0 2 1-7 0 6 1-3 0 2 0 1 1-7 0 1 0 1 0 3 0 2 0 2 2 1 1-9 0 2 0 3 0 4 0 1 1-6 0 1 1-6 0 5 1-3 0 6 0 2 0 1 1-11 0 2 0 1 0 2 0 4 1-7 0 2 0 2 0 3 1-5 0 2 0 5 1-4 0 4 1-9 0 7 1-8 0 4 1-1 0 4 1-6 0 3 0 5 0 1 1-9 0 3 0 2 0 2 1-6 0 4 1-4 0 6 0 1 1-2 0 1 1-9 0 7 5-1 1-4 3 1 0 4 1-4 0 1 0 3 2-2 2 3 2-6 1-2 1 2 2-2 4 5 1-5 4 7 1 1 2-3 2 6 2-5 6-5 5 9 18-8 3 2 50 3-45 16-18-1-15-5-2 6-3-10-2 3-1 1-4-3-1-2-11 8-2-2-1-1-5 1-4 4-1-10 0 11-4-11-1 3-1 3 0 4-1-7-1 6-1-6 0 2-1-5 0 2 0 6-2-6-2 0 0 1-1 1-1 6-1-8 0 1 0 6 0 1 0 1-1-5 0 1 0 3-1-5 0 5 0 1-1-8 0 2-1-5 0 1 0 2 0 2 0 1-1-6 0 2 0 2 0 1 0 4-1-3 0 1 0 1 0 1-1-9 0 1-1-1 0 4-1-4 0 7 0 3-1-10 0 2-1-1 0 3 0 4-2-7 0 4 0 3 0 2-1-10 0 5 0 6-1-10 0 8-1-8 0 5 0 4-1-9 0 2 0 5 0 3-1-9 0 4 0 1 0 1-1-5-1-3 0 1 0 3 0 3-1 0 0 3-1-7 0 3 0 3 0 1-1-10 0 3-1-3 0 4 0 6-1-6 0 3 0 1-1-4 0 2 0 4-1-10 0 4 0 3 0 2 0 2-1-7 0 3 0 1 0 2 0 1-2-9 0 6 0 3-2-7 0 1 0 4-1-9 0 6 0 4-1-3 0 3 0 1-1-10 0 2 0 1 0 5-1-3 0 1-1-1 0 5-1-10 0 7-1-7 0 4 0 1 0 3 0 2-1-8 0 1 0 3-1-2 0 6-1-8 0 1 0 3-1-4 0 3-1-3 0 1 0 1 0 4-2-4-1-2 0 1 0 4-1-6 0 2-1-2 0 4 0 2 0 1-1 2-1-11 0 1 0 9-1-6-2-4 0 7 0 2 0 1-1-8 0 5 0 1-1-4 0 5 0 2-1-8 0 8-2-9 0 3 0 6-2-11 0 2 0 4 0 4-2-10 0 8-2 0-1-5 0 1 0 2 0 5-2-9-1 7-1 2-1-1-1-1-1-6-1 3-1 4-1-4-2-2-1-1-3 0-2 2 0 5-2-5-5 1 0 3-1 0-5-6-2 1-1 7-2-8-2 2-2 2-4-3 0 4-15 15 7-11 7 1 2 5 6-4 5-1 2 10 1-4 1-4 2 0 1 0 0 2 1-5 3 1 0 4 1 1 0 2 1-7 1 9 3-2 2-6 4 2 1 4 0 2 2-9 1 10 1-9 0 6 1-8 0 8 0 2 1-9 1 7 0 2 1-3 0 2 1-9 0 9 0 2 1-9 0 6 1-5 0 5 0 1 1-5 0 2 0 5 1-11 0 3 0 2 0 1 0 2 1-8 0 4 0 3 0 2 1 0 1-2 0 4 1-9 0 1 0 5 0 1 0 1 1-10 0 1 0 3 0 1 0 1 1-5 0 1 1 9 1-11 0 7 0 1 1-3 0 1 0 1 0 2 0 1 1-10 0 1 0 1 0 3 0 1 0 2 0 1 1-3 0 4 1-10 1 2 0 1 1 0 0 1 0 6 1-4 0 1 0 1 0 1 1-7 0 1 0 3 0 2 0 1 0 1 1-8 0 2 0 7 1-11 0 3 0 4 0 1 0 2 0 1 1-11 0 1 0 1 0 1 0 7 1-10 0 4 0 4 0 3 1-11 0 1 0 4 0 2 0 3 1-10 0 4 0 1 0 1 0 1 0 1 1-5 0 2 0 6 1-4 0 2 1-8 0 3 0 6 0 1 1-11 0 2 0 4 0 4 1-10 0 4 0 1 1-2 0 1 0 2 0 1 1-5 0 1 0 1 0 6 1-10 0 2 0 8 1-7 0 5 0 3 1-6 0 1 0 3 1-9 0 4 0 3 1 3 1-8 0 9 1-10 0 4 0 6 1-11 0 2 0 6 0 2 1-10 0 4 0 5 1-1 0 3 1-11 0 8 0 1 1-5 0 3 1-5 0 1 0 1 0 5 0 1 1-7 0 4 0 1 1 3 1-5 0 1 0 3 1-10 0 1 0 4 0 1 0 1 0 3 1-10 0 4 1-1 0 3 0 1 1 4 1-11 0 5 1 3 0 3 1-9 0 3 0 6 1-11 0 2 0 1 1-3 0 6 0 3 1-9 0 2 0 6 0 3 1-3 1 0 0 1 1-6 1-2 0 10 1 0 2-2 1-8 0 1 3 9 2-3 4-1 1-2 1 4 3-4 2-5 1 4 5 5 1-3 6-4 14 8 3 0 10-5 7 2 34 4 29-4 20-7-101 22-15-10-11 1 0 2-3 4-2 1-5-8-2 3-7 6-1-4-1-3-1 2 0 7-1-9-1 8-1-4-1 3-2-9 0 1-1 1 0 3 0 2-3-3 0 2-1-2 0 1-1 1 0 1 0 1-1-7 0 2-1 1-1-4 0 1-1 5 0 2-1-6-1-1 0 6-1-7 0 3 0 1 0 7-1-9 0 4-1 3-1-2-1-7 0 1 0 5 0 1-1-5 0 1 0 2-1-1 0 1 0 3 0 1-1-6 0 2 0 4 0 2-1-10 0 2-1 5-1-6 0 8 0 1-1-8 0 1-1-3 0 2 0 3 0 5-1-10 0 2 0 6-1-4 0 2-1-7 0 6 0 3 0 1-1-10 0 8-1-5 0 4 0 1-1-7 0 1 0 6-1-2 0 2 0 2-1-10 0 2 0 8-1-9 0 9-1-10 0 7-1-3 0 1 0 4 0 1-1-9 0 1-1 0 0 6 0 1-1-7 0 1 0 3-1 0 0 1-1-1 0 1 0 1 0 2-1-10 0 2-1-1 0 2 0 6 0 1-1-9 0 4 0 3-1 1-1-3 0 5-1-7 0 6-1-8 0 6 0 2-1-2 0 2-1-9 0 1 0 2 0 7-1-4 0 1-1-6-1-1 0 2 0 2-1-3 0 3 0 6-1-7 0 5-1-6 0 3 0 1-1-6 0 3 0 7-1-8 0 4 0 2 0 1-1-5-1-5 0 4 0 7-1-3 0 3-1-9 0 6 0 3-1-11 0 2 0 4 0 1-1-7 0 3 0 4 0 4-2-1-1-9 0 4 0 1 0 1-1 0 0 1-1-8 0 8-1-5-1 8-1-4-1 0 0 3-1-5 0 4-1-9 0 8 0 2 0 1-2-7 0 2-2 0 0 1 0 1-1-8 0 11-1-3-2-7 0 1 0 4-2-6-1 6 0 4-4-7-5-3-2 5-1 2-1-3-1 3-1-5-10-1-2 1-11-2-5 0-20 17 4 0 20-2 4 6 1-1 0 2 2 1 3-11 2 5 5-3 2 9 1-3 1-1 0 2 1-4 1 1 1 3 1-7 2 8 4-10 0 2 1 9 1-4 0 2 5 1 2-4 1-2 0 5 1-4 1-3 0 2 1-2 0 4 1-6 1 4 0 4 0 2 1 0 0 1 1-8 0 2 0 2 1-3 0 2 1-5 0 2 0 1 0 6 1-1 1-7 0 1 2-3 0 3 0 3 0 1 0 4 1-3 0 1 0 2 1-11 0 7 0 1 1-7 0 3 0 2 0 2 1-6 0 1 0 2 0 1 0 3 1-3 1-2 0 7 1-9 0 7 1-8 0 1 0 1 0 5 0 2 0 1 1-11 0 1 0 1 0 1 0 8 1-5 1-3 0 4 0 1 1-2 0 1 0 3 0 1 1-11 0 5 0 1 0 4 1-10 0 2 0 3 0 4 1-6 0 4 0 4 1-5 0 1 1-5 0 1 0 2 0 3 1-6 0 3 0 4 1-9 0 1 0 2 0 2 0 1 1-6 0 6 0 3 1-9 0 6 0 1 0 2 1-5 0 2 0 4 1-6 0 1 1-3 0 2 0 1 0 2 0 1 1-5 0 1 0 6 1-10 0 1 0 3 0 5 1-6 0 2 0 1 0 3 1-8 0 1 0 2 1 3 0 3 0 1 1-11 0 5 0 6 1-6 0 2 0 3 1-10 0 5 1-3 0 1 0 2 0 1 0 3 1-9 0 6 0 3 0 2 1-8 0 4 0 1 1-5 0 6 1-8 0 2 0 5 0 3 1-11 0 1 0 1 0 4 0 2 0 1 1-5 0 4 0 3 1-10 0 3 0 1 0 1 1 0 0 1 0 2 1-8 0 1 0 8 1-8 0 5 0 3 2-9 0 8 0 2 1-9 0 3 0 1 0 3 1-7 0 1 0 1 0 1 0 4 1-8 0 2 0 2 0 4 1-1 2-6 0 7 0 1 0 1 1-1 1 0 1-10 0 1 0 7 1-3 0 1 0 1 0 3 4-9 0 7 3 0 1-2 1-6 0 3 0 2 0 1 0 4 1-4 3-6 7 0 0 9 2-6 4 7 3-7 5 3 23 5 22-1 18-9-29 12-1 10-18-1-1-10-1 4-2 1-5 5-2-3-6 1-11-5-2-1-1-1-1 2-1-3 0 7-3-3-6 5-4-8-2 6-5 0-1-7 0 11-1-6-1 3 0 2-1-5 0 1 0 5-2-7-1-4 0 1 0 5-1-2-1 4-1-8 0 3-1 0 0 1 0 7-1-8-1 5-2-8 0 1 0 3-2 1-1-4 0 3 0 1 0 3-1-8 0 6 0 4-1-6 0 6-1-6 0 2 0 2-1-1 0 3-1-6 0 6-1-9 0 1 0 1 0 6-1-6 0 4 0 1 0 2 0 1-1-9-1 0 0 2 0 4 0 2 0 1-1-9 0 2 0 3 0 4-1-8 0 3-1-6 0 5 0 5 0 1-1-8 0 3 0 4 0 1-1-10 0 5-1-3 0 4-1-7 0 1 0 6 0 4-1-10 0 2 0 7 0 1-1-8 0 1 0 7-1-11 0 3 0 4-2-5 0 7-1-4 0 3-1-7 0 3 0 1 0 3-1-5 0 4 0 4-1-11 0 3 0 2 0 1 0 1-1-2 0 1-1 0 0 1 0 3-1-10 0 3 0 3-1 0 0 4-1-9 0 1 0 1 0 1-1 0 0 2 0 1-1-2 0 1 0 3-1-9 0 4 0 1-1-5-1 0 0 3 0 5 0 1-1-9 0 1-1 2 0 2 0 2 0 1-1-5 0 5 0 1 0 2-1-5 0 2-1-7 0 1 0 4-1-5 0 1 0 1 0 6-1-9 0 7 0 4-2-6 0 1 0 1 0 3-1-6 0 1 0 5 0 1-1-11 0 8-1-7 0 1 0 5 0 4-1-10 0 7-1-5 0 3 0 5-1-11 0 1 0 5 0 5-1-8 0 1 0 4 0 2-1-9 0 7 0 1 0 1-1-2-1-4-1-2 0 5 0 3-1-8 0 1 0 1 0 4 0 2 0 1-1-1-1-10-1 4 0 4-1-7-1 2-3-2 0 6 0 2-1-5-1-1 0 6-2-1-1 3-3-11-1 9-1-7-1 0-1 9-1-5-2-5 0 2-1 1-1-4-2 6-1-3-5 7-3-9 0 6-3 4-5-6-3 3-12 0 4 14 9-9 2 3 1 2 2-6 0 10 6-6 0 4 3 3 5-11 1 2 0 9 1-4 1-5 0 6 1 0 0 2 0 1 2-4 1-4 0 7 1-4 2-6 0 2 1 0 0 2 0 5 1-8 0 2 1 6 2-8 0 9 1-6 0 1 0 1 0 1 1 4 1 0 1-7 0 1 1-4 0 3 0 2 0 1 0 1 0 3 1-11 0 3 0 4 1 1 0 2 1-8 1 4 0 1 1-1 0 1 1-6 0 3 0 1 0 3 0 3 1-7 0 6 1-9 0 8 1-4 0 3 0 1 1-5 0 1 1 4 0 2 1-11 0 3 1 3 0 2 1-6 0 6 1-5 0 5 0 1 1-6 0 1 0 5 0 2 1-10 0 3 0 5 0 1 1-7 0 1 0 5 0 2 1-7 0 1 1-5 0 2 0 1 0 7 1-6 0 4 0 2 1-9 0 7 0 1 0 1 1-10 0 3 0 6 1-6 0 3 0 1 0 3 0 1 1-10 0 10 1-9 0 1 0 1 0 3 0 3 1-10 0 4 0 2 0 5 1-6 0 5 1-5 0 1 1-6 0 2 0 4 0 2 1-3 0 6 1-4 0 3 1-10 0 2 0 2 0 5 1-9 0 7 1-3 0 4 1-6 0 3 0 3 0 1 1-9 0 2 0 3 0 2 0 2 1-9 0 2 0 3 0 2 0 1 1 1 1-4 0 4 0 1 0 1 1-11 0 10 1-7 0 2 0 3 1-8 0 3 0 5 0 1 0 1 1-9 0 1 0 3 0 2 0 4 1-8 0 4 0 3 1-1 1-8 0 2 0 1 1-4 0 2 0 2 0 2 1 3 1-5 0 2 1-3 0 2 1-5 0 10 1-4 0 2 1-1 0 4 1-11 1 4 1-4 0 4 0 7 1-5 1 5 1-3 2-4 1 5 1-7 1 2 0 3 1-7 1 0 2 0 0 4 3 5 2-8 0 2 0 1 0 1 1 3 1-8 1 6 0 3 2-6 1-3 0 10 2-3 17-5 14 1 9 3 18-2 9 6 40 2-61 9-17-7 0 4-8 2-6 1-4-3 0 1-17-3-1 2-7-5-4 2-2 5-3-8-2 5-1-2 0 1 0 1-2-5-3 0-1 3 0 2-1-4-1-1-1 2-1 0 0 4-1-6 0 3 0 2-1-3-1 3 0 2-1-3 0 2 0 2-1-5 0 1 0 4 0 3-1-11 0 4 0 1-1-5 0 4 0 1 0 5-1-6-1-3 0 3-1 4 0 3-1-11 0 3 0 3-1 5-1-11 0 2 0 3 0 1 0 2 0 2-1-6 0 1 0 1-1-3 0 8-1-10 0 2 0 1 0 2 0 3-1-8 0 5-1-6 0 9-1-7 0 3 0 5-1-4-1 2-1-4 0 4 0 1 0 2-1-11 0 2 0 1 0 1 0 2 0 1 0 3 0 1-1-11 0 7 0 4-1-10 0 1 0 9-1-5 0 1-1-6 0 6 0 1-1-4 0 2 0 2-1-4 0 2 0 3-1-6 0 7-1-2-1-7 0 3 0 4 0 2-1-5 0 1 0 3-1-8 0 10-1-10 0 2 0 8-1-8 0 3 0 1-1 2-1-8 0 1 0 8-1-4 0 1-1-1 0 3 0 2-1-10 0 6 0 3-1-7-1 0 0 6-1-8 0 4 0 3-1-8 0 4-1-1 0 1 0 2 0 3 0 2-1-9 0 5 0 4-1-10 0 6 0 4-1-11 0 2 0 1 0 8-1-11 0 1 0 8-1-5 0 1 0 1-1-5 0 9 0 1-1-3-1 1-1-6 0 7-1-8 0 3 0 4-1 0-1-8 0 9-1-10-1 3 0 1 0 2 0 1 0 3-1-6 0 5-1-7 0 2 0 6-1-10 0 7 0 3 0 1-1-4 0 3-1-1-2 2-1-4-2-1-1 2 0 3-4-8-1-2-2 6-1-6 0 6-1-7 0 6-2-3-2 4 0 1-1-3-13 4-1 1 3 2 0 7 0 2 1-7 1 6 3-2 1-1 2-5 0 8 0 1 3 0 1-8 0 5 1-2 5 3 0 1 1-8 0 7 0 1 1 1 2-4 0 1 0 5 1-10 0 2 0 2 0 1 0 1 1-7 0 2 0 5 1-7 0 6 0 1 1-2 0 6 2-7 1 0 0 1 0 1 0 1 0 3 0 1 1-10 0 1 0 1 0 4 0 1 0 2 0 1 1-5 0 3 0 1 1-4 0 5 1-10 0 2 0 2 1-3 0 3 0 5 1-8 0 5 0 2 0 1 1-8 0 4 0 3 0 1 1-6 0 7 1-11 0 1 0 4 0 1 0 4 1-4 1-6 0 3 0 7 1-6 0 1 0 5 0 1 1-11 0 3 0 1 1-3 0 6 0 2 1-1 0 3 1-10 0 3 0 2 0 4 1-7 0 1 0 1 1-2 1 2 0 3 0 1 0 2 1-8 1-3 0 4 0 2 1-1 0 3 0 1 0 2 1-9 0 7 1-8 0 1 0 1 0 1 1-4 0 7 1-5 1 1 0 1 0 6 1-8 0 4 0 1 0 1 0 3 1-10 0 3 0 2 0 5 1-2 1-2 1-5 0 3 0 5 1-9 0 6 0 3 1-5 1-2 0 2 0 5 1-10 0 9 0 1 1-10 0 5 0 1 0 3 1-9 0 8 0 3 1-8 0 3 0 2 0 2 1-8 0 9 1-1 1-6 0 2 0 5 1-11 0 9 0 1 1-10 0 8 1-6 0 2 0 2 0 3 0 2 1-10 0 2 0 3 0 3 1-8 0 1 1 2 1-2 0 9 1-7 0 1 0 4 1-5 0 1 1-5 0 2 0 7 0 2 2-8 0 3 1-4 0 1 0 5 0 3 1-8 0 5 0 1 1-6 1-2 0 9 0 1 2-1 1-5 2 1 2 5 1-11 0 7 2 2 2-7 0 5 3-6 0 2 0 2 2-3 0 9 1-10 0 3 2-1 2 0 1 5 5 0 0 2 3 1 4-8 2 3 5 2 46 6-48 2-1 1-5 5-1-6-7-4-6 0-4 8-1-8 0 3-7-3-1 4-3-4-2 0-3 7-1-7 0 1-1 1-2 3-3 1-1-1-1-4-1-1-1 1-1 8 0 1-1-10 0 2 0 4-1-3 0 1 0 1 0 2-2-7 0 11-1-8 0 3-1-2-1-1 0 2 0 1-1-5 0 3 0 1 0 1 0 4-1 1-1-8-1-1 0 1 0 1 0 1 0 5-1-3 0 4-1-11 0 1 0 2 0 8-1-11 0 5 0 1 0 5-1-8 0 6-1-4-1 0 0 4-1-7 0 2-1 0 0 3-1-7 0 1 0 7 0 1 0 1-1-5 0 1 0 5-1-10 0 5 0 1 0 1-1 2-1-7 0 6-2-8 0 2 0 3 0 2-1-4 0 6 0 1-1-10 0 8-1-7 0 6-1-4 0 5-1-6 0 4-1-7 0 3 0 2 0 6-1-3 0 2-1-6 0 2 0 5-1-10 0 1 0 2 0 4 0 3-1-11 0 6 0 2 0 3-1-6 0 6-1-9 0 6 0 2-1-10 0 6 0 4-1-9 0 1 0 5-1-1-1 2-1-7 0 3-1 5 0 1-1-10 0 1 0 1 0 7-1-8 0 5 0 2 0 3-1-8 0 2-1-2 0 4-1 4-1-6 0 1 0 1 0 1 0 2-1-9 0 4 0 4-1-5 0 3 0 1 0 1-1-5 0 4 0 1 0 1 0 1-1-4-1 4-1-5-1-3 0 3 0 2 0 2 0 1-2-11 0 11-2-5 0 5-1-10-1 5-1 0 0 1 0 4-5-6 0 3-3-8 1 16 0 3 3 2 2 2 1-5 0 1 0 3 1 1 1-6 0 4 1-9 0 2 0 8 1-9 0 6 0 2 0 2 1-8 0 3 0 2 1-4 0 1 0 1 1-5 0 5 0 4 1-4 0 1 0 4 1-8 0 5 1-2 0 2 0 1 1-8 0 2 1-2 1 1 0 1 0 1 0 4 0 2 0 1 1-9 0 1 0 2 0 3 0 1 0 1 0 1 1-8 0 1 0 2 1-5 0 1 0 3 0 1 0 2 1-8 0 1 0 5 0 3 0 2 1-11 0 5 1 1 0 4 1-9 0 1 0 2 0 1 0 3 1-8 0 3 0 1 0 5 0 1 1-9 0 3 0 1 1-4 0 3 0 2 0 2 0 2 0 1 1-11 0 2 0 1 0 4 0 1 1-3 0 4 0 2 1-10 0 2 0 2 0 5 1-7 0 1 0 1 0 6 1-2 1-9 0 1 0 1 0 1 0 4 1-7 0 4 0 7 1-11 0 3 0 1 0 2 0 3 1-3 0 1 0 3 1-10 0 6 0 3 0 2 1-11 0 9 0 1 1-9 0 1 0 3 0 1 1-3 0 4 0 3 1 0 1-6 0 5 1-5 0 4 1-4 0 2 1-5 0 8 1-9 0 2 0 7 1-7 0 3 0 3 0 3 1-2 1-7 0 6 1-5 0 3 0 4 1-10 0 5 1-4 0 4 0 3 0 1 1-7 2 3 1-5 0 3 0 6 4-7 0 6 1 0 1 2 1-9 0 4 2 4 2-9 0 3 3 2 1 0 0 6 1-9 1 0 1-1 1 7 4-7 0 8 3 0 2-8 0 1 0 6 1-6 0 6 1-8 6 6 1 5 1-10 1 1 6 2-26 9-1 0-2 3-1 0-11-4-1 2 0 3-4-4 0 2-1 2-2-1-2 0-1-4 0 4-1-2-2 1 0 4-1-1-2-1 0 5 0 1-2-11 0 4-1-2 0 7-1-6 0 7-1-9-2 1 0 3-2-3-1 1-1-2 0 1 0 4 0 1-1-6-1-1 0 3 0 1-1 5-1-4 0 4-1-8 0 2 0 2-2-5 0 4 0 3 0 1 0 1 0 2-1-8 0 3 0 2 0 1-1-9 0 7 0 1 0 1-1-7 0 5-1-4 0 1 0 2 0 2 0 1-1-2 0 2-1-9 0 4 0 4-1-8 0 1 0 1 0 4 0 4-1-10 0 1 0 3 0 3-1-6 0 4 0 2 0 1 0 1-1-4 0 1 0 2 0 2-1-9 0 1 0 4 0 3-1-8 0 2 0 1 0 1 0 2-1-6 0 1 0 2 0 2 0 1 0 3 0 1-1-7 0 2 0 1 0 1-1-7 0 6 0 1 0 1 0 1-1-10 0 2 0 6 0 3-1-10 0 6 0 1-1 0-1-6 0 1 0 1 0 1 0 5-1-10 0 11-1-1-1-6-1 4-4-6 4 10 2 3 1-2 0 1 1-2 0 1 0 1 0 1 1-2 1-1 0 1 1-1 0 5 1-4 0 3 1-4 0 1 1-1 0 1 0 4 1-4 2 0 15-1 10 2"/><path transform="scale(.5)" fill="none" stroke="none" marker-start="url(#mo)" marker-mid="url(#mo)" marker-end="url(#mo)" d="M3051 155l22 0 14 0 2-10 5 6 13 3 13 1 10 6-3 5-1-2-4 3-6-6-1-2-4 4-3-3-7 7-8-7-4-3-4 1-12 5-19 2 0 2-13-2-59 12 59-5 16-2 11 4 3-3 6-1 5 4 6 2 1 1 1 2 4-3 1-6 0 8 3-6 5 5 1-3 2-5 30 12-13-1-8 8-1-6-9-2-4 0-1 0-6 7-3-4 0 3-10 1-3 2-2-1-1-6-18 8-2-3-9-1-10 0-17-1-38-2 32 16 26-3 0 7 1-5 0 2 11-3 1 3 5-1 1 3 3-5 1 6 2-1 1-10 1 7 1-2 2 2 2-1 0 5 1-9 0 1 3 2 2-1 2-3 1 4 2-4 0 6 8-3 0 1 2 1 2-4 4 8 4-3 20 5-26 4-7 7-1 0-12 0-6-4-2-7-1 2 0 8-5-4-1 2-1-7-3 10-6 0-2-3-6-5-2 2 0 2-22 1-25-8-2 8-16-8-14 8-22 1-74 1 39 10 12 3 50-7 43 1 3-2 5 3 8 4 1 1 8 0 6-4 4-2 1-5 4 9 2-2 0 1 1-8 4 2 2 3 2 4 3-3 2 2 1-5 1-2 6-1 4 3 9-1 2-2 4 10 14-3 15-3-6 18-29-5-12-3-11-2-3 5-2-4-1 4-2 6-15-9-4-2 0 1 0 6-9 4-4-10-4 2-2 4-1-6-4 0-10 1-4 1-4 4-24-5-22 7-10 1-4 0-85-1 127 3 11 4 8 3 2-7 1 6 1 3 1-8 9 2 5 5 7 2 1-4 0 5 1-4 3-1 1 5 1-9 2 1 0 6 5-6 3 8 1-6 12 0 1-3 9 9 34-9-16 21-16-8-18 3-3-1-2 4-8-5-4-2 0 9-8-1-4-3-2 4-1-6 0 6-1-10-1 2-1 6-1-3-2 1 0 2 0 1-1 0 0 1-2-10-1 0-3 9-1-7-2-1-3 8-4 0-7-4-8 1-1 0-90 8 18 7 38-9 10 1 6 2 9 1 3 4 1-4 13-2 5 6 2-3 2 1 2 2 5-3 2 1 6-3 2-1 2-2 0 4 6-2 13 8 11-2 2-7 18-1-16 12 0 3-22 0-1-3-4 3-1 7-7-8-5 4-1-3 0 4-3 1-2-7 0 3-1-2 0 8-1-6-2-3-1 1-2-1 0 5-1 4-1-11-1 6-1-6-1 4-1-2-2 5 0 2-3-7-1 9-4-3-5-8-4 9-1-4 0 6-4-4-1 4-15-10-1 3-13-3-22 0-2 10-6-8-10 7-45-8 30 18 12-3 3-3 1 6 29-2 9 1 1 0 3-3 8 6 1-6 8 2 9 1 3 2 1 2 3-7 0 6 1-8 0 1 1-2 0 6 1-5 0 5 1-6 2 3 0 1 0 4 2-5 0 5 1-7 1-2 1 10 1 1 3-10 0 6 1-6 0 4 2 1 1-4 0 3 4 0 0 5 1-9 4 2 7-2 0 2 0 4 9 1 7-7 3 6 7 1 3-4 62 16-42-8-1 5-4-1-33-1-14 1-1-3-1 7-5-4-4-1-1-2-4 10-1-2-2-8 0 5-1-6 0 10-1-8 0 7-3-4-1 5-1-6 0 1-1-5 0 1-1-1 0 2-2 0 0 6 0 2-2-9 0 1 0 1-1 2 0 1-1-5-1 5 0 4-1-5 0 4-1-8 0 2 0 2 0 6-2-10-1 9-1-7 0 8-2-2-1-6 0 3 0 4-1-10-1 7-1-2-2-4 0 3 0 4-2-5-1 8-1-11 0 6-1-3 0 5 0 3-3-1-2-4-2 2-1-1-1-1-1 4-4-8-2 3-7 1-1-5-10 1 0 8-2-5 0 1-2-1 0 3-3-3-26 6-2-2-55 4 4-1 30 10 10-7 10 7 7-9 1 2 11 5 1-1 2 0 1 1 4 0 5-5 4 4 1 0 7-5 1 4 3 0 0 4 2-3 2-7 3 1 0 1 3 4 1-3 3 3 0 4 1-10 4 8 0 2 0 1 2-8 1 8 1-1 1-3 0 2 0 2 1-2 1-3 0 2 1-8 1 5 1 0 1-1 1-2 0 1 1-2 0 5 0 4 1-7 0 3 0 1 0 2 1-4 1 0 0 1 2-3 1 0 2-2 3 8 0 2 1-6 3 3 3 0 3-7 1 4 1-2 2-2 7-1 7 6 5-6 0 5 1-5 9 20-6-5-5-3-22 5-2-5-3 6-6-5 0 2-1 3-1-2-3 0-1 0 0 1 0 5-4-6 0 5-1-9 0 1-1 4 0 1 0 4-1-1-1-7-1-1 0 7 0 3-1-7-1 3 0 2-2-7 0 3 0 4-1-2-1-4 0 6-1-6-1-1 0 1 0 3-1-2 0 3 0 4-2-2-1-9 0 3 0 8-1-9 0 4 0 4 0 1-1-10 0 3-1 2 0 5-2-8-1 6-1-6 0 2 0 2 0 4-1-7-1-2 0 6 0 1 0 1-1-6 0 3 0 3-1-6 0 1 0 1-1 0-1-6 0 1-1 5 0 4-2-4-1-4-2-2-5 9-1-8-2 3 0 1 0 3-2-6-1 7 0 2-3-9 0 3-17-2-1-1 0 6-2 1-1-1-5 1-5-4-1-2-40-3-3 7-3 7 20 7 12-9 9 9 5 2 4 0 4-9 7-2 0 3 5 8 1-3 3-3 1-3 0 9 4-9 0 4 1 3 2-6 0 5 0 1 0 2 1-2 2-7 1 5 1-2 1-1 0 2 0 4 0 1 1 0 2-8 0 2 0 2 0 4 1-11 0 1 1 6 1-3 1-1 0 2 0 5 0 1 1-11 0 4 0 1 0 3 1-6 0 7 1-3 2-4 0 2 0 2 0 3 1-3 0 3 1-7 0 4 0 3 1-4 0 4 1-4 0 6 1-10 0 3 0 7 1-10 0 6 0 3 1-10 0 4 1-4 0 6 0 3 0 1 1-1 0 1 1-7 0 2 0 2 0 1 1 2 1-8 0 3 0 1 2-6 0 2 1 3 0 2 1-6 0 1 1-2 0 7 1 3 1-10 0 7 2-2 0 1 1-6 0 4 0 3 1-4 0 2 0 1 1 0 1-6 0 7 1-7 0 3 0 4 0 2 1-5 3 4 2 1 1-1 4-8 1 3 5 4 6 1 1-7 5 10 21-10 4 8 3-2 29-7 34 19-93-6-10-1-2 8-4-6-4 3 0 2-5-6-3 9-3-5-1 0-1-2 0 7-2-10 0 6-1-6 0 4-2-2 0 3-1 4-1-3-1 2-1-8 0 1 0 3 0 6-1-10 0 1 0 1 0 2-1-1 0 6-1-4 0 2-1-2-1-5 0 3 0 5 0 1 0 1-1-8 0 1 0 6-1-9 0 3 0 6-1-3 0 2 0 2-1-10 0 3 0 2 0 3-1-8 0 9-1-5 0 4 0 3-1-3-1-8 0 3 0 1 0 5-1-8-1 1 0 5 0 1-1-8-1 1 0 4-1-3 0 7 0 1 0 1-1-7-1-4 0 4 0 2 0 1-1-2 0 6-1-6 0 3-1-7 0 1 0 1 0 1 0 6-1-6-1 1-1-5 0 6-1-3 0 6 0 1-1-9-1 2-1 2 0 4-1-5 0 1-1-3 0 1 0 4 0 1 0 1 0 2-3-10 0 4-1-3 0 7-1-9 0 2 0 8-4-5 0 6-1-4 0 2-1-1 0 2-1 1-4-4 0 4-2-6-3 1-2 2-1-5-1-1-1 8-4-8 0 9-2-8-1 2-8 4-1-6-5-1-4 4-11-2-1 3-5-7-17 10-80 10 83 2 3 0 4-4 2-1 3-1 4-1 5 3 10-2 2 4 2-4 1-4 0 5 5 2 1-1 3-4 0 2 1 7 2-9 1 0 3 5 2 3 1-7 0 7 1 0 1-1 2 0 0 1 1-3 0 3 1-10 0 6 0 3 1-7 0 1 0 4 0 1 0 2 1-8 1-1 0 3 0 5 2 2 1-5 1 3 1 2 2-10 1 2 0 7 0 1 1-11 0 3 0 3 0 2 0 3 1-8 0 8 1-7 0 3 1-7 0 4 1-2 0 7 1-7 0 1 0 7 1-8 0 6 1-6 0 1 0 1 0 1 0 1 0 2 0 2 1-9 0 1 0 4 0 1 0 3 1-8 0 3 0 4 1-8 0 7 0 2 2-8 0 1 0 4 1-7 0 7 0 1 1-2 0 2 0 3 1-11 0 1 0 5 0 4 1-10 0 4 0 2 0 1 1-7 0 6 1-2 0 1 0 4 0 1 1-6 1 0 0 1 0 2 0 2 0 1 0 1 1-10 0 1 0 2 0 2 0 3 0 1 1-8 0 4 0 3 1-7 1 2 0 2 0 1 0 2 1 1 0 1 1-11 0 1 0 5 0 4 0 1 2-9 0 3 0 1 0 2 0 2 1-5 1-4 0 6 0 1 1-8 0 11 2-10 0 3 1 0 0 5 1-1 0 1 0 1 1-4 0 4 1 1 1-3 1 0 2-8 0 3 2 6 2 1 1-8 0 1 0 4 3-4 0 2 3 1 3-5 1 10 1-10 3 2 8 7 3-2 10 1 2-8 5 3 6 1 18 6 96 1-95 4-15-3-6 6-11 2-5-6 0 4-9-7-5 11-7-10-7-1 0 11-1-6 0 1 0 3-3-7-1 0-2 1 0 6-1-9-1 1-3 3-1-2 0 1-1 1 0 2 0 5-4-10 0 1-1 2-1 3 0 3-1-6-1 1-1-4 0 8-1-1-1 1 0 1 0 1-1-8 0 1 0 1 0 1-1-4 0 3 0 5 0 1-1-11 0 1 0 7-1-6 0 4 0 3-1-8 0 9-1-10 0 3 0 6-1-9 0 3 0 4-1-6 0 2 0 1 0 1 0 2-1-2 0 3-1-8 0 3 0 8-1-8 0 2-1-4 0 7-2-6 0 2 0 2 0 3 0 1-1-9 0 2 0 2 0 1 0 2-1-4 0 6-1-10 0 2 0 2 0 1 0 5 0 1-1-11 0 2 0 1 0 1 0 3-1-3 0 7-1-7 0 6-1-7 0 1 0 1 0 2 0 1-1-7 0 5 0 3-1-9-1 3 0 3-1-3 0 1 0 5 0 1 0 1-1-1-1-7 0 2 0 2-1-2 0 3-1-5 0 7-1-9 0 5 0 5-1-11 0 1 0 1 0 2 0 6-1-10 0 5 0 3 0 1-2-9 0 4 0 2 0 5-1-2-1-7 0 2 0 1 0 3-1-8 0 8-1-8 0 2 0 3 0 4 0 1-1 1-1-4 0 1-1-4 0 3 0 1-1-7-1-1 0 1 0 6 0 4-1-8 0 3-2 0 0 4 0 1-1-10 0 1-1 6 0 3-1-5 0 1-1 1-1-8-1 2 0 5-2-5 0 2 0 5-2 1-1-3 0 1-1-2-1 3-2-9-2 11-2-8-7 0-6 3-1-4-3 2-6 1-8 0-5 4-13-3-4 9 18 7 4 0 3-1 6-5 2 5 5-9 0 5 0 2 1-6 1 2 0 6 1-8 1 9 1-1 1-7 0 5 1-1 2-3 2 1 1 0 0 7 1-10 0 4 2-1 0 4 0 1 1-4 0 1 0 3 1-4 0 3 1-6 2 5 0 1 1-2 0 1 1-1 0 2 1 0 1-2 1-5 0 6 0 3 1-7 0 1 1-4 0 2 0 2 0 1 0 2 0 1 0 3 1-5 0 3 1-4 0 3 0 2 1-3 0 3 1-8 0 3 1-4 0 5 1 2 1-4 0 7 1-11 0 6 0 5 1-11 0 3 0 3 1-2 0 7 1-10 0 8 0 1 1-10 0 1 0 1 0 5 1 1 1-3 0 5 0 1 1-8 1 0 0 3 0 1 0 4 1-8 0 8 1-11 0 4 0 1 0 5 0 1 1-7 0 3 0 3 1-8 0 1 0 1 0 6 1-5 0 3 0 3 1-11 0 1 0 2 0 5 1-5 0 2 0 5 1-9 0 1 0 5 0 4 1-11 0 3 1 2 0 3 1-3 0 5 1-9 0 4 0 3 1-7 0 1 0 1 0 6 0 1 1-8 0 2 0 4 0 2 1-10 0 1 0 4 0 4 0 2 1-10 0 7 1-3 0 1 0 1 1-6 0 7 1-7 0 8 1 1 1-7 0 1 0 1 0 3 1-7 0 3 0 3 0 1 0 2 1-10 0 5 0 1 0 1 0 1 1 0 1-7 0 5 1-4 1 7 1-9 0 5 1-4 0 10 1-2 0 1 1-4 0 1 0 1 0 3 1-11 0 1 0 10 1-4 1-3 0 2 3-6 0 2 0 6 0 1 2-7 0 6 1-4 0 1 0 2 0 4 1-8 0 3 1 2 3-7 11 9 4-5 2 5 3-3 1 2 7-8 15 4 2-2 9 6 23 7-24-4-10 8-16-2-13-4-4-2-4 9-1-6-1-2-1-1-1 11-2-2-3-7-1-2-1 3 0 4-1-4-1 5-2-6-3 6 0 1-2-7-1 9-1-3 0 2-2-3-1-3-1-3-1-1 0 2 0 1 0 3 0 2 0 2 0 1-1-7 0 5-1-6-1 2-1-4 0 1 0 4 0 3-1-9 0 7 0 4-1-6 0 2 0 2-1-7 0 5 0 4-2-6-1 2 0 3-1-10 0 3 0 1 0 1-1-1 0 3-1-3 0 2 0 3 0 2-1-11 0 11-1-9 0 4 0 4-1-9 0 4-1 3-1-4-1-1-1 5 0 3-1-11 0 1 0 1 0 3 0 1 0 2 0 3-1-7 0 5-1-6 0 3-1 1 0 2 0 1-1-8 0 2 0 4 0 1 0 2-1-8 0 4 0 1-1-8 0 7 0 2-1-9 0 2 0 7-1-4 0 2 0 3 0 1-1-11 0 7 0 2-1-8 0 1 0 6-1-4-1-2 0 1 0 2 0 4 0 1 0 1-1-9 0 2 0 5 0 1-1-10 0 7 0 2-1-6 0 4 0 4-1-8 0 6 0 1-1-8 0 1 0 6-1-1-1-4 0 2-1-4 0 6 0 3-1-5-1-6 0 2 0 5-1-2 0 3 0 2-1-10 0 7 0 3 0 1-1-9 0 4-1-5 0 5-1 0 0 4-1-9 0 1 0 4 0 2-1-5 0 1 0 1 0 2-1-6 0 1-1-1 0 1 0 5-1 1-1-6 0 4 0 1 0 2-1-4 0 3 0 2 0 1-1-11 0 6 0 3 0 1-1-9 0 6 0 4-1-9 0 5-1-5 0 6 0 3-1-10 0 6-1-2 0 5-1-2 0 1 0 1-1-5 0 1 0 3-1 1-1-8-1 4-1-1-1-1 0 1 0 1 0 4-2-10-1 3 0 2-1-1-1-4-2 6 0 1 0 3-2-7 0 3 0 3-2 2-1-4-8-2-18-4-17 3-14 0-1-4-31 11 25 3 20 7 5-2 3-1 1 0 1-3 1 6 6-2 3-7 2 8 6-4 0 7 2 0 2-3 2-2 0 4 1-10 1 10 2-7 3-3 0 2 0 4 2 4 4-2 1-4 0 1 2-2 0 2 0 1 1-1 1-4 0 2 2-3 0 6 0 3 1-9 0 11 1-3 1-7 0 4 0 2 1-5 0 1 0 4 0 1 0 1 0 1 1-6 0 2 2-6 0 5 0 2 0 4 1-6 0 2 2-7 0 7 0 1 0 2 1-7 0 1 0 4 0 2 1-10 0 1 1 2 0 4 0 2 0 1 1 0 1-8 0 1 0 3 0 4 1-3 0 1 1-3 0 1 0 1 1-7 0 3 0 1 0 3 1-6 0 3 0 1 1-4 0 6 0 1 0 2 0 1 1-9 0 5 0 1 0 3 1-10 0 2 1 0 0 2 0 6 1-3 0 2 1-8 1-1 0 4 1-3 0 9 1-11 0 6 0 3 1-6 1 0 0 3 0 4 1-10 0 8 0 2 0 1 1-11 0 4 0 2 0 5 1-11 0 3 0 1 0 7 1-10 0 5 0 1 0 1 1-4 1 0 0 7 1-5 0 4 1-10 0 1 0 4 0 4 0 1 0 1 1-11 0 4 1 0 0 4 1-8 0 2 0 4 0 2 1-8 0 7 0 1 0 1 1-8 0 1 0 7 0 1 1-8 0 4 0 5 1-10 0 1 0 8 1-7 1-2 0 4 0 2 0 3 0 1 1-8 0 1 0 1 0 1 1-1 0 3 1-7 0 1 0 3 1-3 0 9 1-11 0 10 0 1 1-7 0 1 2-4 0 9 1-7 0 2 1-5 0 8 1-8 1 2 1 8 1-8 0 3 1-1 1-4 0 2 0 9 1 0 3-8 1-2 2 0 1 8 1-5 0 1 0 6 1-10 0 9 1-10 0 8 10 1 1-8 1 3 5 0 7 0 45 6 53 10-61 1-17-5-11-3-16 0-16-1 0 4-3-3-4 7-1-8-4 2-1-1-1 3-1 1-1-1 0 2-1-5 0 6-1-6-2 6-1-1 0 4-2-10 0 5-2 2 0 1-2-3-1-1-1 5-1-6 0 5-1-7 0 3 0 2 0 1 0 1-1-6 0 2-2 0 0 2 0 3-1-9 0 5 0 4-1-7 0 1 0 6 0 1 0 1-1-1-1 0-1-10 0 1 0 1 0 1 0 7-1-8 0 3 0 1 0 4-1-10 0 3 0 3 0 5-1-6 0 6-1-8 0 8-1-7 0 4 0 3-1-11 0 1 0 2 0 4 0 1 0 1-1-8 0 4 0 2 0 4-1-7-1-1 0 4-1-7 0 1 0 5 0 3 0 2-1-6 0 1 0 4-1-6 0 1 0 4-1-4 0 6-1-11 0 4 0 2 0 1-1-7 0 1 0 1 0 2 0 1 0 2 0 2 0 1-1-8 0 1 0 1 0 5-1-9 0 5-1-5 0 2 0 3-2 3 0 2 0 1-1-8 0 3 0 3 0 1-1-10 0 1-1 2 0 7-1-9 0 2 0 4 0 3-1-8 0 2 0 1 0 5-1-10 0 1 0 5 0 1 0 1 0 1-1-3 0 5-1-7 0 7-1-9 0 2 0 1 0 1 0 3-1-8 0 5 0 3-1-8 0 4 0 5 0 1-1-10 0 2-1 4 0 4-1-7 0 2 0 4-1-2-1-8 0 2 0 3 0 5-1-7-1 1 0 2 0 1-1-7 0 6 0 5-2-6 0 3-2-6 0 4 0 5-1-7 0 6-1-1-1-7 0 1 0 5 0 3-2-10 0 1 0 3 0 3-1 1-1 2-1-8-1-3 0 3 0 3-1-3 0 6 0 1-3 1-2-3 0 2-2-6-2-2-5 3 0 5-5-8-4 3-2 5-1-5-1 5-3-8-1 7-2-8 0 6-13-1-28 13 7-4 3-2 14 5 1-2 5 2 5-6 2 4 4-3 2 0 0 6 1-2 8-3 1-2 2 6 0 4 1-5 4-1 0 6 1-4 1 2 0 3 1-11 1 8 0 1 2 0 0 1 1-1 2-8 0 1 0 5 1-2 0 3 1-1 0 1 0 3 1-11 0 5 0 4 0 2 1-10 0 2 0 8 1-9 1 5 1-4 0 1 1 1 0 4 2-9 0 3 0 3 0 5 1-10 1 1 0 5 0 2 0 2 1-10 0 2 0 8 1-6 0 5 1-7 0 8 1-7 0 1 0 4 0 1 1-8 0 2 0 2 0 1 0 2 1-8 0 6 0 1 0 1 0 1 1-9 0 6 0 1 1 0 1-5 0 3 0 3 1-2 0 1 1-8 0 6 0 2 1-3 0 1 0 1 1-4 0 5 1-4 0 4 1-7 0 3 0 5 2-6 0 4 0 2 0 1 1-5 0 4 1 2 1-8 0 1 0 2 0 4 0 1 1-6 0 1 1-3 0 1 0 3 0 1 1-7 0 6 0 3 1-9 0 1 0 3 0 1 0 1 1 1 1-7 0 2 0 7 0 1 2-6 0 1 0 2 1-7 0 9 1-6 1-3 0 6 1-6 0 1 0 2 0 7 1-11 0 2 1 2 0 1 0 4 1-7 0 8 1-9 0 7 2-8 0 1 0 2 0 4 0 3 1-9 0 3 0 3 1-6 2 0 0 5 0 3 1-6 0 1 0 2 0 3 1-9 0 4 0 7 3-10 0 3 0 6 1-9 0 1 1 4 1-6 1 3 0 3 2-3 1 0 0 6 2-4 2 0 0 2 1-6 0 4 2-3 8 9 1-6 6 1 7-6 2 0 2 7 11-5 16 2-15 12-5 4-9-5-2 2-19 0-12 0-2-2 0 1-1-3 0 3 0 5-3-7-1 2-1-1-2-3-2 0-2 11-1-10-1 5-1-4 0 5-1-7 0 4-1-4 0 2 0 3-1 3-1 1 0 1 0 1-1-9 0 9-1-8 0 1-1-2 0 2 0 2 0 4-1-7 0 7-1-5-1-4 0 2 0 3 0 2 0 3-1-10 0 5-1-5 0 5 0 2 0 1 0 2-1-8 0 5-1-6-1 3 0 3-1-6 0 1 0 3-1-5 0 3 0 2-1-3 0 2 0 4 0 1-1-10 0 6-1-1 0 2 0 1-1-3 0 3-1-8 0 2 0 6-1-8 0 1 0 2 0 2 0 3 0 3-1-8 0 1-1-2 0 9-1-11 0 2 0 5-1-7 0 5 0 1 0 3 0 2-1-9 0 5-1-7 0 2 0 4-1-3 0 2-1-4 0 9 0 1-1-8 0 1 0 4-1-5 0 4 0 4-1-9 0 9-1-9 0 2 0 4 0 1 0 1-1-9 0 1 0 3 0 1-1 0-1-4 0 4 0 2-1-6 0 5 0 4-1-9 0 1-1-3 0 4 0 1 0 4 0 2-1-10 0 4 0 2 0 3 0 1-2-5 0 4-1-7 0 2 0 3-1-8 0 4 0 7-1-8 0 7-1-10 0 6 0 1 0 1 0 2-1-8 0 7-1-9 0 1 0 3 0 2 0 4-1-7 0 1 0 2-1-4 0 5-1-7 0 1 0 6-1-5 0 7-1-9 0 2 0 1 0 8-1-9 0 6 0 1-1-4 0 2 0 3 0 1-2-10 0 5 0 4-1-9 0 5 0 2 0 3-1-9 0 7-2 2-1-5 0 4-2 0-1-4-2 5-1-3-1-6-1 5-1 2-2-9 0 9-1-3-1-2 0 6-2 0-1-9-3 10-3-1-38 10 6-6 9 9 3-4 1 3 1-5 8 6 3-4 3-3 1 1 1 0 2-3 0 4 0 1 2-3 1 1 0 2 1-5 1-2 1 2 0 6 0 1 1 0 3-5 0 4 3-8 0 10 1-4 0 2 2-3 0 4 1-6 0 3 0 4 1-8 0 3 0 1 0 4 1-3 0 2 1-6 0 4 1-5 1 0 0 4 0 4 0 1 1-2 1-8 0 2 0 2 0 2 0 3 1-2 1-5 0 5 0 1 1-7 0 4 0 1 0 2 0 1 0 1 1-11 0 2 0 5 0 4 1-3 0 3 1-9 0 2 1 0 0 3 0 1 1-7 0 3 0 1 0 1 0 4 1-9 0 3 0 1 0 1 0 1 0 2 1-9 0 1 0 8 0 1 1-6 0 6 1-1 0 2 1-11 0 1 0 3 0 6 1-5 0 1 0 5 1-10 0 7 0 3 1-7 0 6 0 1 1-11 0 10 1-10 0 1 0 4 0 2 1-7 0 2 0 6 0 3 1-10 0 1 0 8 0 1 1-11 0 4 0 3 0 1 0 1 1-8 0 3 0 5 1-7 0 4 0 3 0 2 1-8 1 2 0 5 0 1 1-11 0 1 0 4 0 2 0 3 1-10 0 2 0 2 0 1 0 3 0 3 1-4 2-4 0 2 0 2 0 2 1-9 0 4 0 4 0 2 1-9 0 1 0 7 1-3 1 2 1-5 0 2 0 1 1-6 0 5 0 5 0 1 1-4 0 1 1-7 0 9 1-10 0 3 0 5 0 2 1-2 1-3 0 1 1-4 1-2 0 2 1-2 0 1 0 2 0 3 0 3 1-1 1-8 0 8 1-4 0 5 0 2 1-11 0 6 0 3 1-7 0 1 0 2 1 1 1-5 0 4 2-2 0 6 0 1 1-8 0 9 2-8 2 4 0 2 7-9 4 3 0 3 1-6 0 6 0 1 3 2 2-7 3 6 4-8 2 6 3 5 4-11-5 14-20 8-2-1-4 1-7-5 0 5-5-3-2-3 0 1-1 0 0 2-1-4-1-1 0 9-1-6 0 6-1 0-1-10 0 1-1-2 0 2 0 3 0 3-1-1 0 3-1-6 0 4 0 1 0 1-1-9 0 4 0 4-1-7-1-2-1 5 0 2-1-3-1-4 0 1 0 3 0 1-1-4 0 1 0 3 0 6-1-2-1-4 0 3 0 2-1-8 0 2 0 4 0 2 0 1-1-11 0 7 0 3-1-4 0 4-1-4 0 1 0 4-1-10 0 2 0 8-1-9 0 1 0 1-1-3 0 1 0 5-1-7 0 8 0 1 0 1-1-5 0 4-1-9 0 3 0 2 0 4-1 1-1-7 0 4 0 1 0 1-1-7 0 4-1 0 0 3 0 1 0 1-1-7 0 3-1-5 0 1 0 1 0 1-1-2 0 6 0 1-1-8 0 1 0 2-1-2 0 3 0 2 0 2-1-10 0 6 0 3-1-7 0 6-1-8 0 2 0 1 0 3 0 4-1-2-1-5 0 1 0 4 0 3-1-5 0 1 0 1-1-4 0 5 0 1-1-8 0 1 0 6-1-6 0 1 0 4 0 1 0 1-1-7 0 4 0 2 0 2-1-11 0 2 0 4-1-5 0 7-1 1 0 1-1-8 0 2 0 4 0 2-1-6 0 1 0 3-1-8 0 5 0 1 0 1 0 2 0 2-1-9 0 2-1 5 0 2-1-11 0 1 0 4 0 6-1-10 0 1 0 1 0 6-1-5 0 2 0 1 0 1-1-3 0 3 0 2 0 1-1-9 0 3 0 5-1-9 0 7 0 3-1-9 0 3-1-1 0 6 0 1-2-10 0 8 0 1-1-8 0 6-1 3-1-10 0 5-1 0 0 1-1 0 0 3-1-2-1-7-1 1 0 8-2-9-1 5-1 2-1 2-1-8 0 9-2-11-7 0-2 2-2 1-1-1 0 3-6 0-2 2 8 5 2 8 0 2 4 0 1-6 0 6 2 1 1-8 0 1 1 3 0 3 2-6 0 1 2-3 0 3 1 4 1-2 0 4 1-4 1-4 0 6 1-8 0 2 1-1 0 5 0 1 0 3 1-10 0 5 1 4 1-8 0 8 1-8 0 2 0 2 0 3 1-9 0 1 0 4 0 5 1-9 0 4 1 0 0 3 1-4 0 2 1-6 0 2 0 6 0 2 1-10 0 1 0 2 0 1 0 4 0 1 0 2 1-10 0 1 0 3 1-3 0 1 0 3 0 1 1-4 0 2 0 3 0 3 1-5 1-3 0 3 0 1 1-6 0 1 0 3 0 5 1-9 0 1 0 2 1-2 0 2 0 5 1-9 0 4 0 1 1-3 0 3 0 6 1-7 0 3 0 3 1-9 1 6 1-4 0 4 1-3 0 3 0 4 1-9 0 1 0 1 0 1 0 2 0 2 0 1 1-7 0 6 1-9 0 7 1-6 0 2 0 2 0 6 1-10 0 4 0 3 1-6 0 4 0 3 1-8 0 1 0 7 1-8 0 10 1-11 0 5 0 1 0 2 0 2 1-8 0 8 1-4 0 3 1-8 0 2 0 2 0 1 0 3 1-9 0 1 0 1 0 2 1-4 0 6 0 4 1-4 0 1 1-6 0 2 0 5 0 1 0 1 2-5 0 6 1-9 0 2 0 5 0 2 1-9 0 5 0 3 1-8 0 9 1-11 1 0 0 1 0 6 0 4 1-11 0 4 0 2 1-6 0 2 0 2 0 4 1-7 1-1 0 1 0 4 1-2 1 5 0 2 1-5 0 4 2-8 2 2 5 3 0 1 2-1 1 3 2-7 0 9 6-11 4 3 3 8 4-3 6-6 0 4 2-2 40-2-16 16-18-1-2-1-4-3-12 7-14-7-1 9-3-6-4 0-3-2 0 2-4-4-1 7-1-3-1-3 0 8-2-4-1 0 0 4-1 2-1-10-1 3-2-4 0 9-1 2-1-9 0 2 0 4-1-7 0 2 0 2-1-1-2-3 0 2-1-1 0 6 0 2-1-9 0 9-1-9 0 3-1-4 0 3 0 1 0 2 0 3-1-9 0 1 0 3 0 3-1-7 0 1 0 3 0 4-1-2-1-5 0 3 0 4 0 1-1-5 0 1-1 0 0 2 0 4-1-9 0 8-1-7-1-3 0 6 0 3-1-7 0 1 0 2 0 5-1-10 0 5 0 3-1-6 0 6-1-4 0 3 0 1-1 3-1-10 0 2 0 4-1-1-1-5 0 4 0 3 0 1-1-5-1-4 0 1 0 7 0 2-1-9 0 2 0 7-1 0-1-4 0 5-1-11 0 2 0 9-1-11 0 3 0 3 0 5-1-11 0 3 0 1 0 4-1-4 0 1 0 1 0 3 0 1-1-10 0 8 0 3-1-4 0 3 0 1-1-1-1-8 0 1-1-2 0 4-1-4 0 1 0 4 0 2-1-7 0 6 0 1-1-6 0 7-1-9 0 2 0 2 0 5 0 2-1-8 0 1 0 5 0 1-1-6 0 7-1-10 0 5 0 4-1 1-1-8 0 8-1-8 0 6-1-6-1 2 0 1 0 1 0 1-1-6 0 5-1-1 0 5-1-10 0 4 0 4 0 1-2 0-3-9 0 9-1-5 0 1-1 4-1-5 0 6-1-10-5 2-1 1-2-1-2 6-2-7-9 9 3 3 2 4 2-5 2-1 0 2 3 8 2-3 1 2 1 1 1-5 1 2 0 1 0 2 1 1 1-8 0 7 1-9 0 1 0 3 0 6 1-11 0 5 0 6 1-9 2 0 0 3 0 3 0 1 1-1 0 1 0 2 1-10 0 7 1-5 0 6 1-9 0 4 0 3 0 3 1-8 0 3 0 6 1-8 0 1 0 1 0 3 1-8 0 2 0 2 0 6 1-6 0 1 0 6 1-6 0 4 1-8 0 1 0 2 0 1 0 2 0 3 0 1 1-11 0 2 0 1 1 1 0 4 1-5 0 2 0 5 1-6 0 5 0 2 1-11 0 3 0 1 0 2 0 5 1-10 0 1 0 1 0 1 0 4 1-8 0 6 0 1 0 2 0 1 1-6 0 4 1-8 0 3 0 6 1-5 1 0 0 3 0 2 0 1 1-5 0 3 1-7 0 7 1-7 0 1 0 4 0 5 1-6 0 2 1-3 0 1 0 1 0 5 1-9 0 1 0 1 0 4 0 1 0 1 1-10 0 6 1-6 0 9 0 1 1-6 0 4 1-8 0 7 0 1 1-8 0 4 0 1 0 1 1-5 0 1 0 2 1 1 0 1 0 4 1-6 0 4 0 2 1-9 0 9 1-3 1-3 0 1 0 5 1-9 0 1 0 8 1-5 1 1 0 3 1-9 0 3 1 5 1-8 0 1 0 2 0 1 0 3 0 3 1-4 0 2 1-8 0 1 0 7 2-4 0 5 1-8 0 2 0 3 0 3 1-8 0 3 1-4 0 10 1-10 0 6 0 4 1-4 1-2 1-4 0 6 1 1 1-3 2-4 0 1 2 8 1-6 0 2 1 1 3 3 2-5 2 1 1-5 0 1 6 1 3 0 4 6 2 2 2-2 31-7 6 8-32 3-5 9-9-8-1 0-6 10-6-5 0 1-3-5-4 7-3-8-6 1 0 2-4-1 0 4-1-3 0 5-1-5-1 6-2-7-1-1-2 7-1-7 0 3-1-5 0 2-1-1 0 5-1-6 0 8-1-5-1-3 0 2 0 5-1-7 0 1 0 4 0 4 0 2-1-9 0 1 0 2 0 6-1-6 0 4-2-7 0 1 0 3 0 2 0 2 0 1-1-11 0 4 0 1-1-4 0 3-1 0 0 7-1-10 0 3 0 1 0 5-1-10 0 5 0 4-1-7 0 5 0 3-1-9 0 3 0 3 0 3-1-8 0 4 0 3 0 2-1-10 0 1 0 3-1-1 0 4-1-8 0 5 0 1 0 1 0 1 0 1-1-5 0 2 0 1 0 2 0 1-1 0-1-8 0 3 0 4 0 2-1-9 0 3 0 1 0 4 0 1-1-5-1-6 0 3 0 2-1-3 0 6-1-4-1 6-1-8 0 3 0 3-1-6 0 1 0 5-1 1-1-6 0 8-1-11 0 1 0 5 0 3 0 2-1-10 0 1 0 3 0 6-1-10 0 1 0 5-1-4 0 2 0 1 0 1-1-4 0 5-1 2-1-5 0 3-1-8 0 1 0 5 0 4-1-6 0 4-1-4 0 3 0 3-1-10 0 3 0 8-1-2 0 1-1-7 0 2-1 6-1-6 0 2 0 2 0 2-2 0-1-5-2-5 0 3 0 4-3 3 3 1 1 6 1-6 1 10 1-7 0 4 0 1 0 1 0 2 1-8 0 3 0 5 2-8 0 4 0 2 1-4 0 3 0 2 1-2 1-7 0 1 0 1 0 1 0 3 0 3 1-9 0 4 0 2 1-7 0 6 0 2 0 3 1-11 0 2 0 3 0 1 0 4 0 1 1-11 0 5 0 1 0 2 0 3 1-11 0 4 0 1 0 2 0 1 0 3 1-7 0 3 0 4 1-10 0 1 0 1 0 2 0 1 0 1 1-1 0 1 0 3 1-10 0 4 0 2 0 1 1-5 0 7 1-9 0 5 0 1 0 4 1-3 0 1 1-6 0 2 0 5 1-4 1-4 0 3 0 3 1-5 0 2 0 1 0 2 1-7 0 1 0 5 1-6 0 4 0 3 1-5 0 3 1-4 1 5 1-5 0 1 0 8 1-9 0 5 1-2 0 5 1-7 0 5 1-2 0 2 2-7 1 0 0 2 0 1 0 6 1-7 1 3 1-1 3 0 0 1 1-5 0 4 0 4 3-8 0 5 7-2 1 0 8 0 17-2-36 13-20-1-2 2-6-3-1 0-4 0-1 1-1 0 0 4 0 1-1-5-1 0 0 1-1-2 0 2-1-1 0 1 0 1-1-3 0 2 0 1-1-2 0 1 0 1 0 2-1-5 0 1 0 2-1 0"/><path transform="scale(.5)" fill="none" stroke="none" marker-start="url(#mb)" marker-mid="url(#mb)" marker-end="url(#mb)" d="M3285 227l25-1 31 11-14 0-2-3-3 5-1-3-2-2-4 1-7-3-4 4-2-3-2-4-2 5-3-5-8 6-1-7-20 5-10-2-42 7 11 10 4-3 32-1 11-4 0 5 11 5 5-3 0 3 11 0 3-4 3-4 1 4 1-6 2 1 1 2 1 0 4 6 10-8 3 0 19 17-38-2-4 7-4 0-2-4 0 1-4 2-6-1-1-3-5-2-24 3-1 0-3-1-26-3-26-2 22 19 1 3 26-9 11 7 11 0 3-2 2 3 1-3 1-5 0 6 4-4 6-3 1 4 13-5 8 1 10 2 28 2-17 10-30 0-17 4-2-7-5 0-2 11-1-3-1-4-4 1-2 3 0 1-2-5-5-3 0 6 0 2-1-2-1-5-7 8-5-9-21 8-13-2-91 11 94-2 16 6 13-1 5-9 2 1 3 3 0 1 3-4 3 7 2-6 2-1 2 8 1-9 1 11 1-7 11 5 71-1-34 15-8-5-38 2-1-5-5-2-4 5-4-5-5 7-1-8 0 11-2-7-2-3 0 5-4 3-1-6-12 0-2 6-2 1-19-8-30-1 0 11 25 9 13-4 6 0 0 1 5-4 0 5 1 4 3-8 3 8 2-8 0 3 2-1 1 2 1 4 2-11 0 2 1 8 1-9 2 7 1-1 5 4 6-4 13 4 20-5 1-6 6 6 22 13-33 4-13-10-2 4-12 4-2-4 0 4-2 2-3-6-2-1-11-3-3-1-1 0-3 3-1-1 0 1-2-2-1-1-2 0-2 5-4 3 0 1-2-8-3 7-1-2-1 1-8-3-1-4-6 8-3-2-16 5-9-3-15 2-11-2-60 2-59-10 41 13 47 2 26 1 7 1 1-5 7 11 3-8 1 6 25 2 4-4 3-5 4 6 0 2 10-6 12 7 2 0 4-6 1 0 17 1 14-6 21 0-14 20-8-2-10-2-16 4-6-5 0 1-3-4 0 6-1 0-4-3 0 1 0 3-1 1-2-7-4 6-3-3-3-1 0 3-2 0-3 5-3-2-1 0-7-7-12 5-7 1-9-6-22 3-18-5-26 5-13 5-43 11 52-5 30-2 14 8 4-4 2 1 4-6 3 3 7 3 6 0 10-7 3 7 3-7 0 3 2 8 3-11 0 3 1-1 3 3 0 1 1 2 1-4 2 4 2-5 0 8 1-10 2 4 0 3 0 3 3-4 2-5 0 7 8-3 6-4 2 6 8 2 0 1 3-3 44-8-2 17-14 4-19-3-1 4-11-10-5 3-10-3 0 6-2 2-3-6-9 0-1-2 0 9-2-7-1 4 0 5-1-7-2 7-1-5-1-5-1 0-1 9-1-10 0 6 0 5-6-8-1 2-1-5 0 10-3 0-2-4-2 0-1 5-15-6-2-2-1 4-6-5-5 6-2-5-2 2-27 0-10 1-51 5-33 11 66-7 21-2 0 9 5-8 1 8 5 1 5 0 2-5 7-2 11 2 0 2 2-5 8-1 0 3 1 5 0 1 1-3 1-4 0 1 2-2 1 7 2-10 1 7 3 3 1-3 4-1 0 3 2-7 3 0 0 7 1 0 1-3 1 3 1-3 0 4 1-10 1 7 2-2 0 6 1-2 1 0 5-9 2 1 3 9 1-9 10 2 4 8 2-11 7 4 52-3 70 3-68 12-38-2-7 8-2-9-1 0-7 2-5 7-3-6-1-3 0 3 0 6 0 1-1-3-3-5 0 2-1 6-1-10 0 3-19 0 0 5-1-5-2 3 0 1-1-8-3 5-3-5 0 2 0 2-1 1-2-4 0 10-1-7 0 5-1-3 0 1 0 1 0 3-1-9 0 1 0 3-1-6 0 8-1-4 0 1-1 4-1-1 0 2-1-6 0 1 0 6-1-4 0 1-1-7 0 2 0 2 0 2-1-7 0 11-3-10 0 2-1 5-1-8 0 4 0 1 0 6-1-1-1-10 0 3 0 1-1 2-4 5-1-5-1-1-2 0-1 2-13-6 0 6 0 2-1 2-1-5-3-6 0 7-10 3-2-3-8 4-4-4-1-2-2-3-3-2-5 4-17-1-71 10 38 7 36-3 1 0 11-4 1 0 10-1 3 4 0 4 0 2 2-10 3 6 3 5 8-4 2 4 2-2 0 1 1-7 1-3 0 6 1-1 1 0 2-1 2 1 0 6 1-1 1 0 0 1 1-5 1-6 2 10 1-8 3 0 0 4 1 2 3 2 1 1 1-11 2 4 1-3 0 6 1-4 0 4 1-7 0 3 0 6 1 0 0 1 0 1 1-1 1-9 0 3 0 4 1-2 1-5 2 0 0 7 1-4 0 2 1-5 0 2 0 1 0 3 3-2 0 4 1-8 0 10 1-9 0 3 1-3 0 2 1-4 0 10 1-5 1 5 1-9 2 7 4-3 2-4 6-1 0 9 2-3 5-4 42 9 34 0-27 5-12 1-27 5-4-8-11-2-1 1-15 9-2-9-3 4 0 2-2-6-1 10-1 0-1-8 0 7-1-7 0 7-1-3-1-3-1 1-2 0-1-3 0 3 0 1-1-5 0 3 0 1-2-4 0 2 0 2-1 0-1-5 0 3 0 1 0 4 0 2-1-2 0 2-1-10-1 6 0 4-1-6-1-4 0 1 0 7-1-5 0 3-1 1 0 1-1-8 0 7-1-7 0 8 0 2-1-10 0 1 0 1 0 3 0 1 0 4-1-7-1 5-1-6 0 1 0 3 0 1 0 3-1 0 0 1-2-4 0 4-1-3-1-4 0 3 0 1-1-3 0 3-1 2 0 1-2-1 0 1-1-8 0 1 0 1-3-1 0 2-1 5-1-3-1-6 0 4 0 5-1-7-4 6-2-5 0 1-3 5-1-6-2-1 0 3-1-7-1 3-1-3 0 7-2-4 0 7 0 1-4-3 0 2-7-3-3 1-1 0 0 3-1 0-3-6 0 5-4-2-2 2-8 0-2-4-5-4-9 9-28-8-2 0-5 1 4 18 38 1 5-7 5 1 2 3 3 3 1-1 3-2 1-8 1 0 2 3 1 4 1 0 2-4 1 0 2 7 4-8 0 2 1-4 2 10 2-9 2-1 0 1 0 7 1-8 0 6 0 2 1-8 0 11 1-11 0 11 3 0 1-8 0 6 0 1 2-7 0 5 1-5 0 4 0 4 1-3 0 3 2-8 0 5 0 1 1-8 0 1 0 1 0 6 0 2 1-3 0 2 0 1 1-10 0 2 0 7 1-8 1 7 0 1 1-5 1 2 1 3 1-9 1 0 0 3 0 1 0 4 0 2 1-10 0 7 0 1 1-3 0 3 1-2 1-4 0 6 1-8 1 3 0 6 1-9 0 7 1-6 0 2 0 2 0 2 1-3 0 4 1-9 0 3 0 3 0 3 0 1 1-10 0 1 0 6 0 2 1-9 0 8 1-1 1-6 0 10 1-7 1 0 0 3 0 2 2-4 0 2 0 1 1-5 1-2 0 2 0 3 1-2 0 3 1-2 0 1 3-5 1 7 1-3 0 4 2-7 0 8 1-8 0 5 1-6 0 8 1-6 0 5 2-2 1 2 0 2 1-2 2-2 1 0 0 1 3 2 1-2 2 0 1 0 2-6 0 5 48 2 20 3-19 1-21 10-11-4-1 0-1-1-3-3 0 2-10 4-6-3-2 0-1-3-4-2 0 1 0 2-2-2 0 7-1-4 0 4-1-2-2-6-1 5 0 2 0 3-3-3-1-2 0 5-1-6-2 3-1-1-1 5-1-6 0 4 0 1 0 1-1-2-2-7 0 8-1-7 0 7-1-4 0 5-2-11-2 9-1-8 0 1 0 7-1-8 0 6 0 1-1-8 0 2-1-2 0 1 0 2 0 5-1-6 0 1-1-3 0 4-2 1 0 6-1-10 0 1 0 3-1-1 0 4 0 1-1-9 0 1-1 3 0 2 0 5-1-10 0 4 0 5-1-9 0 5 0 2-1-4-1-3 0 2 0 5-1-7 0 7 0 1 0 2-1-9 0 2 0 3-1 3-1-4 0 2-1-7 0 3-1 2 0 1-1-6 0 3 0 3 0 2 0 1-1-2-1-2-1-6 0 3-1 0 0 6 0 1-1-4-1-6 0 7 0 1 0 3-1-11 0 3 0 6-1-1-1-8 0 10-1-1-1-7 0 4 0 1-1-1 0 3-1-5 0 6 0 1-1-11 0 3 0 2 0 4 0 1-2-6 0 2-2-5 0 5-1-1 0 1-1-1 0 2 0 4-1-9 0 6-1-2-1-1 0 2 0 4-1-11 0 5 0 6-3-4 0 2 0 2-2-5 0 2 0 3-2-6-2 4-1-2-2-4-1 5-2-5-4-3-2 3-1 0-1 4-7 3-4-1-17-6-17 19 2 1 11-11 0 3 5 2 2-2 3 6 2-1 7-1 8 2 1-7 2 5 2-7 4 5 1 5 1-3 1-6 0 10 1-3 2-7 0 1 1 1 2-1 1 8 0 1 1-8 0 4 1-2 0 6 1-9 0 3 1-2 0 4 1 3 0 1 2-1 0 1 1-11 0 5 1-1 0 6 1-4 0 1 1-4 1 0 0 5 0 1 0 2 1-7 1-3 0 1 0 1 1 0 0 1 0 4 1-6 0 2 0 6 1-7 0 1 0 6 0 1 1-11 0 1 0 3 0 7 1-10 0 2 0 3 0 4 1-7 0 1 0 3 0 4 1-10 0 6 0 2 1-5 0 5 1-6 0 4 0 1 0 3 1-9 0 6 1-8 0 6 1 0 0 3 1-7 0 6 0 1 1-3 1-6 0 3 0 6 1-7 0 5 0 1 0 1 1 0 1-9 0 3 0 3 0 1 0 2 0 2 1-8 0 5 0 2 0 1 1-10 0 2 0 2 1-5 0 11 1-11 0 8 1-8 0 8 1-6 0 2 0 5 1-9 0 3 0 2 0 6 1-4 1-4 0 1 1 1 0 3 0 2 1 0 1-8 0 3 1-1 0 6 1-10 0 1 1 0 0 6 1-7 0 2 0 1 1-2 0 1 0 5 0 1 1-4 0 2 2-4 0 3 0 2 3-1 1-6 1 11 2-11 3 1 0 6 6-6 0 8 0 1 1-2 2 0 3 1 9-6 2-2 4 5 1 2 4-2 6-6 5 6 3 2 16 2 39-6-37 10-5 7-7-2-8 0-16 4-19-8-1 8-8 0-3-10-2 2-1-2 0 1-2 3-1-5 0 5-2-5 0 11-3-10 0 2-1-2 0 1 0 4-1 4-1-8 0 5-2 2-1-9 0 8-1-7-1 1 0 5 0 4-1-10 0 2 0 1 0 2 0 3-1-8 0 2 0 4-1-5 0 1 0 2-2-4 0 2-2-2 0 2 0 2 0 5-1-1-1-6 0 2 0 5-2-5 0 2 0 1-1-7 0 2-1-1 0 1 0 3 0 4-1-10 0 1 0 2 0 1 0 7-1-8 0 2 0 3 0 3-1-9 0 1 0 8-1-10 0 2 0 5 0 1 0 2-1-11 0 4 0 3 0 2-1-8 0 1 0 3-1-4 0 4-1-3 0 1 0 3 0 3 0 2-1 0-1-7 0 1-1-4 0 5 0 3-1 1-1-7-1-3 0 5 0 2 0 1 0 3-1-11-1 3 0 4 0 4-1-8 0 5-1-2 0 3 0 1-1-6-1-3 0 2 0 6 0 2-1-11 0 3 0 2-1-4 0 5 0 4-2-9 0 8-1-4 0 2-1-7 0 1 0 2 0 2 0 2-1-5 0 1 0 7-1-7 0 1 0 4 0 1-1-5 0 1 0 3 0 2-1-10 0 7-1 1 0 2-1-7 0 7 0 1-1-4-1-5 0 3 0 2-1-4 0 7-4-1-1-9-1 1 0 7-1-8 0 7-2-2 0 1 0 4-1-8 0 5 0 3-1-7-1 5-1-8-3 11-4-7-1 4 0 3-2-10-2 1-3 6-2-2-2 0-2 3-9 2-10-5-16-5-28 9-9 11 18-7 6 4 15-6 3 10 5-2 1 0 14 2 2-1 0 2 6 0 2-3 1-4 0 1 1-5 4 9 0 1 2-7 2 0 4 8 1-11 1 2 0 8 1-3 0 2 0 2 1-10 2 0 0 3 0 2 1-2 0 1 0 4 1-6 0 7 0 1 1-7 1 1 0 1 0 2 0 3 1-10 0 5 0 1 0 1 0 1 1-7 0 5 0 1 1-8 0 8 1-8 1 8 1-8 0 1 0 7 1 3 1-6 0 1 0 5 1-9 0 2 0 6 0 1 1-11 0 1 0 1 0 5 1-1 1-5 0 3 0 2 0 3 0 1 1-2 0 1 1-6 0 2 0 6 1-4 0 3 1 0 1-10 0 1 0 4 0 3 1-7 0 6 0 2 1 1 1-7 0 3 0 2 0 3 1-11 0 2 1 2 0 2 0 3 0 1 1-7 0 3 0 3 1-8 0 5 0 1 0 1 1-8 0 1 0 5 1-4 0 1 0 2 0 3 0 2 0 1 1-11 0 5 0 3 0 1 0 2 1-10 0 1 0 2 0 5 1-7 0 4 1 0 0 3 1-8 0 4 0 3 1-7 0 7 1-6 0 3 0 4 0 1 1-10 0 1 0 6 0 1 1-6 0 1 0 2 0 6 1-1 1-10 0 2 0 3 0 3 0 1 1-9 1 2 0 3 0 1 0 1 1-2 0 2 0 2 0 1 1-4 0 3 0 2 1-2 0 2 1 0 1-10 0 2 0 1 0 3 1-6 1 1 0 2 0 2 0 2 1 1 1-5 0 2 1-6 0 4 1 3 0 1 0 1 1-2 1 2 0 1 2-5 0 1 1 1 4-6 1 1 1 3 0 3 0 3 6-3 3-8 2 9 1-3 2 1 3-1 0 1 0 3 8 0 2-5 8-4 7 3 22 18-17-6-10 1-18-1-3 1-6 4-3-8-1 8-2-4-2 1-1 5-1-11 0 3 0 4-1-6-3 3-4 1 0 5-1-4-2-2-1-1-1-2 0 4 0 5-1-4 0 4-1-10 0 3 0 2-2 0 0 2 0 2-2-8 0 4-1-5 0 3 0 4-1-2 0 3 0 1-1-7 0 3 0 1 0 3-1-8 0 4 0 5-2-9 0 2 0 1-1 3 0 1-1 1 0 1-1-2 0 1 0 2-1-11 0 2 0 9-1-10 0 4 0 2-1-4-1 2 0 3-1-8 0 8-1-8 0 6-1-4 0 2 0 4 0 3-1-10-1 6 0 3 0 1-1-11 0 4 0 6-1-7 0 1 0 2 0 2 0 3-1-4 0 1 0 1-1-9 0 4 0 2-1-6 0 1 0 3 0 3-1-2 0 3-1-3-1-4 0 8-1-5 0 6-1-9 0 1-1 0 0 2 0 2 0 1-1-4 0 3 0 3-1-8 0 1 0 2 0 2 0 2-1 0 0 1-1-2 0 2 0 1-1-9 0 1 0 3 0 1 0 5-1-11 0 2 0 2 0 2 0 1 0 1-1-5-1-2 0 5-1-6 0 10-1-9 0 4 0 1-1-4 0 7-1-8 0 8-1-5 0 3 0 3-1-8 0 5 0 3-1-6 0 5-1-8 0 5-1-5 0 3 0 4 0 1-2-3 0 3-1-7 0 1 0 1 0 1 0 4-1-7 0 3 0 2 0 4-1-9 0 3-1 3 0 2 0 1-1-11 0 2-1-1-1 3 0 2-1 3 0 2-1-7 0 3 0 1-1-5 0 2 0 5-1-9 0 7-1-1 0 3-1-8 0 6-1-6 0 2 0 7-2-5 0 3-1-8 0 10-2-7-2 7-1-5-1-3-1-3 0 2-2 1-2 3-3-5 0 5-2 4-2 0-2-8 0 2-1-2-2 2-1-2-1-2-5 7-2-5 0 6-5 1-2-4 0 5-6 1-8-6-6-2-17 8-12-11 19 20 14 2 5 0 0 1 10-5 0 5 5-5 1 1 2 1 2-3 5-4 0 1 1-1 1 7 1-7 0 10 3-2 4-9 0 6 0 1 0 1 1-8 0 7 0 3 2 0 1-7 1-2 1-1 0 6 1-1 0 1 0 2 2-7 0 2 0 4 0 2 0 2 3-6 0 2 0 3 1-9 0 3 0 2 0 3 0 1 1-9 0 9 2-5 0 6 1-8 0 2 0 3 0 1 0 2 1-11 0 1 0 1 0 1 0 3 0 2 1 3 1-3 0 3 1-5 0 1 0 1 0 1 1-3 1-1 0 1 0 1 0 4 1-8 0 2 0 5 1-10 0 3 1 1 1-3 0 4 0 3 0 2 1-7 0 2 0 1 0 3 1-9 0 2 0 6 0 1 0 1 1 0 1-10 0 4 0 1 0 5 0 1 1-6 0 5 1-9 0 2 0 2 0 4 1-9 0 5 0 1 0 3 0 2 1-3 1-6 0 1 0 1 0 1 0 2 1-7 0 1 0 6 0 2 1-1 1-3 0 2 0 4 1-11 0 3 0 1 1 6 1-6 0 1 0 2 0 1 0 2 1-4 0 2 1-8 0 1 0 2 0 6 0 1 0 1 1-11 0 3 1-3 0 3 0 1 0 4 1-8 0 1 0 2 0 2 0 1 0 4 1-10 0 1 0 1 0 6 1-5 0 3 1-5 0 6 0 1 0 3 1-10 0 2 1-3 0 5 0 1 0 5 1-11 0 10 1-9 0 4 0 2 0 1 1-7 0 9 1-6 0 2 1-6 1 1 0 4 0 6 1-8 0 1 0 4 0 1 0 1 1-10 0 8 0 2 2-9 0 2 0 4 1-7 0 5 0 6 1-6 0 1 1-6 0 8 0 3 1-1 1-6 0 7 1-10 0 5 2-3 1-3 1 1 0 2 0 7 1-10 0 1 0 2 0 4 0 3 1-4 1 0 1 0 0 1 1 0 0 2 1-5 0 4 0 3 1-2 5-2 1 4 2-3 1 1 1 1 2-7 0 5 3-8 1 0 1 4 1-2 0 6 6-5 5-3 3 5 12 5 18-7 1-1-29 20-1-3-3 4-8-8 0 8-2-1-4-5-4-3-3 5-2-6-1 2 0 3-3-5 0 4 0 6-4-5 0 3 0 2-2-11 0 1 0 6-5 3-2-10-1 6 0 3-1-1-1-7-1 1-1 7-1-1 0 1-1-5 0 2-1-5 0 3-1 6-1-3-1-5 0 7-1-3-1-5-1 2 0 3 0 3-1-7 0 6 0 2 0 1-2-10 0 4 0 1 0 2-1 0-1-8 0 2 0 4 0 2-1-6 0 1 0 3 0 5-1-1-1-6 0 6-1-10 0 3 0 4-1 0 0 4-2-10 0 4 0 2 0 3-1-7 0 7-1-5 0 3-1-6-1 5 0 3-1-10 0 4 0 3-1-6 0 1 0 3 0 5-1-9 0 3 0 4-1 1-1-6 0 5-1-8 0 1 0 4 0 1 0 4-1-10 0 6-1-2 0 1 0 2-1-4-1 6 0 2-1-11 0 1 0 2 0 4 0 2 0 2-1-10 0 6-1-5-1-1 0 3 0 5-1-5 0 1 0 4-1-4 0 2-1-6 0 6 0 2-1-7 0 8 0 1-1-7 0 3-1 4-1-10 0 4 0 4-1-6 0 4-1-7 0 2 0 1 0 5-2-4 0 1 0 1 0 1-1-2 0 1 0 2 0 2-1-9 0 7-1-7 0 2 0 1 0 1 0 4-1-9 0 9 0 1-1-8 0 2 0 3-1-7 0 6 0 1-1-2-1-4 0 9-1-10 0 3 0 3-1 1 0 3-1-5-1-1 0 5 0 1-1-10 0 11-1-7 0 3 0 1-2-5 0 3-1 1 0 3-1-9 0 2-1-1 0 6-1-2 0 5-1-2-1-4 0 6-1-3-1-1 0 3 0 1-2-1-2-5-1-5 0 6-2-6-1 11-1-4 0 4-1-10-1 2-2 4-5 3-2-7 0 1-4-4-6 2-5 5-1 3-20-1-5 2 4 2 4 4 13 1 1 0 4-4 2 6 5-6 1 1 1-2 1 7 1 0 0 3 1-2 2-3 1 1 5-7 0 6 0 1 0 3 0 1 2-7 1 5 0 2 1-11 0 1 0 3 2 1 0 4 1-6 0 1 0 2 2-2 1-1 0 4 1-1 1 0 1-5 0 4 0 2 0 1 1-2 0 2 0 1 1-2 1-3 0 5 0 1 1-5 0 5 0 1 1-7 0 6 0 1 1-3 0 1 0 2 1-10 0 8 0 2 1-3 0 1 0 2 1-5 0 1 1-7 0 4 0 1 0 2 1-4 0 1 0 1 0 1 0 4 1-8 0 7 1 2 1-11 0 4 0 1 0 3 1-7 0 6 0 1 1-6 0 1 2-3 0 1 0 9 1-5 0 1 0 5 1-10 0 3 0 1 0 1 0 2 0 2 1-7 1 1 0 1 0 1 0 5 1-4 0 3 0 1 1-11 0 3 0 3 0 3 0 1 1-10 0 2 0 7 0 2 1-9 0 5 0 1 0 1 1-8 0 2 0 3 0 2 0 2 1-5 0 1 0 2 0 1 1-9 0 1 0 4 0 1 0 3 1-8 0 1 0 1 0 2 0 3 0 2 0 1 3-8 0 4 0 2 1-3 0 3 1-7 1 7 0 2 1-10 0 1 0 1 0 2 0 1 0 1 1-7 0 8 1-4 0 3 1 4 1-10 0 1 0 2 0 2 0 1 0 1 0 2 1-6 0 2 0 5 1-9 0 8 1-7 0 1 1-1 0 4 1-7 0 1 0 1 0 7 0 1 0 1 1-10 0 2 0 5 1 1 0 1 1-9 0 1 0 1 0 3 0 2 1-7 0 5 1-3 0 2 0 6 1-4 0 1 0 2 0 1 1-10 0 2 0 4 0 1 0 1 1-6 0 2 1-4 0 9 1-10 0 7 1-3 0 1 0 5 1-8 0 9 1-11 0 11 2-7 1-4 0 2 0 1 0 6 0 1 3-8 0 7 2-4 0 2 1-1 1-4 1 0 0 5 1-7 0 4 2-4 1 1 0 6 1 0 2 3 0 1 1-8 1 6 1-8 2 0 3 7 1-7 9 4 0 6 46-10 44 3-49 11-44-1-1 9-2-4-4-7-3 3-2-3-1 2-5 7-1-9-1 4 0 6-4-2-1-3-2-2-2-1 0 5-1-7 0 10-1-8 0 5-2 4-1-4-2-5-1 2 0 3-1-4-1-1 0 7-1-1-1 1-1-4 0 3 0 1 0 2-1-9-1-2 0 1 0 1-1-2 0 11-1-8 0 7-1-8 0 2 0 1-1-4 0 6 0 2 0 2-1-9 0 2-1 3-1-5 0 2-1 1 0 1 0 3-1-8 0 4 0 5-1-9 0 9-1-5 0 1-1-1 0 1-1-4 0 2 0 4-1-2 0 5-1-9 0 4-1-6 0 8-1-7 0 6 0 3-1-6 0 1 0 1-1-4 0 1 0 2 0 1 0 2 0 3-1-2-1-8 0 5-1-2 0 4-1-6 0 3 0 1-1-5 0 2 0 1 0 1 0 1 0 3 0 1-1-5 0 2-1-4 0 5 0 3-1-11 0 1 0 1 0 5-1-2 0 3-1-8 0 2-1 5 0 4-1-11 0 1 0 3 0 1 0 1 0 3 0 1 0 1-1-5 0 2-1-4 0 7-1-11 0 8-1-1 0 2 0 2-1-9 0 7-1-7 0 4 0 5-1-4-1-2-1-5 0 2 0 1 0 7-1-3-1 3-1-9 0 4 0 3-1-6 0 5 0 1 0 3-1-10 0 1-1-1 0 3 0 1 0 1 0 1 0 4-1-6 0 1 0 1 0 3 0 1-2-5 0 2-1-7 0 8-1-9-1 5 0 1-1-6 0 4 0 1 0 1 0 2 0 1-1-5 0 7-1-9 0 2 0 2 0 1 0 3-1-3-1-4 0 1-1 3-1-5 0 1 0 2-1 1 0 5-1-6 0 4-2-5 0 5 0 1-1-4 0 2 0 3-1-5-1 5-1-8 0 6 0 1-2-5 0 1 0 1-1-7 0 2-1 4-1-4 0 4-1-4-3 8-1 0 0 1-1-9 0 6 0 2-1-4 0 1 0 4-1-10-1 6-2-4-4-3 0 11-5-2-16-3-9-6-7 8 14 11 10 2 1 2 4-1 2-8 2 3 0 1 2-5 6 3 0 2 1 1 1-4 0 4 1-2 0 4 0 1 1-8 0 4 0 4 0 1 1-5 0 5 1-8 0 3 0 2 1-4 0 2 2-1 0 6 1-7 0 2 0 4 1-9 0 7 0 1 0 1 1-5 1-5 0 1 1 4 1-4 0 2 0 1 0 3 0 2 1-5 0 3 1-7 0 9 0 1 1-8 0 4 0 1 1-2 0 1 0 3 1-9 1 0 0 2 0 8 1-4 0 4 0 1 1-11 0 10 0 1 1-10 0 4 0 3 1-7 0 2 0 2 1-5 0 7 0 1 0 1 1 1 1-9 0 1 0 1 0 1 0 4 0 2 0 1 2-8 0 1 0 6 1-9 0 5 0 1 1-3 0 2 0 4 1-10 0 2 0 2 0 4 0 2 1-10 0 4 0 1 0 5 0 1 1-3 1-7 0 2 1-3 0 7 0 1 1-8 0 1 0 7 1-8 0 5 0 5 1-4 0 1 1-4 0 2 0 6 1-11 0 2 0 8 0 1 1-10 0 2 0 4 0 1 2-3 0 1 0 1 0 1 0 1 0 2 1-9 0 1 0 2 0 1 0 2 0 1 1-9 0 1 0 2 0 1 0 3 0 1 1-3 0 5 1-8 2 1 0 3 0 2 1-5 0 2 0 4 1-6 0 3 1-1 0 5 1-9 0 1 0 1 0 4 0 2 1-3 0 1 1 3 0 1 1-10 0 3 0 7 1-11 0 6 1-4 0 4 0 4 1-6 0 6 1-10 0 1 0 1 0 1 0 5 0 3 1-8 0 6 0 2 1-10 0 1 0 2 0 3 0 2 1 0 1-2 0 1 0 2 1-10 0 6 0 2 1-5 1-2 0 6 1-7 0 4 1-3 2 2 0 5 1-7 1 0 1-1 0 2 0 5 2 4 1-9 0 9 1-8 1-3 2 11 1-6 3 2 0 1 1 0 6-4 3 1 1 3 1 0 10-1 0 4 10-8 10-2 4 7-3 6-4-1-9 3-3-3-9 0-8 0-3 6-4-3-3 7-2-1-1-6-3 5-1-7-2 7-1-4-1 1 0 3-3 1-4-9 0 3-3 1 0 3-1 0-1-3-1-3 0 2 0 1-1-5 0 4 0 5-1-5 0 3-1-3-1 3-1-7-1 3 0 6-1-7 0 1 0 1-1-4 0 2 0 3 0 2-1-6 0 1 0 4 0 2-1-7 0 1 0 7-1-2 0 3-1-9 0 4-1-5 0 5 0 4-1-8 0 3 0 4-1-3 0 2 0 1-1-8 0 4 0 2 0 3-1-6 0 3-1-5 0 4 0 2-1-6 0 5 0 2 0 3-1-6 0 1 0 2-1-5 0 6 0 1-1-9 0 3-1 0 0 3 0 2 0 1 0 1-1-10 0 2 0 2 0 1-1 0 0 1 0 1-1-7 0 2 0 1 0 1-1 1 0 1 0 4-1-8 0 6-1-7 0 3 0 6-1-9 0 3-1-5 0 1 0 3 0 2 0 3-1-9 0 8-1-7 0 1 0 9-1-9 0 3 0 2-1-7 0 3 0 3 0 1 0 4-1-8 0 1 0 3 0 4-1-8 0 1 0 1-1-1 0 2 0 4-1-10 0 4 0 7-1-11 0 8-1-8 0 3 0 5 0 3-1-9 0 1 0 1 0 5-1-9 0 4-1-3 0 7 0 3-1-7-1-1 0 3 0 1 0 2-1-9 0 1 0 5 0 3-1-9 0 5 0 1-1-3 0 2 0 6-1-8 0 5-1-8 0 2 0 8-1-10 0 6-1-6 0 5 0 2-1-7 0 7 0 3-1-8 0 3-1-5 0 4 0 1 0 3 0 1-1-9 0 11-1-9 0 8-1-5 0 2 0 3 0 1-1-4 0 3-1-10 0 2 0 3 0 3 0 1 0 1-2 0-1-10-1 5-1-1 0 1-1-5 0 6 0 4-1-9 0 4-3-4 0 6 0 3-2-8 0 1-1 6-1 0-2-2 0 3-1-3-3-4-6 4-10-6-6 8-1-2-1 2-6-6-2 1 16 18 2 1 2 0 4-9 1 4 1-1 1 0 1-4 5-1 0 9 0 1 1-3 1 1 1-7 0 3 0 1 2 3 0 2 1-5 1 2 0 1 0 3 2-9 0 2 0 6 1-6 1-3 0 6 1-3 0 6 1-3 0 4 1-8 0 1 0 3 0 3 0 1 1-8 0 1 0 6 2-8 0 1 0 1 0 1 0 1 0 3 1-4 0 3 0 1 1-7 0 2 0 4 0 2 1-1 0 1 0 1 1-10 0 1 0 1 0 3 0 2 0 3 1-7 0 1 0 3 0 2 1-4 0 4 1-10 0 11 1-8 0 2 0 1 0 1 0 4 1-9 0 8 1-5 0 3 0 2 1-10 0 2 0 6 1-7 0 4 0 1 1-3 0 2 0 4 0 1 0 1 1-10 0 1 0 2 0 3 0 3 1-8 0 6 0 1 0 2 1-10 0 1 0 4 1-6 0 7 1-7 0 5 0 3 0 2 1-10 0 3 0 5 1-3 0 1 0 4 0 1 1-6 0 1 0 3 1-8 0 2 0 1 0 4 1-8 0 2 0 2 0 4 2-8 0 4 0 1 0 2 1-5 0 1 0 4 0 4 1-10 0 2 1-2 0 3 0 4 1-4 0 7 1-10 0 4 0 1 0 2 0 1 0 2 1-9 0 5 0 1 1-2 0 3 0 1 1-9 0 1 0 1 0 1 0 5 1-9 0 4 0 3 0 3 0 1 1-7 0 5 0 1 1-1 0 1 1-7 1 3 1-6 0 6 1-2 0 3 1-3 0 6 1-8 0 2 0 4 0 3 1-3 1-8 0 7 0 3 1-8 0 2 0 5 0 2 1-11 0 10 1-7 1-3 0 5 1-2 0 1 0 1 0 2 0 2 0 2 1-9 1 7 1-9 0 10 1-8 0 8 0 1 1-9 1-2 0 3 0 4 1-6 0 2 0 1 0 4 0 1 0 2 3-10 0 7 1-6 1 0 1-1 0 4 4 3 7-4 3 6 1-10 1 6 3-3 1 0 14 0 6 5 37 0 7-5-46 13-18 1-10-2-1 0-6 7-4-8-1 3-1-4-4 4-1-3-3 0 0 7-2-1 0 2-1-10 0 3 0 2-1-3-1 3-1-5 0 10-1-8-1-1-1 1 0 1 0 8-3-10 0 10-1-11-1 0-2 2 0 1-2-3 0 5 0 3 0 2 0 1-1-6 0 4-1-9 0 1 0 1-1 0 0 1 0 3-1 1-1 4-1-9 0 5 0 2 0 1-1-9 0 1 0 1 0 3 0 1 0 1 0 3-1-8 0 5 0 1-1-9 0 4 0 6-1-9 0 1-1-2 0 7-1-3 0 1 0 1 0 5-1-6 0 1 0 1-1-4 0 1 0 2 0 2 0 3-1-11 0 4 0 1-1-3 0 2 0 4-1-1 0 2 0 2-1-5 0 4-1-7 0 7-1-10 0 2 0 3 0 3-1-7 0 4-1-2 0 6-2-9 0 1 0 5 0 1 0 1-1-3-1-5 0 4 0 5-1-6 0 2 0 3 0 3-1-11 0 2 0 8-1 1-1-11 0 1 0 1 0 3 0 1 0 1-1-7 0 8-1-4 0 1 0 1 0 2 0 1-2-7 0 9-1-6 0 1 0 3 0 1-1-10 0 3 0 2 0 4-1-5 0 1 0 5-1-8 0 4-1-1 0 2-1-6 0 3 0 1 0 6-1-10-1 3 0 2 0 1 0 2-1-7 0 6 0 2-1-9 0 1 0 6-1-2 0 4 0 1-1-10-1 2 0 1 0 4-1-2 0 2-1-8 0 8 0 2-1-8 0 3 0 5-2 1-1-3-1 3-1-10-1 0 0 8-1 0-1 0-1 2-5-11 0 3-2 7-4 1-1 0-6-10-5 3-3 19 1-1 1-10 2 2 2 3 0 5 1 0 1-8 0 6 3-3 0 5 1-1 2-7 0 1 0 5 1-8 0 8 1-3 1-5 0 9 1-7 1 1 0 2 0 5 1-3 0 2 1-9 0 7 1-7 0 8 0 1 1-8 0 5 0 2 1-7 0 2 0 5 0 1 1-7 0 9 2-8 0 3 1-5 0 2 0 5 1-5 0 2 0 2 1-6 0 8 1-2 0 1 1-5 0 3 0 1 0 4 1-4 1-5 0 4 0 5 1-8 0 4 0 3 1-10 0 3 0 2 0 4 1-7 0 1 1 7 1-10 0 5 0 3 0 3 1-8 0 6 0 2 1-8 0 1 0 3 1-3 0 5 1-9 0 5 0 4 1-6 0 8 1-5 0 5 1-6 0 1 0 1 0 4 1-11 0 1 0 1 0 1 0 1 0 7 1-8 0 1 1 2 0 1 0 1 0 2 0 1 1-9 0 7 1-9 0 4 1-2 0 4 0 4 1-1 0 2 1-9 0 4 0 1 0 1 0 1 1-9 0 1 0 4 1-5 0 5 1-5 0 5 0 2 0 3 1-10 0 4 0 5 0 1 1-10 0 4 0 5 0 2 1-10 0 1 0 1 0 3 0 5 1-9 0 1 0 5 0 2 1-10 0 4 0 4 0 3 1-3 1-7 0 3 0 2 1-6 0 2 0 2 0 5 1-3 0 1 1-3 0 4 1-7 0 3 0 2 1-3 0 1 0 3 0 1 1-6 0 3 0 5 0 1 1-8 0 2 2-4 1 0 0 3 1-1 0 5 1-7 0 6 0 4 1-7 0 4 1-6 0 3 2-2 1-3 0 4 0 4 2-2 0 2 0 1 2-3 0 3 2 0 1-9 0 4 1-3 1-1 1 8 1-4 1-4 0 6 2 3 1-2 6 2 5-1 1-4 30-4-15 18-9-3-14 2-5-5-10 7-2 1-1-8-3 9-1 2-5-4-2-7 0 2 0 6-1-6-1 2 0 1 0 5-1-10-2 1 0 6 0 2-1-6 0 3 0 2-1-5 0 2 0 5-1-2 0 1-1-1-1-1-2-2 0 1 0 1-1-6 0 3 0 2 0 1 0 1-1-8 0 2 0 1 0 1 0 2-1-5 0 3-1 0 0 2 0 3-1-2-1-7 0 3 0 1-1 1 0 6-1-1-1-9 0 7 0 2-1-9 0 3-1 0 0 1 0 5-1-8 0 6 0 1-1-9 0 3 0 3 0 1 0 2 0 1-1-8 0 5-1-6 0 4 0 2-1-4 0 1 0 6-1-8 0 8-1-8 0 5 0 3-1-3 0 1 0 1 0 2-1-9 0 2 0 3-1-7 0 1 0 2 0 2 0 1-1-2 0 2 0 5-1-7 0 2 0 4-1-7 0 3 0 5-1-11 0 4 0 1 0 3 0 3-1-9 0 6-1-2-1-3 0 6-1-7 0 1 0 2 0 2-1-7 0 1 0 8 0 1 0 1-1-4-1-5-1 2 0 1 0 1 0 3-1-8 0 3 0 2-1 0-1 0 0 4 0 1-1-10 0 4 0 5 0 1-1-10 0 5 0 4-1-9 0 9-1-9 0 1 0 2 0 7-1 0-1-8 0 3 0 3-1 2-2-10 0 3 0 5-1-1-1-7 0 1 0 4-1-4-1 9-1-7-1-2 0 3-1 4-1-9 0 1-1-1 0 6-1-1 1 10 1 4 2-2 3-5 0 5 0 5 1-5 0 2 1-7 0 2 0 1 0 4 0 3 0 1 1-11 0 10 1-1 0 1 1-7 0 1 0 2 0 4 1-5 0 5 0 1 1-10 0 2 0 2 1-1 0 4 1 1 1-8 0 1 0 4 0 2 1-5 0 4 1-4 0 4 0 1 0 2 0 1 1-3 1-5 0 2 0 1 1-6 0 1 0 5 0 1 0 4 1-10 0 1 0 1 1 6 0 1 1-6 1-4 0 6 0 1 0 2 0 2 1-7 0 6 1-10 0 4 0 2 0 1 0 1 1-2 0 1 0 3 0 1 1-9 0 1 0 1 0 2 0 4 1-6 0 3 0 4 1-9 0 3 1 2 0 2 1-9 0 2 0 1 0 3 1-6 0 11 1-9 0 3 0 4 1-5 0 1 0 1 0 3 0 1 1-10 0 4 1-3 0 5 1-6 0 3 0 1 1-3 1 4 3-5 0 8 0 2 1-10 0 1 0 1 1 5 1-1 0 3 0 1 1-9 1 5 1-4 0 8 2-9 1 6 3-6 0 2 2-1 1 9 2-10 4 1 1 7 5-9 1 0 13 0 2 0-37 13-3-1 0 1-10 6-5-2-2 4-3-2-1-6 0 2-3-2 0 3 0 1-1-5 0 2-1 6-1-8 0 1-1 5-2-5 0 5-1-5 0 1 0 5-1-7 0 1 0 1 0 4-1-6-1 1 0 5-1-5 0 3-1-3 0 1 0 1 0 2-1-3 0 1 0 1 0 1 0 1-1-4 0 4-1-6 0 1 0 1 0 3 0 2 0 3-1-7 0 1 0 1 0 1 0 1-1-3 0 1-2-5 0 5 0 1-1 2-60 60"/><path d="M1233 267.5L1233 72.2" stroke="#bdbdbd" stroke-width="1.4" fill="none"/><path d="M1233 267.5L1428.5 356.6L1680.6 289.2" stroke="#6a6a6a" stroke-width="1.1" fill="none" stroke-dasharray="2.6 2.2"/><path d="M1233 267.5l-4.8 1.3M1233 228.9l-4.8 1.3M1233 190.3l-4.8 1.3M1233 151.7l-4.8 1.3M1233 113.1l-4.8 1.3M1233 74.5l-4.8 1.3M1428.5 356.6l-4.8 1.3M1379.6 334.3l-4.8 1.3M1330.8 312.1l-4.8 1.3M1281.9 289.8l-4.8 1.3M1233 267.5l-4.8 1.3M1428.5 356.6l4.5 2.1M1478.3 343.3l4.5 2.1M1528.2 330l4.5 2.1M1578 316.6l4.5 2.1M1627.8 303.3l4.5 2.1M1677.6 290l4.5 2.1" stroke="#666" stroke-width="1" fill="none"/><g font-family="Liberation Serif, serif" font-size="16.2" fill="#4a4a4a"><text x="1220.5" y="269.8" text-anchor="end">0</text><text x="1220.5" y="231.2" text-anchor="end">50</text><text x="1220.5" y="192.6" text-anchor="end">100</text><text x="1220.5" y="154" text-anchor="end">150</text><text x="1220.5" y="115.4" text-anchor="end">200</text><text x="1220.5" y="76.8" text-anchor="end">250</text><text x="1414.5" y="375.2" text-anchor="end">1</text><text x="1365.6" y="352.9" text-anchor="end">1.5</text><text x="1316.8" y="330.7" text-anchor="end">2</text><text x="1267.9" y="308.4" text-anchor="end">2.5</text><text x="1219" y="286.1" text-anchor="end">3</text><text x="1438.7" y="376.9">0</text><text x="1488.5" y="363.6">50</text><text x="1538.4" y="350.3">100</text><text x="1588.2" y="336.9">150</text><text x="1638" y="323.6">200</text><text x="1687.8" y="310.3">250</text></g><g font-family="Liberation Serif, serif" font-size="18.0" font-style="italic" fill="#444"><text transform="translate(1187.2 170.8) rotate(-90)" text-anchor="middle">Adjacent pixel value</text><text x="1296" y="377.6" text-anchor="middle">Direction</text><text x="1581.5" y="383.2" text-anchor="middle">Pixel value</text></g><path d="M257 926.8L58.9 835.7M58.9 835.7L58.9 640.1M307 913.3L108.9 822.2M108.9 822.2L108.9 626.6M357 899.8L158.9 808.6M158.9 808.6L158.9 613.1M407 886.2L208.9 795.1M208.9 795.1L208.9 599.6M457 872.7L258.9 781.6M258.9 781.6L258.9 586M507 859.2L308.9 768.1M308.9 768.1L308.9 572.5M257 926.8L510 858.4M207.5 904L460.5 835.6M460.5 835.6L460.5 640M157.9 881.2L410.9 812.8M108.4 858.5L361.4 790M361.4 790L361.4 594.5M58.9 835.7L311.9 767.3M311.9 767.3L311.9 571.7M58.9 835.7L311.9 767.3M510 858.4L311.9 767.3M58.9 797L311.9 728.6M510 819.7L311.9 728.6M58.9 758.4L311.9 690M510 781.1L311.9 690M58.9 719.7L311.9 651.3M510 742.4L311.9 651.3M58.9 681.1L311.9 612.7M510 703.8L311.9 612.7M58.9 642.4L311.9 574M510 665.1L311.9 574" stroke="#ededed" stroke-width="0.75" fill="none"/><path d="M58.9 835.7L311.9 767.3L311.9 571.7L58.9 640.1Z" fill="url(#py)"/><path d="M157.9 881.2L410.9 812.8L410.9 617.2L157.9 685.7Z" fill="url(#po)"/><path d="M257 926.8L510 858.4L510 662.8L257 731.2Z" fill="url(#pb)"/><path d="M58.9 835.7L58.9 640.1" stroke="#6c6c6c" stroke-width="1.4" fill="none"/><path d="M58.9 835.7L257 926.8L510 858.4" stroke="#6a6a6a" stroke-width="1.1" fill="none" stroke-dasharray="2.6 2.2"/><path d="M58.9 835.7l-4.8 1.3M58.9 797l-4.8 1.3M58.9 758.4l-4.8 1.3M58.9 719.7l-4.8 1.3M58.9 681.1l-4.8 1.3M58.9 642.4l-4.8 1.3M257 926.8l-4.8 1.3M207.5 904l-4.8 1.3M157.9 881.2l-4.8 1.3M108.4 858.5l-4.8 1.3M58.9 835.7l-4.8 1.3M257 926.8l4.5 2.1M307 913.3l4.5 2.1M357 899.8l4.5 2.1M407 886.2l4.5 2.1M457 872.7l4.5 2.1M507 859.2l4.5 2.1" stroke="#666" stroke-width="1" fill="none"/><g font-family="Liberation Serif, serif" font-size="16.2" fill="#4a4a4a"><text x="46.4" y="838" text-anchor="end">0</text><text x="46.4" y="799.3" text-anchor="end">50</text><text x="46.4" y="760.7" text-anchor="end">100</text><text x="46.4" y="722" text-anchor="end">150</text><text x="46.4" y="683.4" text-anchor="end">200</text><text x="46.4" y="644.7" text-anchor="end">250</text><text x="243" y="945.4" text-anchor="end">1</text><text x="193.5" y="922.6" text-anchor="end">1.5</text><text x="143.9" y="899.8" text-anchor="end">2</text><text x="94.4" y="877.1" text-anchor="end">2.5</text><text x="44.9" y="854.3" text-anchor="end">3</text><text x="267.2" y="947.1">0</text><text x="317.2" y="933.6">50</text><text x="367.2" y="920">100</text><text x="417.2" y="906.5">150</text><text x="467.2" y="893">200</text><text x="517.2" y="879.5">250</text></g><g font-family="Liberation Serif, serif" font-size="18.0" font-style="italic" fill="#444"><text transform="translate(13.1 738.9) rotate(-90)" text-anchor="middle">Adjacent pixel value</text><text x="123.2" y="946.8" text-anchor="middle">Direction</text><text x="410.4" y="952.9" text-anchor="middle">Pixel value</text></g><path d="M838.7 925.9L642.9 835.3M642.9 835.3L642.9 640.7M888.6 912.3L692.8 821.7M692.8 821.7L692.8 627.1M938.5 898.6L742.7 808M742.7 808L742.7 613.5M988.3 885L792.5 794.4M792.5 794.4L792.5 599.9M1038.2 871.4L842.4 780.8M842.4 780.8L842.4 586.2M1088.1 857.8L892.3 767.2M892.3 767.2L892.3 572.6M838.7 925.9L1091.1 857M789.8 903.2L1042.1 834.3M1042.1 834.3L1042.1 639.8M740.8 880.6L993.2 811.7M691.9 858L944.2 789M944.2 789L944.2 594.5M642.9 835.3L895.3 766.4M895.3 766.4L895.3 571.8M642.9 835.3L895.3 766.4M1091.1 857L895.3 766.4M642.9 796.8L895.3 727.9M1091.1 818.5L895.3 727.9M642.9 758.4L895.3 689.5M1091.1 780.1L895.3 689.5M642.9 719.9L895.3 651M1091.1 741.6L895.3 651M642.9 681.5L895.3 612.6M1091.1 703.2L895.3 612.6M642.9 643L895.3 574.1M1091.1 664.7L895.3 574.1" stroke="#ededed" stroke-width="0.75" fill="none"/><path d="M642.9 835.3L895.3 766.4L895.3 571.8L642.9 640.7Z" fill="url(#py)"/><path d="M740.8 880.6L993.2 811.7L993.2 617.1L740.8 686Z" fill="url(#po)"/><path d="M838.7 925.9L1091.1 857L1091.1 662.4L838.7 731.3Z" fill="url(#pb)"/><path d="M642.9 835.3L642.9 640.7" stroke="#c8c8c8" stroke-width="1.4" fill="none"/><path d="M642.9 835.3L838.7 925.9L1091.1 857" stroke="#6a6a6a" stroke-width="1.1" fill="none" stroke-dasharray="2.6 2.2"/><path d="M642.9 835.3l-4.8 1.3M642.9 796.8l-4.8 1.3M642.9 758.4l-4.8 1.3M642.9 719.9l-4.8 1.3M642.9 681.5l-4.8 1.3M642.9 643l-4.8 1.3M838.7 925.9l-4.8 1.3M789.8 903.2l-4.8 1.3M740.8 880.6l-4.8 1.3M691.9 858l-4.8 1.3M642.9 835.3l-4.8 1.3M838.7 925.9l4.5 2.1M888.6 912.3l4.5 2.1M938.5 898.6l4.5 2.1M988.3 885l4.5 2.1M1038.2 871.4l4.5 2.1M1088.1 857.8l4.5 2.1" stroke="#666" stroke-width="1" fill="none"/><g font-family="Liberation Serif, serif" font-size="16.2" fill="#4a4a4a"><text x="630.4" y="837.6" text-anchor="end">0</text><text x="630.4" y="799.1" text-anchor="end">50</text><text x="630.4" y="760.7" text-anchor="end">100</text><text x="630.4" y="722.2" text-anchor="end">150</text><text x="630.4" y="683.8" text-anchor="end">200</text><text x="630.4" y="645.3" text-anchor="end">250</text><text x="824.7" y="944.5" text-anchor="end">1</text><text x="775.8" y="921.8" text-anchor="end">1.5</text><text x="726.8" y="899.2" text-anchor="end">2</text><text x="677.9" y="876.5" text-anchor="end">2.5</text><text x="628.9" y="853.9" text-anchor="end">3</text><text x="848.9" y="946.2">0</text><text x="898.8" y="932.6">50</text><text x="948.7" y="918.9">100</text><text x="998.5" y="905.3">150</text><text x="1048.4" y="891.7">200</text><text x="1098.3" y="878.1">250</text></g><g font-family="Liberation Serif, serif" font-size="18.0" font-style="italic" fill="#444"><text transform="translate(597.1 739) rotate(-90)" text-anchor="middle">Adjacent pixel value</text><text x="706.1" y="946.1" text-anchor="middle">Direction</text><text x="991.8" y="951.7" text-anchor="middle">Pixel value</text></g><path d="M1425 926L1225.3 834.4M1225.3 834.4L1225.3 635.3M1475.8 912.4L1276.1 820.8M1276.1 820.8L1276.1 621.7M1526.7 898.8L1327 807.1M1327 807.1L1327 608M1577.5 885.1L1377.8 793.5M1377.8 793.5L1377.8 594.4M1628.3 871.5L1428.6 779.9M1428.6 779.9L1428.6 580.8M1679.1 857.9L1479.4 766.3M1479.4 766.3L1479.4 567.2M1425 926L1682.2 857.1M1375.1 903.1L1632.2 834.2M1632.2 834.2L1632.2 635M1325.2 880.2L1582.3 811.3M1275.2 857.3L1532.4 788.4M1532.4 788.4L1532.4 589.2M1225.3 834.4L1482.5 765.5M1482.5 765.5L1482.5 566.3M1225.3 834.4L1482.5 765.5M1682.2 857.1L1482.5 765.5M1225.3 795L1482.5 726.1M1682.2 817.7L1482.5 726.1M1225.3 755.7L1482.5 686.8M1682.2 778.4L1482.5 686.8M1225.3 716.3L1482.5 647.4M1682.2 739L1482.5 647.4M1225.3 677L1482.5 608.1M1682.2 699.7L1482.5 608.1M1225.3 637.6L1482.5 568.7M1682.2 660.3L1482.5 568.7" stroke="#ededed" stroke-width="0.75" fill="none"/><path d="M1225.3 834.4L1482.5 765.5L1482.5 566.3L1225.3 635.3Z" fill="url(#py)"/><path d="M1325.2 880.2L1582.3 811.3L1582.3 612.1L1325.2 681.1Z" fill="url(#po)"/><path d="M1425 926L1682.2 857.1L1682.2 657.9L1425 726.9Z" fill="url(#pb)"/><path d="M1225.3 834.4L1225.3 635.3" stroke="#4a4a4a" stroke-width="1.4" fill="none"/><path d="M1225.3 834.4L1425 926L1682.2 857.1" stroke="#6a6a6a" stroke-width="1.1" fill="none" stroke-dasharray="2.6 2.2"/><path d="M1225.3 834.4l-4.8 1.3M1225.3 795l-4.8 1.3M1225.3 755.7l-4.8 1.3M1225.3 716.3l-4.8 1.3M1225.3 677l-4.8 1.3M1225.3 637.6l-4.8 1.3M1425 926l-4.8 1.3M1375.1 903.1l-4.8 1.3M1325.2 880.2l-4.8 1.3M1275.2 857.3l-4.8 1.3M1225.3 834.4l-4.8 1.3M1425 926l4.5 2.1M1475.8 912.4l4.5 2.1M1526.7 898.8l4.5 2.1M1577.5 885.1l4.5 2.1M1628.3 871.5l4.5 2.1M1679.1 857.9l4.5 2.1" stroke="#666" stroke-width="1" fill="none"/><g font-family="Liberation Serif, serif" font-size="16.2" fill="#4a4a4a"><text x="1212.8" y="836.7" text-anchor="end">0</text><text x="1212.8" y="797.3" text-anchor="end">50</text><text x="1212.8" y="758" text-anchor="end">100</text><text x="1212.8" y="718.6" text-anchor="end">150</text><text x="1212.8" y="679.3" text-anchor="end">200</text><text x="1212.8" y="639.9" text-anchor="end">250</text><text x="1411" y="944.6" text-anchor="end">1</text><text x="1361.1" y="921.7" text-anchor="end">1.5</text><text x="1311.2" y="898.8" text-anchor="end">2</text><text x="1261.2" y="875.9" text-anchor="end">2.5</text><text x="1211.3" y="853" text-anchor="end">3</text><text x="1435.2" y="946.3">0</text><text x="1486" y="932.7">50</text><text x="1536.9" y="919">100</text><text x="1587.7" y="905.4">150</text><text x="1638.5" y="891.8">200</text><text x="1689.3" y="878.2">250</text></g><g font-family="Liberation Serif, serif" font-size="18.0" font-style="italic" fill="#444"><text transform="translate(1179.5 735.8) rotate(-90)" text-anchor="middle">Adjacent pixel value</text><text x="1290.5" y="945.7" text-anchor="middle">Direction</text><text x="1580.5" y="951.8" text-anchor="middle">Pixel value</text></g><g font-family="Liberation Serif, serif" font-size="38.8" fill="#000"><text x="290.7" y="466.4" text-anchor="middle">(a) Pepper</text><text x="893.1" y="466.2" text-anchor="middle">(b) Barbara</text><text x="1441.1" y="466.4" text-anchor="middle">(c)<tspan dx="4.5"> Airport</tspan></text><text x="308.8" y="1032.9" text-anchor="middle">(d) Pepper</text><text x="893.4" y="1032.9" text-anchor="middle">(e)Barbara</text><text x="1414.3" y="1032.9" text-anchor="middle">(f)<tspan dx="4.5"> Airport</tspan></text></g></svg></body></html>
